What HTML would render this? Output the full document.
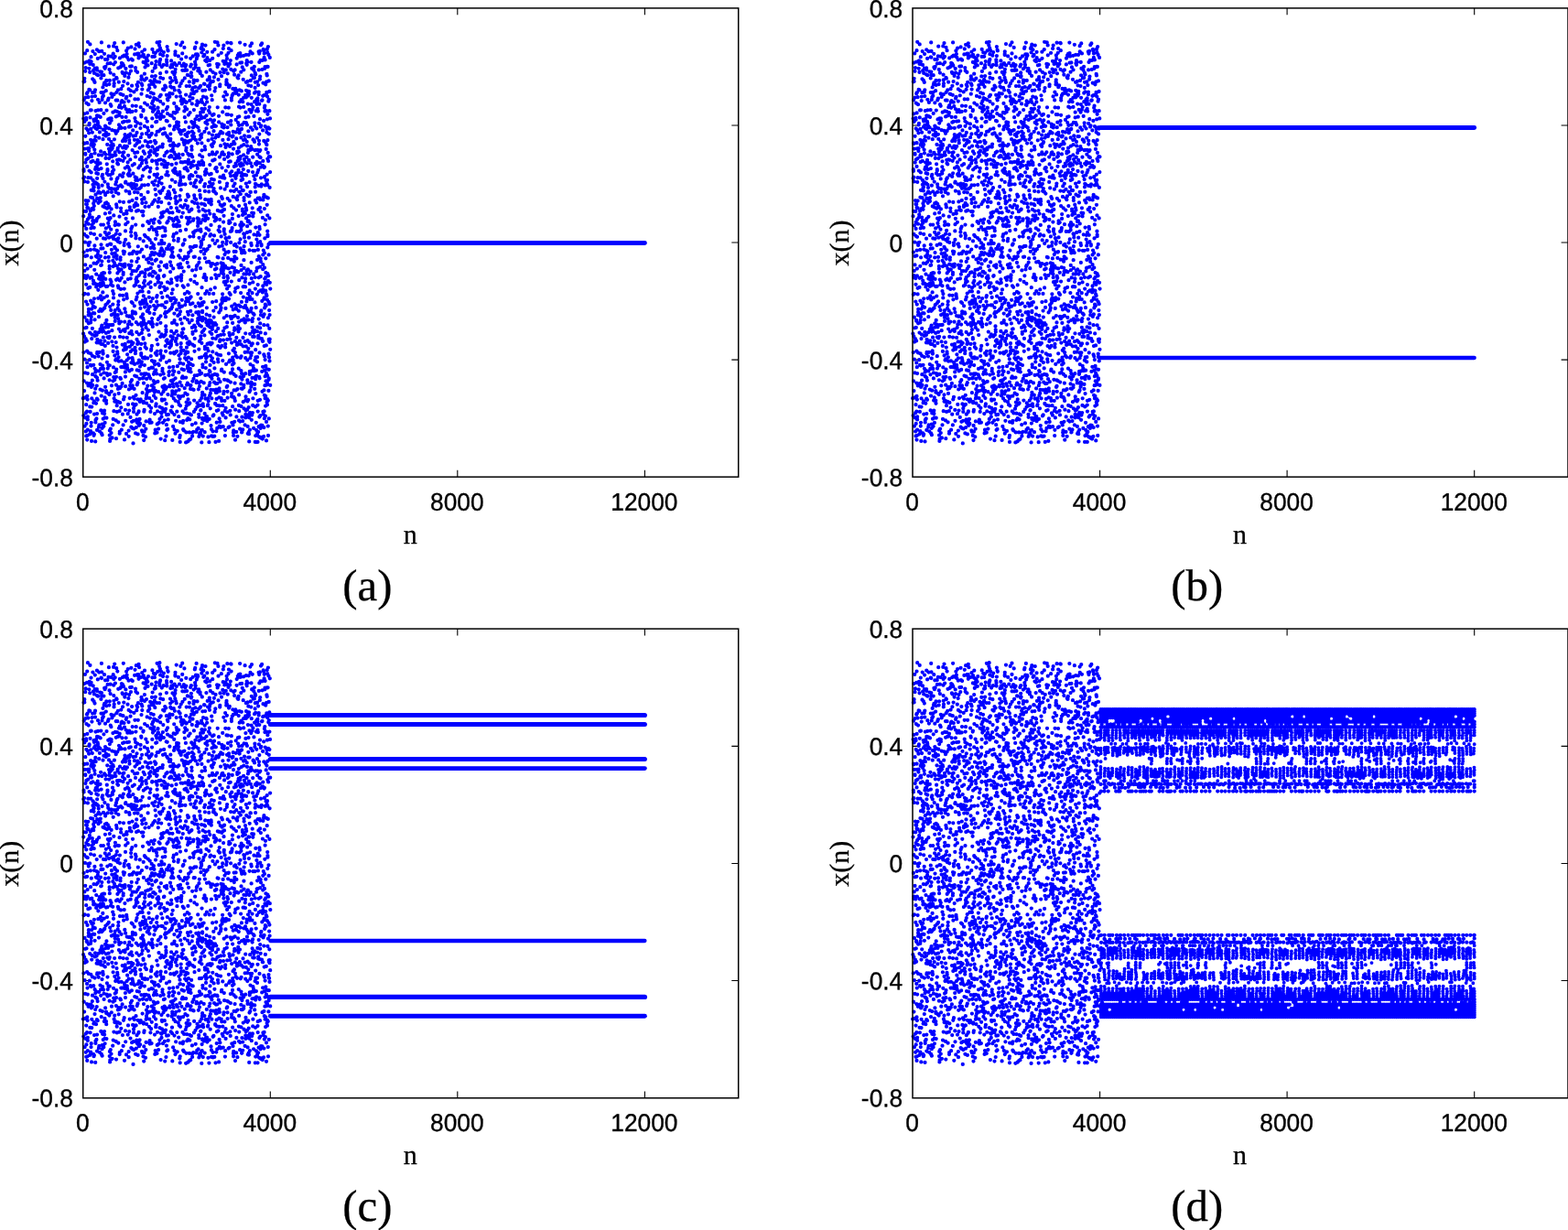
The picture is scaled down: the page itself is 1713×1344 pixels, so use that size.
<!DOCTYPE html>
<html lang="en">
<head>
<meta charset="utf-8">
<title>Chaos control time series</title>
<style>
html,body{margin:0;padding:0;background:#fff;}
body{width:1713px;height:1344px;overflow:hidden;}
svg{display:block;}
text{text-rendering:geometricPrecision;}
.d{fill:none;stroke:#0000ff;stroke-width:4.25;stroke-linecap:round;}
.l{fill:none;stroke:#0000ff;stroke-linecap:round;}
.ax{fill:none;stroke:#000;stroke-width:1.5;}
.tk{fill:none;stroke:#000;stroke-width:1.1;}
.t{font-family:"Liberation Sans",sans-serif;font-size:26.3px;fill:#000;stroke:#000;stroke-width:.35px;}
.s{font-family:"Liberation Serif",serif;font-size:30px;fill:#000;stroke:#000;stroke-width:.3px;}
.c{font-family:"Liberation Serif",serif;font-size:48.8px;fill:#000;stroke:#000;stroke-width:.3px;}
</style>
</head>
<body>
<svg width="1713" height="1344" viewBox="0 0 1713 1344">
<rect x="0" y="0" width="1713" height="1344" fill="#fff"/>
<path class="tk" d="M295.3 521.1v-7.4M295.3 8.9v7.4M499.8 521.1v-7.4M499.8 8.9v7.4M704.4 521.1v-7.4M704.4 8.9v7.4M90.7 137.0h7.4M806.7 137.0h-7.4M90.7 265.0h7.4M806.7 265.0h-7.4M90.7 393.1h7.4M806.7 393.1h-7.4"/>
<path class="d" d="M90.8 435.2h0m.3-70.6h0m.1-128.4h0m.1 217.9h0m0-259.3h0m0-65.3h0m.1 255.5h0m.1-63.2h0m0-232.5h0m0 95.9h0m.1 1.8h0m0 88.6h0m.1 140.7h0m0-307h0m0 47h0m.1 74.5h0m.2-106.3h0m0 69.1h0m0-36.7h0m0 210.4h0m.1-111.5h0m0 171.3h0m0-358.4h0m.1 232.5h0m0 2.3h0m0-105h0m.1-112.7h0m0 47.2h0m0-43.9h0m.1 206.9h0m.1-133.4h0m.1 158.3h0m0 144.8h0m0-119.1h0m0 46.1h0m.1-19.1h0m0-127.1h0m.2 18.1h0m0-206.2h0m.1 299.9h0m.1 76h0m0-26.8h0m.1-239.7h0m0 121.7h0m0-9.6h0m0 176.5h0m0-378.6h0m.1 90.9h0m0-19.9h0m.1-42.2h0m0 71h0m.1 256.7h0m.1-360.2h0m0 296h0m.1-151h0m.1 232.1h0m0 20.2h0m.2-141.8h0m0-98.7h0m.1-7.8h0m0-94.1h0m0 175.1h0m.1 138.1h0m0-184.4h0m0 218.6h0m0-165.6h0m.1-68.1h0m0 7.2h0m0-119.2h0m.1 43.8h0m0-34.1h0m0 322.6h0m.1-105.1h0m0-245.2h0m.3 238h0m0-.9h0m0 22.6h0m.1-149.2h0m0-155.6h0m0 34.6h0m.1 347.5h0m0-31.1h0m0-22.2h0m0-240.2h0m.1 227.5h0m0-104.3h0m.1 153.6h0m0-251h0m0-126.8h0m0 425.4h0m.1-253.6h0m0-103.5h0m0 32.7h0m.1 117.5h0m.1 58.9h0m0 143.2h0m0-74.6h0m.1-107.6h0m0-192.5h0m0 200.2h0m0 135.3h0m.1-177.8h0m0-96.4h0m.1 245.7h0m0-168.3h0m0 218.6h0m0 11.3h0m0-14.3h0m.1-313.2h0m0-96.4h0m0 153.2h0m.3 66.6h0m.1 55.9h0m0-6.7h0m0-141.7h0m0 21.1h0m0-88h0m0 113.2h0m.1 8.1h0m.1 193.9h0m.1-176.7h0m0 99.6h0m.1-230.1h0m0 271.3h0m.1-117.5h0m0 73h0m0 12.3h0m.1-15.5h0m.2-172.7h0m0-19.8h0m.1 92.6h0m.1-75.7h0m0-64.3h0m.1 38.6h0m0-61.7h0m.1 111.8h0m.1-51.6h0m.1-68.5h0m.2 167.9h0m0 158.8h0m.2 81.3h0m0-209.7h0m.1 98.8h0m0-265.3h0m0 215.7h0m0-235.1h0m.1 365.5h0m0-374.5h0m0 349.3h0m.1-115.4h0m0-255.4h0m.1 80h0m.1 321.5h0m.2-219.5h0m0-110h0m0 278.4h0m.1-125.9h0m.1 79.6h0m0-61.7h0m0-120.7h0m.1 301.7h0m0-143.2h0m0-113h0m0 255.6h0m0-216.3h0m0-102.1h0m.1-11.8h0m0 53.3h0m.1 192.1h0m.1-36.4h0m0-173h0m0-18.7h0m0 260.7h0m0-169.5h0m.1-187.3h0m0 403.4h0m.1-122.3h0m0-276h0m0 121.2h0m.1 273.3h0m0-115.5h0m0-226h0m0 48.7h0m0 38.8h0m0 191.8h0m.1 23.3h0m0-141.6h0m.1-110.1h0m.1 310.8h0m.2-111.9h0m0 74.5h0m0-106.9h0m0-181.5h0m.1 146.8h0m0 132.4h0m.1-104.3h0m0-221h0m.1 43.8h0m0 91.9h0m0-140.2h0m.1 260h0m0-137.7h0m.2-83.2h0m0 271h0m0-178.1h0m.1 151.3h0m0-30h0m.1 50.3h0m.1-308h0m.1 319.8h0m0-204.9h0m0-129.8h0m.1 154.9h0m.1-185.1h0m.1 99.3h0m0 20.6h0m0 25.8h0m.1-4.8h0m.1 137.7h0m0-263.7h0m.1 271.1h0m0-181.6h0m.1-83.4h0m0 166.6h0m0 62.9h0m0 23.8h0m.1 143h0m.1-251.1h0m0 87.6h0m.1 88.9h0m0-193.7h0m0 23.7h0m.1 211.4h0m.1-309.6h0m.1 345.2h0m0-188.1h0m0-46.3h0m0-33h0m.1-120.5h0m.1 160.9h0m0-44.4h0m0-65.7h0m.1 86.4h0m0-67.1h0m0 280.4h0m.1-239.1h0m0 275.3h0m0-342.1h0m0 193.8h0m0-70.4h0m0-175.9h0m.1 192.6h0m0 180h0m.1-233.2h0m.1 75.4h0m0 47.7h0m.1-178.9h0m0-10.8h0m.1 115.7h0m0-167.8h0m.1 328.8h0m0-339.5h0m0 277h0m.1-17.7h0m0 40.8h0m0 12.7h0m0-328.1h0m0 92.7h0m.1 142.2h0m.1 26.2h0m0-276.7h0m.2 39.2h0m0 264.6h0m0-257.8h0m0 31.7h0m.1 48.2h0m0 56.5h0m.1 183.2h0m0 57.8h0m0-283h0m.1 207.2h0m0 4.4h0m0-261.7h0m0 70.1h0m.1 241.9h0m.1-340.3h0m0 337.9h0m0-246.3h0m.1-59h0m.1 46.9h0m0-17.8h0m0 228.7h0m.1-6.9h0m0-124.5h0m.1-139.7h0m.1-10.7h0m0 311.1h0m0-263.1h0m.1 135.8h0m.1-25.6h0m0 11.8h0m.1-110.5h0m0 52.4h0m.1 215.9h0m.2-83.2h0m0-100.7h0m0 92.5h0m.1 55.5h0m0-160.9h0m.1-186.2h0m0 125.9h0m0-119h0m0 100.6h0m.1-40.9h0m0-86.8h0m0 226.5h0m0 154.9h0m.1-309.2h0m0 343.5h0m0-393.4h0m0 375.5h0m0-39.3h0m0-173.7h0m.1-44.2h0m0 191.4h0m0-169.7h0m.1 168.4h0m.1-14.2h0m.2-194.4h0m.1 239.3h0m.1-240.7h0m0-42.1h0m0 303.9h0m.1-372.8h0m0 246.9h0m0-24.6h0m0-106.6h0m0 98.1h0m.2-143.2h0m0-25.8h0m0-26.6h0m0 107.8h0m.1 84.6h0m0-154.3h0m0 254.2h0m.1-172.5h0m0 8.6h0m.1 115.2h0m0-9h0m.2-95h0m.1-36.6h0m.1 204.1h0m0-184.3h0m.1-35.6h0m0-42.5h0m0 10.8h0m0 71.8h0m.1 257.2h0m0-103.5h0m.1-17h0m.1-109.4h0m0 67.8h0m0 35.5h0m0 65.4h0m.1-349.3h0m0 94.5h0m.1 133h0m0 180.7h0m.2-246.1h0m0 166.6h0m.1-272.9h0m.1 189.7h0m.2-157.3h0m.1 327.1h0m.3-332.2h0m.1-61h0m.1 319.8h0m0-38.3h0m0-46.9h0m0 112.7h0m0-247.1h0m.1 78.6h0m.1 52.4h0m0-98.5h0m0 126.8h0m0-209.8h0m0 91.8h0m.1-3.6h0m.1 156.1h0m.1-92.2h0m0 122.8h0m0-79.4h0m.1-158.1h0m.1 124.5h0m0 15.4h0m0 104h0m.1-163.7h0m0 202.8h0m0-72.6h0m0-255.6h0m.1-34.7h0m0 186.1h0m.1-170.5h0m0 166.2h0m0-205h0m.1 121.8h0m.1 248.5h0m.1 40.9h0m0-183.8h0m.1 67.8h0m0-311h0m.1 293.3h0m0-277.1h0m0 264.8h0m0-248.9h0m.1 3.4h0m.1-26.1h0m0 243.1h0m.1 56.7h0m0-186.1h0m0 142.4h0m0-26.4h0m.2 178.1h0m0-271.1h0m0-83.6h0m0 282.6h0m.1-188.9h0m0 272.5h0m0-7.4h0m.1-157.3h0m0 52.1h0m.2 64.1h0m.1-320.7h0m0 84.8h0m0 114.4h0m0 94.4h0m0 51.8h0m.1-112.7h0m0-36.1h0m.1 73.6h0m.1-17.1h0m0-39.6h0m0 64h0m.1-112.1h0m0-176h0m.1 130h0m0-30.5h0m0-42.7h0m.1-10.5h0m0 160.7h0m0 83.5h0m0 .7h0m.1-77.6h0m0 148.7h0m.1-89h0m.1-70.5h0m0-193.5h0m0 140.9h0m.1-36.3h0m0 51.2h0m0 142.5h0m.1-302h0m0 260.8h0m.1-50.6h0m.1 154.6h0m0-318.4h0m.1-65.2h0m0 41.7h0m.2 289.5h0m0-6.1h0m0-315.1h0m.1 244.8h0m0-11.7h0m.1 112.3h0m.2-139.3h0m0-239.5h0m0 389.9h0m.1 3.4h0m0-378.7h0m0 93.5h0m0-76.4h0m.1 51.4h0m.1 194.5h0m.1-110h0m0 230h0m0-83.8h0m0-174h0m.1 235.9h0m.1-359.7h0m0 387.1h0m.2-83.9h0m0-124.2h0m.1-31.6h0m0 11.2h0m0 48h0m.1-169.1h0m0-47.4h0m0 146.4h0m0-73.6h0m0 215.8h0m.1-140.4h0m0 209.7h0m.1-162h0m0 15.3h0m.1 28.8h0m0-164.7h0m0 217.4h0m.1-24.4h0m0-260.2h0m.1 99.9h0m0-4.1h0m0-29.9h0m.3 9.7h0m0 100.8h0m0-150.2h0m.1 45.8h0m0 168.1h0m0 50.8h0m.1 63.2h0m0 10.6h0m.1-9h0m0-340.1h0m.1-.6h0m0 352.8h0m.2-347.9h0m0 128.5h0m0 128.6h0m0 106.7h0m.1-336.1h0m.1 136.2h0m0-117.4h0m.1 268.8h0m0-218.7h0m.1 165h0m0-175.2h0m.1 216.5h0m.1-168.1h0m0 95.9h0m.2-165.7h0m.1 110.1h0m.1 142.1h0m0-345.3h0m0 248h0m.1-127.6h0m0 183.1h0m0 20.9h0m0-202.7h0m.1 144.6h0m0-261.6h0m.1 333.1h0m.1-201.3h0m0 37.4h0m0-28.8h0m.1 13h0m.1-113.5h0m.1 265.5h0m0-17.5h0m0-130.6h0m.1-22.5h0m0 39.6h0m0-52.8h0m0-60.7h0m.1 299.4h0m.1-30.9h0m.1-337.4h0m.1 46.2h0m0 39.1h0m.1 134.2h0m0 82h0m0-77.7h0m.1 44.1h0m.1-278.7h0m.1 89.6h0m0 229.1h0m0-206.7h0m0-10.7h0m.1 107.7h0m0-19.5h0m0 7.5h0m0-74.6h0m.1 81.7h0m.1-29.1h0m.1 205.4h0m0-339h0m0 113.9h0m.1-37.2h0m0-92.8h0m.1 217.7h0m0-2.7h0m0 124.3h0m.1 60.3h0m0-309.8h0m.1 202h0m0 31.5h0m0-101.5h0m0-65.3h0m0-144.6h0m0 267.3h0m.1-220.6h0m0 335.9h0m.1-61.5h0m.1 73h0m.1-352.7h0m0 137.3h0m0 68.5h0m.1 144.8h0m.2-174.3h0m0-114.5h0m.1-121.9h0m0 169h0m0-158.6h0m.1 34.6h0m.1 354.4h0m.3-157.5h0m0-152h0m.1 179.8h0m0-72h0m0-16.2h0m0-44.6h0m.1-144.4h0m.1 93.1h0m0-39h0m0 79.6h0m.1 112.5h0m0-205.5h0m0 370.7h0m.1-341.4h0m0 96.7h0m0-98.9h0m.1 33.9h0m.1 191.8h0m0 72.6h0m0-83.7h0m.1-134.1h0m0-3.9h0m0 66.7h0m.1 148.5h0m0-251.7h0m.1 89.2h0m.1-87.6h0m.1 105.9h0m0 96.2h0m.1-267.3h0m0 255.2h0m0-219h0m.2 336.2h0m.1-316.3h0m.1 25.6h0m.2-5.4h0m0-23.1h0m0 30.4h0m.2 274.7h0m0-288h0m0 141.8h0m0-5.8h0m.1 42.6h0m0-22.3h0m0-47.8h0m.1-162.1h0m.1 293.6h0m0-258.5h0m0 220.1h0m.1-86.8h0m0 92.8h0m.1 74.1h0m0-399.3h0m0 155.6h0m.1-55.3h0m.1 10.9h0m0 173.3h0m.1 58.2h0m0-140.4h0m0-210.6h0m0 275h0m.1-4.3h0m.1 91h0m0-341.8h0m0 115.4h0m.1 49.7h0m0-153.7h0m0-18.1h0m0 194.2h0m.1 191.4h0m0-361.8h0m0 193.3h0m.1-186.7h0m0 9.2h0m.1 332.1h0m.1-344.1h0m.2 196h0m0-134.9h0m.1 54.3h0m.1 162h0m.1 62.7h0m0-87.5h0m0-200.9h0m0-95.8h0m0 222.7h0m.1 118.6h0m0-46.1h0m0 96.4h0m0-23.8h0m.3-68h0m0-100.8h0m.1 161h0m0-56.2h0m0-74.2h0m0 62.5h0m0-172.8h0m0-104.6h0m.1 228.1h0m.1-47.5h0m0-121h0m0-53.3h0m.1 203.4h0m.2 122.1h0m.1-192.1h0m.1-31.9h0m.1 268.2h0m0-227.9h0m.2 164.2h0m0-264.5h0m0 349.8h0m0-313.6h0m.1 109.8h0m0 6.4h0m0-134.6h0m0 278.8h0m.1 14.5h0m0-28.4h0m.1 19.5h0m0-213h0m0 107h0m0 173.4h0m.1-255.8h0m.1-138.4h0m0-33.2h0m0 351.8h0m.2-302.8h0m.1 278.8h0m0-153.7h0m0 56.9h0m.1-56.3h0m0-140.8h0m0 193.6h0m.1 163.9h0m0-247.4h0m.1 197.5h0m0-141.4h0m0 198.1h0m0-10.6h0m.1-317.6h0m0 168.8h0m.1-115.8h0m0 98.5h0m0-67.1h0m.2-27.8h0m0 206.1h0m.1-241.3h0m0-33.5h0m0-54.5h0m.1 249.4h0m0-6.1h0m0 88h0m.1-192.1h0m0-30.8h0m.2-1.6h0m0 182.2h0m0-80.4h0m0 73.1h0m.1-91.5h0m.1-147h0m0 340.4h0m0-13.8h0m0-112.5h0m0-186h0m.1 52.9h0m.1 114.2h0m.1 39.5h0m0 15.1h0m0-87.7h0m0-186.2h0m.1 387h0m.1-249.6h0m0 117.7h0m0-14.9h0m.2-110.8h0m0 186.6h0m0 32.5h0m.1 7.1h0m.1-340.2h0m.1 305h0m0-35.1h0m0-113.9h0m.1 50.5h0m0-121.8h0m0-57.2h0m0 19.2h0m.1 214.9h0m.1-211h0m.1-14.5h0m0 227.7h0m.1-14h0m0-173.2h0m.1 70.4h0m.1 212.5h0m.1-326h0m0 350.5h0m.1-253.4h0m0 86.1h0m0 165.3h0m.1-356.6h0m0 141h0m0-192.7h0m.1 304.6h0m0-79.4h0m0 34h0m0-57.7h0m0-105.8h0m.1 265h0m0-232.8h0m0 248.6h0m.1-27.1h0m0-274.5h0m.1 36.5h0m.1-72.2h0m.1-29.2h0m0 210.6h0m.1-2.7h0m0 81h0m.3 51.7h0m.1-98h0m0 35.6h0m0-149.1h0m.1-99.6h0m0 124.7h0m0 3.5h0m.2-158.8h0m0 328.8h0m0 44.2h0m0-348.1h0m.2 14.5h0m0 310.6h0m0-127.9h0m.1 48h0m0 52h0m.1-254.6h0m0 164h0m.1-186h0m0 351.9h0m.1-400.9h0m.3 41.4h0m.1 179.6h0m.1-161.9h0m.1 76.2h0m.1-125.1h0m0 340h0m.1-42.4h0m.2-222.4h0m0 247h0m0-208.3h0m0 259.8h0m.1-319h0m0-53.8h0m0 90.5h0m0 119.1h0m0-227.8h0m.1 8.1h0m0 24h0m.1 67.6h0m0 161.4h0m.1-155.9h0m.1 8.9h0m.1-72h0m.1 196.1h0m0 164.6h0m0-103.9h0m.1 8h0m0-93.9h0m0 23.2h0m.1-108.6h0m0-142.9h0m.1 106.4h0m.1 283.6h0m0-53.8h0m0-310.9h0m0 149.2h0m.1 106.4h0m.1-93.3h0m.1 43.4h0m0-111.1h0m0-77.2h0m.1 43.9h0m.1-72.4h0m0 51.1h0m.1 156.4h0m.1 127.7h0m0-104.2h0m0 24h0m0 118.2h0m0-168.5h0m.3 9.9h0m0-159.1h0m0 364.3h0m.1-329.6h0m0 8.9h0m.1 192h0m0-179.1h0m.1-89.6h0m0 314.9h0m0-246.2h0m0 185.8h0m.1-29h0m0 71.2h0m0-88.7h0m.1-2.3h0m0 73.2h0m0-214.7h0m0-7.2h0m.1 261.7h0m0-41.8h0m.1 16.1h0m0-192.4h0m.1-122.4h0m.1 345.3h0m.1 5.1h0m0-159.1h0m0-52.8h0m0 248.2h0m.1-185.9h0m0 160.2h0m0-268.3h0m0 187.3h0m.1 118.6h0m0-214.6h0m.1-46.6h0m.1-123.6h0m.1 86.9h0m.1 46.8h0m0-80.8h0m0-8.8h0m0 119.7h0m.1 142.8h0m0-302.1h0m0 28h0m.3 366.5h0m.1-241.1h0m0-177.5h0m.1 266.1h0m.1-90.8h0m0-124.8h0m.1 44.2h0m0 229.5h0m0-56.1h0m.1-90.2h0m.1 160.3h0m0-334.5h0m.1 286h0m.1 23.9h0m0-43.2h0m0 73.1h0m.1-238.9h0m0-27.4h0m.2 254.7h0m0 14.5h0m0-339h0m.1 119.2h0m.1-59.7h0m0 280.8h0m.1-45.2h0m.1-266.6h0m.1 86.1h0m0 65.4h0m.1-190.1h0m0 399.5h0m.1-147.1h0m0-114.5h0m.1 76.2h0m.1 175.2h0m0-87.6h0m.1-184.6h0m.1 31.6h0m.1 172.1h0m.1-288.8h0m.1-19.4h0m0 126.5h0m0-8.7h0m0-72.5h0m.1 360h0m0-322.9h0m0-50.2h0m.1 379.3h0m0-210.3h0m0 124.8h0m0-101.6h0m.1-100.2h0m.1-57.2h0m0 293.1h0m0-79.6h0m.1-207.1h0m.1 81.8h0m.1 228.1h0m0-367.9h0m0 39.5h0m0 89.4h0m0-60.5h0m.1 4h0m0 198.2h0m0 12.9h0m.1 41.3h0m0-135.9h0m.1-58.1h0m0 66h0m0 67.9h0m0-189.2h0m.1 29.8h0m.1-47.9h0m0 297h0m.1-208.8h0m0 152.5h0m.1-85.7h0m.1-63.8h0m.1 191.9h0m0-348.6h0m.1 119.2h0m.1-17.4h0m.1-52.1h0m0 24.1h0m.1 309.6h0m0-351.7h0m.2 279.9h0m0-285.1h0m0 205.2h0m.1 113h0m0-279.4h0m.2-60.3h0m.1 176.1h0m.2-50.3h0m0 263.3h0m0-415.3h0m.1 344.9h0m0-195.7h0m0 49.3h0m0 123.5h0m0-83.2h0m0-32.4h0m.1 104.1h0m0-132h0m.1-165.3h0m0 359.3h0m0-124.2h0m.1-14.2h0m0 44.6h0m.1-257.6h0m0 282.1h0m.1 49.3h0m.1 11.3h0m.1-321.5h0m0 282.8h0m0 84.3h0m.1-114.1h0m.1-99h0m.1 29.5h0m0-155.2h0m.1 269.1h0m0-25.6h0m0 16.8h0m0-105.9h0m0-57.4h0m.1 77.2h0m0-90.4h0m0-41.7h0m0 303.7h0m.1-46.4h0m0-305.7h0m0 215.4h0m0-150.5h0m.1-114.9h0m0 274.8h0m0 2.3h0m.1 50.2h0m.1-154.6h0m.1 203h0m.1-298.9h0m.1 252.5h0m0-46.9h0m.1 26.7h0m0-185.1h0m.1 294.8h0m.1-335.8h0m0 285.2h0m.2-37h0m0 62.9h0m.2-13.6h0m0-171.6h0m0 175.4h0m.1-153.9h0m0 172.4h0m.2-267.4h0m.1-100.6h0m.2 324.5h0m0-112.5h0m0-86.6h0m.1-1.4h0m0 211.2h0m.1-101.4h0m0 109.1h0m0-264.2h0m.1 30.9h0m0-57.3h0m.2-93.3h0m0 338.4h0m.1 12.7h0m0-208h0m0-35.6h0m.1 38.7h0m.1-76.5h0m0-20.8h0m.1 271.4h0m0-220.6h0m0-105.8h0m.1 140h0m.1 148.1h0m.2-86.4h0m0 131.1h0m.1-214.7h0m0-97.4h0m.1 309.3h0m0-250.8h0m0 210h0m0 130.8h0m.1-162.2h0m0-173.4h0m0 10.3h0m0 97.5h0m.1-48.7h0m0 27.6h0m.1-2.5h0m0-144.7h0m0 183h0m0-139.2h0m.1 310.7h0m.1-126.5h0m0 136.7h0m0-184.6h0m.1-141.6h0m0 211.6h0m.1-278.6h0m0 418.3h0m0-171h0m0 12.4h0m0 43.7h0m.1-47h0m0-98.9h0m.1 24.4h0m.1-28.5h0m.1 14.7h0m.1-22.6h0m0 217.1h0m0 46.9h0m0-360.5h0m0 265.2h0m.1-59.9h0m0-17.2h0m0-9h0m.1 175.8h0m0-360.1h0m0 232.1h0m0 46.2h0m0-226h0m0 11.9h0m.1 304.4h0m.1-40.7h0m0-16h0m.1-128.8h0m.3-196.8h0m0-20.2h0m.1 317.2h0m0-209.4h0m0-72.3h0m0 130h0m.1-71h0m0 43.7h0m0-62.6h0m.1 328.1h0m0-154.8h0m0 13h0m.1-110.3h0m0 83.3h0m0 103.1h0m0 21.5h0m.1 18.2h0m0 38.1h0m.2-366.1h0m0 265.3h0m0-104.4h0m.1-209.4h0m0 294.5h0m0-264.6h0m0 192.6h0m.1-52.6h0m.3 220.6h0m.1-267h0m0-124.8h0m.1-11.3h0m0 16.1h0m.1 386.1h0m0 10.5h0m.3-54.9h0m0-113.9h0m0 9.6h0m0 92.8h0m0-28.2h0m.1 99.4h0m.1-258.6h0m0-155.4h0m.2 104.2h0m0 157.8h0m.1 101.2h0m.2 43.9h0m0-296.3h0m.2 12.6h0m0 101.2h0m0-14.5h0m.1 178.1h0m.1-38.4h0m0-70.1h0m0-149.3h0m.1 281.7h0m.1-144.5h0m0 62.8h0m.2-44.3h0m0-196.8h0m.1 192.4h0m.1-197h0m.1 301h0m0-319.3h0m.1 33h0m0 45.9h0m0 101.8h0m.1-93.1h0m.2 141.7h0m.1-220.5h0m0 87h0m0 173.2h0m0 1.9h0m0-12.2h0m.1-22.9h0m0 43.1h0m0-309.3h0m.1 40.6h0m0-65.9h0m0 347.2h0m.1-306h0m0 295.8h0m0-315h0m.1 7.8h0m.1 139.8h0m0-59.3h0m.1 192.1h0m0 31.6h0m0-39.4h0m.1-177.6h0m.1 291.8h0m0-197.7h0m.1-54.5h0m0-71.7h0m0 200.2h0m.1-290h0m0 145.9h0m.1 19.4h0m0-124.3h0m0-4.5h0m.1 204.3h0m.1 174.3h0m.1-42.5h0m0-69h0m0-45.8h0m0-138.9h0m0 143h0m0-232.1h0m.1 106h0m.1 198.4h0m0-231.2h0m0 168.8h0m.1 85h0m.1-167h0m.1 101.2h0m0-4.1h0m.2-108.1h0m.1 177.6h0m0-181.9h0m0-109.9h0m0 210.5h0m.1 144.3h0m0-106.8h0m.1-249h0m0 250.2h0m0-302.5h0m.1 195.6h0m0-98.1h0m.1 184h0m0-289.6h0m0 380.4h0m0-116.7h0m0-138.2h0m.1 95.1h0m0 110.9h0m0 47.6h0m.1-129.8h0m0 109.6h0m0-67.3h0m.2 129.7h0m.1-31.4h0m0 15.2h0m.1-248.8h0m.1 138h0m.1 93.8h0m0-230.7h0m0 254.5h0m.1-63.2h0m.2-270.5h0m0 118.8h0m0-176.1h0m0-18.3h0m0 336.7h0m0 10.6h0m.1-207.4h0m0-34.5h0m0-113.5h0m0 33.3h0m0 219.3h0m.1-194.3h0m0 223h0m.1-33.3h0m0 10h0m.1 78.2h0m0-15.2h0m.1-76.4h0m.1-72.9h0m0-152.6h0m0 318.2h0m.1-12.4h0m.1-225h0m.3 323.1h0m0-293.9h0m0 143.5h0m0 2.7h0m0-71.3h0m.1-189h0m.1 225.7h0m.1 173.7h0m0-339.4h0m.1 92.2h0m.1 132.6h0m0-179.6h0m0 183.4h0m.1 102.6h0m0-25.1h0m.1-27h0m.1-342.2h0m.1 314.6h0m0-203.1h0m0-31.7h0m.1-60.3h0m0 345.8h0m0-6.3h0m.1-156.1h0m0 171.5h0m0-26.6h0m.1 20h0m0-150.6h0m0 150.2h0m.1-369.8h0m.1 268.7h0m0-63.2h0m.3-164.3h0m0 234.9h0m.1-157.7h0m0 246.7h0m0-296.2h0m.1 26.8h0m.1-44.9h0m.1 25h0m.1 251.8h0m.1-149.2h0m0-175.7h0m0 355.2h0m.2-350.2h0m.1 138.5h0m.1 50.1h0m.1-104.5h0m0-57.1h0m.1 195.8h0m0 66.4h0m0-158.8h0m.1-141.3h0m.1 277.6h0m0-195.3h0m0 167.4h0m.2-149.9h0m0 11.1h0m.1 164.3h0m0 73.5h0m0-261.4h0m.1 139h0m0 32.3h0m.2 32.8h0m0-126.3h0m0 56.6h0m0 120.6h0m.1-158.9h0m.1 56.6h0m0 65.5h0m0-41.3h0m.1 118.6h0m0-276.7h0m0-73.6h0m0 157.7h0m0-57.2h0m.1-43.9h0m.1 261.6h0m.1-315h0m0 364.8h0m0-26h0m.1-7.9h0m0-85.3h0m.2 116.7h0m.1-196.4h0m0 199.8h0m.1-162.7h0m0 35.9h0m.1-165.7h0m0 18.1h0m0-81.5h0m.3-17.6h0m.1 28.8h0m0 296.3h0m.1-248.2h0m0 142.9h0m0-124.4h0m0 266h0m.2-294.9h0m0 124h0m.1 34.9h0m0-149.3h0m0 106.3h0m.1 58.7h0m0-36.7h0m0 96.2h0m0-241.5h0m.2-46.1h0m.1 252.4h0m0 28.9h0m0 63h0m.1-64.4h0m0-140.7h0m.2 161h0m0-118.4h0m.2 178.4h0m.1-213.6h0m0 17.4h0m0-196.3h0m0 352.1h0m0-329.6h0m.1 346.7h0m0-292.6h0m.1 205.9h0m0 26.3h0m0 16.1h0m.1-255.9h0m0-54.8h0m0 139.7h0m0 52.7h0m.1-162.9h0m0 63.2h0m0 172h0m.1-172.6h0m.1-46.1h0m0 140.8h0m0 18.3h0m.1 137.9h0m0-364.5h0m0 137.4h0m0-145.4h0m.1 106.6h0m.1-82.5h0m0 223.7h0m0-183.2h0m.2 238.4h0m0-30.8h0m.1 28h0m0 47.9h0m.1-280h0m.1-11.5h0m.1 186.4h0m.1-176.6h0m.1 100.4h0m.1 204.1h0m.1-29.2h0m.1-306.5h0m0 161.9h0m0-148.6h0m0 313.7h0m.1-323.9h0m0 151.5h0m.1-186.4h0m0 210.4h0m0 141.1h0m.1 14.6h0m0-126.6h0m.1 37.1h0m0 98.5h0m0-37.4h0m.1-287.9h0m0 9h0m.1 162h0m0-76.2h0m0-35.1h0m.1 104.7h0m0 71.4h0m.1 76.1h0m.1-228h0m.1 215.5h0m.1-166.8h0m0-165.4h0m0 45.5h0m0-32.8h0m.1 308h0m0-333.2h0m.1 101.7h0m0 265h0m0-274.6h0m0 298.2h0m0-233.4h0m.1 179.6h0m.2-60.2h0m0-243.3h0m0 378.7h0m0-197.2h0m.1-111h0m.1 145.8h0m.1-26.3h0m0-87.2h0m0 9.3h0m.1 262.8h0m0-171.4h0m0-240.4h0m0 192.7h0m.1-167.5h0m0 302.9h0m0-229.4h0m0-85.4h0m.1 355.8h0m0-353.3h0m.1 344.1h0m0-156.7h0m.1 174h0m0-326.9h0m.1 335.5h0m0-310.4h0m0 42.5h0m.1 228.6h0m0-248.8h0m0 57.2h0m.1-87.3h0m0 22h0m.1 188.7h0m0-269.1h0m.1 374.3h0m.3-157.8h0m.1-30.2h0m.1-83.8h0m.1 160h0m0-196.7h0m0 191.7h0m0 63.4h0m0 20.4h0m.1-280.4h0m0 65.7h0m0 177.4h0m.1-192.5h0m0 175.8h0m.1 118.3h0m0-383.2h0m0 213.9h0m0-46.8h0m.1-87.8h0m0-122.4h0m0 133h0m0 143.7h0m0-138.9h0m0 199.6h0m.1-240h0m0 319.7h0m.2 0h0m.1-14.1h0m0-258.9h0m.1-67.1h0m0 40h0m0-54.3h0m.1 52.5h0m.1 214.7h0m0-320.9h0m.1 361.5h0m0-214.2h0m.1 74.9h0m0-159.7h0m0-.3h0m.1 216.1h0m0-113h0m0 87.8h0m0-59.4h0m0 55.6h0m.1 44.4h0m.1 48.6h0m0-171.8h0m.1-103.9h0m0 179.5h0m.2 126.7h0m0 40.4h0m.1-160.3h0m.1-133.5h0m.1 129.1h0m.1 44.1h0m0 14.6h0m.1-219.2h0m0 73.7h0m0 73.9h0m0-49.1h0m.1 157.2h0m0-132.6h0m.1-67.6h0m0 263.1h0m.1-334.3h0m.1-78.1h0m.1 159.7h0m0-119.6h0m.2 189.3h0m0-210.2h0m.1-23h0m0 24.7h0m.1 387.4h0m0-13.3h0m0-249.3h0m0-89.9h0m0 143.8h0m0 64.8h0m.1-70.7h0m.1-177h0m.1 210.8h0m0-116.6h0m.1-108.2h0m0 260.6h0m0-17.6h0m.2-215.1h0m0-21h0m0 70.7h0m0-64.9h0m.1 209.3h0m0-163.4h0m0 298.7h0m0-41.5h0m.1-157.1h0m0-126.1h0m0 308.5h0m0-6.8h0m.1-33.8h0m.1-7.5h0m0-204h0m0 33h0m.1 63.4h0m0 241.9h0m.1-96.3h0m0-279.5h0m.1 346.9h0m0-325.8h0m.1-69.8h0m0 231.4h0m.1-160.9h0m.2 194.4h0m0-10.5h0m0-88.5h0m.1 112.5h0m0-100.8h0m0 33.7h0m.1 5.1h0m0-8.6h0m0 167.8h0m.1 20.7h0m0 4.1h0m0-261.5h0m.1-66h0m0 135.1h0m0 102.3h0m0-164.8h0m.1-21.3h0m.1-106.2h0m0 363.3h0m.1-46.5h0m.1-154.4h0m0 210.4h0m.1-8.2h0m.2-229.8h0m0 65.2h0m.1 132.4h0m0-80.6h0m.1 97.6h0m0-261.9h0m0 242.3h0m.1-166.3h0m.1 96.9h0m0-75.4h0m.1-100.5h0m.1 90.8h0m0-126.8h0m0 157.9h0m.1-133.1h0m0-85.7h0m0 401.1h0m.1-376h0m0 11.6h0m.2 16.2h0m0 277.2h0m.1 57.3h0m.1-20.2h0m0-38.4h0m0 34.5h0m.1-15.5h0m0-176.8h0m.1-160.9h0m0 134.4h0m.1-29.8h0m.1 102.7h0m0-46.2h0m0 69.9h0m0 112h0m0-286.2h0m0 240.1h0m0-310.6h0m.2 256.5h0m0-173.2h0m.3 134.9h0m0 25.9h0m0-35.3h0m0-167.7h0m.1 84.2h0m.1-12.2h0m.1 251.1h0m.1-130.9h0m0 169.1h0m0-22.8h0m.1-23.6h0m.1-232.2h0m.1 161.8h0m.1-93.4h0m0 200.5h0m0 31.4h0m0-387.5h0m0 83.2h0m0 140.3h0m.1-59.6h0m0-112.2h0m0 190.7h0m.2-83.9h0m.1 113.8h0m.1 12.1h0m.2 47.1h0m0-84.3h0m.1-10.6h0m0 116.7h0m0-100.8h0m.1 37.6h0m.1-201.6h0m0 174.3h0m.1-165.4h0m0-95.9h0m0 120.7h0m.1 125.7h0m0 18.7h0m0-193.4h0m0 309.8h0m.1-114.1h0m.1 9.8h0m0 68.8h0m.1-309.3h0m.1-12.5h0m.1 152.4h0m0 124h0m0-317.1h0m0 25.1h0m0 360.4h0m.1-41h0m0-357.7h0m.1 226.8h0m0-61.9h0m0 222.9h0m0-163.8h0m.1-106.8h0m0 158.5h0m0-273.4h0m0 262.3h0m.1 139.7h0m0-398.6h0m0 77.2h0m.1 95h0m.1 72h0m0-99h0m.1 155.1h0m0-320.4h0m0 10h0m.1 71.3h0m0 55.4h0m.1-22.1h0m0 158h0m0-94.3h0m.1-16.8h0m0-104.5h0m.1 200.2h0m0-184.1h0m0 250.6h0m.1-257.9h0m.1 352.1h0m.1-319.1h0m0-95.3h0m.1 54.9h0m0 321.6h0m0-252.2h0m.2-123.5h0m0 186.2h0m0 30.4h0m.1-92.9h0m0 279.4h0m0-266.9h0m.1 77.8h0m.1 183.5h0m.1-243.4h0m.4 165.7h0m.1-271h0m0 270.7h0m0 35.2h0m0-3.5h0m.1-67h0m.1-117.2h0m0 46.1h0m.1-52.6h0m0-5.1h0m0-57.1h0m.1 113.6h0m0-29.1h0m0 167.9h0m.1-4.7h0m.1-7.3h0m.1-181.2h0m0 19.4h0m0-60.7h0m.1 208.2h0m0-274h0m.1-3.8h0m0 35.3h0m.1 283.6h0m.2 1.4h0m.1-296.3h0m0 199.9h0m0-16.3h0m.1-105.7h0m.1-118.8h0m0 201.2h0m0 51.6h0m.1-179.1h0m0-5.2h0m0-63.4h0m0 206.9h0m.1-202.7h0m.1 291.3h0m0-312.1h0m0 143.2h0m0-65h0m0-5.5h0m.1 24.4h0m.2 196.7h0m0-38.9h0m.1 120.4h0m0-176.1h0m.1 105h0m0-207.7h0m0 246h0m0-189.2h0m.2 63.3h0m0-125.3h0m0 172.6h0m0 35.5h0m0-92.4h0m0 95.4h0m.1-70.7h0m0-238.8h0m0 295.4h0m.3-291h0m0 100.3h0m0-75.6h0m.1 213.4h0m.1 123.3h0m.1-305.6h0m0 112.4h0m0 81.6h0m0-140.7h0m.1 91.4h0m.1 64.3h0m0-139.1h0m0 82.2h0m.1 171.8h0m0-6.3h0m0-91.3h0m.1-264.7h0m0 327.3h0m.1 11.7h0m0-354.1h0m.1 202.1h0m0 154.1h0m0 51.6h0m0-154.8h0m.1-93.8h0m.1-153.4h0m0 291.2h0m0-267.7h0m.1 168.4h0m0 61.8h0m.1-16.3h0m.1 52.1h0m0-205.6h0m0 256.3h0m.1-9.7h0m.2-223h0m0 279.5h0m0-60.9h0m.1-146.5h0m0-98.9h0m0 133.7h0m0 107.6h0m.1-244.5h0m.1 124.3h0m0-39.2h0m.1 4.3h0m.1 169.2h0m0-345h0m0 52.9h0m.1 299.5h0m.1-326.7h0m0 111.8h0m0 227.9h0m0-179.3h0m.1-9.3h0m0 15.7h0m.1-121.1h0m0 46.6h0m0 197.1h0m.1-218.9h0m0 159.4h0m.1-212.8h0m0 251.6h0m0-235.1h0m.1 257.1h0m0 19.5h0m.1-63.4h0m0-261.2h0m.1 268.8h0m0 2.2h0m0 117h0m0-16.3h0m.2-314.6h0m0 35h0m0-104.4h0m.1 89.7h0m0-60.4h0m.3 111.9h0m0 220.2h0m.1-99.8h0m0-162h0m0 15.4h0m.1-99.2h0m0 300.7h0m0-306.5h0m0 110h0m.1-65.5h0m0-63.5h0m0 156.3h0m0-157.4h0m.1 414.7h0m0-274.7h0m0-142.6h0m.1 356.9h0m0 24.5h0m0-362h0m.2 162.9h0m0 134.2h0m.1-133.8h0m.1-24.3h0m0-27.1h0m.1-100.1h0m0 372.2h0m.1-131.9h0m0 99.5h0m.1-123.8h0m0-83.7h0m0 2.4h0m.2-43.6h0m.2-130.6h0m0 68.6h0m0-26.7h0m0 15.6h0m.1 66.9h0m0 189.4h0m0 8h0m0-298.4h0m.1 348h0m0-164.9h0m.1-27.3h0m0 18.1h0m0 138.6h0m0-247.7h0m.1 202.2h0m0-91.1h0m0-113.9h0m.1 104.1h0m.1 212.1h0m0-315.2h0m0 241.9h0m0-21.7h0m0-235.3h0m.1 2.8h0m0 189.6h0m.1-5.8h0m.2-85.4h0m0 250.3h0m.1-70.7h0m.1-229.8h0m.1 251.4h0m.1-262.5h0m0 31.5h0m0 39.7h0m.2 114.5h0m0-204.5h0m.1 100.2h0m.1 22.7h0m0 103.1h0m.1-77.1h0m.1 13.3h0m0 136.5h0m.1-6.3h0m.1-171.9h0m0-199.6h0m.1 72.5h0m.1 3.7h0m.1-18.5h0m0 53.4h0m0 282.7h0m0-175.7h0m.1-180.5h0m0 307.9h0m.1-18.6h0m0-230.4h0m0 84.6h0m0-73.8h0m0 162.9h0m.2 94.4h0m0-195.1h0m0 61.6h0m0 40.9h0m.1 108.8h0m.2-300.2h0m.1-73h0m.1 133.2h0m.1 141.2h0m0-96.4h0m0-46.9h0m.1 278h0m0-383.9h0m0 50.1h0m0 28.3h0m0 15.5h0m0 26h0m.1 221.4h0m0-38.7h0m0-60.9h0m.1 56.4h0m.1-110.7h0m0-90.7h0m0-89.9h0m0 316.7h0m.1 65.2h0m0-7h0m.1-14.8h0m.1-242.6h0m.1 70h0m0 108.2h0m0-56.3h0m0-88.2h0m0 191.1h0m.1-338h0m0 92.1h0m0 76.3h0m.1 75.3h0m.1-123.9h0m.1 208.2h0m0-383.8h0m0 144.6h0m.2 192h0m0-208.9h0m.1 30.2h0m0 172h0m0-269.1h0m0 36.2h0m0 228.7h0m0-284h0m.1 292.1h0m.1-181.6h0m.1 104.9h0m0 76.6h0m.1-16.1h0m0-63.3h0m0-239.2h0m.1 235.8h0m.1-63.3h0m0 63.9h0m.1-192.8h0m0 313.2h0m.2-129.1h0m0 61.2h0m0 49.8h0m.1-39.5h0m0-250.4h0m.1-41.4h0m0 341h0m0-260.8h0m0 49.2h0m0 126.4h0m.1 6.9h0m.3-288.4h0m0 12.1h0m.1 18.4h0m.1 11.5h0m.1 54.7h0m0 221h0m0 47.5h0m0 37.9h0m0-337.4h0m.1 256.7h0m0-191.3h0m.1 284.5h0m0-194.2h0m0 44.6h0m0 47.4h0m0-190.8h0m.1 57.8h0m0 5.9h0m.3 227.4h0m0-27.3h0m0 36.5h0m.1-71.5h0m0-114h0m.1-90.4h0m.1 166.2h0m0-93h0m.1-157.9h0m.1 304.2h0m0-29.9h0m.1-86.3h0m0-141.2h0m.1 158.4h0m0-244.1h0m.1 400.8h0m0-66.3h0m.2 47.3h0m.2-330h0m0 36.5h0m.1-15.9h0m0-90.1h0m.1 132.1h0m.2 163.1h0m0 77h0m.1-296h0m0 192.9h0m0-235.7h0m0-8.4h0m0 185.2h0m.1-38.3h0m0 56.8h0m.1-127.1h0m.1 237.6h0m0-280.5h0m.1 66.3h0m0-60.1h0m.1 216.2h0m.1 53.9h0m0-185.5h0m0-54.3h0m0 282.4h0m0-356.8h0m.2 45.3h0m0 249.9h0m.1 78.7h0m.2-313.3h0m.2 85.6h0m0 264.4h0m0-379.8h0m0 225.8h0m0-78.5h0m.1-86.6h0m0-8.6h0m0 256.9h0m.1-341.5h0m0-8.7h0m0 120.8h0m0-18.4h0m.1-52.7h0m0 360.3h0m.1-310.7h0m.1-7.4h0m0 238.6h0m0 46.7h0m.1 4h0m0-349.5h0m.1 290.3h0m0-272.6h0m.1 267.9h0m0-141.9h0m0 132.1h0m0-87.7h0m0 43.6h0m.2 94.8h0m0-343.9h0m0 375h0m.1-266.5h0m0 273.7h0m0-339.6h0m.1 29.6h0m.2 78.9h0m.2 147.1h0m0-56.1h0m0-31.8h0m0 144.1h0m.1-285.6h0m0-63.6h0m0 318h0m0 18.8h0m.1-77.9h0m0-128.2h0m0 189.9h0m0-53.2h0m.1-104.7h0m0-19.1h0m.1-38.9h0m.1 198.4h0m.1-208.5h0m0-8.4h0m.1 289.1h0m0-242.3h0m0 96.5h0m0 170.9h0m.1-80.8h0m0-319.3h0m0 198h0m0-124.5h0m0 280.6h0m.1-257.3h0m.1 63h0m.1 87.2h0m0 14.6h0m.1-169.1h0m0 216h0m0 12h0m0-277.1h0m0 112.9h0m.1 167.1h0m0-191.1h0m0-60h0m.1 303.3h0m0-181.6h0m0 119.9h0m0-104.7h0m0-146.7h0m.2 231.6h0m.2-56.2h0m0 121.5h0m0-66.4h0m.1-205.5h0m0 61.5h0m0-92.1h0m.1 55.1h0m0 179.1h0m.1-283.8h0m.1 351h0m0 32h0m0-119.9h0m0 128.1h0m.1-288.4h0m0 182.2h0m0-280.4h0m.2 358.3h0m0-256.9h0m.1 262.8h0m0-348.5h0m0-4.3h0m0 334.9h0m.1-181.8h0m0 67.3h0m0 94.9h0m0-182.9h0m.2 4.5h0m0-119.3h0m.1 251.7h0m.1-104.9h0m0 133h0m.1-249.3h0m.1 271.3h0m0-92.4h0m.1-259.9h0m0 252.2h0m.1 15.1h0m0 139.9h0m0-416h0m.1 334.1h0m0-92.1h0m.1-105.5h0m0-17.5h0m.1 91.1h0m0 147.2h0m0-14.6h0m.1-82.1h0m.1-95h0m0-38.2h0m.2 262.3h0m0-374.1h0m0 89.6h0m0-98.3h0m0 13.5h0m0 93.6h0m.1-75.5h0m.1 290.2h0m.1-259.4h0m.1 47.6h0m0-97.5h0m.1 77h0m0 68.5h0m.1-65h0m.2 186.3h0m.1-236.5h0m0 244.4h0m.1-214.2h0m0 320.4h0m0-366h0m.1 50.2h0m0 72h0m.1 256.3h0m0-181.2h0m0 177.6h0m.1-301.5h0m.1 245.1h0m.1-72.1h0m0-152.4h0m0 233.3h0m.1-48.7h0m0-269.4h0m0 257.5h0m0-33.5h0m0 31.5h0m.1-211.4h0m0-16.4h0m0-38.8h0m.1 302.9h0m0-337.7h0m.2 208.7h0m.1-130.9h0m.1 114.7h0m0-72.8h0m0 59.7h0m.1 231h0m.1-213.4h0m.1-19.1h0m0-63h0m.1 237.5h0m0-268.2h0m0-55h0m.1-15.4h0m0 350.7h0m0-338.2h0m0 167.3h0m.1 25.8h0m0-77.5h0m.1-101.1h0m.1 347.7h0m0-329.8h0m.2 29.3h0m0 288.2h0m0-336.9h0m.1 112.7h0m0 164.5h0m0-22.2h0m.1-47.8h0m0-174h0m.1 2h0m.1 247.9h0m0-162h0m0-133.9h0m.1 128.6h0m.1-16.8h0m0 170.2h0m0 40.5h0m0-141.5h0m.1-215.9h0m0 227.7h0m.3-213h0m0 233.6h0m.1-48.9h0m0-200.8h0m.1 305.8h0m0-287.1h0m.1 24.8h0m0 35.3h0m.1-56.9h0m0 373.8h0m.1-112.5h0m.1 127.6h0m0-391.5h0m.1 290.5h0m0-173.1h0m.1-35.3h0m.1-93.7h0m.1 137.8h0m.1 97.3h0m0-25.4h0m0-51h0m.1-13.7h0m0 137.1h0m.1-203.6h0m.1-23.3h0m0 357.5h0m0-53.9h0m.1-371.5h0m.2 369.9h0m0-352.3h0m0 226.8h0m0-191.4h0m0-39.6h0m.1 120.8h0m.2 129.1h0m.1-194.9h0m0 354.3h0m.1-24.7h0m0-317.5h0m0-65h0m.1 48.4h0m0 299.6h0m.1 30.3h0m0-352.4h0m.1 201.6h0m.1-51.3h0m.1-45.7h0m0 29.9h0m0 128.6h0m0-194.5h0m0-97.2h0m.1 124.6h0m.1 67.5h0m.1-4.5h0m.1 106.2h0m0-292.6h0m0 260.5h0m0 27h0m.1-104.4h0m0-166.3h0m.1 164.3h0m.1 202h0m0-304.3h0m.1 87.1h0m0 241.4h0m.1-136.6h0m.1 94h0m.2-84.4h0m0-229h0m.1 65.5h0m0 65.2h0m0 101.3h0m.1 108.9h0m0-356.6h0m0-21.3h0m.1 380.9h0m0-216.3h0m0 178.8h0m0-36.6h0m.1-151h0m0 56.1h0m0-155.9h0m0 346.1h0m.1-334h0m0 116.8h0m.3 22.6h0m.1 90.5h0m0 17.9h0m0 14.3h0m.1-49.7h0m0 66.7h0m0-213.9h0m.1 126.2h0m0 139.7h0m.1-321.8h0m0 17.2h0m0 239.4h0m0-229h0m.3 257.8h0m0-88.8h0m0-254h0m0 251.7h0m.1-133.5h0m0-135h0m0 120.7h0m0 244.1h0m.1-362.8h0m0 99.8h0m.1 153.2h0m0-139.7h0m.1-67.4h0m.1 90.1h0m0 256.2h0m0-179.1h0m.1-170.4h0m0 120.9h0m0 204.9h0m0-354.8h0m0 54.2h0m.1 326.3h0m0-223.6h0m0 19.3h0m.1 97.3h0m0-41.2h0m.1 122.1h0m0-205h0m0 127.3h0m.1-95.7h0m0-22h0m.1 11.2h0m0-211h0m.1 363.8h0m0-289.3h0m.2 229.1h0m0-206.4h0m.1 240.3h0m.1-167.8h0m0 43h0m0-136.5h0m0 67.3h0m0 211.5h0m0-298.8h0m0 158.1h0m0 202.8h0m.1-35.2h0m.1 48.5h0m0-336.7h0m0-89.4h0m.1 317.6h0m0-256.1h0m0 37.7h0m.1-105.4h0m0 113.2h0m0 149.9h0m.1 148.4h0m0-286.7h0m0 187.2h0m.1 106.7h0m.1-136.5h0m0-2.3h0m0-248h0m.1 348.8h0m0-320h0m.1-63.2h0m0 301.8h0m.1 78.4h0m0-87.6h0m0 116.7h0m0-286.5h0m0 168.4h0m.1 117.2h0m.1-358.1h0m0 248.1h0m.1 51.3h0m.1 2.9h0m.1-161h0m.1 201.1h0m0-212.4h0m.1 247.7h0m.1-354.4h0m0 139.3h0m.1-155.8h0m0 325.8h0m0-69.9h0m.1-183.7h0m0 266h0m.1-263.7h0m0-125.9h0m.1 7.1h0m0 174.3h0m.2 67.5h0m.1 27h0m0-71.9h0m.1 160.2h0m.1-146.1h0m0 186.7h0m.2-367.4h0m0 185.8h0m0-54.4h0m.2-19.4h0m.1-143.7h0m0 68.4h0m.1 231.2h0m0 6.8h0m0-222.4h0m.1 287.7h0m0-131.8h0m0-207.9h0m.1 296.5h0m.1 83.7h0m0-312h0m0 141.6h0m0 150.1h0m0-337.6h0m.1 264.6h0m0-260.1h0m.1 262.5h0m0-172.4h0m0 73.2h0m.1-57.9h0m0-23.1h0m0-10.2h0m0-3.1h0m.1-89.2h0m0 142.5h0m0-77.7h0m.1-97.3h0m0 254.9h0m0 27.4h0m0-130.5h0m.1 12.8h0m0 179.2h0m.1-154.3h0m0-121.7h0m.1-84.3h0m0 386.1h0m.3-33.6h0m.1-164.2h0m0 217.9h0m0-69.1h0m0-112.6h0m.1 121.4h0m.1-160h0m0 154.8h0m0 1h0m0-85.1h0m.1-199.7h0m0 78.7h0m.1 118.4h0m0 48.6h0m.1-273.5h0m.1 61.6h0m0 109.1h0m0-123.1h0m.1 217.4h0m0 8.9h0m.1-163.7h0m0-81.6h0m0-40.1h0m.1 357.3h0m.1-88.2h0m0 15.8h0m0-65.7h0m0 31.8h0m.1 136.9h0m0-65.2h0m.1-278.5h0m0 239.1h0m.2-293.7h0m0 403.4h0m.1-397h0m0 72.4h0m0 322.1h0m.1-326.1h0m0 244.4h0m0-20.7h0m0 25.3h0m.1-108.4h0m.1-184.7h0m.2 355.7h0m.1-7.9h0m.1-341.1h0m.1 315.3h0m0 32.6h0m0-203.3h0m.2 238.6h0m0-102.1h0m0-156.9h0m.1-65.1h0m.1-82h0m0 312.2h0m.1 54.7h0m.2-234.3h0m.1-82.9h0m.2 109.3h0m0-9h0m0 30.1h0m0 34.5h0m0-76.4h0m.1-64h0m.1 337.7h0m0-126.8h0m.2 64.8h0m0-100.2h0m0-52.2h0m.1-99.7h0m0 288.8h0m.1-371.4h0m0 30.6h0m0-32.9h0m0 320.9h0m0-214.5h0m.1-93.2h0m0 171.4h0m.1-69.7h0m0 150.6h0m0-256h0m.1 338.4h0m0-361.1h0m0 274h0m.1-221.6h0m.1-57.5h0m0 114.2h0m0 53.5h0m.1 119.4h0m0 9.8h0m0-105.1h0m0 160.5h0m.1-19.3h0m0-41.3h0m0 48.7h0m0-31.6h0m0-283.5h0m.2 320h0m0 35.1h0m.1-158.7h0m0-211.1h0m.1 54.2h0m0 299h0m.1-40.7h0m0-72.6h0m.2-60.2h0m0 120.3h0m0-186.3h0m.1 12.7h0m0 223.1h0m.2-135.2h0m0 174.3h0m0-219.1h0m.1 104.5h0m0-260.9h0m0 128.2h0m.1-27.8h0m.1 33.3h0m0-19.7h0m0 16.3h0m.1 84.3h0m0-145.8h0m.1 310.7h0m0 7.4h0m.1-82.7h0m0-198.2h0m.1-91.3h0m.1 260.7h0m0 70.3h0m.1-21.5h0m.1-262h0m0-12.8h0m.1 236h0m.1-265.8h0m0 248.3h0m.1-155.8h0m.1 189.7h0m0-243.8h0m0 12.5h0m.1-34.2h0m0 226.7h0m0-186.1h0m0 193.3h0m.1-29.7h0m0-161.6h0m0-111.8h0m.1 118.8h0m0 112.6h0m0-224.3h0m0 346.2h0m.1-40.3h0m0 14.7h0m.1-121.9h0m.1 208.8h0m0-392.5h0m0 54.8h0m.1 222.6h0m0-155.4h0m.1 276.1h0m0-22.5h0m.1-365.5h0m.1 119.9h0m0-33.5h0m.1 250.8h0m.2-269.5h0m0 164.4h0m.1 18.6h0m.1 113.8h0m.1-310.2h0m.1-18.3h0m0 221.7h0m0-140.5h0m0 190h0m.2-199.7h0m0 38.2h0m0-98h0m0 18.6h0m0 81.8h0m.1-152.7h0m.1 47h0m0 6.6h0m0 279.8h0m0-160.3h0m.3 219.2h0m.1-74.2h0m.1-348.3h0m.1 45.5h0m0 110.1h0m0-35.3h0m.2 234.6h0m0-167.5h0m0-195.7h0m0 268.7h0m.1-20h0m0-28.4h0m.1 87h0m.1 87.7h0m.1 .7h0m0-257.1h0m.1-88.3h0m0 204.2h0m0-149.7h0m.1 18h0m0 120.5h0m0-51.5h0m.1-157h0m0 402.3h0m.2-112.8h0m0-186.8h0m.1 245.6h0m0-92.9h0m.1 83.2h0m0-178.8h0m0-102.6h0m.1 224.4h0m.1-150.6h0m0 214.1h0m.1-187.2h0m0 90.7h0m.1 25.7h0m0 116.3h0m.1-323.3h0m0 145.5h0m0 10.5h0m.1-120.7h0m0 203.3h0m.1 49.5h0m.1 25.7h0m.1-32.8h0m0 19.9h0m.2-5.8h0m.1-33.7h0m0-222h0m0-21h0m0-96.3h0m.1 398h0m.1-49.1h0m0-130.7h0m.1-25.1h0m.1 147h0m0-363.6h0m0 320.9h0m.1-294.3h0m0 207.9h0m.1-163.7h0m.1 112.6h0m.2 162.6h0m.2-33.5h0m0 28.7h0m.1 7.8h0m0-17.4h0m.1-11.2h0m0-317.4h0m0 398.6h0m.1-361.2h0m0-26.6h0m0 221.1h0m.1-29.8h0m0-102.7h0m.2-78.5h0m0 343.8h0m.2-287.4h0m.1 174.1h0m0-80.6h0m0-86.8h0m0 348.4h0m.2-212.4h0m0 71.9h0m0 92.9h0m.1-203.7h0m.1 193.7h0m.1 33.2h0m0-311h0m.1 319.1h0m0-217.9h0m0 195.7h0m.1-16h0m.1-174.2h0m0-54.2h0m0-27.4h0m.2 68.3h0m0 133.1h0m.1-278.8h0m.1-1.7h0m0 86.9h0m.1 14.1h0m0 177.9h0m0 89.5h0m.1-43.7h0m0-338.1h0m.1 300.9h0m.1-156.3h0m.1 109.5h0m.1 133.8h0m0-261.6h0m0 133.6h0m.1 49.2h0m0-229h0m.2 206.7h0m0-222.1h0m.3 192.7h0m0-41.8h0m0-7.4h0m.1-28.8h0m.1 208.1h0m0-31.4h0m.1-137.1h0m0-240.3h0m.1 347.2h0m.1-321.8h0m.1 210.5h0m0-125.1h0m0 46.6h0m.1 188.4h0m0 34.3h0m.1-206.4h0m0 146.5h0m.1-50.5h0m0-191.9h0m.1 89.7h0m0 105.7h0m0-164h0m.1 16.3h0m0 107.9h0m.1 160.2h0m0-182.7h0m0-130.2h0m.2 78.6h0m.2 104.2h0m0-127.1h0m.1-71.8h0m0 142.6h0m0-98.6h0m.1 276.8h0m0-297.7h0m0 248.6h0m0-68.6h0m0-95.7h0m0-154.2h0m.1 77.3h0m.2 300.8h0m0-171.2h0m.1 5.6h0m0-221.3h0m.1 229h0m0 170.4h0m0-413.1h0m.1 308.7h0m.1 9.8h0m.1-129h0m0-50.9h0m.1 107.7h0m.1 130.8h0m0-324.8h0m.1 197.8h0m0-253.6h0m.1 186.2h0m0 192.1h0m0-288.4h0m.1-60.3h0m0 193.5h0m0-20h0m0-29h0m.1 123.6h0m0-39.1h0m0 57.4h0m.1-228.8h0m0 113.6h0m0 156.3h0m.1-237.7h0m.1 159.2h0m0-99.2h0m.1 185.8h0m0-240.9h0m0 49.2h0m.2-153.2h0m0 124.8h0m.1 243.3h0m0-280.6h0m0 201h0m.1-80.3h0m.1-22.1h0m0 36.7h0m0-86h0m.1 242.3h0m.2-139.7h0m0 166.8h0m0-366.7h0m.1 181.3h0m.1-190h0m0 369.1h0m.1-90.3h0m0-3.5h0m.1-258.6h0m.2 219.5h0m0-25.7h0m0-150.3h0m0-94h0m.1 193.3h0m0 47.4h0m0 138.2h0m0 10.7h0m.1-128.4h0m.1-251.7h0m0 110.3h0m.2 211.3h0m0-72.6h0m0-49.8h0m.2-9h0m0-174.3h0m.1-2.7h0m0 203h0m.2-167.5h0m0-37.6h0m.1-27.1h0m0 284.7h0m.1 77.9h0m0-159.6h0m.1 93.8h0m0-153.9h0m.1-99.9h0m0-12.5h0m.1 55.5h0m0-82.5h0m.1 136.7h0m0 114.8h0m.1 37.1h0m0 62.9h0m0-44.4h0m0-63.7h0m.1 114.6h0m0 28.5h0m0-403.7h0m.1 255h0m.1-143.6h0m0 269.7h0m0-288.6h0m0-69.4h0m.1 147h0m0 217.9h0m.1-354.4h0m0 91.3h0m.3-37.9h0m0-8.5h0m0 178.6h0m.1-21.9h0m.1-100.1h0m.2 234.3h0m0-140.5h0m.1-217.8h0m0 409.3h0m0-314.9h0m0-79.7h0m.2 98h0m.1 104.6h0m0-157.4h0m0 49.8h0m0 125.9h0m.1 92.9h0m0-333.2h0m.1 273.5h0m0-231.4h0m0 49.7h0m.1 32.1h0m.1 218.5h0m0-151.5h0m.1 68.6h0m0-53.2h0m0-17.9h0m.1 122.4h0m.1-216h0m.1 172.3h0m0 146.1h0m.2-372.8h0m.1 125.8h0m0 147.3h0m.2 27.1h0m0-233.8h0m0-90h0m.3 378.9h0m0-259.5h0m.1 108.5h0m0 72.8h0m0-127.5h0m.2-66.7h0m0 145.5h0m0 131.5h0m0-107.5h0m.1 61.8h0m0-341.6h0m.1 186.9h0m0 164.6h0m.2-209h0m0 56.3h0m0-218h0m0 145.3h0m.2-60.1h0m0 4.3h0m0-60.6h0m.1 207.9h0m.1-236.4h0m.1 7.9h0m.1 293h0m.1-222.4h0m0 32.1h0m0 149.7h0m0-82.5h0m.1-115.5h0m0-2.5h0m0 145.5h0m.1 180.7h0m.1-3.3h0m0-55.4h0m.1-39.9h0m0-147.4h0m.1 63.9h0m0 210.6h0m0-54.8h0m.2-209.8h0m0 94.9h0m.1-43h0m.1-99.6h0m0 244.4h0m0-225.4h0m0-64.3h0m.1 134.7h0m.1 159.5h0m0-164.3h0m.1 169.3h0m.1 40.8h0m0-91.2h0m.1 37.7h0m.1-293.8h0m.2 285.9h0m0 81.7h0m0-316h0m0 216.4h0m.2-150h0m0 178.7h0m0-55.3h0m0-194.5h0m.1-41.3h0m.1 370.1h0m.1-126.8h0m0-142.4h0m0-40.8h0m0-5.5h0m.1 318.8h0m.1-41.9h0m0-356.3h0m0 392.8h0m.1-315.6h0m.1 128.7h0m0-56.3h0m.1 169.6h0m.1 29.6h0m0-126.3h0m0 108.7h0m.1-200h0m0 66.1h0m.1-83h0m0 93.7h0m0-103.8h0m.1 85.9h0m0 25h0m0 88.2h0m.1-20.2h0m.1-279.1h0m.1 379.1h0m0-25.6h0m.1-76.8h0m0-61.7h0m.1 35.8h0m0-175.4h0m0 123.4h0m.1-79.8h0m.1 144.3h0m0-268.6h0m0 342.3h0m0-121.3h0m.1 21.4h0m0-73.6h0m.1 192.7h0m.1-52.7h0m0-286.4h0m0 274.2h0m.1 107.7h0m.1-33h0m0-180.8h0m.2-169.9h0m0 218.2h0m.2 21.8h0m0-158.3h0m0 16.1h0m.1 193.8h0m0-244.2h0m0 130.6h0m0 135.9h0m.1 15.6h0m0-237h0m0-58.6h0m0-29.1h0m.2 79.4h0m.1 48.4h0m.1-13h0m.1-9.8h0m0-106.4h0m0 51.1h0m0 186.2h0m0 134.3h0m.1-103h0m.1 86.5h0m0-159.4h0m0-13.7h0m0-90.8h0m.1 142.4h0m0-81.1h0m.1-182.5h0m.1 199.2h0m0-205.9h0m.1 313.3h0m.2 13.3h0m0-291.4h0m.1 275.9h0m0-156.6h0m.1-50.7h0m0-1.9h0m.1 259.6h0m.1 51.6h0m.1-392.3h0m.1 275.3h0m0-145.3h0m.1-38.7h0m.1-34.7h0m0 172.8h0m0-253.5h0m.1 67.4h0m.1 6.3h0m0 242.2h0m0-29.4h0m.1-158.2h0m.1-105.1h0m0 272.8h0m0-59.2h0m0-211.8h0m.3 276.9h0m0-186.7h0m0 10.3h0m.1-13.5h0m0-89.9h0m0 153.6h0m.1-132.5h0m0 299.1h0m.1-241h0m0 178h0m.1 103.3h0m0-384.4h0m.1 58.1h0m0 49.3h0m0 167.6h0m0 125.8h0m.1-107.8h0m0-126.5h0m0 206.3h0m0-294.5h0m.1 312.3h0m0-143h0m0-96.6h0m.1-82.3h0m0 138h0m.2-120.1h0m.1 107.8h0m0-110.5h0m.1-44h0m0 46.6h0m0-33.8h0m.1 68.3h0m.1 193h0m.1-13.5h0m.1 109.6h0m0-407.3h0m0-14.8h0m.1 127.2h0m.1 72.2h0m0-187.9h0m0 402.5h0m.1-392h0m0 343.5h0m.1-150.7h0m.1-143.8h0m0 217.4h0m.1-63.5h0m.1-90.1h0m0 30.7h0m0 178.8h0m0-219.8h0m.1 33.2h0m.2 115.8h0m.1-258.8h0m.1 358.2h0m0-340.8h0m.1 71.7h0m0 293.5h0m0-334.8h0m0 296h0m0-153.8h0m.1-3.2h0m0-106.7h0m0 55.5h0m0-18.4h0m0 197.8h0m0-86.3h0m.1 5.2h0m0 94.1h0m0 35.3h0m.1-265h0m0 83.6h0m0 30.8h0m.1-174.6h0m0 89.6h0m0 3.4h0m.1 137.6h0m.1-189h0m0 208.8h0m.1 122.6h0m0-196h0m0 131.8h0m0-339.8h0m.2 403.8h0m.1-16.5h0m0-152.3h0m0 111.2h0m.1-278.1h0m.2-63.1h0m0 134.5h0m.1 216.9h0m0-196.2h0m.1 2h0m.1-38.6h0m.1 4h0m0 38.9h0m.1 225.2h0m0 9.3h0m.1-358.2h0m.2 257.7h0m.1 9.4h0m0-65h0m.1-226.5h0m0 352.4h0m0-258.9h0m.1 27.8h0m0 116.5h0m0-139.5h0m.1 60.5h0m.1-14h0m0-78.5h0m.1 16.3h0m0 241.7h0m0-137.4h0m0-212.9h0m0 46h0m.1 316.7h0m0-306.5h0m.1-40.7h0m0 259.6h0m0-80.4h0m0 165.5h0m0-262.9h0m.1 141.3h0m0-15.2h0m.1-68h0m0 230.1h0m.1-227.2h0m0-85.2h0m0 135.3h0m0 23.8h0m0 55.5h0m.1-35.4h0m.1-139h0m.1 82.5h0m.1-108.3h0m0 111.3h0m.2-68.6h0m.2 85.2h0m.1 75.7h0m.1 33h0m0-208.2h0m0 287.7h0m0-415.6h0m.1 103.4h0m0 221h0m.1-20.7h0m0-44.6h0m0-43.7h0m.1-30.7h0m.1-9.8h0m0 89.8h0m.1-9h0m0 29.4h0m0 74.3h0m.1-17h0m0-26.9h0m0-260.3h0m.1 349h0m0 3.5h0m.1-19.3h0m0-314.5h0m0 5.8h0m.1 305h0m.1-133.9h0m.1 149.1h0m.1-342.2h0m0-16.7h0m0 110.8h0m0 177.8h0m0-151.2h0m.1-93.1h0m0-74.3h0m.1 74.8h0m0-35.8h0m0 139.7h0m.1-47h0m.1 21.1h0m0-143.4h0m0 160.4h0m.2 99.9h0m0 7.5h0m.1-165.3h0m0 124.3h0m.2-229.8h0m0 88.8h0m0-84.2h0m0 255.4h0m.2-189.7h0m0 208.8h0m.1 4.1h0m0 105.9h0m0-201.3h0m0-75.4h0m0-19.1h0m.1 44.6h0m0 43.1h0m.1 200.2h0m0-62.8h0m.1 53.8h0m0-23h0m0-21.9h0m.2 24.9h0m0-329.4h0m.1-21.2h0m0 304.4h0m0 93.7h0m.1-223.8h0m.1 97.1h0m0 134.6h0m.1-306.8h0m0 127.3h0m0-180.7h0m0-8.9h0m.1 216.2h0m.1-219.4h0m.1 85.3h0m0 250.1h0m0-287.8h0m.1-55.8h0m0 93.8h0m0 162.3h0m0-206.1h0m0 237.6h0m.1-280.9h0m0 64h0m0 50.1h0m.1-86.4h0m0 213.4h0m.1-105.3h0m0 217.4h0m.1-211.8h0m0-181.5h0m0 412.3h0m0-27.1h0m.2-185.4h0m0-84.7h0m.1-75.1h0m0 3.1h0m0 371.2h0m0-174.9h0m.2 74.6h0m0 108.6h0m0-26.2h0m.1-156.7h0m0-63.6h0m.1-116.1h0m0 94.2h0m.1 214.1h0m0-229.1h0m.1-50h0m0 168.4h0m0-44.1h0m.1 36.5h0m0 99h0m0-187.5h0m.1 186.4h0m0-1.9h0m.1 63.8h0m.1-142.6h0m0-3h0m0 126.8h0m.1-86.1h0m.1-111.9h0m.1 173.5h0m0-41h0m0-221.5h0m.1 227.3h0m0-181.2h0m0-159.8h0m.1 6.3h0m0 341.6h0m0-153.7h0m0 174.5h0m.2-122.3h0m.1-208.6h0m.1 90.4h0m0 31.6h0m.1-70.6h0m0 201h0m.1-178.5h0m0-1.8h0m.1-66h0m.1 28.6h0m0 143.3h0m0 156.7h0m.1-34.4h0m0 34.1h0m0-4.8h0m.1-349.7h0m.1 46.2h0m0 172.8h0m0 90.6h0m0-40.5h0m.1-68.9h0m.1-185.8h0m0 376.5h0m0-154.6h0m0-197.4h0m.1 298.7h0m.1-358h0m.1 337.8h0m.1 68.3h0m0-378.9h0m0 107.1h0m0 168h0m0-274.8h0m0 157.6h0m.1-69.6h0m.2 249.9h0m0-92.7h0m0 6.9h0m.1 30.7h0m0-237.9h0m0 231.3h0m.1-123.9h0m0-168.9h0m.1 317.1h0m0-233.7h0m.1 277.7h0m0 31.6h0m0-89h0m.2-14h0m0-160h0m.1 254.9h0m0-271.3h0m0 196.2h0m.1-131.5h0m0 72.1h0m.1-191.4h0m0 318.2h0m0-35.5h0m.1-247.1h0m.1-.4h0m0 121.5h0m.1-188.6h0m0 257.5h0m.3-109.8h0m.1 235h0m0-168.4h0m0 103.1h0m.2-38.8h0m0-171.5h0m0-115.5h0m.1 50.2h0m.1 129.3h0m.1 148.9h0m0-61.4h0m0-190.4h0m.2 214.6h0m0 44.6h0m0-339.7h0m.1 12.2h0m.1 16.6h0m0 53.3h0m0-43.8h0m.2 249.7h0m0 64.1h0m0-5h0m.2-89.5h0m0-196.2h0m0 61.8h0m0 77.7h0m0-136h0m.1 26.4h0m.1-68.2h0m0 297.7h0m.1-314h0m0 223.4h0m0-98.8h0m.1 278.6h0m0-393.1h0m.1 89h0m0 40.2h0m0 96.6h0m.1 128.8h0m0-243.6h0m0-119.2h0m.1 128.1h0m.1 204.5h0m0-32h0m0 93.9h0m0-394.7h0m0 19.1h0m.1 148.1h0m0 181.5h0m.1-228.6h0m0 188.8h0m.1-226.3h0m0 227.1h0m.2-189.6h0m0 134.7h0m.1 125.6h0m.1-57.1h0m0-283.5h0m.1 348.8h0m0-278.5h0m0 104.8h0m.1 114.5h0m.1-189.4h0m0-41.6h0m0-70.8h0m.1 31.4h0m.1 121.2h0m.1-147.6h0m.1 62.8h0m.1 80.1h0m0 36h0m.1 28.7h0m.1-53.1h0m.1 126.9h0m0-33.2h0m0-211.6h0m.1 18.1h0m0 115.2h0m0 189.8h0m0 2h0m0-386.4h0m0 300.9h0m.2-201.6h0m0-24.7h0m.1-44.9h0m0-11.5h0m0 249.9h0m.1-64.8h0m0 82.8h0m0 67.2h0m0-332.6h0m0 372.9h0m.1-266.2h0m.1 221.1h0m0-126.7h0m0-45.7h0m0 184.2h0m.1-195.5h0m.1-132.5h0m0 151.4h0m.2 198.9h0m0-378.8h0m.1 273.8h0m0 2.3h0m0-183.3h0m.2 43.1h0m.2-172.6h0m0 409.8h0m.1-162.9h0m0-23.2h0m0-179.5h0m0 2.6h0m0 215.4h0m0 30h0m.1-145.7h0m0-126.5h0m.1 58.5h0m.1 18.9h0m0 3.8h0m.2 254.4h0m0-353.4h0m0 418.8h0m.1-330.8h0m0-78.6h0m0 45.7h0m.1 341.9h0m0-207.6h0m.1 8.8h0m0-85.3h0m0-6.2h0m0 220.2h0m.1 27.8h0m0-196.9h0m.1 33.8h0m.1 119.5h0m0-191.5h0m.1-122.2h0m0 30.6h0m.1 350.2h0m0-306.6h0m.1 161.4h0m0-64.6h0m.1 126.5h0m0-135.4h0m0 140.2h0m0-274.7h0m0 180.5h0m.1 190.1h0m0-290.1h0m.2-98.1h0m.1 251.5h0m0-145.3h0m0 295.7h0m.1-104.5h0m0-61.2h0m0-19.6h0m.1-144h0m.1 92.9h0m0-48.8h0m.1-133.5h0m0 295h0m0-149.9h0m0 284.3h0m0-192.7h0m.1 54.5h0m0 124.2h0m.1 13.3h0m.1-340.6h0m0 66.3h0m.1 135.8h0m.2-72.2h0m0 1.1h0m.1 198.1h0m.1-265h0m.2-91.5h0m0 260.2h0m.1-322.6h0m.1 358.5h0m.1-77h0m.2 136h0m0-37.2h0m0-351.9h0m0 33.6h0m.1-43.6h0m.2 306.9h0m0 106.8h0m.1-160.1h0m0-81.5h0m.1-57h0m.1 219.8h0m0-258.3h0m.1 230.3h0m0-268h0m0 189.4h0m.1-118.2h0m0 136.5h0m0-34.1h0m0 10.7h0m0 27.2h0m.1 133.7h0m0-231.5h0m.1-127.8h0m.1 255.3h0m0 106.6h0m.1-398.6h0m.1 219.6h0m.2-58.3h0m.1-83.4h0m0 345h0m.1-149.9h0m0-271.4h0m.1 98.3h0m0 201.3h0m0 32.3h0m.1 79.6h0m0-363h0m0 108.7h0m0 213.7h0m.2-243.4h0m0 266.4h0m0-106.1h0m0-280.5h0m.1 315.2h0m0-319.7h0m0 266.9h0m.1-32.9h0m0 139.4h0m0 25.4h0m.1-339.4h0m0 110.3h0m0-45.7h0m0 94h0m0 112.9h0m.1-195.5h0m0 210.9h0m0-112.1h0m0-99.4h0m.1 143.3h0m.1-31.9h0m.1-188.9h0m0-40.9h0m0 185.6h0m.1 160.8h0m0-299.6h0m.1 187.3h0m0-235.8h0m.1 172.2h0m0 147.8h0m0 18.1h0m0-345.7h0m0 369.8h0m.1-232.9h0m0-64.3h0m.1 194.6h0m.1 31.8h0m.1-30.1h0m0-242.4h0m0 362.7h0m0-214.4h0m.1 160.2h0m0 43.1h0m.1-10.7h0m0-340.6h0m0 225.4h0m.1 82.3h0m0-97.1h0m0 118h0m0-138.6h0m0-126.2h0m.1 141.8h0m.1 118.6h0m.1-219.4h0m0 137h0m.1-171.1h0m.1 214.5h0m0-56h0m.1 86.4h0m0-192.5h0m.1 266h0m0-20.5h0m0-339.8h0m.1-31.6h0m.1 221.5h0m.1-209h0m0-1.2h0m.1 57.4h0m0-77.2h0m0 63.6h0m0 178.5h0m.1-182.2h0m0 59.3h0m.1-127.3h0m0 366.5h0m.1-215.6h0m0-33.2h0m0-108.1h0m0 337.9h0m.1-366.7h0m0 349.7h0m.1 32.7h0m0-108.5h0m0-197.3h0m.1 288.2h0m0-221.7h0m0 245.5h0m.1-31.9h0m0-304.8h0m.1 147.1h0m0-17.4h0m0-177.8h0m.1 213h0m0-96.9h0m0 28.6h0m.1 54.5h0m0 42.5h0m0-41h0m0-105h0m0 202.2h0m0-230.6h0m.2 182.6h0m0-234.5h0m.1 94h0m.1 298.7h0m0-27.9h0m0-221.3h0m.1 130.9h0m0-296.2h0m0 255.8h0m.1 169h0m.1-336.5h0m0 36.6h0m.2-65.3h0m0 190.6h0m.1 125.6h0m0-366.9h0m.1 269.9h0m0 56.8h0m0-119.8h0m.1 11.5h0m0 136.4h0m0-24.8h0m.1-19h0m0 42.5h0m0-325.1h0m.1 369h0m0-53.6h0m0-295.1h0m0 37.7h0m.1 24.7h0m.1 201.7h0m.1 17.7h0m0-51.4h0m.2-239.2h0m0 259h0m.1-237.7h0m0 211h0m0-93.8h0m0-97.8h0m.1 253.9h0m0-20.7h0m.1-29.7h0m0-139.2h0m.1 165.8h0m.1-307.8h0m0 245.9h0m.2-179.3h0m.1 58.6h0m.1-16.8h0m0 210.5h0m0 39.2h0m.1-105.4h0"/>
<path class="l" style="stroke-width:4.9" d="M295.3 265.50H704.4"/>
<rect class="ax" x="90.70" y="8.90" width="716.00" height="512.25"/>
<text class="t" text-anchor="middle" transform="translate(90.2 557.8) rotate(0.03) scale(1 1.03)">0</text>
<text class="t" text-anchor="middle" transform="translate(294.8 557.8) rotate(0.03) scale(1 1.03)">4000</text>
<text class="t" text-anchor="middle" transform="translate(499.3 557.8) rotate(0.03) scale(1 1.03)">8000</text>
<text class="t" text-anchor="middle" transform="translate(703.9 557.8) rotate(0.03) scale(1 1.03)">12000</text>
<text class="t" text-anchor="end" transform="translate(79.9 19.1) rotate(0.03) scale(1 1.03)">0.8</text>
<text class="t" text-anchor="end" transform="translate(79.9 147.1) rotate(0.03) scale(1 1.03)">0.4</text>
<text class="t" text-anchor="end" transform="translate(79.9 275.2) rotate(0.03) scale(1 1.03)">0</text>
<text class="t" text-anchor="end" transform="translate(79.9 403.2) rotate(0.03) scale(1 1.03)">-0.4</text>
<text class="t" text-anchor="end" transform="translate(79.9 531.3) rotate(0.03) scale(1 1.03)">-0.8</text>
<text class="s" text-anchor="middle" x="448.2" y="594.0">n</text>
<text class="s" text-anchor="middle" transform="translate(20.3 265.6) rotate(-90)">x(n)</text>
<text class="c" text-anchor="middle" x="401.4" y="655.6">(a)</text>
<path class="tk" d="M1201.6 521.1v-7.4M1201.6 8.9v7.4M1406.1 521.1v-7.4M1406.1 8.9v7.4M1610.7 521.1v-7.4M1610.7 8.9v7.4M997.0 137.0h7.4M1713.0 137.0h-7.4M997.0 265.0h7.4M1713.0 265.0h-7.4M997.0 393.1h7.4M1713.0 393.1h-7.4"/>
<path class="d" d="M997.1 435.2h0m.3-70.6h0m.1-128.4h0m.1 217.9h0m0-259.3h0m0-65.3h0m.1 255.5h0m.1-63.2h0m0-232.5h0m0 95.9h0m.1 1.8h0m0 88.6h0m.1 140.7h0m0-307h0m0 47h0m.1 74.5h0m.2-106.3h0m0 69.1h0m0-36.7h0m0 210.4h0m.1-111.5h0m0 171.3h0m0-358.4h0m.1 232.5h0m0 2.3h0m0-105h0m.1-112.7h0m0 47.2h0m0-43.9h0m.1 206.9h0m.1-133.4h0m.1 158.3h0m0 144.8h0m0-119.1h0m0 46.1h0m.1-19.1h0m0-127.1h0m.2 18.1h0m0-206.2h0m.1 299.9h0m.1 76h0m0-26.8h0m.1-239.7h0m0 121.7h0m0-9.6h0m0 176.5h0m0-378.6h0m.1 90.9h0m0-19.9h0m.1-42.2h0m0 71h0m.1 256.7h0m.1-360.2h0m0 296h0m.1-151h0m.1 232.1h0m0 20.2h0m.2-141.8h0m0-98.7h0m.1-7.8h0m0-94.1h0m0 175.1h0m.1 138.1h0m0-184.4h0m0 218.6h0m0-165.6h0m.1-68.1h0m0 7.2h0m0-119.2h0m.1 43.8h0m0-34.1h0m0 322.6h0m.1-105.1h0m0-245.2h0m.3 238h0m0-.9h0m0 22.6h0m.1-149.2h0m0-155.6h0m0 34.6h0m.1 347.5h0m0-31.1h0m0-22.2h0m0-240.2h0m.1 227.5h0m0-104.3h0m.1 153.6h0m0-251h0m0-126.8h0m0 425.4h0m.1-253.6h0m0-103.5h0m0 32.7h0m.1 117.5h0m.1 58.9h0m0 143.2h0m0-74.6h0m.1-107.6h0m0-192.5h0m0 200.2h0m0 135.3h0m.1-177.8h0m0-96.4h0m.1 245.7h0m0-168.3h0m0 218.6h0m0 11.3h0m0-14.3h0m.1-313.2h0m0-96.4h0m0 153.2h0m.3 66.6h0m.1 55.9h0m0-6.7h0m0-141.7h0m0 21.1h0m0-88h0m0 113.2h0m.1 8.1h0m.1 193.9h0m.1-176.7h0m0 99.6h0m.1-230.1h0m0 271.3h0m.1-117.5h0m0 73h0m0 12.3h0m.1-15.5h0m.2-172.7h0m0-19.8h0m.1 92.6h0m.1-75.7h0m0-64.3h0m.1 38.6h0m0-61.7h0m.1 111.8h0m.1-51.6h0m.1-68.5h0m.2 167.9h0m0 158.8h0m.2 81.3h0m0-209.7h0m.1 98.8h0m0-265.3h0m0 215.7h0m0-235.1h0m.1 365.5h0m0-374.5h0m0 349.3h0m.1-115.4h0m0-255.4h0m.1 80h0m.1 321.5h0m.2-219.5h0m0-110h0m0 278.4h0m.1-125.9h0m.1 79.6h0m0-61.7h0m0-120.7h0m.1 301.7h0m0-143.2h0m0-113h0m0 255.6h0m0-216.3h0m0-102.1h0m.1-11.8h0m0 53.3h0m.1 192.1h0m.1-36.4h0m0-173h0m0-18.7h0m0 260.7h0m0-169.5h0m.1-187.3h0m0 403.4h0m.1-122.3h0m0-276h0m0 121.2h0m.1 273.3h0m0-115.5h0m0-226h0m0 48.7h0m0 38.8h0m0 191.8h0m.1 23.3h0m0-141.6h0m.1-110.1h0m.1 310.8h0m.2-111.9h0m0 74.5h0m0-106.9h0m0-181.5h0m.1 146.8h0m0 132.4h0m.1-104.3h0m0-221h0m.1 43.8h0m0 91.9h0m0-140.2h0m.1 260h0m0-137.7h0m.2-83.2h0m0 271h0m0-178.1h0m.1 151.3h0m0-30h0m.1 50.3h0m.1-308h0m.1 319.8h0m0-204.9h0m0-129.8h0m.1 154.9h0m.1-185.1h0m.1 99.3h0m0 20.6h0m0 25.8h0m.1-4.8h0m.1 137.7h0m0-263.7h0m.1 271.1h0m0-181.6h0m.1-83.4h0m0 166.6h0m0 62.9h0m0 23.8h0m.1 143h0m.1-251.1h0m0 87.6h0m.1 88.9h0m0-193.7h0m0 23.7h0m.1 211.4h0m.1-309.6h0m.1 345.2h0m0-188.1h0m0-46.3h0m0-33h0m.1-120.5h0m.1 160.9h0m0-44.4h0m0-65.7h0m.1 86.4h0m0-67.1h0m0 280.4h0m.1-239.1h0m0 275.3h0m0-342.1h0m0 193.8h0m0-70.4h0m0-175.9h0m.1 192.6h0m0 180h0m.1-233.2h0m.1 75.4h0m0 47.7h0m.1-178.9h0m0-10.8h0m.1 115.7h0m0-167.8h0m.1 328.8h0m0-339.5h0m0 277h0m.1-17.7h0m0 40.8h0m0 12.7h0m0-328.1h0m0 92.7h0m.1 142.2h0m.1 26.2h0m0-276.7h0m.2 39.2h0m0 264.6h0m0-257.8h0m0 31.7h0m.1 48.2h0m0 56.5h0m.1 183.2h0m0 57.8h0m0-283h0m.1 207.2h0m0 4.4h0m0-261.7h0m0 70.1h0m.1 241.9h0m.1-340.3h0m0 337.9h0m0-246.3h0m.1-59h0m.1 46.9h0m0-17.8h0m0 228.7h0m.1-6.9h0m0-124.5h0m.1-139.7h0m.1-10.7h0m0 311.1h0m0-263.1h0m.1 135.8h0m.1-25.6h0m0 11.8h0m.1-110.5h0m0 52.4h0m.1 215.9h0m.2-83.2h0m0-100.7h0m0 92.5h0m.1 55.5h0m0-160.9h0m.1-186.2h0m0 125.9h0m0-119h0m0 100.6h0m.1-40.9h0m0-86.8h0m0 226.5h0m0 154.9h0m.1-309.2h0m0 343.5h0m0-393.4h0m0 375.5h0m0-39.3h0m0-173.7h0m.1-44.2h0m0 191.4h0m0-169.7h0m.1 168.4h0m.1-14.2h0m.2-194.4h0m.1 239.3h0m.1-240.7h0m0-42.1h0m0 303.9h0m.1-372.8h0m0 246.9h0m0-24.6h0m0-106.6h0m0 98.1h0m.2-143.2h0m0-25.8h0m0-26.6h0m0 107.8h0m.1 84.6h0m0-154.3h0m0 254.2h0m.1-172.5h0m0 8.6h0m.1 115.2h0m0-9h0m.2-95h0m.1-36.6h0m.1 204.1h0m0-184.3h0m.1-35.6h0m0-42.5h0m0 10.8h0m0 71.8h0m.1 257.2h0m0-103.5h0m.1-17h0m.1-109.4h0m0 67.8h0m0 35.5h0m0 65.4h0m.1-349.3h0m0 94.5h0m.1 133h0m0 180.7h0m.2-246.1h0m0 166.6h0m.1-272.9h0m.1 189.7h0m.2-157.3h0m.1 327.1h0m.3-332.2h0m.1-61h0m.1 319.8h0m0-38.3h0m0-46.9h0m0 112.7h0m0-247.1h0m.1 78.6h0m.1 52.4h0m0-98.5h0m0 126.8h0m0-209.8h0m0 91.8h0m.1-3.6h0m.1 156.1h0m.1-92.2h0m0 122.8h0m0-79.4h0m.1-158.1h0m.1 124.5h0m0 15.4h0m0 104h0m.1-163.7h0m0 202.8h0m0-72.6h0m0-255.6h0m.1-34.7h0m0 186.1h0m.1-170.5h0m0 166.2h0m0-205h0m.1 121.8h0m.1 248.5h0m.1 40.9h0m0-183.8h0m.1 67.8h0m0-311h0m.1 293.3h0m0-277.1h0m0 264.8h0m0-248.9h0m.1 3.4h0m.1-26.1h0m0 243.1h0m.1 56.7h0m0-186.1h0m0 142.4h0m0-26.4h0m.2 178.1h0m0-271.1h0m0-83.6h0m0 282.6h0m.1-188.9h0m0 272.5h0m0-7.4h0m.1-157.3h0m0 52.1h0m.2 64.1h0m.1-320.7h0m0 84.8h0m0 114.4h0m0 94.4h0m0 51.8h0m.1-112.7h0m0-36.1h0m.1 73.6h0m.1-17.1h0m0-39.6h0m0 64h0m.1-112.1h0m0-176h0m.1 130h0m0-30.5h0m0-42.7h0m.1-10.5h0m0 160.7h0m0 83.5h0m0 .7h0m.1-77.6h0m0 148.7h0m.1-89h0m.1-70.5h0m0-193.5h0m0 140.9h0m.1-36.3h0m0 51.2h0m0 142.5h0m.1-302h0m0 260.8h0m.1-50.6h0m.1 154.6h0m0-318.4h0m.1-65.2h0m0 41.7h0m.2 289.5h0m0-6.1h0m0-315.1h0m.1 244.8h0m0-11.7h0m.1 112.3h0m.2-139.3h0m0-239.5h0m0 389.9h0m.1 3.4h0m0-378.7h0m0 93.5h0m0-76.4h0m.1 51.4h0m.1 194.5h0m.1-110h0m0 230h0m0-83.8h0m0-174h0m.1 235.9h0m.1-359.7h0m0 387.1h0m.2-83.9h0m0-124.2h0m.1-31.6h0m0 11.2h0m0 48h0m.1-169.1h0m0-47.4h0m0 146.4h0m0-73.6h0m0 215.8h0m.1-140.4h0m0 209.7h0m.1-162h0m0 15.3h0m.1 28.8h0m0-164.7h0m0 217.4h0m.1-24.4h0m0-260.2h0m.1 99.9h0m0-4.1h0m0-29.9h0m.3 9.7h0m0 100.8h0m0-150.2h0m.1 45.8h0m0 168.1h0m0 50.8h0m.1 63.2h0m0 10.6h0m.1-9h0m0-340.1h0m.1-.6h0m0 352.8h0m.2-347.9h0m0 128.5h0m0 128.6h0m0 106.7h0m.1-336.1h0m.1 136.2h0m0-117.4h0m.1 268.8h0m0-218.7h0m.1 165h0m0-175.2h0m.1 216.5h0m.1-168.1h0m0 95.9h0m.2-165.7h0m.1 110.1h0m.1 142.1h0m0-345.3h0m0 248h0m.1-127.6h0m0 183.1h0m0 20.9h0m0-202.7h0m.1 144.6h0m0-261.6h0m.1 333.1h0m.1-201.3h0m0 37.4h0m0-28.8h0m.1 13h0m.1-113.5h0m.1 265.5h0m0-17.5h0m0-130.6h0m.1-22.5h0m0 39.6h0m0-52.8h0m0-60.7h0m.1 299.4h0m.1-30.9h0m.1-337.4h0m.1 46.2h0m0 39.1h0m.1 134.2h0m0 82h0m0-77.7h0m.1 44.1h0m.1-278.7h0m.1 89.6h0m0 229.1h0m0-206.7h0m0-10.7h0m.1 107.7h0m0-19.5h0m0 7.5h0m0-74.6h0m.1 81.7h0m.1-29.1h0m.1 205.4h0m0-339h0m0 113.9h0m.1-37.2h0m0-92.8h0m.1 217.7h0m0-2.7h0m0 124.3h0m.1 60.3h0m0-309.8h0m.1 202h0m0 31.5h0m0-101.5h0m0-65.3h0m0-144.6h0m0 267.3h0m.1-220.6h0m0 335.9h0m.1-61.5h0m.1 73h0m.1-352.7h0m0 137.3h0m0 68.5h0m.1 144.8h0m.2-174.3h0m0-114.5h0m.1-121.9h0m0 169h0m0-158.6h0m.1 34.6h0m.1 354.4h0m.3-157.5h0m0-152h0m.1 179.8h0m0-72h0m0-16.2h0m0-44.6h0m.1-144.4h0m.1 93.1h0m0-39h0m0 79.6h0m.1 112.5h0m0-205.5h0m0 370.7h0m.1-341.4h0m0 96.7h0m0-98.9h0m.1 33.9h0m.1 191.8h0m0 72.6h0m0-83.7h0m.1-134.1h0m0-3.9h0m0 66.7h0m.1 148.5h0m0-251.7h0m.1 89.2h0m.1-87.6h0m.1 105.9h0m0 96.2h0m.1-267.3h0m0 255.2h0m0-219h0m.2 336.2h0m.1-316.3h0m.1 25.6h0m.2-5.4h0m0-23.1h0m0 30.4h0m.2 274.7h0m0-288h0m0 141.8h0m0-5.8h0m.1 42.6h0m0-22.3h0m0-47.8h0m.1-162.1h0m.1 293.6h0m0-258.5h0m0 220.1h0m.1-86.8h0m0 92.8h0m.1 74.1h0m0-399.3h0m0 155.6h0m.1-55.3h0m.1 10.9h0m0 173.3h0m.1 58.2h0m0-140.4h0m0-210.6h0m0 275h0m.1-4.3h0m.1 91h0m0-341.8h0m0 115.4h0m.1 49.7h0m0-153.7h0m0-18.1h0m0 194.2h0m.1 191.4h0m0-361.8h0m0 193.3h0m.1-186.7h0m0 9.2h0m.1 332.1h0m.1-344.1h0m.2 196h0m0-134.9h0m.1 54.3h0m.1 162h0m.1 62.7h0m0-87.5h0m0-200.9h0m0-95.8h0m0 222.7h0m.1 118.6h0m0-46.1h0m0 96.4h0m0-23.8h0m.3-68h0m0-100.8h0m.1 161h0m0-56.2h0m0-74.2h0m0 62.5h0m0-172.8h0m0-104.6h0m.1 228.1h0m.1-47.5h0m0-121h0m0-53.3h0m.1 203.4h0m.2 122.1h0m.1-192.1h0m.1-31.9h0m.1 268.2h0m0-227.9h0m.2 164.2h0m0-264.5h0m0 349.8h0m0-313.6h0m.1 109.8h0m0 6.4h0m0-134.6h0m0 278.8h0m.1 14.5h0m0-28.4h0m.1 19.5h0m0-213h0m0 107h0m0 173.4h0m.1-255.8h0m.1-138.4h0m0-33.2h0m0 351.8h0m.2-302.8h0m.1 278.8h0m0-153.7h0m0 56.9h0m.1-56.3h0m0-140.8h0m0 193.6h0m.1 163.9h0m0-247.4h0m.1 197.5h0m0-141.4h0m0 198.1h0m0-10.6h0m.1-317.6h0m0 168.8h0m.1-115.8h0m0 98.5h0m0-67.1h0m.2-27.8h0m0 206.1h0m.1-241.3h0m0-33.5h0m0-54.5h0m.1 249.4h0m0-6.1h0m0 88h0m.1-192.1h0m0-30.8h0m.2-1.6h0m0 182.2h0m0-80.4h0m0 73.1h0m.1-91.5h0m.1-147h0m0 340.4h0m0-13.8h0m0-112.5h0m0-186h0m.1 52.9h0m.1 114.2h0m.1 39.5h0m0 15.1h0m0-87.7h0m0-186.2h0m.1 387h0m.1-249.6h0m0 117.7h0m0-14.9h0m.2-110.8h0m0 186.6h0m0 32.5h0m.1 7.1h0m.1-340.2h0m.1 305h0m0-35.1h0m0-113.9h0m.1 50.5h0m0-121.8h0m0-57.2h0m0 19.2h0m.1 214.9h0m.1-211h0m.1-14.5h0m0 227.7h0m.1-14h0m0-173.2h0m.1 70.4h0m.1 212.5h0m.1-326h0m0 350.5h0m.1-253.4h0m0 86.1h0m0 165.3h0m.1-356.6h0m0 141h0m0-192.7h0m.1 304.6h0m0-79.4h0m0 34h0m0-57.7h0m0-105.8h0m.1 265h0m0-232.8h0m0 248.6h0m.1-27.1h0m0-274.5h0m.1 36.5h0m.1-72.2h0m.1-29.2h0m0 210.6h0m.1-2.7h0m0 81h0m.3 51.7h0m.1-98h0m0 35.6h0m0-149.1h0m.1-99.6h0m0 124.7h0m0 3.5h0m.2-158.8h0m0 328.8h0m0 44.2h0m0-348.1h0m.2 14.5h0m0 310.6h0m0-127.9h0m.1 48h0m0 52h0m.1-254.6h0m0 164h0m.1-186h0m0 351.9h0m.1-400.9h0m.3 41.4h0m.1 179.6h0m.1-161.9h0m.1 76.2h0m.1-125.1h0m0 340h0m.1-42.4h0m.2-222.4h0m0 247h0m0-208.3h0m0 259.8h0m.1-319h0m0-53.8h0m0 90.5h0m0 119.1h0m0-227.8h0m.1 8.1h0m0 24h0m.1 67.6h0m0 161.4h0m.1-155.9h0m.1 8.9h0m.1-72h0m.1 196.1h0m0 164.6h0m0-103.9h0m.1 8h0m0-93.9h0m0 23.2h0m.1-108.6h0m0-142.9h0m.1 106.4h0m.1 283.6h0m0-53.8h0m0-310.9h0m0 149.2h0m.1 106.4h0m.1-93.3h0m.1 43.4h0m0-111.1h0m0-77.2h0m.1 43.9h0m.1-72.4h0m0 51.1h0m.1 156.4h0m.1 127.7h0m0-104.2h0m0 24h0m0 118.2h0m0-168.5h0m.3 9.9h0m0-159.1h0m0 364.3h0m.1-329.6h0m0 8.9h0m.1 192h0m0-179.1h0m.1-89.6h0m0 314.9h0m0-246.2h0m0 185.8h0m.1-29h0m0 71.2h0m0-88.7h0m.1-2.3h0m0 73.2h0m0-214.7h0m0-7.2h0m.1 261.7h0m0-41.8h0m.1 16.1h0m0-192.4h0m.1-122.4h0m.1 345.3h0m.1 5.1h0m0-159.1h0m0-52.8h0m0 248.2h0m.1-185.9h0m0 160.2h0m0-268.3h0m0 187.3h0m.1 118.6h0m0-214.6h0m.1-46.6h0m.1-123.6h0m.1 86.9h0m.1 46.8h0m0-80.8h0m0-8.8h0m0 119.7h0m.1 142.8h0m0-302.1h0m0 28h0m.3 366.5h0m.1-241.1h0m0-177.5h0m.1 266.1h0m.1-90.8h0m0-124.8h0m.1 44.2h0m0 229.5h0m0-56.1h0m.1-90.2h0m.1 160.3h0m0-334.5h0m.1 286h0m.1 23.9h0m0-43.2h0m0 73.1h0m.1-238.9h0m0-27.4h0m.2 254.7h0m0 14.5h0m0-339h0m.1 119.2h0m.1-59.7h0m0 280.8h0m.1-45.2h0m.1-266.6h0m.1 86.1h0m0 65.4h0m.1-190.1h0m0 399.5h0m.1-147.1h0m0-114.5h0m.1 76.2h0m.1 175.2h0m0-87.6h0m.1-184.6h0m.1 31.6h0m.1 172.1h0m.1-288.8h0m.1-19.4h0m0 126.5h0m0-8.7h0m0-72.5h0m.1 360h0m0-322.9h0m0-50.2h0m.1 379.3h0m0-210.3h0m0 124.8h0m0-101.6h0m.1-100.2h0m.1-57.2h0m0 293.1h0m0-79.6h0m.1-207.1h0m.1 81.8h0m.1 228.1h0m0-367.9h0m0 39.5h0m0 89.4h0m0-60.5h0m.1 4h0m0 198.2h0m0 12.9h0m.1 41.3h0m0-135.9h0m.1-58.1h0m0 66h0m0 67.9h0m0-189.2h0m.1 29.8h0m.1-47.9h0m0 297h0m.1-208.8h0m0 152.5h0m.1-85.7h0m.1-63.8h0m.1 191.9h0m0-348.6h0m.1 119.2h0m.1-17.4h0m.1-52.1h0m0 24.1h0m.1 309.6h0m0-351.7h0m.2 279.9h0m0-285.1h0m0 205.2h0m.1 113h0m0-279.4h0m.2-60.3h0m.1 176.1h0m.2-50.3h0m0 263.3h0m0-415.3h0m.1 344.9h0m0-195.7h0m0 49.3h0m0 123.5h0m0-83.2h0m0-32.4h0m.1 104.1h0m0-132h0m.1-165.3h0m0 359.3h0m0-124.2h0m.1-14.2h0m0 44.6h0m.1-257.6h0m0 282.1h0m.1 49.3h0m.1 11.3h0m.1-321.5h0m0 282.8h0m0 84.3h0m.1-114.1h0m.1-99h0m.1 29.5h0m0-155.2h0m.1 269.1h0m0-25.6h0m0 16.8h0m0-105.9h0m0-57.4h0m.1 77.2h0m0-90.4h0m0-41.7h0m0 303.7h0m.1-46.4h0m0-305.7h0m0 215.4h0m0-150.5h0m.1-114.9h0m0 274.8h0m0 2.3h0m.1 50.2h0m.1-154.6h0m.1 203h0m.1-298.9h0m.1 252.5h0m0-46.9h0m.1 26.7h0m0-185.1h0m.1 294.8h0m.1-335.8h0m0 285.2h0m.2-37h0m0 62.9h0m.2-13.6h0m0-171.6h0m0 175.4h0m.1-153.9h0m0 172.4h0m.2-267.4h0m.1-100.6h0m.2 324.5h0m0-112.5h0m0-86.6h0m.1-1.4h0m0 211.2h0m.1-101.4h0m0 109.1h0m0-264.2h0m.1 30.9h0m0-57.3h0m.2-93.3h0m0 338.4h0m.1 12.7h0m0-208h0m0-35.6h0m.1 38.7h0m.1-76.5h0m0-20.8h0m.1 271.4h0m0-220.6h0m0-105.8h0m.1 140h0m.1 148.1h0m.2-86.4h0m0 131.1h0m.1-214.7h0m0-97.4h0m.1 309.3h0m0-250.8h0m0 210h0m0 130.8h0m.1-162.2h0m0-173.4h0m0 10.3h0m0 97.5h0m.1-48.7h0m0 27.6h0m.1-2.5h0m0-144.7h0m0 183h0m0-139.2h0m.1 310.7h0m.1-126.5h0m0 136.7h0m0-184.6h0m.1-141.6h0m0 211.6h0m.1-278.6h0m0 418.3h0m0-171h0m0 12.4h0m0 43.7h0m.1-47h0m0-98.9h0m.1 24.4h0m.1-28.5h0m.1 14.7h0m.1-22.6h0m0 217.1h0m0 46.9h0m0-360.5h0m0 265.2h0m.1-59.9h0m0-17.2h0m0-9h0m.1 175.8h0m0-360.1h0m0 232.1h0m0 46.2h0m0-226h0m0 11.9h0m.1 304.4h0m.1-40.7h0m0-16h0m.1-128.8h0m.3-196.8h0m0-20.2h0m.1 317.2h0m0-209.4h0m0-72.3h0m0 130h0m.1-71h0m0 43.7h0m0-62.6h0m.1 328.1h0m0-154.8h0m0 13h0m.1-110.3h0m0 83.3h0m0 103.1h0m0 21.5h0m.1 18.2h0m0 38.1h0m.2-366.1h0m0 265.3h0m0-104.4h0m.1-209.4h0m0 294.5h0m0-264.6h0m0 192.6h0m.1-52.6h0m.3 220.6h0m.1-267h0m0-124.8h0m.1-11.3h0m0 16.1h0m.1 386.1h0m0 10.5h0m.3-54.9h0m0-113.9h0m0 9.6h0m0 92.8h0m0-28.2h0m.1 99.4h0m.1-258.6h0m0-155.4h0m.2 104.2h0m0 157.8h0m.1 101.2h0m.2 43.9h0m0-296.3h0m.2 12.6h0m0 101.2h0m0-14.5h0m.1 178.1h0m.1-38.4h0m0-70.1h0m0-149.3h0m.1 281.7h0m.1-144.5h0m0 62.8h0m.2-44.3h0m0-196.8h0m.1 192.4h0m.1-197h0m.1 301h0m0-319.3h0m.1 33h0m0 45.9h0m0 101.8h0m.1-93.1h0m.2 141.7h0m.1-220.5h0m0 87h0m0 173.2h0m0 1.9h0m0-12.2h0m.1-22.9h0m0 43.1h0m0-309.3h0m.1 40.6h0m0-65.9h0m0 347.2h0m.1-306h0m0 295.8h0m0-315h0m.1 7.8h0m.1 139.8h0m0-59.3h0m.1 192.1h0m0 31.6h0m0-39.4h0m.1-177.6h0m.1 291.8h0m0-197.7h0m.1-54.5h0m0-71.7h0m0 200.2h0m.1-290h0m0 145.9h0m.1 19.4h0m0-124.3h0m0-4.5h0m.1 204.3h0m.1 174.3h0m.1-42.5h0m0-69h0m0-45.8h0m0-138.9h0m0 143h0m0-232.1h0m.1 106h0m.1 198.4h0m0-231.2h0m0 168.8h0m.1 85h0m.1-167h0m.1 101.2h0m0-4.1h0m.2-108.1h0m.1 177.6h0m0-181.9h0m0-109.9h0m0 210.5h0m.1 144.3h0m0-106.8h0m.1-249h0m0 250.2h0m0-302.5h0m.1 195.6h0m0-98.1h0m.1 184h0m0-289.6h0m0 380.4h0m0-116.7h0m0-138.2h0m.1 95.1h0m0 110.9h0m0 47.6h0m.1-129.8h0m0 109.6h0m0-67.3h0m.2 129.7h0m.1-31.4h0m0 15.2h0m.1-248.8h0m.1 138h0m.1 93.8h0m0-230.7h0m0 254.5h0m.1-63.2h0m.2-270.5h0m0 118.8h0m0-176.1h0m0-18.3h0m0 336.7h0m0 10.6h0m.1-207.4h0m0-34.5h0m0-113.5h0m0 33.3h0m0 219.3h0m.1-194.3h0m0 223h0m.1-33.3h0m0 10h0m.1 78.2h0m0-15.2h0m.1-76.4h0m.1-72.9h0m0-152.6h0m0 318.2h0m.1-12.4h0m.1-225h0m.3 323.1h0m0-293.9h0m0 143.5h0m0 2.7h0m0-71.3h0m.1-189h0m.1 225.7h0m.1 173.7h0m0-339.4h0m.1 92.2h0m.1 132.6h0m0-179.6h0m0 183.4h0m.1 102.6h0m0-25.1h0m.1-27h0m.1-342.2h0m.1 314.6h0m0-203.1h0m0-31.7h0m.1-60.3h0m0 345.8h0m0-6.3h0m.1-156.1h0m0 171.5h0m0-26.6h0m.1 20h0m0-150.6h0m0 150.2h0m.1-369.8h0m.1 268.7h0m0-63.2h0m.3-164.3h0m0 234.9h0m.1-157.7h0m0 246.7h0m0-296.2h0m.1 26.8h0m.1-44.9h0m.1 25h0m.1 251.8h0m.1-149.2h0m0-175.7h0m0 355.2h0m.2-350.2h0m.1 138.5h0m.1 50.1h0m.1-104.5h0m0-57.1h0m.1 195.8h0m0 66.4h0m0-158.8h0m.1-141.3h0m.1 277.6h0m0-195.3h0m0 167.4h0m.2-149.9h0m0 11.1h0m.1 164.3h0m0 73.5h0m0-261.4h0m.1 139h0m0 32.3h0m.2 32.8h0m0-126.3h0m0 56.6h0m0 120.6h0m.1-158.9h0m.1 56.6h0m0 65.5h0m0-41.3h0m.1 118.6h0m0-276.7h0m0-73.6h0m0 157.7h0m0-57.2h0m.1-43.9h0m.1 261.6h0m.1-315h0m0 364.8h0m0-26h0m.1-7.9h0m0-85.3h0m.2 116.7h0m.1-196.4h0m0 199.8h0m.1-162.7h0m0 35.9h0m.1-165.7h0m0 18.1h0m0-81.5h0m.3-17.6h0m.1 28.8h0m0 296.3h0m.1-248.2h0m0 142.9h0m0-124.4h0m0 266h0m.2-294.9h0m0 124h0m.1 34.9h0m0-149.3h0m0 106.3h0m.1 58.7h0m0-36.7h0m0 96.2h0m0-241.5h0m.2-46.1h0m.1 252.4h0m0 28.9h0m0 63h0m.1-64.4h0m0-140.7h0m.2 161h0m0-118.4h0m.2 178.4h0m.1-213.6h0m0 17.4h0m0-196.3h0m0 352.1h0m0-329.6h0m.1 346.7h0m0-292.6h0m.1 205.9h0m0 26.3h0m0 16.1h0m.1-255.9h0m0-54.8h0m0 139.7h0m0 52.7h0m.1-162.9h0m0 63.2h0m0 172h0m.1-172.6h0m.1-46.1h0m0 140.8h0m0 18.3h0m.1 137.9h0m0-364.5h0m0 137.4h0m0-145.4h0m.1 106.6h0m.1-82.5h0m0 223.7h0m0-183.2h0m.2 238.4h0m0-30.8h0m.1 28h0m0 47.9h0m.1-280h0m.1-11.5h0m.1 186.4h0m.1-176.6h0m.1 100.4h0m.1 204.1h0m.1-29.2h0m.1-306.5h0m0 161.9h0m0-148.6h0m0 313.7h0m.1-323.9h0m0 151.5h0m.1-186.4h0m0 210.4h0m0 141.1h0m.1 14.6h0m0-126.6h0m.1 37.1h0m0 98.5h0m0-37.4h0m.1-287.9h0m0 9h0m.1 162h0m0-76.2h0m0-35.1h0m.1 104.7h0m0 71.4h0m.1 76.1h0m.1-228h0m.1 215.5h0m.1-166.8h0m0-165.4h0m0 45.5h0m0-32.8h0m.1 308h0m0-333.2h0m.1 101.7h0m0 265h0m0-274.6h0m0 298.2h0m0-233.4h0m.1 179.6h0m.2-60.2h0m0-243.3h0m0 378.7h0m0-197.2h0m.1-111h0m.1 145.8h0m.1-26.3h0m0-87.2h0m0 9.3h0m.1 262.8h0m0-171.4h0m0-240.4h0m0 192.7h0m.1-167.5h0m0 302.9h0m0-229.4h0m0-85.4h0m.1 355.8h0m0-353.3h0m.1 344.1h0m0-156.7h0m.1 174h0m0-326.9h0m.1 335.5h0m0-310.4h0m0 42.5h0m.1 228.6h0m0-248.8h0m0 57.2h0m.1-87.3h0m0 22h0m.1 188.7h0m0-269.1h0m.1 374.3h0m.3-157.8h0m.1-30.2h0m.1-83.8h0m.1 160h0m0-196.7h0m0 191.7h0m0 63.4h0m0 20.4h0m.1-280.4h0m0 65.7h0m0 177.4h0m.1-192.5h0m0 175.8h0m.1 118.3h0m0-383.2h0m0 213.9h0m0-46.8h0m.1-87.8h0m0-122.4h0m0 133h0m0 143.7h0m0-138.9h0m0 199.6h0m.1-240h0m0 319.7h0m.2 0h0m.1-14.1h0m0-258.9h0m.1-67.1h0m0 40h0m0-54.3h0m.1 52.5h0m.1 214.7h0m0-320.9h0m.1 361.5h0m0-214.2h0m.1 74.9h0m0-159.7h0m0-.3h0m.1 216.1h0m0-113h0m0 87.8h0m0-59.4h0m0 55.6h0m.1 44.4h0m.1 48.6h0m0-171.8h0m.1-103.9h0m0 179.5h0m.2 126.7h0m0 40.4h0m.1-160.3h0m.1-133.5h0m.1 129.1h0m.1 44.1h0m0 14.6h0m.1-219.2h0m0 73.7h0m0 73.9h0m0-49.1h0m.1 157.2h0m0-132.6h0m.1-67.6h0m0 263.1h0m.1-334.3h0m.1-78.1h0m.1 159.7h0m0-119.6h0m.2 189.3h0m0-210.2h0m.1-23h0m0 24.7h0m.1 387.4h0m0-13.3h0m0-249.3h0m0-89.9h0m0 143.8h0m0 64.8h0m.1-70.7h0m.1-177h0m.1 210.8h0m0-116.6h0m.1-108.2h0m0 260.6h0m0-17.6h0m.2-215.1h0m0-21h0m0 70.7h0m0-64.9h0m.1 209.3h0m0-163.4h0m0 298.7h0m0-41.5h0m.1-157.1h0m0-126.1h0m0 308.5h0m0-6.8h0m.1-33.8h0m.1-7.5h0m0-204h0m0 33h0m.1 63.4h0m0 241.9h0m.1-96.3h0m0-279.5h0m.1 346.9h0m0-325.8h0m.1-69.8h0m0 231.4h0m.1-160.9h0m.2 194.4h0m0-10.5h0m0-88.5h0m.1 112.5h0m0-100.8h0m0 33.7h0m.1 5.1h0m0-8.6h0m0 167.8h0m.1 20.7h0m0 4.1h0m0-261.5h0m.1-66h0m0 135.1h0m0 102.3h0m0-164.8h0m.1-21.3h0m.1-106.2h0m0 363.3h0m.1-46.5h0m.1-154.4h0m0 210.4h0m.1-8.2h0m.2-229.8h0m0 65.2h0m.1 132.4h0m0-80.6h0m.1 97.6h0m0-261.9h0m0 242.3h0m.1-166.3h0m.1 96.9h0m0-75.4h0m.1-100.5h0m.1 90.8h0m0-126.8h0m0 157.9h0m.1-133.1h0m0-85.7h0m0 401.1h0m.1-376h0m0 11.6h0m.2 16.2h0m0 277.2h0m.1 57.3h0m.1-20.2h0m0-38.4h0m0 34.5h0m.1-15.5h0m0-176.8h0m.1-160.9h0m0 134.4h0m.1-29.8h0m.1 102.7h0m0-46.2h0m0 69.9h0m0 112h0m0-286.2h0m0 240.1h0m0-310.6h0m.2 256.5h0m0-173.2h0m.3 134.9h0m0 25.9h0m0-35.3h0m0-167.7h0m.1 84.2h0m.1-12.2h0m.1 251.1h0m.1-130.9h0m0 169.1h0m0-22.8h0m.1-23.6h0m.1-232.2h0m.1 161.8h0m.1-93.4h0m0 200.5h0m0 31.4h0m0-387.5h0m0 83.2h0m0 140.3h0m.1-59.6h0m0-112.2h0m0 190.7h0m.2-83.9h0m.1 113.8h0m.1 12.1h0m.2 47.1h0m0-84.3h0m.1-10.6h0m0 116.7h0m0-100.8h0m.1 37.6h0m.1-201.6h0m0 174.3h0m.1-165.4h0m0-95.9h0m0 120.7h0m.1 125.7h0m0 18.7h0m0-193.4h0m0 309.8h0m.1-114.1h0m.1 9.8h0m0 68.8h0m.1-309.3h0m.1-12.5h0m.1 152.4h0m0 124h0m0-317.1h0m0 25.1h0m0 360.4h0m.1-41h0m0-357.7h0m.1 226.8h0m0-61.9h0m0 222.9h0m0-163.8h0m.1-106.8h0m0 158.5h0m0-273.4h0m0 262.3h0m.1 139.7h0m0-398.6h0m0 77.2h0m.1 95h0m.1 72h0m0-99h0m.1 155.1h0m0-320.4h0m0 10h0m.1 71.3h0m0 55.4h0m.1-22.1h0m0 158h0m0-94.3h0m.1-16.8h0m0-104.5h0m.1 200.2h0m0-184.1h0m0 250.6h0m.1-257.9h0m.1 352.1h0m.1-319.1h0m0-95.3h0m.1 54.9h0m0 321.6h0m0-252.2h0m.2-123.5h0m0 186.2h0m0 30.4h0m.1-92.9h0m0 279.4h0m0-266.9h0m.1 77.8h0m.1 183.5h0m.1-243.4h0m.4 165.7h0m.1-271h0m0 270.7h0m0 35.2h0m0-3.5h0m.1-67h0m.1-117.2h0m0 46.1h0m.1-52.6h0m0-5.1h0m0-57.1h0m.1 113.6h0m0-29.1h0m0 167.9h0m.1-4.7h0m.1-7.3h0m.1-181.2h0m0 19.4h0m0-60.7h0m.1 208.2h0m0-274h0m.1-3.8h0m0 35.3h0m.1 283.6h0m.2 1.4h0m.1-296.3h0m0 199.9h0m0-16.3h0m.1-105.7h0m.1-118.8h0m0 201.2h0m0 51.6h0m.1-179.1h0m0-5.2h0m0-63.4h0m0 206.9h0m.1-202.7h0m.1 291.3h0m0-312.1h0m0 143.2h0m0-65h0m0-5.5h0m.1 24.4h0m.2 196.7h0m0-38.9h0m.1 120.4h0m0-176.1h0m.1 105h0m0-207.7h0m0 246h0m0-189.2h0m.2 63.3h0m0-125.3h0m0 172.6h0m0 35.5h0m0-92.4h0m0 95.4h0m.1-70.7h0m0-238.8h0m0 295.4h0m.3-291h0m0 100.3h0m0-75.6h0m.1 213.4h0m.1 123.3h0m.1-305.6h0m0 112.4h0m0 81.6h0m0-140.7h0m.1 91.4h0m.1 64.3h0m0-139.1h0m0 82.2h0m.1 171.8h0m0-6.3h0m0-91.3h0m.1-264.7h0m0 327.3h0m.1 11.7h0m0-354.1h0m.1 202.1h0m0 154.1h0m0 51.6h0m0-154.8h0m.1-93.8h0m.1-153.4h0m0 291.2h0m0-267.7h0m.1 168.4h0m0 61.8h0m.1-16.3h0m.1 52.1h0m0-205.6h0m0 256.3h0m.1-9.7h0m.2-223h0m0 279.5h0m0-60.9h0m.1-146.5h0m0-98.9h0m0 133.7h0m0 107.6h0m.1-244.5h0m.1 124.3h0m0-39.2h0m.1 4.3h0m.1 169.2h0m0-345h0m0 52.9h0m.1 299.5h0m.1-326.7h0m0 111.8h0m0 227.9h0m0-179.3h0m.1-9.3h0m0 15.7h0m.1-121.1h0m0 46.6h0m0 197.1h0m.1-218.9h0m0 159.4h0m.1-212.8h0m0 251.6h0m0-235.1h0m.1 257.1h0m0 19.5h0m.1-63.4h0m0-261.2h0m.1 268.8h0m0 2.2h0m0 117h0m0-16.3h0m.2-314.6h0m0 35h0m0-104.4h0m.1 89.7h0m0-60.4h0m.3 111.9h0m0 220.2h0m.1-99.8h0m0-162h0m0 15.4h0m.1-99.2h0m0 300.7h0m0-306.5h0m0 110h0m.1-65.5h0m0-63.5h0m0 156.3h0m0-157.4h0m.1 414.7h0m0-274.7h0m0-142.6h0m.1 356.9h0m0 24.5h0m0-362h0m.2 162.9h0m0 134.2h0m.1-133.8h0m.1-24.3h0m0-27.1h0m.1-100.1h0m0 372.2h0m.1-131.9h0m0 99.5h0m.1-123.8h0m0-83.7h0m0 2.4h0m.2-43.6h0m.2-130.6h0m0 68.6h0m0-26.7h0m0 15.6h0m.1 66.9h0m0 189.4h0m0 8h0m0-298.4h0m.1 348h0m0-164.9h0m.1-27.3h0m0 18.1h0m0 138.6h0m0-247.7h0m.1 202.2h0m0-91.1h0m0-113.9h0m.1 104.1h0m.1 212.1h0m0-315.2h0m0 241.9h0m0-21.7h0m0-235.3h0m.1 2.8h0m0 189.6h0m.1-5.8h0m.2-85.4h0m0 250.3h0m.1-70.7h0m.1-229.8h0m.1 251.4h0m.1-262.5h0m0 31.5h0m0 39.7h0m.2 114.5h0m0-204.5h0m.1 100.2h0m.1 22.7h0m0 103.1h0m.1-77.1h0m.1 13.3h0m0 136.5h0m.1-6.3h0m.1-171.9h0m0-199.6h0m.1 72.5h0m.1 3.7h0m.1-18.5h0m0 53.4h0m0 282.7h0m0-175.7h0m.1-180.5h0m0 307.9h0m.1-18.6h0m0-230.4h0m0 84.6h0m0-73.8h0m0 162.9h0m.2 94.4h0m0-195.1h0m0 61.6h0m0 40.9h0m.1 108.8h0m.2-300.2h0m.1-73h0m.1 133.2h0m.1 141.2h0m0-96.4h0m0-46.9h0m.1 278h0m0-383.9h0m0 50.1h0m0 28.3h0m0 15.5h0m0 26h0m.1 221.4h0m0-38.7h0m0-60.9h0m.1 56.4h0m.1-110.7h0m0-90.7h0m0-89.9h0m0 316.7h0m.1 65.2h0m0-7h0m.1-14.8h0m.1-242.6h0m.1 70h0m0 108.2h0m0-56.3h0m0-88.2h0m0 191.1h0m.1-338h0m0 92.1h0m0 76.3h0m.1 75.3h0m.1-123.9h0m.1 208.2h0m0-383.8h0m0 144.6h0m.2 192h0m0-208.9h0m.1 30.2h0m0 172h0m0-269.1h0m0 36.2h0m0 228.7h0m0-284h0m.1 292.1h0m.1-181.6h0m.1 104.9h0m0 76.6h0m.1-16.1h0m0-63.3h0m0-239.2h0m.1 235.8h0m.1-63.3h0m0 63.9h0m.1-192.8h0m0 313.2h0m.2-129.1h0m0 61.2h0m0 49.8h0m.1-39.5h0m0-250.4h0m.1-41.4h0m0 341h0m0-260.8h0m0 49.2h0m0 126.4h0m.1 6.9h0m.3-288.4h0m0 12.1h0m.1 18.4h0m.1 11.5h0m.1 54.7h0m0 221h0m0 47.5h0m0 37.9h0m0-337.4h0m.1 256.7h0m0-191.3h0m.1 284.5h0m0-194.2h0m0 44.6h0m0 47.4h0m0-190.8h0m.1 57.8h0m0 5.9h0m.3 227.4h0m0-27.3h0m0 36.5h0m.1-71.5h0m0-114h0m.1-90.4h0m.1 166.2h0m0-93h0m.1-157.9h0m.1 304.2h0m0-29.9h0m.1-86.3h0m0-141.2h0m.1 158.4h0m0-244.1h0m.1 400.8h0m0-66.3h0m.2 47.3h0m.2-330h0m0 36.5h0m.1-15.9h0m0-90.1h0m.1 132.1h0m.2 163.1h0m0 77h0m.1-296h0m0 192.9h0m0-235.7h0m0-8.4h0m0 185.2h0m.1-38.3h0m0 56.8h0m.1-127.1h0m.1 237.6h0m0-280.5h0m.1 66.3h0m0-60.1h0m.1 216.2h0m.1 53.9h0m0-185.5h0m0-54.3h0m0 282.4h0m0-356.8h0m.2 45.3h0m0 249.9h0m.1 78.7h0m.2-313.3h0m.2 85.6h0m0 264.4h0m0-379.8h0m0 225.8h0m0-78.5h0m.1-86.6h0m0-8.6h0m0 256.9h0m.1-341.5h0m0-8.7h0m0 120.8h0m0-18.4h0m.1-52.7h0m0 360.3h0m.1-310.7h0m.1-7.4h0m0 238.6h0m0 46.7h0m.1 4h0m0-349.5h0m.1 290.3h0m0-272.6h0m.1 267.9h0m0-141.9h0m0 132.1h0m0-87.7h0m0 43.6h0m.2 94.8h0m0-343.9h0m0 375h0m.1-266.5h0m0 273.7h0m0-339.6h0m.1 29.6h0m.2 78.9h0m.2 147.1h0m0-56.1h0m0-31.8h0m0 144.1h0m.1-285.6h0m0-63.6h0m0 318h0m0 18.8h0m.1-77.9h0m0-128.2h0m0 189.9h0m0-53.2h0m.1-104.7h0m0-19.1h0m.1-38.9h0m.1 198.4h0m.1-208.5h0m0-8.4h0m.1 289.1h0m0-242.3h0m0 96.5h0m0 170.9h0m.1-80.8h0m0-319.3h0m0 198h0m0-124.5h0m0 280.6h0m.1-257.3h0m.1 63h0m.1 87.2h0m0 14.6h0m.1-169.1h0m0 216h0m0 12h0m0-277.1h0m0 112.9h0m.1 167.1h0m0-191.1h0m0-60h0m.1 303.3h0m0-181.6h0m0 119.9h0m0-104.7h0m0-146.7h0m.2 231.6h0m.2-56.2h0m0 121.5h0m0-66.4h0m.1-205.5h0m0 61.5h0m0-92.1h0m.1 55.1h0m0 179.1h0m.1-283.8h0m.1 351h0m0 32h0m0-119.9h0m0 128.1h0m.1-288.4h0m0 182.2h0m0-280.4h0m.2 358.3h0m0-256.9h0m.1 262.8h0m0-348.5h0m0-4.3h0m0 334.9h0m.1-181.8h0m0 67.3h0m0 94.9h0m0-182.9h0m.2 4.5h0m0-119.3h0m.1 251.7h0m.1-104.9h0m0 133h0m.1-249.3h0m.1 271.3h0m0-92.4h0m.1-259.9h0m0 252.2h0m.1 15.1h0m0 139.9h0m0-416h0m.1 334.1h0m0-92.1h0m.1-105.5h0m0-17.5h0m.1 91.1h0m0 147.2h0m0-14.6h0m.1-82.1h0m.1-95h0m0-38.2h0m.2 262.3h0m0-374.1h0m0 89.6h0m0-98.3h0m0 13.5h0m0 93.6h0m.1-75.5h0m.1 290.2h0m.1-259.4h0m.1 47.6h0m0-97.5h0m.1 77h0m0 68.5h0m.1-65h0m.2 186.3h0m.1-236.5h0m0 244.4h0m.1-214.2h0m0 320.4h0m0-366h0m.1 50.2h0m0 72h0m.1 256.3h0m0-181.2h0m0 177.6h0m.1-301.5h0m.1 245.1h0m.1-72.1h0m0-152.4h0m0 233.3h0m.1-48.7h0m0-269.4h0m0 257.5h0m0-33.5h0m0 31.5h0m.1-211.4h0m0-16.4h0m0-38.8h0m.1 302.9h0m0-337.7h0m.2 208.7h0m.1-130.9h0m.1 114.7h0m0-72.8h0m0 59.7h0m.1 231h0m.1-213.4h0m.1-19.1h0m0-63h0m.1 237.5h0m0-268.2h0m0-55h0m.1-15.4h0m0 350.7h0m0-338.2h0m0 167.3h0m.1 25.8h0m0-77.5h0m.1-101.1h0m.1 347.7h0m0-329.8h0m.2 29.3h0m0 288.2h0m0-336.9h0m.1 112.7h0m0 164.5h0m0-22.2h0m.1-47.8h0m0-174h0m.1 2h0m.1 247.9h0m0-162h0m0-133.9h0m.1 128.6h0m.1-16.8h0m0 170.2h0m0 40.5h0m0-141.5h0m.1-215.9h0m0 227.7h0m.3-213h0m0 233.6h0m.1-48.9h0m0-200.8h0m.1 305.8h0m0-287.1h0m.1 24.8h0m0 35.3h0m.1-56.9h0m0 373.8h0m.1-112.5h0m.1 127.6h0m0-391.5h0m.1 290.5h0m0-173.1h0m.1-35.3h0m.1-93.7h0m.1 137.8h0m.1 97.3h0m0-25.4h0m0-51h0m.1-13.7h0m0 137.1h0m.1-203.6h0m.1-23.3h0m0 357.5h0m0-53.9h0m.1-371.5h0m.2 369.9h0m0-352.3h0m0 226.8h0m0-191.4h0m0-39.6h0m.1 120.8h0m.2 129.1h0m.1-194.9h0m0 354.3h0m.1-24.7h0m0-317.5h0m0-65h0m.1 48.4h0m0 299.6h0m.1 30.3h0m0-352.4h0m.1 201.6h0m.1-51.3h0m.1-45.7h0m0 29.9h0m0 128.6h0m0-194.5h0m0-97.2h0m.1 124.6h0m.1 67.5h0m.1-4.5h0m.1 106.2h0m0-292.6h0m0 260.5h0m0 27h0m.1-104.4h0m0-166.3h0m.1 164.3h0m.1 202h0m0-304.3h0m.1 87.1h0m0 241.4h0m.1-136.6h0m.1 94h0m.2-84.4h0m0-229h0m.1 65.5h0m0 65.2h0m0 101.3h0m.1 108.9h0m0-356.6h0m0-21.3h0m.1 380.9h0m0-216.3h0m0 178.8h0m0-36.6h0m.1-151h0m0 56.1h0m0-155.9h0m0 346.1h0m.1-334h0m0 116.8h0m.3 22.6h0m.1 90.5h0m0 17.9h0m0 14.3h0m.1-49.7h0m0 66.7h0m0-213.9h0m.1 126.2h0m0 139.7h0m.1-321.8h0m0 17.2h0m0 239.4h0m0-229h0m.3 257.8h0m0-88.8h0m0-254h0m0 251.7h0m.1-133.5h0m0-135h0m0 120.7h0m0 244.1h0m.1-362.8h0m0 99.8h0m.1 153.2h0m0-139.7h0m.1-67.4h0m.1 90.1h0m0 256.2h0m0-179.1h0m.1-170.4h0m0 120.9h0m0 204.9h0m0-354.8h0m0 54.2h0m.1 326.3h0m0-223.6h0m0 19.3h0m.1 97.3h0m0-41.2h0m.1 122.1h0m0-205h0m0 127.3h0m.1-95.7h0m0-22h0m.1 11.2h0m0-211h0m.1 363.8h0m0-289.3h0m.2 229.1h0m0-206.4h0m.1 240.3h0m.1-167.8h0m0 43h0m0-136.5h0m0 67.3h0m0 211.5h0m0-298.8h0m0 158.1h0m0 202.8h0m.1-35.2h0m.1 48.5h0m0-336.7h0m0-89.4h0m.1 317.6h0m0-256.1h0m0 37.7h0m.1-105.4h0m0 113.2h0m0 149.9h0m.1 148.4h0m0-286.7h0m0 187.2h0m.1 106.7h0m.1-136.5h0m0-2.3h0m0-248h0m.1 348.8h0m0-320h0m.1-63.2h0m0 301.8h0m.1 78.4h0m0-87.6h0m0 116.7h0m0-286.5h0m0 168.4h0m.1 117.2h0m.1-358.1h0m0 248.1h0m.1 51.3h0m.1 2.9h0m.1-161h0m.1 201.1h0m0-212.4h0m.1 247.7h0m.1-354.4h0m0 139.3h0m.1-155.8h0m0 325.8h0m0-69.9h0m.1-183.7h0m0 266h0m.1-263.7h0m0-125.9h0m.1 7.1h0m0 174.3h0m.2 67.5h0m.1 27h0m0-71.9h0m.1 160.2h0m.1-146.1h0m0 186.7h0m.2-367.4h0m0 185.8h0m0-54.4h0m.2-19.4h0m.1-143.7h0m0 68.4h0m.1 231.2h0m0 6.8h0m0-222.4h0m.1 287.7h0m0-131.8h0m0-207.9h0m.1 296.5h0m.1 83.7h0m0-312h0m0 141.6h0m0 150.1h0m0-337.6h0m.1 264.6h0m0-260.1h0m.1 262.5h0m0-172.4h0m0 73.2h0m.1-57.9h0m0-23.1h0m0-10.2h0m0-3.1h0m.1-89.2h0m0 142.5h0m0-77.7h0m.1-97.3h0m0 254.9h0m0 27.4h0m0-130.5h0m.1 12.8h0m0 179.2h0m.1-154.3h0m0-121.7h0m.1-84.3h0m0 386.1h0m.3-33.6h0m.1-164.2h0m0 217.9h0m0-69.1h0m0-112.6h0m.1 121.4h0m.1-160h0m0 154.8h0m0 1h0m0-85.1h0m.1-199.7h0m0 78.7h0m.1 118.4h0m0 48.6h0m.1-273.5h0m.1 61.6h0m0 109.1h0m0-123.1h0m.1 217.4h0m0 8.9h0m.1-163.7h0m0-81.6h0m0-40.1h0m.1 357.3h0m.1-88.2h0m0 15.8h0m0-65.7h0m0 31.8h0m.1 136.9h0m0-65.2h0m.1-278.5h0m0 239.1h0m.2-293.7h0m0 403.4h0m.1-397h0m0 72.4h0m0 322.1h0m.1-326.1h0m0 244.4h0m0-20.7h0m0 25.3h0m.1-108.4h0m.1-184.7h0m.2 355.7h0m.1-7.9h0m.1-341.1h0m.1 315.3h0m0 32.6h0m0-203.3h0m.2 238.6h0m0-102.1h0m0-156.9h0m.1-65.1h0m.1-82h0m0 312.2h0m.1 54.7h0m.2-234.3h0m.1-82.9h0m.2 109.3h0m0-9h0m0 30.1h0m0 34.5h0m0-76.4h0m.1-64h0m.1 337.7h0m0-126.8h0m.2 64.8h0m0-100.2h0m0-52.2h0m.1-99.7h0m0 288.8h0m.1-371.4h0m0 30.6h0m0-32.9h0m0 320.9h0m0-214.5h0m.1-93.2h0m0 171.4h0m.1-69.7h0m0 150.6h0m0-256h0m.1 338.4h0m0-361.1h0m0 274h0m.1-221.6h0m.1-57.5h0m0 114.2h0m0 53.5h0m.1 119.4h0m0 9.8h0m0-105.1h0m0 160.5h0m.1-19.3h0m0-41.3h0m0 48.7h0m0-31.6h0m0-283.5h0m.2 320h0m0 35.1h0m.1-158.7h0m0-211.1h0m.1 54.2h0m0 299h0m.1-40.7h0m0-72.6h0m.2-60.2h0m0 120.3h0m0-186.3h0m.1 12.7h0m0 223.1h0m.2-135.2h0m0 174.3h0m0-219.1h0m.1 104.5h0m0-260.9h0m0 128.2h0m.1-27.8h0m.1 33.3h0m0-19.7h0m0 16.3h0m.1 84.3h0m0-145.8h0m.1 310.7h0m0 7.4h0m.1-82.7h0m0-198.2h0m.1-91.3h0m.1 260.7h0m0 70.3h0m.1-21.5h0m.1-262h0m0-12.8h0m.1 236h0m.1-265.8h0m0 248.3h0m.1-155.8h0m.1 189.7h0m0-243.8h0m0 12.5h0m.1-34.2h0m0 226.7h0m0-186.1h0m0 193.3h0m.1-29.7h0m0-161.6h0m0-111.8h0m.1 118.8h0m0 112.6h0m0-224.3h0m0 346.2h0m.1-40.3h0m0 14.7h0m.1-121.9h0m.1 208.8h0m0-392.5h0m0 54.8h0m.1 222.6h0m0-155.4h0m.1 276.1h0m0-22.5h0m.1-365.5h0m.1 119.9h0m0-33.5h0m.1 250.8h0m.2-269.5h0m0 164.4h0m.1 18.6h0m.1 113.8h0m.1-310.2h0m.1-18.3h0m0 221.7h0m0-140.5h0m0 190h0m.2-199.7h0m0 38.2h0m0-98h0m0 18.6h0m0 81.8h0m.1-152.7h0m.1 47h0m0 6.6h0m0 279.8h0m0-160.3h0m.3 219.2h0m.1-74.2h0m.1-348.3h0m.1 45.5h0m0 110.1h0m0-35.3h0m.2 234.6h0m0-167.5h0m0-195.7h0m0 268.7h0m.1-20h0m0-28.4h0m.1 87h0m.1 87.7h0m.1 .7h0m0-257.1h0m.1-88.3h0m0 204.2h0m0-149.7h0m.1 18h0m0 120.5h0m0-51.5h0m.1-157h0m0 402.3h0m.2-112.8h0m0-186.8h0m.1 245.6h0m0-92.9h0m.1 83.2h0m0-178.8h0m0-102.6h0m.1 224.4h0m.1-150.6h0m0 214.1h0m.1-187.2h0m0 90.7h0m.1 25.7h0m0 116.3h0m.1-323.3h0m0 145.5h0m0 10.5h0m.1-120.7h0m0 203.3h0m.1 49.5h0m.1 25.7h0m.1-32.8h0m0 19.9h0m.2-5.8h0m.1-33.7h0m0-222h0m0-21h0m0-96.3h0m.1 398h0m.1-49.1h0m0-130.7h0m.1-25.1h0m.1 147h0m0-363.6h0m0 320.9h0m.1-294.3h0m0 207.9h0m.1-163.7h0m.1 112.6h0m.2 162.6h0m.2-33.5h0m0 28.7h0m.1 7.8h0m0-17.4h0m.1-11.2h0m0-317.4h0m0 398.6h0m.1-361.2h0m0-26.6h0m0 221.1h0m.1-29.8h0m0-102.7h0m.2-78.5h0m0 343.8h0m.2-287.4h0m.1 174.1h0m0-80.6h0m0-86.8h0m0 348.4h0m.2-212.4h0m0 71.9h0m0 92.9h0m.1-203.7h0m.1 193.7h0m.1 33.2h0m0-311h0m.1 319.1h0m0-217.9h0m0 195.7h0m.1-16h0m.1-174.2h0m0-54.2h0m0-27.4h0m.2 68.3h0m0 133.1h0m.1-278.8h0m.1-1.7h0m0 86.9h0m.1 14.1h0m0 177.9h0m0 89.5h0m.1-43.7h0m0-338.1h0m.1 300.9h0m.1-156.3h0m.1 109.5h0m.1 133.8h0m0-261.6h0m0 133.6h0m.1 49.2h0m0-229h0m.2 206.7h0m0-222.1h0m.3 192.7h0m0-41.8h0m0-7.4h0m.1-28.8h0m.1 208.1h0m0-31.4h0m.1-137.1h0m0-240.3h0m.1 347.2h0m.1-321.8h0m.1 210.5h0m0-125.1h0m0 46.6h0m.1 188.4h0m0 34.3h0m.1-206.4h0m0 146.5h0m.1-50.5h0m0-191.9h0m.1 89.7h0m0 105.7h0m0-164h0m.1 16.3h0m0 107.9h0m.1 160.2h0m0-182.7h0m0-130.2h0m.2 78.6h0m.2 104.2h0m0-127.1h0m.1-71.8h0m0 142.6h0m0-98.6h0m.1 276.8h0m0-297.7h0m0 248.6h0m0-68.6h0m0-95.7h0m0-154.2h0m.1 77.3h0m.2 300.8h0m0-171.2h0m.1 5.6h0m0-221.3h0m.1 229h0m0 170.4h0m0-413.1h0m.1 308.7h0m.1 9.8h0m.1-129h0m0-50.9h0m.1 107.7h0m.1 130.8h0m0-324.8h0m.1 197.8h0m0-253.6h0m.1 186.2h0m0 192.1h0m0-288.4h0m.1-60.3h0m0 193.5h0m0-20h0m0-29h0m.1 123.6h0m0-39.1h0m0 57.4h0m.1-228.8h0m0 113.6h0m0 156.3h0m.1-237.7h0m.1 159.2h0m0-99.2h0m.1 185.8h0m0-240.9h0m0 49.2h0m.2-153.2h0m0 124.8h0m.1 243.3h0m0-280.6h0m0 201h0m.1-80.3h0m.1-22.1h0m0 36.7h0m0-86h0m.1 242.3h0m.2-139.7h0m0 166.8h0m0-366.7h0m.1 181.3h0m.1-190h0m0 369.1h0m.1-90.3h0m0-3.5h0m.1-258.6h0m.2 219.5h0m0-25.7h0m0-150.3h0m0-94h0m.1 193.3h0m0 47.4h0m0 138.2h0m0 10.7h0m.1-128.4h0m.1-251.7h0m0 110.3h0m.2 211.3h0m0-72.6h0m0-49.8h0m.2-9h0m0-174.3h0m.1-2.7h0m0 203h0m.2-167.5h0m0-37.6h0m.1-27.1h0m0 284.7h0m.1 77.9h0m0-159.6h0m.1 93.8h0m0-153.9h0m.1-99.9h0m0-12.5h0m.1 55.5h0m0-82.5h0m.1 136.7h0m0 114.8h0m.1 37.1h0m0 62.9h0m0-44.4h0m0-63.7h0m.1 114.6h0m0 28.5h0m0-403.7h0m.1 255h0m.1-143.6h0m0 269.7h0m0-288.6h0m0-69.4h0m.1 147h0m0 217.9h0m.1-354.4h0m0 91.3h0m.3-37.9h0m0-8.5h0m0 178.6h0m.1-21.9h0m.1-100.1h0m.2 234.3h0m0-140.5h0m.1-217.8h0m0 409.3h0m0-314.9h0m0-79.7h0m.2 98h0m.1 104.6h0m0-157.4h0m0 49.8h0m0 125.9h0m.1 92.9h0m0-333.2h0m.1 273.5h0m0-231.4h0m0 49.7h0m.1 32.1h0m.1 218.5h0m0-151.5h0m.1 68.6h0m0-53.2h0m0-17.9h0m.1 122.4h0m.1-216h0m.1 172.3h0m0 146.1h0m.2-372.8h0m.1 125.8h0m0 147.3h0m.2 27.1h0m0-233.8h0m0-90h0m.3 378.9h0m0-259.5h0m.1 108.5h0m0 72.8h0m0-127.5h0m.2-66.7h0m0 145.5h0m0 131.5h0m0-107.5h0m.1 61.8h0m0-341.6h0m.1 186.9h0m0 164.6h0m.2-209h0m0 56.3h0m0-218h0m0 145.3h0m.2-60.1h0m0 4.3h0m0-60.6h0m.1 207.9h0m.1-236.4h0m.1 7.9h0m.1 293h0m.1-222.4h0m0 32.1h0m0 149.7h0m0-82.5h0m.1-115.5h0m0-2.5h0m0 145.5h0m.1 180.7h0m.1-3.3h0m0-55.4h0m.1-39.9h0m0-147.4h0m.1 63.9h0m0 210.6h0m0-54.8h0m.2-209.8h0m0 94.9h0m.1-43h0m.1-99.6h0m0 244.4h0m0-225.4h0m0-64.3h0m.1 134.7h0m.1 159.5h0m0-164.3h0m.1 169.3h0m.1 40.8h0m0-91.2h0m.1 37.7h0m.1-293.8h0m.2 285.9h0m0 81.7h0m0-316h0m0 216.4h0m.2-150h0m0 178.7h0m0-55.3h0m0-194.5h0m.1-41.3h0m.1 370.1h0m.1-126.8h0m0-142.4h0m0-40.8h0m0-5.5h0m.1 318.8h0m.1-41.9h0m0-356.3h0m0 392.8h0m.1-315.6h0m.1 128.7h0m0-56.3h0m.1 169.6h0m.1 29.6h0m0-126.3h0m0 108.7h0m.1-200h0m0 66.1h0m.1-83h0m0 93.7h0m0-103.8h0m.1 85.9h0m0 25h0m0 88.2h0m.1-20.2h0m.1-279.1h0m.1 379.1h0m0-25.6h0m.1-76.8h0m0-61.7h0m.1 35.8h0m0-175.4h0m0 123.4h0m.1-79.8h0m.1 144.3h0m0-268.6h0m0 342.3h0m0-121.3h0m.1 21.4h0m0-73.6h0m.1 192.7h0m.1-52.7h0m0-286.4h0m0 274.2h0m.1 107.7h0m.1-33h0m0-180.8h0m.2-169.9h0m0 218.2h0m.2 21.8h0m0-158.3h0m0 16.1h0m.1 193.8h0m0-244.2h0m0 130.6h0m0 135.9h0m.1 15.6h0m0-237h0m0-58.6h0m0-29.1h0m.2 79.4h0m.1 48.4h0m.1-13h0m.1-9.8h0m0-106.4h0m0 51.1h0m0 186.2h0m0 134.3h0m.1-103h0m.1 86.5h0m0-159.4h0m0-13.7h0m0-90.8h0m.1 142.4h0m0-81.1h0m.1-182.5h0m.1 199.2h0m0-205.9h0m.1 313.3h0m.2 13.3h0m0-291.4h0m.1 275.9h0m0-156.6h0m.1-50.7h0m0-1.9h0m.1 259.6h0m.1 51.6h0m.1-392.3h0m.1 275.3h0m0-145.3h0m.1-38.7h0m.1-34.7h0m0 172.8h0m0-253.5h0m.1 67.4h0m.1 6.3h0m0 242.2h0m0-29.4h0m.1-158.2h0m.1-105.1h0m0 272.8h0m0-59.2h0m0-211.8h0m.3 276.9h0m0-186.7h0m0 10.3h0m.1-13.5h0m0-89.9h0m0 153.6h0m.1-132.5h0m0 299.1h0m.1-241h0m0 178h0m.1 103.3h0m0-384.4h0m.1 58.1h0m0 49.3h0m0 167.6h0m0 125.8h0m.1-107.8h0m0-126.5h0m0 206.3h0m0-294.5h0m.1 312.3h0m0-143h0m0-96.6h0m.1-82.3h0m0 138h0m.2-120.1h0m.1 107.8h0m0-110.5h0m.1-44h0m0 46.6h0m0-33.8h0m.1 68.3h0m.1 193h0m.1-13.5h0m.1 109.6h0m0-407.3h0m0-14.8h0m.1 127.2h0m.1 72.2h0m0-187.9h0m0 402.5h0m.1-392h0m0 343.5h0m.1-150.7h0m.1-143.8h0m0 217.4h0m.1-63.5h0m.1-90.1h0m0 30.7h0m0 178.8h0m0-219.8h0m.1 33.2h0m.2 115.8h0m.1-258.8h0m.1 358.2h0m0-340.8h0m.1 71.7h0m0 293.5h0m0-334.8h0m0 296h0m0-153.8h0m.1-3.2h0m0-106.7h0m0 55.5h0m0-18.4h0m0 197.8h0m0-86.3h0m.1 5.2h0m0 94.1h0m0 35.3h0m.1-265h0m0 83.6h0m0 30.8h0m.1-174.6h0m0 89.6h0m0 3.4h0m.1 137.6h0m.1-189h0m0 208.8h0m.1 122.6h0m0-196h0m0 131.8h0m0-339.8h0m.2 403.8h0m.1-16.5h0m0-152.3h0m0 111.2h0m.1-278.1h0m.2-63.1h0m0 134.5h0m.1 216.9h0m0-196.2h0m.1 2h0m.1-38.6h0m.1 4h0m0 38.9h0m.1 225.2h0m0 9.3h0m.1-358.2h0m.2 257.7h0m.1 9.4h0m0-65h0m.1-226.5h0m0 352.4h0m0-258.9h0m.1 27.8h0m0 116.5h0m0-139.5h0m.1 60.5h0m.1-14h0m0-78.5h0m.1 16.3h0m0 241.7h0m0-137.4h0m0-212.9h0m0 46h0m.1 316.7h0m0-306.5h0m.1-40.7h0m0 259.6h0m0-80.4h0m0 165.5h0m0-262.9h0m.1 141.3h0m0-15.2h0m.1-68h0m0 230.1h0m.1-227.2h0m0-85.2h0m0 135.3h0m0 23.8h0m0 55.5h0m.1-35.4h0m.1-139h0m.1 82.5h0m.1-108.3h0m0 111.3h0m.2-68.6h0m.2 85.2h0m.1 75.7h0m.1 33h0m0-208.2h0m0 287.7h0m0-415.6h0m.1 103.4h0m0 221h0m.1-20.7h0m0-44.6h0m0-43.7h0m.1-30.7h0m.1-9.8h0m0 89.8h0m.1-9h0m0 29.4h0m0 74.3h0m.1-17h0m0-26.9h0m0-260.3h0m.1 349h0m0 3.5h0m.1-19.3h0m0-314.5h0m0 5.8h0m.1 305h0m.1-133.9h0m.1 149.1h0m.1-342.2h0m0-16.7h0m0 110.8h0m0 177.8h0m0-151.2h0m.1-93.1h0m0-74.3h0m.1 74.8h0m0-35.8h0m0 139.7h0m.1-47h0m.1 21.1h0m0-143.4h0m0 160.4h0m.2 99.9h0m0 7.5h0m.1-165.3h0m0 124.3h0m.2-229.8h0m0 88.8h0m0-84.2h0m0 255.4h0m.2-189.7h0m0 208.8h0m.1 4.1h0m0 105.9h0m0-201.3h0m0-75.4h0m0-19.1h0m.1 44.6h0m0 43.1h0m.1 200.2h0m0-62.8h0m.1 53.8h0m0-23h0m0-21.9h0m.2 24.9h0m0-329.4h0m.1-21.2h0m0 304.4h0m0 93.7h0m.1-223.8h0m.1 97.1h0m0 134.6h0m.1-306.8h0m0 127.3h0m0-180.7h0m0-8.9h0m.1 216.2h0m.1-219.4h0m.1 85.3h0m0 250.1h0m0-287.8h0m.1-55.8h0m0 93.8h0m0 162.3h0m0-206.1h0m0 237.6h0m.1-280.9h0m0 64h0m0 50.1h0m.1-86.4h0m0 213.4h0m.1-105.3h0m0 217.4h0m.1-211.8h0m0-181.5h0m0 412.3h0m0-27.1h0m.2-185.4h0m0-84.7h0m.1-75.1h0m0 3.1h0m0 371.2h0m0-174.9h0m.2 74.6h0m0 108.6h0m0-26.2h0m.1-156.7h0m0-63.6h0m.1-116.1h0m0 94.2h0m.1 214.1h0m0-229.1h0m.1-50h0m0 168.4h0m0-44.1h0m.1 36.5h0m0 99h0m0-187.5h0m.1 186.4h0m0-1.9h0m.1 63.8h0m.1-142.6h0m0-3h0m0 126.8h0m.1-86.1h0m.1-111.9h0m.1 173.5h0m0-41h0m0-221.5h0m.1 227.3h0m0-181.2h0m0-159.8h0m.1 6.3h0m0 341.6h0m0-153.7h0m0 174.5h0m.2-122.3h0m.1-208.6h0m.1 90.4h0m0 31.6h0m.1-70.6h0m0 201h0m.1-178.5h0m0-1.8h0m.1-66h0m.1 28.6h0m0 143.3h0m0 156.7h0m.1-34.4h0m0 34.1h0m0-4.8h0m.1-349.7h0m.1 46.2h0m0 172.8h0m0 90.6h0m0-40.5h0m.1-68.9h0m.1-185.8h0m0 376.5h0m0-154.6h0m0-197.4h0m.1 298.7h0m.1-358h0m.1 337.8h0m.1 68.3h0m0-378.9h0m0 107.1h0m0 168h0m0-274.8h0m0 157.6h0m.1-69.6h0m.2 249.9h0m0-92.7h0m0 6.9h0m.1 30.7h0m0-237.9h0m0 231.3h0m.1-123.9h0m0-168.9h0m.1 317.1h0m0-233.7h0m.1 277.7h0m0 31.6h0m0-89h0m.2-14h0m0-160h0m.1 254.9h0m0-271.3h0m0 196.2h0m.1-131.5h0m0 72.1h0m.1-191.4h0m0 318.2h0m0-35.5h0m.1-247.1h0m.1-.4h0m0 121.5h0m.1-188.6h0m0 257.5h0m.3-109.8h0m.1 235h0m0-168.4h0m0 103.1h0m.2-38.8h0m0-171.5h0m0-115.5h0m.1 50.2h0m.1 129.3h0m.1 148.9h0m0-61.4h0m0-190.4h0m.2 214.6h0m0 44.6h0m0-339.7h0m.1 12.2h0m.1 16.6h0m0 53.3h0m0-43.8h0m.2 249.7h0m0 64.1h0m0-5h0m.2-89.5h0m0-196.2h0m0 61.8h0m0 77.7h0m0-136h0m.1 26.4h0m.1-68.2h0m0 297.7h0m.1-314h0m0 223.4h0m0-98.8h0m.1 278.6h0m0-393.1h0m.1 89h0m0 40.2h0m0 96.6h0m.1 128.8h0m0-243.6h0m0-119.2h0m.1 128.1h0m.1 204.5h0m0-32h0m0 93.9h0m0-394.7h0m0 19.1h0m.1 148.1h0m0 181.5h0m.1-228.6h0m0 188.8h0m.1-226.3h0m0 227.1h0m.2-189.6h0m0 134.7h0m.1 125.6h0m.1-57.1h0m0-283.5h0m.1 348.8h0m0-278.5h0m0 104.8h0m.1 114.5h0m.1-189.4h0m0-41.6h0m0-70.8h0m.1 31.4h0m.1 121.2h0m.1-147.6h0m.1 62.8h0m.1 80.1h0m0 36h0m.1 28.7h0m.1-53.1h0m.1 126.9h0m0-33.2h0m0-211.6h0m.1 18.1h0m0 115.2h0m0 189.8h0m0 2h0m0-386.4h0m0 300.9h0m.2-201.6h0m0-24.7h0m.1-44.9h0m0-11.5h0m0 249.9h0m.1-64.8h0m0 82.8h0m0 67.2h0m0-332.6h0m0 372.9h0m.1-266.2h0m.1 221.1h0m0-126.7h0m0-45.7h0m0 184.2h0m.1-195.5h0m.1-132.5h0m0 151.4h0m.2 198.9h0m0-378.8h0m.1 273.8h0m0 2.3h0m0-183.3h0m.2 43.1h0m.2-172.6h0m0 409.8h0m.1-162.9h0m0-23.2h0m0-179.5h0m0 2.6h0m0 215.4h0m0 30h0m.1-145.7h0m0-126.5h0m.1 58.5h0m.1 18.9h0m0 3.8h0m.2 254.4h0m0-353.4h0m0 418.8h0m.1-330.8h0m0-78.6h0m0 45.7h0m.1 341.9h0m0-207.6h0m.1 8.8h0m0-85.3h0m0-6.2h0m0 220.2h0m.1 27.8h0m0-196.9h0m.1 33.8h0m.1 119.5h0m0-191.5h0m.1-122.2h0m0 30.6h0m.1 350.2h0m0-306.6h0m.1 161.4h0m0-64.6h0m.1 126.5h0m0-135.4h0m0 140.2h0m0-274.7h0m0 180.5h0m.1 190.1h0m0-290.1h0m.2-98.1h0m.1 251.5h0m0-145.3h0m0 295.7h0m.1-104.5h0m0-61.2h0m0-19.6h0m.1-144h0m.1 92.9h0m0-48.8h0m.1-133.5h0m0 295h0m0-149.9h0m0 284.3h0m0-192.7h0m.1 54.5h0m0 124.2h0m.1 13.3h0m.1-340.6h0m0 66.3h0m.1 135.8h0m.2-72.2h0m0 1.1h0m.1 198.1h0m.1-265h0m.2-91.5h0m0 260.2h0m.1-322.6h0m.1 358.5h0m.1-77h0m.2 136h0m0-37.2h0m0-351.9h0m0 33.6h0m.1-43.6h0m.2 306.9h0m0 106.8h0m.1-160.1h0m0-81.5h0m.1-57h0m.1 219.8h0m0-258.3h0m.1 230.3h0m0-268h0m0 189.4h0m.1-118.2h0m0 136.5h0m0-34.1h0m0 10.7h0m0 27.2h0m.1 133.7h0m0-231.5h0m.1-127.8h0m.1 255.3h0m0 106.6h0m.1-398.6h0m.1 219.6h0m.2-58.3h0m.1-83.4h0m0 345h0m.1-149.9h0m0-271.4h0m.1 98.3h0m0 201.3h0m0 32.3h0m.1 79.6h0m0-363h0m0 108.7h0m0 213.7h0m.2-243.4h0m0 266.4h0m0-106.1h0m0-280.5h0m.1 315.2h0m0-319.7h0m0 266.9h0m.1-32.9h0m0 139.4h0m0 25.4h0m.1-339.4h0m0 110.3h0m0-45.7h0m0 94h0m0 112.9h0m.1-195.5h0m0 210.9h0m0-112.1h0m0-99.4h0m.1 143.3h0m.1-31.9h0m.1-188.9h0m0-40.9h0m0 185.6h0m.1 160.8h0m0-299.6h0m.1 187.3h0m0-235.8h0m.1 172.2h0m0 147.8h0m0 18.1h0m0-345.7h0m0 369.8h0m.1-232.9h0m0-64.3h0m.1 194.6h0m.1 31.8h0m.1-30.1h0m0-242.4h0m0 362.7h0m0-214.4h0m.1 160.2h0m0 43.1h0m.1-10.7h0m0-340.6h0m0 225.4h0m.1 82.3h0m0-97.1h0m0 118h0m0-138.6h0m0-126.2h0m.1 141.8h0m.1 118.6h0m.1-219.4h0m0 137h0m.1-171.1h0m.1 214.5h0m0-56h0m.1 86.4h0m0-192.5h0m.1 266h0m0-20.5h0m0-339.8h0m.1-31.6h0m.1 221.5h0m.1-209h0m0-1.2h0m.1 57.4h0m0-77.2h0m0 63.6h0m0 178.5h0m.1-182.2h0m0 59.3h0m.1-127.3h0m0 366.5h0m.1-215.6h0m0-33.2h0m0-108.1h0m0 337.9h0m.1-366.7h0m0 349.7h0m.1 32.7h0m0-108.5h0m0-197.3h0m.1 288.2h0m0-221.7h0m0 245.5h0m.1-31.9h0m0-304.8h0m.1 147.1h0m0-17.4h0m0-177.8h0m.1 213h0m0-96.9h0m0 28.6h0m.1 54.5h0m0 42.5h0m0-41h0m0-105h0m0 202.2h0m0-230.6h0m.2 182.6h0m0-234.5h0m.1 94h0m.1 298.7h0m0-27.9h0m0-221.3h0m.1 130.9h0m0-296.2h0m0 255.8h0m.1 169h0m.1-336.5h0m0 36.6h0m.2-65.3h0m0 190.6h0m.1 125.6h0m0-366.9h0m.1 269.9h0m0 56.8h0m0-119.8h0m.1 11.5h0m0 136.4h0m0-24.8h0m.1-19h0m0 42.5h0m0-325.1h0m.1 369h0m0-53.6h0m0-295.1h0m0 37.7h0m.1 24.7h0m.1 201.7h0m.1 17.7h0m0-51.4h0m.2-239.2h0m0 259h0m.1-237.7h0m0 211h0m0-93.8h0m0-97.8h0m.1 253.9h0m0-20.7h0m.1-29.7h0m0-139.2h0m.1 165.8h0m.1-307.8h0m0 245.9h0m.2-179.3h0m.1 58.6h0m.1-16.8h0m0 210.5h0m0 39.2h0m.1-105.4h0"/>
<path class="l" style="stroke-width:4.8" d="M1201.6 139.50H1610.7"/>
<path class="l" style="stroke-width:4.3" d="M1201.6 391.00H1610.7"/>
<rect class="ax" x="997.00" y="8.90" width="716.00" height="512.25"/>
<text class="t" text-anchor="middle" transform="translate(996.5 557.8) rotate(0.03) scale(1 1.03)">0</text>
<text class="t" text-anchor="middle" transform="translate(1201.1 557.8) rotate(0.03) scale(1 1.03)">4000</text>
<text class="t" text-anchor="middle" transform="translate(1405.6 557.8) rotate(0.03) scale(1 1.03)">8000</text>
<text class="t" text-anchor="middle" transform="translate(1610.2 557.8) rotate(0.03) scale(1 1.03)">12000</text>
<text class="t" text-anchor="end" transform="translate(986.2 19.1) rotate(0.03) scale(1 1.03)">0.8</text>
<text class="t" text-anchor="end" transform="translate(986.2 147.1) rotate(0.03) scale(1 1.03)">0.4</text>
<text class="t" text-anchor="end" transform="translate(986.2 275.2) rotate(0.03) scale(1 1.03)">0</text>
<text class="t" text-anchor="end" transform="translate(986.2 403.2) rotate(0.03) scale(1 1.03)">-0.4</text>
<text class="t" text-anchor="end" transform="translate(986.2 531.3) rotate(0.03) scale(1 1.03)">-0.8</text>
<text class="s" text-anchor="middle" x="1354.5" y="594.0">n</text>
<text class="s" text-anchor="middle" transform="translate(926.6 265.6) rotate(-90)">x(n)</text>
<text class="c" text-anchor="middle" x="1307.7" y="655.6">(b)</text>
<path class="tk" d="M295.3 1199.8v-7.4M295.3 687.1v7.4M499.8 1199.8v-7.4M499.8 687.1v7.4M704.4 1199.8v-7.4M704.4 687.1v7.4M90.7 815.4h7.4M806.7 815.4h-7.4M90.7 943.5h7.4M806.7 943.5h-7.4M90.7 1071.5h7.4M806.7 1071.5h-7.4"/>
<path class="d" d="M90.8 1113.6h0m.3-70.6h0m.1-128.4h0m.1 218h0m0-259.4h0m0-65.3h0m.1 255.5h0m.1-63.2h0m0-232.5h0m0 95.9h0m.1 1.8h0m0 88.6h0m.1 140.7h0m0-307h0m0 47h0m.1 74.6h0m.2-106.4h0m0 69.2h0m0-36.8h0m0 210.4h0m.1-111.5h0m0 171.4h0m0-358.5h0m.1 232.5h0m0 2.3h0m0-105h0m.1-112.7h0m0 47.2h0m0-43.9h0m.1 207h0m.1-133.5h0m.1 158.3h0m0 144.9h0m0-119.2h0m0 46.2h0m.1-19.2h0m0-127.1h0m.2 18.1h0m0-206.1h0m.1 299.9h0m.1 76h0m0-26.9h0m.1-239.6h0m0 121.6h0m0-9.6h0m0 176.5h0m0-378.6h0m.1 90.9h0m0-19.9h0m.1-42.1h0m0 70.9h0m.1 256.7h0m.1-360.2h0m0 296h0m.1-150.9h0m.1 232h0m0 20.2h0m.2-141.8h0m0-98.7h0m.1-7.7h0m0-94.2h0m0 175.1h0m.1 138.1h0m0-184.3h0m0 218.5h0m0-165.6h0m.1-68.1h0m0 7.2h0m0-119.2h0m.1 43.9h0m0-34.1h0m0 322.5h0m.1-105.1h0m0-245.2h0m.3 238h0m0-.9h0m0 22.6h0m.1-149.1h0m0-155.7h0m0 34.7h0m.1 347.5h0m0-31.1h0m0-22.2h0m0-240.3h0m.1 227.5h0m0-104.3h0m.1 153.6h0m0-251h0m0-126.8h0m0 425.4h0m.1-253.6h0m0-103.4h0m0 32.6h0m.1 117.5h0m.1 58.9h0m0 143.3h0m0-74.7h0m.1-107.6h0m0-192.5h0m0 200.2h0m0 135.3h0m.1-177.8h0m0-96.3h0m.1 245.6h0m0-168.3h0m0 218.7h0m0 11.2h0m0-14.3h0m.1-313.1h0m0-96.5h0m0 153.2h0m.3 66.7h0m.1 55.9h0m0-6.8h0m0-141.7h0m0 21.2h0m0-88.1h0m0 113.2h0m.1 8.2h0m.1 193.8h0m.1-176.7h0m0 99.7h0m.1-230.2h0m0 271.3h0m.1-117.4h0m0 72.9h0m0 12.3h0m.1-15.5h0m.2-172.6h0m0-19.9h0m.1 92.6h0m.1-75.6h0m0-64.4h0m.1 38.6h0m0-61.6h0m.1 111.7h0m.1-51.6h0m.1-68.5h0m.2 168h0m0 158.8h0m.2 81.2h0m0-209.6h0m.1 98.7h0m0-265.2h0m0 215.6h0m0-235.1h0m.1 365.5h0m0-374.5h0m0 349.3h0m.1-115.3h0m0-255.4h0m.1 79.9h0m.1 321.5h0m.2-219.5h0m0-110h0m0 278.4h0m.1-125.9h0m.1 79.6h0m0-61.7h0m0-120.7h0m.1 301.8h0m0-143.3h0m0-113h0m0 255.6h0m0-216.3h0m0-102.1h0m.1-11.8h0m0 53.3h0m.1 192.1h0m.1-36.4h0m0-173h0m0-18.6h0m0 260.7h0m0-169.6h0m.1-187.3h0m0 403.4h0m.1-122.3h0m0-275.9h0m0 121.1h0m.1 273.3h0m0-115.5h0m0-226h0m0 48.8h0m0 38.7h0m0 191.9h0m.1 23.3h0m0-141.7h0m.1-110.1h0m.1 310.8h0m.2-111.9h0m0 74.5h0m0-106.9h0m0-181.5h0m.1 146.9h0m0 132.3h0m.1-104.2h0m0-221.1h0m.1 43.8h0m0 91.9h0m0-140.2h0m.1 260h0m0-137.7h0m.2-83.2h0m0 271h0m0-178h0m.1 151.3h0m0-30.1h0m.1 50.4h0m.1-308.1h0m.1 319.9h0m0-205h0m0-129.8h0m.1 155h0m.1-185.2h0m.1 99.4h0m0 20.5h0m0 25.8h0m.1-4.8h0m.1 137.7h0m0-263.7h0m.1 271.2h0m0-181.6h0m.1-83.5h0m0 166.7h0m0 62.9h0m0 23.7h0m.1 143.1h0m.1-251.1h0m0 87.5h0m.1 88.9h0m0-193.7h0m0 23.7h0m.1 211.4h0m.1-309.6h0m.1 345.2h0m0-188.1h0m0-46.2h0m0-33.1h0m.1-120.5h0m.1 160.9h0m0-44.3h0m0-65.7h0m.1 86.3h0m0-67h0m0 280.4h0m.1-239.2h0m0 275.3h0m0-342.1h0m0 193.9h0m0-70.5h0m0-175.9h0m.1 192.6h0m0 180h0m.1-233.1h0m.1 75.3h0m0 47.7h0m.1-178.9h0m0-10.7h0m.1 115.6h0m0-167.8h0m.1 328.9h0m0-339.5h0m0 276.9h0m.1-17.6h0m0 40.7h0m0 12.7h0m0-328h0m0 92.6h0m.1 142.2h0m.1 26.2h0m0-276.6h0m.2 39.1h0m0 264.6h0m0-257.8h0m0 31.7h0m.1 48.3h0m0 56.4h0m.1 183.2h0m0 57.8h0m0-283h0m.1 207.2h0m0 4.4h0m0-261.6h0m0 70h0m.1 242h0m.1-340.4h0m0 337.9h0m0-246.2h0m.1-59h0m.1 46.9h0m0-17.9h0m0 228.7h0m.1-6.9h0m0-124.5h0m.1-139.7h0m.1-10.6h0m0 311h0m0-263h0m.1 135.7h0m.1-25.6h0m0 11.8h0m.1-110.5h0m0 52.4h0m.1 215.9h0m.2-83.2h0m0-100.7h0m0 92.5h0m.1 55.5h0m0-160.9h0m.1-186.1h0m0 125.8h0m0-119h0m0 100.6h0m.1-40.9h0m0-86.8h0m0 226.5h0m0 154.9h0m.1-309.2h0m0 343.6h0m0-393.4h0m0 375.4h0m0-39.3h0m0-173.7h0m.1-44.2h0m0 191.4h0m0-169.7h0m.1 168.4h0m.1-14.1h0m.2-194.5h0m.1 239.3h0m.1-240.6h0m0-42.1h0m0 303.8h0m.1-372.8h0m0 246.9h0m0-24.5h0m0-106.6h0m0 98h0m.2-143.1h0m0-25.9h0m0-26.5h0m0 107.8h0m.1 84.6h0m0-154.3h0m0 254.1h0m.1-172.5h0m0 8.6h0m.1 115.2h0m0-8.9h0m.2-95.1h0m.1-36.6h0m.1 204.2h0m0-184.3h0m.1-35.7h0m0-42.4h0m0 10.7h0m0 71.8h0m.1 257.3h0m0-103.5h0m.1-17.1h0m.1-109.4h0m0 67.8h0m0 35.5h0m0 65.4h0m.1-349.3h0m0 94.6h0m.1 132.9h0m0 180.8h0m.2-246.2h0m0 166.6h0m.1-272.8h0m.1 189.6h0m.2-157.2h0m.1 327h0m.3-332.1h0m.1-61.1h0m.1 319.8h0m0-38.2h0m0-47h0m0 112.7h0m0-247.1h0m.1 78.6h0m.1 52.4h0m0-98.4h0m0 126.7h0m0-209.8h0m0 91.8h0m.1-3.6h0m.1 156.1h0m.1-92.2h0m0 122.8h0m0-79.4h0m.1-158.1h0m.1 124.5h0m0 15.4h0m0 104.1h0m.1-163.8h0m0 202.9h0m0-72.7h0m0-255.6h0m.1-34.7h0m0 186.1h0m.1-170.4h0m0 166.1h0m0-205h0m.1 121.8h0m.1 248.5h0m.1 40.9h0m0-183.8h0m.1 67.8h0m0-311h0m.1 293.3h0m0-277.1h0m0 264.8h0m0-248.8h0m.1 3.3h0m.1-26.1h0m0 243.1h0m.1 56.7h0m0-186h0m0 142.3h0m0-26.3h0m.2 178h0m0-271.1h0m0-83.6h0m0 282.6h0m.1-188.9h0m0 272.6h0m0-7.5h0m.1-157.2h0m0 52h0m.2 64.1h0m.1-320.7h0m0 84.9h0m0 114.3h0m0 94.4h0m0 51.8h0m.1-112.7h0m0-36.1h0m.1 73.6h0m.1-17.1h0m0-39.6h0m0 64h0m.1-112.1h0m0-175.9h0m.1 129.9h0m0-30.5h0m0-42.6h0m.1-10.6h0m0 160.7h0m0 83.5h0m0 .7h0m.1-77.6h0m0 148.7h0m.1-89h0m.1-70.5h0m0-193.5h0m0 141h0m.1-36.3h0m0 51.1h0m0 142.5h0m.1-302h0m0 260.8h0m.1-50.5h0m.1 154.5h0m0-318.4h0m.1-65.2h0m0 41.7h0m.2 289.6h0m0-6.2h0m0-315.1h0m.1 244.8h0m0-11.7h0m.1 112.4h0m.2-139.4h0m0-239.5h0m0 389.9h0m.1 3.4h0m0-378.7h0m0 93.5h0m0-76.4h0m.1 51.4h0m.1 194.5h0m.1-110h0m0 230h0m0-83.7h0m0-174h0m.1 235.8h0m.1-359.7h0m0 387.1h0m.2-83.9h0m0-124.1h0m.1-31.7h0m0 11.2h0m0 48h0m.1-169.1h0m0-47.4h0m0 146.4h0m0-73.6h0m0 215.8h0m.1-140.4h0m0 209.8h0m.1-162.1h0m0 15.4h0m.1 28.7h0m0-164.7h0m0 217.4h0m.1-24.4h0m0-260.2h0m.1 99.9h0m0-4.1h0m0-29.9h0m.3 9.8h0m0 100.7h0m0-150.2h0m.1 45.9h0m0 168h0m0 50.8h0m.1 63.2h0m0 10.6h0m.1-9h0m0-340.1h0m.1-.6h0m0 352.8h0m.2-347.9h0m0 128.5h0m0 128.6h0m0 106.7h0m.1-336.1h0m.1 136.2h0m0-117.4h0m.1 268.8h0m0-218.7h0m.1 165h0m0-175.2h0m.1 216.6h0m.1-168.1h0m0 95.9h0m.2-165.8h0m.1 110.2h0m.1 142h0m0-345.3h0m0 248h0m.1-127.6h0m0 183.1h0m0 20.9h0m0-202.7h0m.1 144.6h0m0-261.6h0m.1 333.1h0m.1-201.3h0m0 37.4h0m0-28.8h0m.1 13h0m.1-113.4h0m.1 265.4h0m0-17.4h0m0-130.7h0m.1-22.4h0m0 39.6h0m0-52.9h0m0-60.7h0m.1 299.4h0m.1-30.9h0m.1-337.4h0m.1 46.3h0m0 39h0m.1 134.2h0m0 82.1h0m0-77.8h0m.1 44.2h0m.1-278.7h0m.1 89.5h0m0 229.2h0m0-206.8h0m0-10.7h0m.1 107.7h0m0-19.5h0m0 7.5h0m0-74.6h0m.1 81.7h0m.1-29.1h0m.1 205.4h0m0-339h0m0 113.9h0m.1-37.2h0m0-92.8h0m.1 217.7h0m0-2.7h0m0 124.3h0m.1 60.3h0m0-309.8h0m.1 202h0m0 31.5h0m0-101.5h0m0-65.2h0m0-144.7h0m0 267.3h0m.1-220.6h0m0 335.9h0m.1-61.5h0m.1 73h0m.1-352.7h0m0 137.4h0m0 68.4h0m.1 144.9h0m.2-174.4h0m0-114.5h0m.1-121.8h0m0 168.9h0m0-158.5h0m.1 34.6h0m.1 354.3h0m.3-157.5h0m0-152h0m.1 179.9h0m0-72.1h0m0-16.2h0m0-44.6h0m.1-144.4h0m.1 93.1h0m0-39h0m0 79.7h0m.1 112.4h0m0-205.5h0m0 370.7h0m.1-341.3h0m0 96.7h0m0-98.9h0m.1 33.8h0m.1 191.8h0m0 72.7h0m0-83.8h0m.1-134.1h0m0-3.8h0m0 66.6h0m.1 148.5h0m0-251.7h0m.1 89.2h0m.1-87.6h0m.1 105.9h0m0 96.3h0m.1-267.4h0m0 255.2h0m0-219h0m.2 336.2h0m.1-316.3h0m.1 25.6h0m.2-5.4h0m0-23h0m0 30.4h0m.2 274.6h0m0-287.9h0m0 141.7h0m0-5.7h0m.1 42.5h0m0-22.3h0m0-47.8h0m.1-162.1h0m.1 293.6h0m0-258.5h0m0 220.1h0m.1-86.8h0m0 92.8h0m.1 74.2h0m0-399.3h0m0 155.6h0m.1-55.4h0m.1 10.9h0m0 173.3h0m.1 58.2h0m0-140.4h0m0-210.5h0m0 274.9h0m.1-4.3h0m.1 91.1h0m0-341.9h0m0 115.4h0m.1 49.7h0m0-153.7h0m0-18.1h0m0 194.2h0m.1 191.4h0m0-361.8h0m0 193.4h0m.1-186.8h0m0 9.2h0m.1 332.1h0m.1-344.1h0m.2 196.1h0m0-135h0m.1 54.4h0m.1 161.9h0m.1 62.7h0m0-87.5h0m0-200.9h0m0-95.8h0m0 222.7h0m.1 118.7h0m0-46.1h0m0 96.3h0m0-23.7h0m.3-68.1h0m0-100.7h0m.1 160.9h0m0-56.2h0m0-74.1h0m0 62.4h0m0-172.8h0m0-104.5h0m.1 228.1h0m.1-47.6h0m0-121h0m0-53.3h0m.1 203.4h0m.2 122.1h0m.1-192.1h0m.1-31.8h0m.1 268.2h0m0-228h0m.2 164.3h0m0-264.6h0m0 349.9h0m0-313.7h0m.1 109.9h0m0 6.3h0m0-134.6h0m0 278.8h0m.1 14.5h0m0-28.4h0m.1 19.5h0m0-213h0m0 107h0m0 173.4h0m.1-255.7h0m.1-138.5h0m0-33.2h0m0 351.8h0m.2-302.8h0m.1 278.9h0m0-153.7h0m0 56.8h0m.1-56.2h0m0-140.9h0m0 193.6h0m.1 164h0m0-247.5h0m.1 197.5h0m0-141.3h0m0 198h0m0-10.5h0m.1-317.7h0m0 168.8h0m.1-115.8h0m0 98.5h0m0-67h0m.2-27.9h0m0 206.1h0m.1-241.3h0m0-33.4h0m0-54.6h0m.1 249.4h0m0-6.1h0m0 88h0m.1-192.1h0m0-30.8h0m.2-1.5h0m0 182.2h0m0-80.5h0m0 73.1h0m.1-91.5h0m.1-147h0m0 340.4h0m0-13.8h0m0-112.5h0m0-186h0m.1 52.9h0m.1 114.2h0m.1 39.5h0m0 15.1h0m0-87.7h0m0-186.1h0m.1 386.9h0m.1-249.6h0m0 117.7h0m0-14.9h0m.2-110.7h0m0 186.5h0m0 32.5h0m.1 7.1h0m.1-340.2h0m.1 305h0m0-35.1h0m0-113.9h0m.1 50.6h0m0-121.9h0m0-57.1h0m0 19.1h0m.1 214.9h0m.1-211h0m.1-14.4h0m0 227.6h0m.1-13.9h0m0-173.3h0m.1 70.5h0m.1 212.4h0m.1-325.9h0m0 350.4h0m.1-253.3h0m0 86h0m0 165.3h0m.1-356.5h0m0 141h0m0-192.7h0m.1 304.5h0m0-79.4h0m0 34h0m0-57.7h0m0-105.8h0m.1 265h0m0-232.8h0m0 248.6h0m.1-27h0m0-274.6h0m.1 36.5h0m.1-72.2h0m.1-29.2h0m0 210.6h0m.1-2.7h0m0 81h0m.3 51.7h0m.1-98h0m0 35.6h0m0-149h0m.1-99.7h0m0 124.7h0m0 3.6h0m.2-158.9h0m0 328.8h0m0 44.3h0m0-348.2h0m.2 14.5h0m0 310.6h0m0-127.8h0m.1 47.9h0m0 52h0m.1-254.6h0m0 164.1h0m.1-186h0m0 351.9h0m.1-401h0m.3 41.4h0m.1 179.7h0m.1-162h0m.1 76.2h0m.1-125.1h0m0 340h0m.1-42.4h0m.2-222.4h0m0 247h0m0-208.3h0m0 259.8h0m.1-319h0m0-53.8h0m0 90.5h0m0 119.1h0m0-227.8h0m.1 8.1h0m0 24.1h0m.1 67.5h0m0 161.4h0m.1-155.9h0m.1 8.9h0m.1-72h0m.1 196.2h0m0 164.5h0m0-103.8h0m.1 7.9h0m0-93.9h0m0 23.2h0m.1-108.6h0m0-142.9h0m.1 106.4h0m.1 283.6h0m0-53.8h0m0-310.8h0m0 149.1h0m.1 106.4h0m.1-93.3h0m.1 43.4h0m0-111.1h0m0-77.2h0m.1 43.9h0m.1-72.4h0m0 51.1h0m.1 156.4h0m.1 127.8h0m0-104.3h0m0 24h0m0 118.2h0m0-168.4h0m.3 9.8h0m0-159.1h0m0 364.3h0m.1-329.6h0m0 9h0m.1 191.9h0m0-179.1h0m.1-89.5h0m0 314.9h0m0-246.2h0m0 185.7h0m.1-28.9h0m0 71.2h0m0-88.8h0m.1-2.3h0m0 73.2h0m0-214.7h0m0-7.2h0m.1 261.8h0m0-41.9h0m.1 16.1h0m0-192.4h0m.1-122.3h0m.1 345.3h0m.1 5.1h0m0-159.2h0m0-52.8h0m0 248.3h0m.1-185.9h0m0 160.1h0m0-268.3h0m0 187.4h0m.1 118.6h0m0-214.6h0m.1-46.7h0m.1-123.6h0m.1 86.9h0m.1 46.9h0m0-80.9h0m0-8.8h0m0 119.7h0m.1 142.8h0m0-302h0m0 27.9h0m.3 366.5h0m.1-241.1h0m0-177.5h0m.1 266.1h0m.1-90.7h0m0-124.8h0m.1 44.1h0m0 229.5h0m0-56.1h0m.1-90.2h0m.1 160.3h0m0-334.5h0m.1 286h0m.1 23.9h0m0-43.1h0m0 73.1h0m.1-239h0m0-27.4h0m.2 254.7h0m0 14.6h0m0-339.1h0m.1 119.2h0m.1-59.7h0m0 280.8h0m.1-45.1h0m.1-266.7h0m.1 86.1h0m0 65.4h0m.1-190.1h0m0 399.5h0m.1-147.1h0m0-114.4h0m.1 76.2h0m.1 175.1h0m0-87.6h0m.1-184.6h0m.1 31.7h0m.1 172h0m.1-288.8h0m.1-19.4h0m0 126.6h0m0-8.8h0m0-72.5h0m.1 360.1h0m0-323h0m0-50.2h0m.1 379.3h0m0-210.3h0m0 124.8h0m0-101.6h0m.1-100.2h0m.1-57.1h0m0 293h0m0-79.6h0m.1-207.1h0m.1 81.8h0m.1 228.1h0m0-367.9h0m0 39.5h0m0 89.4h0m0-60.5h0m.1 4h0m0 198.2h0m0 13h0m.1 41.2h0m0-135.9h0m.1-58.1h0m0 66h0m0 68h0m0-189.3h0m.1 29.8h0m.1-47.9h0m0 297h0m.1-208.8h0m0 152.6h0m.1-85.8h0m.1-63.8h0m.1 191.9h0m0-348.5h0m.1 119.1h0m.1-17.3h0m.1-52.2h0m0 24.2h0m.1 309.6h0m0-351.8h0m.2 279.9h0m0-285.1h0m0 205.2h0m.1 113.1h0m0-279.5h0m.2-60.2h0m.1 176h0m.2-50.3h0m0 263.3h0m0-415.3h0m.1 345h0m0-195.8h0m0 49.3h0m0 123.6h0m0-83.3h0m0-32.3h0m.1 104h0m0-131.9h0m.1-165.4h0m0 359.3h0m0-124.1h0m.1-14.3h0m0 44.7h0m.1-257.7h0m0 282.1h0m.1 49.3h0m.1 11.3h0m.1-321.5h0m0 282.9h0m0 84.2h0m.1-114h0m.1-99.1h0m.1 29.6h0m0-155.3h0m.1 269.1h0m0-25.6h0m0 16.8h0m0-105.8h0m0-57.4h0m.1 77.2h0m0-90.5h0m0-41.7h0m0 303.7h0m.1-46.4h0m0-305.7h0m0 215.4h0m0-150.4h0m.1-115h0m0 274.8h0m0 2.3h0m.1 50.2h0m.1-154.6h0m.1 203.1h0m.1-299h0m.1 252.5h0m0-46.9h0m.1 26.7h0m0-185.1h0m.1 294.8h0m.1-335.8h0m0 285.3h0m.2-37.1h0m0 62.9h0m.2-13.5h0m0-171.7h0m0 175.4h0m.1-153.8h0m0 172.4h0m.2-267.5h0m.1-100.6h0m.2 324.5h0m0-112.4h0m0-86.7h0m.1-1.4h0m0 211.2h0m.1-101.4h0m0 109.1h0m0-264.2h0m.1 30.9h0m0-57.3h0m.2-93.3h0m0 338.4h0m.1 12.8h0m0-208.1h0m0-35.6h0m.1 38.7h0m.1-76.4h0m0-20.9h0m.1 271.4h0m0-220.6h0m0-105.8h0m.1 140h0m.1 148.1h0m.2-86.4h0m0 131.1h0m.1-214.7h0m0-97.4h0m.1 309.3h0m0-250.7h0m0 209.9h0m0 130.8h0m.1-162.2h0m0-173.4h0m0 10.4h0m0 97.4h0m.1-48.7h0m0 27.7h0m.1-2.6h0m0-144.6h0m0 182.9h0m0-139.1h0m.1 310.6h0m.1-126.5h0m0 136.7h0m0-184.6h0m.1-141.6h0m0 211.7h0m.1-278.7h0m0 418.4h0m0-171h0m0 12.4h0m0 43.6h0m.1-47h0m0-98.9h0m.1 24.4h0m.1-28.5h0m.1 14.8h0m.1-22.6h0m0 217h0m0 46.9h0m0-360.5h0m0 265.2h0m.1-59.9h0m0-17.2h0m0-9h0m.1 175.9h0m0-360.2h0m0 232.1h0m0 46.2h0m0-226h0m0 11.9h0m.1 304.5h0m.1-40.7h0m0-16h0m.1-128.9h0m.3-196.8h0m0-20.2h0m.1 317.2h0m0-209.4h0m0-72.3h0m0 130h0m.1-71h0m0 43.8h0m0-62.7h0m.1 328.1h0m0-154.7h0m0 12.9h0m.1-110.3h0m0 83.4h0m0 103.1h0m0 21.5h0m.1 18.1h0m0 38.1h0m.2-366.1h0m0 265.3h0m0-104.4h0m.1-209.3h0m0 294.4h0m0-264.6h0m0 192.6h0m.1-52.6h0m.3 220.6h0m.1-266.9h0m0-124.8h0m.1-11.3h0m0 16h0m.1 386.1h0m0 10.6h0m.3-55h0m0-113.9h0m0 9.6h0m0 92.9h0m0-28.3h0m.1 99.4h0m.1-258.6h0m0-155.4h0m.2 104.2h0m0 157.8h0m.1 101.3h0m.2 43.8h0m0-296.2h0m.2 12.6h0m0 101.2h0m0-14.5h0m.1 178h0m.1-38.3h0m0-70.2h0m0-149.3h0m.1 281.7h0m.1-144.5h0m0 62.8h0m.2-44.2h0m0-196.9h0m.1 192.5h0m.1-197.1h0m.1 301.1h0m0-319.4h0m.1 33.1h0m0 45.8h0m0 101.9h0m.1-93.1h0m.2 141.6h0m.1-220.4h0m0 86.9h0m0 173.3h0m0 1.9h0m0-12.3h0m.1-22.9h0m0 43.2h0m0-309.3h0m.1 40.5h0m0-65.9h0m0 347.2h0m.1-306h0m0 295.8h0m0-315h0m.1 7.8h0m.1 139.8h0m0-59.3h0m.1 192.1h0m0 31.7h0m0-39.5h0m.1-177.6h0m.1 291.9h0m0-197.7h0m.1-54.6h0m0-71.7h0m0 200.2h0m.1-290h0m0 145.9h0m.1 19.4h0m0-124.3h0m0-4.5h0m.1 204.3h0m.1 174.4h0m.1-42.6h0m0-68.9h0m0-45.8h0m0-138.9h0m0 142.9h0m0-232.1h0m.1 106h0m.1 198.4h0m0-231.1h0m0 168.7h0m.1 85h0m.1-167h0m.1 101.2h0m0-4h0m.2-108.2h0m.1 177.6h0m0-181.9h0m0-109.9h0m0 210.5h0m.1 144.3h0m0-106.8h0m.1-249h0m0 250.3h0m0-302.5h0m.1 195.5h0m0-98.1h0m.1 184h0m0-289.6h0m0 380.4h0m0-116.7h0m0-138.2h0m.1 95.2h0m0 110.8h0m0 47.7h0m.1-129.9h0m0 109.6h0m0-67.3h0m.2 129.7h0m.1-31.4h0m0 15.3h0m.1-248.8h0m.1 137.9h0m.1 93.8h0m0-230.7h0m0 254.6h0m.1-63.3h0m.2-270.5h0m0 118.8h0m0-176.1h0m0-18.3h0m0 336.7h0m0 10.6h0m.1-207.4h0m0-34.5h0m0-113.5h0m0 33.3h0m0 219.3h0m.1-194.2h0m0 222.9h0m.1-33.2h0m0 9.9h0m.1 78.3h0m0-15.3h0m.1-76.4h0m.1-72.8h0m0-152.6h0m0 318.1h0m.1-12.4h0m.1-224.9h0m.3 323.1h0m0-294h0m0 143.5h0m0 2.7h0m0-71.3h0m.1-189h0m.1 225.8h0m.1 173.6h0m0-339.4h0m.1 92.2h0m.1 132.7h0m0-179.7h0m0 183.4h0m.1 102.6h0m0-25.1h0m.1-26.9h0m.1-342.3h0m.1 314.6h0m0-203.1h0m0-31.7h0m.1-60.3h0m0 345.9h0m0-6.3h0m.1-156.2h0m0 171.5h0m0-26.6h0m.1 20.1h0m0-150.6h0m0 150.2h0m.1-369.8h0m.1 268.6h0m0-63.1h0m.3-164.4h0m0 234.9h0m.1-157.7h0m0 246.7h0m0-296.2h0m.1 26.8h0m.1-44.9h0m.1 25h0m.1 251.8h0m.1-149.2h0m0-175.7h0m0 355.2h0m.2-350.2h0m.1 138.5h0m.1 50.1h0m.1-104.4h0m0-57.2h0m.1 195.8h0m0 66.4h0m0-158.8h0m.1-141.3h0m.1 277.6h0m0-195.3h0m0 167.4h0m.2-149.8h0m0 11h0m.1 164.3h0m0 73.5h0m0-261.4h0m.1 139h0m0 32.3h0m.2 32.8h0m0-126.3h0m0 56.6h0m0 120.6h0m.1-158.9h0m.1 56.6h0m0 65.6h0m0-41.4h0m.1 118.6h0m0-276.7h0m0-73.6h0m0 157.7h0m0-57.1h0m.1-44h0m.1 261.6h0m.1-315h0m0 364.8h0m0-26h0m.1-7.8h0m0-85.3h0m.2 116.6h0m.1-196.4h0m0 199.9h0m.1-162.7h0m0 35.9h0m.1-165.8h0m0 18.1h0m0-81.5h0m.3-17.6h0m.1 28.8h0m0 296.3h0m.1-248.2h0m0 142.9h0m0-124.4h0m0 266h0m.2-294.9h0m0 124h0m.1 35h0m0-149.4h0m0 106.3h0m.1 58.7h0m0-36.7h0m0 96.2h0m0-241.5h0m.2-46.1h0m.1 252.5h0m0 28.8h0m0 63h0m.1-64.3h0m0-140.8h0m.2 161h0m0-118.3h0m.2 178.3h0m.1-213.6h0m0 17.4h0m0-196.2h0m0 352h0m0-329.6h0m.1 346.7h0m0-292.6h0m.1 205.9h0m0 26.3h0m0 16.2h0m.1-256h0m0-54.8h0m0 139.8h0m0 52.6h0m.1-162.9h0m0 63.2h0m0 172h0m.1-172.6h0m.1-46h0m0 140.7h0m0 18.3h0m.1 137.9h0m0-364.5h0m0 137.4h0m0-145.3h0m.1 106.5h0m.1-82.4h0m0 223.6h0m0-183.1h0m.2 238.3h0m0-30.8h0m.1 28.1h0m0 47.9h0m.1-280h0m.1-11.6h0m.1 186.4h0m.1-176.5h0m.1 100.4h0m.1 204h0m.1-29.2h0m.1-306.5h0m0 161.9h0m0-148.6h0m0 313.7h0m.1-323.9h0m0 151.5h0m.1-186.3h0m0 210.4h0m0 141.1h0m.1 14.5h0m0-126.6h0m.1 37.2h0m0 98.5h0m0-37.4h0m.1-288h0m0 9h0m.1 162.1h0m0-76.3h0m0-35.1h0m.1 104.7h0m0 71.4h0m.1 76.1h0m.1-228h0m.1 215.5h0m.1-166.7h0m0-165.5h0m0 45.6h0m0-32.8h0m.1 308h0m0-333.3h0m.1 101.8h0m0 264.9h0m0-274.6h0m0 298.3h0m0-233.5h0m.1 179.6h0m.2-60.2h0m0-243.3h0m0 378.7h0m0-197.2h0m.1-111h0m.1 145.8h0m.1-26.2h0m0-87.3h0m0 9.3h0m.1 262.8h0m0-171.4h0m0-240.4h0m0 192.7h0m.1-167.5h0m0 302.9h0m0-229.4h0m0-85.4h0m.1 355.8h0m0-353.3h0m.1 344.1h0m0-156.7h0m.1 174h0m0-326.8h0m.1 335.5h0m0-310.4h0m0 42.4h0m.1 228.7h0m0-248.9h0m0 57.3h0m.1-87.4h0m0 22h0m.1 188.7h0m0-269.1h0m.1 374.3h0m.3-157.8h0m.1-30.2h0m.1-83.8h0m.1 160h0m0-196.7h0m0 191.7h0m0 63.4h0m0 20.5h0m.1-280.4h0m0 65.6h0m0 177.4h0m.1-192.5h0m0 175.8h0m.1 118.3h0m0-383.1h0m0 213.8h0m0-46.7h0m.1-87.9h0m0-122.4h0m0 133h0m0 143.7h0m0-138.8h0m0 199.6h0m.1-240.1h0m0 319.7h0m.2 0h0m.1-14.1h0m0-258.8h0m.1-67.2h0m0 40h0m0-54.3h0m.1 52.5h0m.1 214.7h0m0-320.9h0m.1 361.5h0m0-214.2h0m.1 75h0m0-159.8h0m0-.3h0m.1 216.1h0m0-113h0m0 87.9h0m0-59.5h0m0 55.6h0m.1 44.4h0m.1 48.7h0m0-171.9h0m.1-103.9h0m0 179.6h0m.2 126.6h0m0 40.4h0m.1-160.3h0m.1-133.5h0m.1 129.1h0m.1 44.2h0m0 14.5h0m.1-219.2h0m0 73.7h0m0 74h0m0-49.2h0m.1 157.3h0m0-132.6h0m.1-67.7h0m0 263.1h0m.1-334.3h0m.1-78.1h0m.1 159.7h0m0-119.6h0m.2 189.4h0m0-210.2h0m.1-23.1h0m0 24.7h0m.1 387.4h0m0-13.3h0m0-249.3h0m0-89.9h0m0 143.8h0m0 64.8h0m.1-70.7h0m.1-177h0m.1 210.8h0m0-116.6h0m.1-108.1h0m0 260.6h0m0-17.7h0m.2-215.1h0m0-21h0m0 70.7h0m0-64.9h0m.1 209.3h0m0-163.4h0m0 298.7h0m0-41.5h0m.1-157.1h0m0-126.1h0m0 308.5h0m0-6.7h0m.1-33.9h0m.1-7.5h0m0-204h0m0 33h0m.1 63.4h0m0 241.9h0m.1-96.3h0m0-279.4h0m.1 346.8h0m0-325.8h0m.1-69.8h0m0 231.5h0m.1-161h0m.2 194.4h0m0-10.5h0m0-88.4h0m.1 112.4h0m0-100.7h0m0 33.6h0m.1 5.1h0m0-8.5h0m0 167.7h0m.1 20.7h0m0 4.1h0m0-261.5h0m.1-66h0m0 135.1h0m0 102.3h0m0-164.7h0m.1-21.3h0m.1-106.3h0m0 363.4h0m.1-46.6h0m.1-154.4h0m0 210.5h0m.1-8.3h0m.2-229.8h0m0 65.2h0m.1 132.5h0m0-80.7h0m.1 97.6h0m0-261.8h0m0 242.2h0m.1-166.2h0m.1 96.9h0m0-75.5h0m.1-100.4h0m.1 90.7h0m0-126.7h0m0 157.8h0m.1-133.1h0m0-85.7h0m0 401.1h0m.1-376h0m0 11.6h0m.2 16.2h0m0 277.2h0m.1 57.4h0m.1-20.3h0m0-38.4h0m0 34.5h0m.1-15.5h0m0-176.8h0m.1-160.9h0m0 134.4h0m.1-29.8h0m.1 102.7h0m0-46.2h0m0 69.9h0m0 112h0m0-286.2h0m0 240.1h0m0-310.5h0m.2 256.4h0m0-173.1h0m.3 134.8h0m0 26h0m0-35.4h0m0-167.6h0m.1 84.2h0m.1-12.3h0m.1 251.1h0m.1-130.9h0m0 169.1h0m0-22.7h0m.1-23.7h0m.1-232.2h0m.1 161.8h0m.1-93.4h0m0 200.5h0m0 31.4h0m0-387.5h0m0 83.2h0m0 140.3h0m.1-59.6h0m0-112.1h0m0 190.6h0m.2-83.8h0m.1 113.7h0m.1 12.1h0m.2 47.1h0m0-84.3h0m.1-10.6h0m0 116.8h0m0-100.9h0m.1 37.6h0m.1-201.6h0m0 174.3h0m.1-165.3h0m0-96h0m0 120.7h0m.1 125.7h0m0 18.8h0m0-193.4h0m0 309.7h0m.1-114.1h0m.1 9.9h0m0 68.7h0m.1-309.2h0m.1-12.6h0m.1 152.4h0m0 124.1h0m0-317.2h0m0 25.1h0m0 360.4h0m.1-41h0m0-357.6h0m.1 226.7h0m0-61.8h0m0 222.8h0m0-163.8h0m.1-106.8h0m0 158.5h0m0-273.4h0m0 262.4h0m.1 139.7h0m0-398.7h0m0 77.2h0m.1 95h0m.1 72h0m0-99h0m.1 155.1h0m0-320.4h0m0 10h0m.1 71.3h0m0 55.4h0m.1-22.1h0m0 158h0m0-94.3h0m.1-16.7h0m0-104.6h0m.1 200.2h0m0-184.1h0m0 250.6h0m.1-257.9h0m.1 352.1h0m.1-319.1h0m0-95.3h0m.1 55h0m0 321.5h0m0-252.2h0m.2-123.5h0m0 186.2h0m0 30.5h0m.1-92.9h0m0 279.3h0m0-266.9h0m.1 77.9h0m.1 183.4h0m.1-243.4h0m.4 165.7h0m.1-271h0m0 270.8h0m0 35.1h0m0-3.5h0m.1-67h0m.1-117.2h0m0 46.2h0m.1-52.7h0m0-5.1h0m0-57.1h0m.1 113.6h0m0-29.1h0m0 167.9h0m.1-4.7h0m.1-7.2h0m.1-181.2h0m0 19.3h0m0-60.6h0m.1 208.2h0m0-274.1h0m.1-3.8h0m0 35.3h0m.1 283.6h0m.2 1.5h0m.1-296.4h0m0 199.9h0m0-16.3h0m.1-105.7h0m.1-118.8h0m0 201.2h0m0 51.6h0m.1-179h0m0-5.3h0m0-63.4h0m0 207h0m.1-202.7h0m.1 291.3h0m0-312.2h0m0 143.2h0m0-65h0m0-5.5h0m.1 24.4h0m.2 196.7h0m0-38.9h0m.1 120.5h0m0-176.1h0m.1 104.9h0m0-207.7h0m0 246h0m0-189.1h0m.2 63.3h0m0-125.3h0m0 172.5h0m0 35.5h0m0-92.4h0m0 95.4h0m.1-70.7h0m0-238.8h0m0 295.4h0m.3-290.9h0m0 100.3h0m0-75.7h0m.1 213.5h0m.1 123.2h0m.1-305.6h0m0 112.4h0m0 81.6h0m0-140.7h0m.1 91.5h0m.1 64.2h0m0-139.1h0m0 82.3h0m.1 171.7h0m0-6.3h0m0-91.3h0m.1-264.7h0m0 327.3h0m.1 11.7h0m0-354.1h0m.1 202.1h0m0 154.1h0m0 51.6h0m0-154.8h0m.1-93.8h0m.1-153.4h0m0 291.2h0m0-267.7h0m.1 168.5h0m0 61.7h0m.1-16.3h0m.1 52.1h0m0-205.6h0m0 256.3h0m.1-9.7h0m.2-222.9h0m0 279.4h0m0-60.8h0m.1-146.6h0m0-98.9h0m0 133.8h0m0 107.5h0m.1-244.5h0m.1 124.3h0m0-39.2h0m.1 4.3h0m.1 169.2h0m0-345h0m0 52.9h0m.1 299.5h0m.1-326.7h0m0 111.8h0m0 227.9h0m0-179.3h0m.1-9.3h0m0 15.7h0m.1-121.1h0m0 46.6h0m0 197.1h0m.1-218.9h0m0 159.4h0m.1-212.8h0m0 251.6h0m0-235h0m.1 257h0m0 19.5h0m.1-63.4h0m0-261.2h0m.1 268.8h0m0 2.3h0m0 117h0m0-16.3h0m.2-314.7h0m0 35h0m0-104.4h0m.1 89.7h0m0-60.4h0m.3 112h0m0 220.1h0m.1-99.8h0m0-162h0m0 15.5h0m.1-99.3h0m0 300.7h0m0-306.5h0m0 110.1h0m.1-65.6h0m0-63.5h0m0 156.4h0m0-157.5h0m.1 414.7h0m0-274.7h0m0-142.6h0m.1 356.9h0m0 24.5h0m0-362h0m.2 163h0m0 134.1h0m.1-133.8h0m.1-24.3h0m0-27.1h0m.1-100h0m0 372.2h0m.1-132h0m0 99.5h0m.1-123.7h0m0-83.8h0m0 2.5h0m.2-43.6h0m.2-130.7h0m0 68.6h0m0-26.7h0m0 15.6h0m.1 66.9h0m0 189.4h0m0 8.1h0m0-298.4h0m.1 348h0m0-165h0m.1-27.3h0m0 18.1h0m0 138.6h0m0-247.7h0m.1 202.2h0m0-91h0m0-114h0m.1 104.2h0m.1 212h0m0-315.1h0m0 241.9h0m0-21.7h0m0-235.4h0m.1 2.8h0m0 189.6h0m.1-5.8h0m.2-85.4h0m0 250.3h0m.1-70.6h0m.1-229.8h0m.1 251.3h0m.1-262.5h0m0 31.5h0m0 39.7h0m.2 114.6h0m0-204.6h0m.1 100.3h0m.1 22.6h0m0 103.1h0m.1-77.1h0m.1 13.3h0m0 136.5h0m.1-6.3h0m.1-171.8h0m0-199.6h0m.1 72.4h0m.1 3.8h0m.1-18.5h0m0 53.4h0m0 282.6h0m0-175.7h0m.1-180.4h0m0 307.8h0m.1-18.5h0m0-230.5h0m0 84.6h0m0-73.8h0m0 162.9h0m.2 94.4h0m0-195.1h0m0 61.6h0m0 40.9h0m.1 108.8h0m.2-300.2h0m.1-72.9h0m.1 133.1h0m.1 141.2h0m0-96.4h0m0-46.9h0m.1 278h0m0-383.9h0m0 50.1h0m0 28.3h0m0 15.6h0m0 25.9h0m.1 221.5h0m0-38.7h0m0-61h0m.1 56.4h0m.1-110.7h0m0-90.6h0m0-90h0m0 316.7h0m.1 65.2h0m0-7h0m.1-14.8h0m.1-242.6h0m.1 70h0m0 108.2h0m0-56.3h0m0-88.2h0m0 191.2h0m.1-338.1h0m0 92.1h0m0 76.3h0m.1 75.3h0m.1-123.9h0m.1 208.2h0m0-383.8h0m0 144.6h0m.2 192h0m0-208.9h0m.1 30.2h0m0 172h0m0-269.1h0m0 36.2h0m0 228.7h0m0-284h0m.1 292.2h0m.1-181.7h0m.1 104.9h0m0 76.6h0m.1-16.1h0m0-63.3h0m0-239.2h0m.1 235.8h0m.1-63.3h0m0 64h0m.1-192.9h0m0 313.2h0m.2-129h0m0 61.1h0m0 49.8h0m.1-39.5h0m0-250.4h0m.1-41.3h0m0 340.9h0m0-260.7h0m0 49.2h0m0 126.3h0m.1 7h0m.3-288.5h0m0 12.2h0m.1 18.4h0m.1 11.5h0m.1 54.6h0m0 221h0m0 47.5h0m0 38h0m0-337.5h0m.1 256.7h0m0-191.3h0m.1 284.5h0m0-194.2h0m0 44.6h0m0 47.4h0m0-190.8h0m.1 57.8h0m0 5.9h0m.3 227.4h0m0-27.3h0m0 36.6h0m.1-71.6h0m0-113.9h0m.1-90.5h0m.1 166.2h0m0-93h0m.1-157.9h0m.1 304.2h0m0-29.9h0m.1-86.2h0m0-141.2h0m.1 158.3h0m0-244.1h0m.1 400.8h0m0-66.2h0m.2 47.2h0m.2-329.9h0m0 36.5h0m.1-16h0m0-90.1h0m.1 132.1h0m.2 163.1h0m0 77h0m.1-296h0m0 193h0m0-235.8h0m0-8.4h0m0 185.3h0m.1-38.4h0m0 56.8h0m.1-127h0m.1 237.5h0m0-280.5h0m.1 66.3h0m0-60.1h0m.1 216.2h0m.1 53.9h0m0-185.5h0m0-54.3h0m0 282.4h0m0-356.8h0m.2 45.3h0m0 250h0m.1 78.6h0m.2-313.2h0m.2 85.5h0m0 264.4h0m0-379.7h0m0 225.8h0m0-78.6h0m.1-86.5h0m0-8.7h0m0 256.9h0m.1-341.5h0m0-8.6h0m0 120.7h0m0-18.4h0m.1-52.7h0m0 360.3h0m.1-310.7h0m.1-7.4h0m0 238.6h0m0 46.7h0m.1 4.1h0m0-349.6h0m.1 290.3h0m0-272.6h0m.1 267.9h0m0-141.9h0m0 132.1h0m0-87.7h0m0 43.6h0m.2 94.8h0m0-343.9h0m0 375h0m.1-266.4h0m0 273.6h0m0-339.6h0m.1 29.6h0m.2 78.9h0m.2 147.1h0m0-56.1h0m0-31.8h0m0 144.1h0m.1-285.6h0m0-63.5h0m0 318h0m0 18.7h0m.1-77.9h0m0-128.2h0m0 189.9h0m0-53.2h0m.1-104.7h0m0-19h0m.1-39h0m.1 198.5h0m.1-208.6h0m0-8.4h0m.1 289.1h0m0-242.3h0m0 96.6h0m0 170.8h0m.1-80.8h0m0-319.3h0m0 198h0m0-124.4h0m0 280.6h0m.1-257.4h0m.1 63.1h0m.1 87.2h0m0 14.5h0m.1-169.1h0m0 216h0m0 12.1h0m0-277.1h0m0 112.8h0m.1 167.1h0m0-191.1h0m0-59.9h0m.1 303.2h0m0-181.5h0m0 119.8h0m0-104.7h0m0-146.7h0m.2 231.6h0m.2-56.2h0m0 121.5h0m0-66.4h0m.1-205.5h0m0 61.5h0m0-92.1h0m.1 55.1h0m0 179.1h0m.1-283.8h0m.1 351h0m0 32h0m0-119.9h0m0 128.1h0m.1-288.4h0m0 182.3h0m0-280.5h0m.2 358.3h0m0-256.9h0m.1 262.8h0m0-348.5h0m0-4.3h0m0 335h0m.1-181.9h0m0 67.3h0m0 95h0m0-182.9h0m.2 4.5h0m0-119.4h0m.1 251.7h0m.1-104.9h0m0 133.1h0m.1-249.4h0m.1 271.3h0m0-92.4h0m.1-259.9h0m0 252.2h0m.1 15.1h0m0 139.9h0m0-416h0m.1 334.2h0m0-92.2h0m.1-105.5h0m0-17.5h0m.1 91.1h0m0 147.2h0m0-14.6h0m.1-82.1h0m.1-95h0m0-38.2h0m.2 262.4h0m0-374.2h0m0 89.7h0m0-98.4h0m0 13.5h0m0 93.6h0m.1-75.5h0m.1 290.3h0m.1-259.5h0m.1 47.6h0m0-97.5h0m.1 77h0m0 68.5h0m.1-65h0m.2 186.4h0m.1-236.6h0m0 244.4h0m.1-214.1h0m0 320.3h0m0-365.9h0m.1 50.2h0m0 71.9h0m.1 256.3h0m0-181.2h0m0 177.7h0m.1-301.6h0m.1 245.1h0m.1-72h0m0-152.5h0m0 233.3h0m.1-48.7h0m0-269.4h0m0 257.5h0m0-33.5h0m0 31.6h0m.1-211.5h0m0-16.4h0m0-38.7h0m.1 302.8h0m0-337.7h0m.2 208.8h0m.1-131h0m.1 114.7h0m0-72.8h0m0 59.8h0m.1 230.9h0m.1-213.4h0m.1-19.1h0m0-63h0m.1 237.5h0m0-268.1h0m0-55.1h0m.1-15.4h0m0 350.8h0m0-338.2h0m0 167.2h0m.1 25.8h0m0-77.4h0m.1-101.2h0m.1 347.8h0m0-329.9h0m.2 29.3h0m0 288.2h0m0-336.9h0m.1 112.8h0m0 164.5h0m0-22.3h0m.1-47.8h0m0-173.9h0m.1 1.9h0m.1 247.9h0m0-161.9h0m0-134h0m.1 128.6h0m.1-16.8h0m0 170.2h0m0 40.5h0m0-141.5h0m.1-215.9h0m0 227.7h0m.3-213h0m0 233.6h0m.1-48.9h0m0-200.8h0m.1 305.8h0m0-287h0m.1 24.7h0m0 35.3h0m.1-56.8h0m0 373.8h0m.1-112.6h0m.1 127.6h0m0-391.5h0m.1 290.5h0m0-173.1h0m.1-35.2h0m.1-93.8h0m.1 137.8h0m.1 97.4h0m0-25.4h0m0-51.1h0m.1-13.7h0m0 137.1h0m.1-203.6h0m.1-23.3h0m0 357.6h0m0-54h0m.1-371.5h0m.2 369.9h0m0-352.3h0m0 226.8h0m0-191.4h0m0-39.6h0m.1 120.9h0m.2 129h0m.1-194.8h0m0 354.3h0m.1-24.8h0m0-317.5h0m0-65h0m.1 48.5h0m0 299.5h0m.1 30.4h0m0-352.5h0m.1 201.7h0m.1-51.4h0m.1-45.7h0m0 29.9h0m0 128.6h0m0-194.4h0m0-97.3h0m.1 124.7h0m.1 67.5h0m.1-4.6h0m.1 106.2h0m0-292.6h0m0 260.5h0m0 27h0m.1-104.4h0m0-166.3h0m.1 164.4h0m.1 201.9h0m0-304.3h0m.1 87.1h0m0 241.4h0m.1-136.5h0m.1 94h0m.2-84.4h0m0-229h0m.1 65.5h0m0 65.1h0m0 101.3h0m.1 108.9h0m0-356.6h0m0-21.3h0m.1 380.9h0m0-216.3h0m0 178.8h0m0-36.6h0m.1-151h0m0 56.1h0m0-155.9h0m0 346.1h0m.1-333.9h0m0 116.8h0m.3 22.5h0m.1 90.5h0m0 17.9h0m0 14.3h0m.1-49.7h0m0 66.8h0m0-214h0m.1 126.2h0m0 139.7h0m.1-321.8h0m0 17.2h0m0 239.4h0m0-229h0m.3 257.8h0m0-88.7h0m0-254.1h0m0 251.7h0m.1-133.5h0m0-135h0m0 120.7h0m0 244.1h0m.1-362.8h0m0 99.8h0m.1 153.2h0m0-139.7h0m.1-67.4h0m.1 90.1h0m0 256.2h0m0-179h0m.1-170.5h0m0 120.9h0m0 205h0m0-354.8h0m0 54.1h0m.1 326.3h0m0-223.6h0m0 19.3h0m.1 97.4h0m0-41.2h0m.1 122h0m0-205h0m0 127.3h0m.1-95.7h0m0-22h0m.1 11.2h0m0-211h0m.1 363.8h0m0-289.3h0m.2 229.2h0m0-206.5h0m.1 240.3h0m.1-167.8h0m0 43h0m0-136.5h0m0 67.3h0m0 211.5h0m0-298.8h0m0 158.1h0m0 202.8h0m.1-35.2h0m.1 48.6h0m0-336.8h0m0-89.4h0m.1 317.6h0m0-256.1h0m0 37.7h0m.1-105.4h0m0 113.2h0m0 149.9h0m.1 148.4h0m0-286.7h0m0 187.3h0m.1 106.6h0m.1-136.5h0m0-2.3h0m0-248h0m.1 348.8h0m0-319.9h0m.1-63.3h0m0 301.9h0m.1 78.3h0m0-87.6h0m0 116.7h0m0-286.5h0m0 168.5h0m.1 117.1h0m.1-358.1h0m0 248.1h0m.1 51.4h0m.1 2.8h0m.1-161h0m.1 201.1h0m0-212.3h0m.1 247.6h0m.1-354.4h0m0 139.3h0m.1-155.8h0m0 325.8h0m0-69.8h0m.1-183.8h0m0 266h0m.1-263.7h0m0-125.9h0m.1 7.1h0m0 174.3h0m.2 67.5h0m.1 27h0m0-71.8h0m.1 160.1h0m.1-146.1h0m0 186.7h0m.2-367.3h0m0 185.8h0m0-54.5h0m.2-19.4h0m.1-143.6h0m0 68.3h0m.1 231.2h0m0 6.8h0m0-222.4h0m.1 287.7h0m0-131.8h0m0-207.9h0m.1 296.5h0m.1 83.7h0m0-312h0m0 141.6h0m0 150.1h0m0-337.6h0m.1 264.6h0m0-260h0m.1 262.4h0m0-172.4h0m0 73.2h0m.1-57.9h0m0-23.1h0m0-10.2h0m0-3.1h0m.1-89.2h0m0 142.5h0m0-77.6h0m.1-97.4h0m0 254.9h0m0 27.4h0m0-130.4h0m.1 12.7h0m0 179.3h0m.1-154.4h0m0-121.7h0m.1-84.2h0m0 386h0m.3-33.6h0m.1-164.1h0m0 217.8h0m0-69h0m0-112.7h0m.1 121.4h0m.1-160h0m0 154.9h0m0 .9h0m0-85.1h0m.1-199.7h0m0 78.8h0m.1 118.4h0m0 48.5h0m.1-273.5h0m.1 61.6h0m0 109.1h0m0-123.1h0m.1 217.5h0m0 8.8h0m.1-163.7h0m0-81.6h0m0-40.1h0m.1 357.3h0m.1-88.2h0m0 15.9h0m0-65.8h0m0 31.8h0m.1 136.9h0m0-65.2h0m.1-278.5h0m0 239.1h0m.2-293.6h0m0 403.3h0m.1-397h0m0 72.4h0m0 322.1h0m.1-326.1h0m0 244.4h0m0-20.7h0m0 25.4h0m.1-108.4h0m.1-184.8h0m.2 355.7h0m.1-7.8h0m.1-341.2h0m.1 315.3h0m0 32.7h0m0-203.4h0m.2 238.6h0m0-102.1h0m0-156.8h0m.1-65.2h0m.1-81.9h0m0 312.2h0m.1 54.6h0m.2-234.2h0m.1-83h0m.2 109.3h0m0-9h0m0 30.1h0m0 34.5h0m0-76.3h0m.1-64.1h0m.1 337.7h0m0-126.8h0m.2 64.8h0m0-100.2h0m0-52.1h0m.1-99.8h0m0 288.8h0m.1-371.4h0m0 30.7h0m0-33h0m0 320.9h0m0-214.4h0m.1-93.3h0m0 171.4h0m.1-69.7h0m0 150.6h0m0-256h0m.1 338.4h0m0-361.1h0m0 274.1h0m.1-221.7h0m.1-57.5h0m0 114.2h0m0 53.5h0m.1 119.4h0m0 9.9h0m0-105.2h0m0 160.5h0m.1-19.3h0m0-41.3h0m0 48.7h0m0-31.6h0m0-283.5h0m.2 320h0m0 35.1h0m.1-158.7h0m0-211.1h0m.1 54.2h0m0 299h0m.1-40.6h0m0-72.7h0m.2-60.2h0m0 120.3h0m0-186.3h0m.1 12.7h0m0 223.1h0m.2-135.2h0m0 174.3h0m0-219.1h0m.1 104.5h0m0-260.9h0m0 128.3h0m.1-27.9h0m.1 33.3h0m0-19.7h0m0 16.3h0m.1 84.3h0m0-145.7h0m.1 310.6h0m0 7.5h0m.1-82.8h0m0-198.1h0m.1-91.4h0m.1 260.7h0m0 70.3h0m.1-21.4h0m.1-262.1h0m0-12.8h0m.1 236h0m.1-265.8h0m0 248.3h0m.1-155.8h0m.1 189.7h0m0-243.8h0m0 12.6h0m.1-34.2h0m0 226.6h0m0-186.1h0m0 193.3h0m.1-29.7h0m0-161.6h0m0-111.8h0m.1 118.9h0m0 112.5h0m0-224.3h0m0 346.3h0m.1-40.3h0m0 14.6h0m.1-121.9h0m.1 208.9h0m0-392.6h0m0 54.8h0m.1 222.7h0m0-155.4h0m.1 276.1h0m0-22.6h0m.1-365.5h0m.1 119.9h0m0-33.5h0m.1 250.9h0m.2-269.5h0m0 164.4h0m.1 18.5h0m.1 113.9h0m.1-310.3h0m.1-18.3h0m0 221.7h0m0-140.4h0m0 189.9h0m.2-199.7h0m0 38.3h0m0-98.1h0m0 18.6h0m0 81.8h0m.1-152.6h0m.1 46.9h0m0 6.6h0m0 279.8h0m0-160.3h0m.3 219.2h0m.1-74.2h0m.1-348.3h0m.1 45.5h0m0 110.1h0m0-35.3h0m.2 234.6h0m0-167.4h0m0-195.7h0m0 268.6h0m.1-20h0m0-28.4h0m.1 87h0m.1 87.7h0m.1 .8h0m0-257.2h0m.1-88.3h0m0 204.3h0m0-149.8h0m.1 18h0m0 120.5h0m0-51.5h0m.1-157h0m0 402.3h0m.2-112.8h0m0-186.7h0m.1 245.5h0m0-92.9h0m.1 83.2h0m0-178.8h0m0-102.5h0m.1 224.3h0m.1-150.6h0m0 214.1h0m.1-187.2h0m0 90.7h0m.1 25.7h0m0 116.3h0m.1-323.2h0m0 145.5h0m0 10.4h0m.1-120.7h0m0 203.4h0m.1 49.5h0m.1 25.6h0m.1-32.8h0m0 20h0m.2-5.9h0m.1-33.7h0m0-222h0m0-21h0m0-96.3h0m.1 398h0m.1-49.1h0m0-130.6h0m.1-25.2h0m.1 147h0m0-363.6h0m0 321h0m.1-294.4h0m0 208h0m.1-163.7h0m.1 112.5h0m.2 162.6h0m.2-33.4h0m0 28.6h0m.1 7.8h0m0-17.3h0m.1-11.2h0m0-317.5h0m0 398.6h0m.1-361.2h0m0-26.6h0m0 221.1h0m.1-29.8h0m0-102.6h0m.2-78.6h0m0 343.9h0m.2-287.5h0m.1 174.1h0m0-80.6h0m0-86.8h0m0 348.5h0m.2-212.5h0m0 72h0m0 92.8h0m.1-203.7h0m.1 193.8h0m.1 33.1h0m0-311h0m.1 319.1h0m0-217.9h0m0 195.8h0m.1-16h0m.1-174.2h0m0-54.3h0m0-27.4h0m.2 68.3h0m0 133.2h0m.1-278.9h0m.1-1.7h0m0 86.9h0m.1 14.1h0m0 178h0m0 89.4h0m.1-43.7h0m0-338.1h0m.1 300.9h0m.1-156.3h0m.1 109.5h0m.1 133.8h0m0-261.6h0m0 133.7h0m.1 49.1h0m0-229h0m.2 206.8h0m0-222.1h0m.3 192.7h0m0-41.9h0m0-7.3h0m.1-28.9h0m.1 208.1h0m0-31.4h0m.1-137h0m0-240.4h0m.1 347.2h0m.1-321.8h0m.1 210.6h0m0-125.2h0m0 46.6h0m.1 188.4h0m0 34.3h0m.1-206.4h0m0 146.5h0m.1-50.5h0m0-191.9h0m.1 89.7h0m0 105.7h0m0-163.9h0m.1 16.2h0m0 107.9h0m.1 160.2h0m0-182.7h0m0-130.2h0m.2 78.6h0m.2 104.3h0m0-127.2h0m.1-71.7h0m0 142.5h0m0-98.6h0m.1 276.8h0m0-297.7h0m0 248.6h0m0-68.6h0m0-95.6h0m0-154.3h0m.1 77.3h0m.2 300.8h0m0-171.2h0m.1 5.6h0m0-221.3h0m.1 229h0m0 170.4h0m0-413.1h0m.1 308.7h0m.1 9.8h0m.1-129h0m0-50.8h0m.1 107.6h0m.1 130.8h0m0-324.8h0m.1 197.8h0m0-253.6h0m.1 186.2h0m0 192.1h0m0-288.4h0m.1-60.3h0m0 193.5h0m0-20h0m0-28.9h0m.1 123.5h0m0-39.1h0m0 57.4h0m.1-228.7h0m0 113.6h0m0 156.2h0m.1-237.7h0m.1 159.2h0m0-99.2h0m.1 185.8h0m0-240.8h0m0 49.2h0m.2-153.2h0m0 124.7h0m.1 243.3h0m0-280.6h0m0 201.1h0m.1-80.4h0m.1-22.1h0m0 36.7h0m0-86h0m.1 242.4h0m.2-139.8h0m0 166.8h0m0-366.7h0m.1 181.3h0m.1-190h0m0 369.1h0m.1-90.3h0m0-3.5h0m.1-258.6h0m.2 219.6h0m0-25.7h0m0-150.4h0m0-94h0m.1 193.4h0m0 47.3h0m0 138.2h0m0 10.7h0m.1-128.4h0m.1-251.7h0m0 110.4h0m.2 211.2h0m0-72.6h0m0-49.7h0m.2-9.1h0m0-174.3h0m.1-2.7h0m0 203h0m.2-167.5h0m0-37.5h0m.1-27.2h0m0 284.7h0m.1 77.9h0m0-159.6h0m.1 93.8h0m0-153.8h0m.1-100h0m0-12.5h0m.1 55.5h0m0-82.5h0m.1 136.8h0m0 114.8h0m.1 37.1h0m0 62.8h0m0-44.4h0m0-63.6h0m.1 114.6h0m0 28.4h0m0-403.6h0m.1 254.9h0m.1-143.6h0m0 269.8h0m0-288.6h0m0-69.5h0m.1 147.1h0m0 217.8h0m.1-354.4h0m0 91.3h0m.3-37.9h0m0-8.5h0m0 178.6h0m.1-21.9h0m.1-100.1h0m.2 234.3h0m0-140.5h0m.1-217.8h0m0 409.3h0m0-314.9h0m0-79.7h0m.2 98h0m.1 104.6h0m0-157.4h0m0 49.9h0m0 125.9h0m.1 92.9h0m0-333.3h0m.1 273.5h0m0-231.4h0m0 49.7h0m.1 32.1h0m.1 218.5h0m0-151.5h0m.1 68.6h0m0-53.2h0m0-17.9h0m.1 122.4h0m.1-216h0m.1 172.4h0m0 146.1h0m.2-372.9h0m.1 125.8h0m0 147.3h0m.2 27.1h0m0-233.8h0m0-89.9h0m.3 378.9h0m0-259.5h0m.1 108.4h0m0 72.8h0m0-127.4h0m.2-66.8h0m0 145.5h0m0 131.6h0m0-107.5h0m.1 61.7h0m0-341.6h0m.1 186.9h0m0 164.7h0m.2-209.1h0m0 56.3h0m0-217.9h0m0 145.2h0m.2-60.1h0m0 4.3h0m0-60.5h0m.1 207.8h0m.1-236.4h0m.1 7.9h0m.1 293h0m.1-222.4h0m0 32.1h0m0 149.7h0m0-82.5h0m.1-115.5h0m0-2.5h0m0 145.6h0m.1 180.6h0m.1-3.3h0m0-55.3h0m.1-40h0m0-147.4h0m.1 63.9h0m0 210.7h0m0-54.9h0m.2-209.8h0m0 94.9h0m.1-43h0m.1-99.5h0m0 244.4h0m0-225.5h0m0-64.3h0m.1 134.7h0m.1 159.5h0m0-164.2h0m.1 169.3h0m.1 40.8h0m0-91.2h0m.1 37.6h0m.1-293.8h0m.2 285.9h0m0 81.8h0m0-316.1h0m0 216.5h0m.2-150.1h0m0 178.8h0m0-55.4h0m0-194.5h0m.1-41.3h0m.1 370.1h0m.1-126.7h0m0-142.5h0m0-40.8h0m0-5.5h0m.1 318.8h0m.1-41.9h0m0-356.3h0m0 392.8h0m.1-315.6h0m.1 128.7h0m0-56.3h0m.1 169.7h0m.1 29.5h0m0-126.3h0m0 108.7h0m.1-199.9h0m0 66.1h0m.1-83h0m0 93.6h0m0-103.8h0m.1 86h0m0 24.9h0m0 88.2h0m.1-20.2h0m.1-279.1h0m.1 379.1h0m0-25.6h0m.1-76.8h0m0-61.7h0m.1 35.8h0m0-175.3h0m0 123.3h0m.1-79.8h0m.1 144.3h0m0-268.6h0m0 342.3h0m0-121.3h0m.1 21.4h0m0-73.6h0m.1 192.7h0m.1-52.7h0m0-286.4h0m0 274.2h0m.1 107.7h0m.1-33h0m0-180.8h0m.2-169.9h0m0 218.3h0m.2 21.8h0m0-158.3h0m0 16.1h0m.1 193.7h0m0-244.2h0m0 130.6h0m0 136h0m.1 15.6h0m0-237.1h0m0-58.6h0m0-29.1h0m.2 79.4h0m.1 48.4h0m.1-13h0m.1-9.8h0m0-106.4h0m0 51.1h0m0 186.2h0m0 134.3h0m.1-103h0m.1 86.5h0m0-159.4h0m0-13.6h0m0-90.8h0m.1 142.3h0m0-81.1h0m.1-182.5h0m.1 199.3h0m0-206h0m.1 313.4h0m.2 13.3h0m0-291.5h0m.1 275.9h0m0-156.6h0m.1-50.6h0m0-2h0m.1 259.6h0m.1 51.6h0m.1-392.3h0m.1 275.4h0m0-145.3h0m.1-38.8h0m.1-34.7h0m0 172.8h0m0-253.5h0m.1 67.4h0m.1 6.3h0m0 242.3h0m0-29.5h0m.1-158.2h0m.1-105.1h0m0 272.9h0m0-59.3h0m0-211.7h0m.3 276.8h0m0-186.6h0m0 10.2h0m.1-13.4h0m0-90h0m0 153.6h0m.1-132.4h0m0 299h0m.1-241h0m0 178h0m.1 103.4h0m0-384.5h0m.1 58.1h0m0 49.4h0m0 167.5h0m0 125.8h0m.1-107.8h0m0-126.5h0m0 206.4h0m0-294.6h0m.1 312.3h0m0-142.9h0m0-96.7h0m.1-82.3h0m0 138.1h0m.2-120.2h0m.1 107.9h0m0-110.6h0m.1-43.9h0m0 46.5h0m0-33.8h0m.1 68.4h0m.1 192.9h0m.1-13.5h0m.1 109.7h0m0-407.3h0m0-14.9h0m.1 127.2h0m.1 72.3h0m0-188h0m0 402.5h0m.1-392h0m0 343.5h0m.1-150.7h0m.1-143.8h0m0 217.5h0m.1-63.5h0m.1-90.1h0m0 30.6h0m0 178.8h0m0-219.7h0m.1 33.2h0m.2 115.7h0m.1-258.8h0m.1 358.2h0m0-340.8h0m.1 71.7h0m0 293.5h0m0-334.7h0m0 295.9h0m0-153.7h0m.1-3.3h0m0-106.7h0m0 55.6h0m0-18.5h0m0 197.8h0m0-86.3h0m.1 5.2h0m0 94.2h0m0 35.2h0m.1-265h0m0 83.6h0m0 30.8h0m.1-174.6h0m0 89.6h0m0 3.4h0m.1 137.6h0m.1-189h0m0 208.8h0m.1 122.6h0m0-196h0m0 131.8h0m0-339.7h0m.2 403.7h0m.1-16.5h0m0-152.3h0m0 111.2h0m.1-278.1h0m.2-63.1h0m0 134.6h0m.1 216.8h0m0-196.1h0m.1 1.9h0m.1-38.6h0m.1 4h0m0 38.9h0m.1 225.2h0m0 9.3h0m.1-358.2h0m.2 257.7h0m.1 9.4h0m0-65h0m.1-226.5h0m0 352.4h0m0-258.9h0m.1 27.8h0m0 116.5h0m0-139.5h0m.1 60.5h0m.1-13.9h0m0-78.6h0m.1 16.4h0m0 241.6h0m0-137.4h0m0-212.8h0m0 45.9h0m.1 316.7h0m0-306.5h0m.1-40.7h0m0 259.6h0m0-80.3h0m0 165.5h0m0-263h0m.1 141.3h0m0-15.1h0m.1-68.1h0m0 230.1h0m.1-227.2h0m0-85.2h0m0 135.3h0m0 23.9h0m0 55.4h0m.1-35.3h0m.1-139.1h0m.1 82.6h0m.1-108.4h0m0 111.3h0m.2-68.6h0m.2 85.3h0m.1 75.7h0m.1 32.9h0m0-208.2h0m0 287.8h0m0-415.7h0m.1 103.5h0m0 220.9h0m.1-20.7h0m0-44.6h0m0-43.7h0m.1-30.6h0m.1-9.9h0m0 89.9h0m.1-9.1h0m0 29.4h0m0 74.4h0m.1-17h0m0-27h0m0-260.3h0m.1 349h0m0 3.5h0m.1-19.2h0m0-314.6h0m0 5.8h0m.1 305h0m.1-133.8h0m.1 149.1h0m.1-342.3h0m0-16.7h0m0 110.8h0m0 177.9h0m0-151.2h0m.1-93.1h0m0-74.4h0m.1 74.8h0m0-35.8h0m0 139.7h0m.1-47h0m.1 21.2h0m0-143.5h0m0 160.4h0m.2 99.9h0m0 7.6h0m.1-165.4h0m0 124.4h0m.2-229.9h0m0 88.8h0m0-84.1h0m0 255.4h0m.2-189.8h0m0 208.8h0m.1 4.1h0m0 105.9h0m0-201.3h0m0-75.4h0m0-19.1h0m.1 44.6h0m0 43.2h0m.1 200.1h0m0-62.7h0m.1 53.7h0m0-23h0m0-21.8h0m.2 24.9h0m0-329.5h0m.1-21.1h0m0 304.4h0m0 93.7h0m.1-223.8h0m.1 97h0m0 134.7h0m.1-306.9h0m0 127.3h0m0-180.7h0m0-8.9h0m.1 216.2h0m.1-219.4h0m.1 85.3h0m0 250.1h0m0-287.8h0m.1-55.8h0m0 93.8h0m0 162.3h0m0-206h0m0 237.5h0m.1-280.9h0m0 64h0m0 50.1h0m.1-86.4h0m0 213.4h0m.1-105.2h0m0 217.3h0m.1-211.8h0m0-181.5h0m0 412.3h0m0-27h0m.2-185.5h0m0-84.6h0m.1-75.2h0m0 3.1h0m0 371.2h0m0-174.9h0m.2 74.6h0m0 108.6h0m0-26.2h0m.1-156.7h0m0-63.5h0m.1-116.2h0m0 94.2h0m.1 214.1h0m0-229h0m.1-50.1h0m0 168.4h0m0-44.1h0m.1 36.5h0m0 99h0m0-187.5h0m.1 186.4h0m0-1.8h0m.1 63.7h0m.1-142.6h0m0-3h0m0 126.8h0m.1-86.1h0m.1-111.9h0m.1 173.6h0m0-41.1h0m0-221.4h0m.1 227.2h0m0-181.2h0m0-159.8h0m.1 6.3h0m0 341.6h0m0-153.6h0m0 174.5h0m.2-122.4h0m.1-208.6h0m.1 90.4h0m0 31.6h0m.1-70.6h0m0 201h0m.1-178.5h0m0-1.8h0m.1-65.9h0m.1 28.5h0m0 143.4h0m0 156.6h0m.1-34.4h0m0 34.1h0m0-4.8h0m.1-349.6h0m.1 46.1h0m0 172.9h0m0 90.5h0m0-40.5h0m.1-68.9h0m.1-185.7h0m0 376.4h0m0-154.5h0m0-197.5h0m.1 298.7h0m.1-357.9h0m.1 337.8h0m.1 68.2h0m0-378.9h0m0 107.1h0m0 168h0m0-274.8h0m0 157.6h0m.1-69.6h0m.2 249.9h0m0-92.7h0m0 6.9h0m.1 30.8h0m0-237.9h0m0 231.2h0m.1-123.9h0m0-168.9h0m.1 317.1h0m0-233.7h0m.1 277.8h0m0 31.5h0m0-89h0m.2-14h0m0-160h0m.1 255h0m0-271.4h0m0 196.2h0m.1-131.5h0m0 72.1h0m.1-191.4h0m0 318.2h0m0-35.5h0m.1-247.1h0m.1-.4h0m0 121.5h0m.1-188.6h0m0 257.5h0m.3-109.7h0m.1 234.9h0m0-168.4h0m0 103.1h0m.2-38.8h0m0-171.5h0m0-115.4h0m.1 50.2h0m.1 129.2h0m.1 148.9h0m0-61.4h0m0-190.3h0m.2 214.5h0m0 44.6h0m0-339.7h0m.1 12.2h0m.1 16.7h0m0 53.2h0m0-43.8h0m.2 249.7h0m0 64.1h0m0-5h0m.2-89.4h0m0-196.3h0m0 61.9h0m0 77.6h0m0-136h0m.1 26.4h0m.1-68.2h0m0 297.7h0m.1-314h0m0 223.4h0m0-98.8h0m.1 278.6h0m0-393.1h0m.1 89h0m0 40.2h0m0 96.6h0m.1 128.8h0m0-243.6h0m0-119.1h0m.1 128h0m.1 204.5h0m0-32h0m0 94h0m0-394.8h0m0 19.1h0m.1 148.1h0m0 181.6h0m.1-228.7h0m0 188.8h0m.1-226.3h0m0 227.1h0m.2-189.6h0m0 134.7h0m.1 125.6h0m.1-57.1h0m0-283.5h0m.1 348.8h0m0-278.4h0m0 104.7h0m.1 114.6h0m.1-189.5h0m0-41.6h0m0-70.8h0m.1 31.4h0m.1 121.2h0m.1-147.6h0m.1 62.9h0m.1 80h0m0 36h0m.1 28.7h0m.1-53.1h0m.1 127h0m0-33.3h0m0-211.6h0m.1 18.2h0m0 115.1h0m0 189.8h0m0 2h0m0-386.4h0m0 301h0m.2-201.7h0m0-24.7h0m.1-44.8h0m0-11.6h0m0 250h0m.1-64.8h0m0 82.7h0m0 67.2h0m0-332.5h0m0 372.8h0m.1-266.2h0m.1 221.1h0m0-126.7h0m0-45.7h0m0 184.2h0m.1-195.5h0m.1-132.5h0m0 151.4h0m.2 198.9h0m0-378.8h0m.1 273.8h0m0 2.3h0m0-183.2h0m.2 43h0m.2-172.6h0m0 409.8h0m.1-162.8h0m0-23.2h0m0-179.6h0m0 2.6h0m0 215.4h0m0 30h0m.1-145.7h0m0-126.4h0m.1 58.4h0m.1 19h0m0 3.7h0m.2 254.4h0m0-353.4h0m0 418.8h0m.1-330.8h0m0-78.6h0m0 45.7h0m.1 341.9h0m0-207.6h0m.1 8.8h0m0-85.3h0m0-6.2h0m0 220.2h0m.1 27.9h0m0-197h0m.1 33.9h0m.1 119.4h0m0-191.4h0m.1-122.3h0m0 30.7h0m.1 350.1h0m0-306.6h0m.1 161.5h0m0-64.7h0m.1 126.6h0m0-135.4h0m0 140.1h0m0-274.6h0m0 180.4h0m.1 190.1h0m0-290.1h0m.2-98.1h0m.1 251.5h0m0-145.3h0m0 295.7h0m.1-104.5h0m0-61.2h0m0-19.5h0m.1-144.1h0m.1 93h0m0-48.9h0m.1-133.5h0m0 295.1h0m0-150h0m0 284.3h0m0-192.7h0m.1 54.6h0m0 124.1h0m.1 13.3h0m.1-340.5h0m0 66.2h0m.1 135.9h0m.2-72.3h0m0 1.1h0m.1 198.2h0m.1-265h0m.2-91.6h0m0 260.3h0m.1-322.7h0m.1 358.5h0m.1-77h0m.2 136h0m0-37.2h0m0-351.9h0m0 33.6h0m.1-43.6h0m.2 306.9h0m0 106.8h0m.1-160.1h0m0-81.4h0m.1-57.1h0m.1 219.9h0m0-258.4h0m.1 230.4h0m0-268.1h0m0 189.4h0m.1-118.1h0m0 136.4h0m0-34.1h0m0 10.7h0m0 27.2h0m.1 133.7h0m0-231.5h0m.1-127.7h0m.1 255.2h0m0 106.6h0m.1-398.6h0m.1 219.6h0m.2-58.3h0m.1-83.4h0m0 345h0m.1-149.9h0m0-271.4h0m.1 98.3h0m0 201.3h0m0 32.3h0m.1 79.7h0m0-363.1h0m0 108.7h0m0 213.7h0m.2-243.4h0m0 266.4h0m0-106h0m0-280.6h0m.1 315.2h0m0-319.7h0m0 266.9h0m.1-32.9h0m0 139.4h0m0 25.4h0m.1-339.4h0m0 110.3h0m0-45.7h0m0 94.1h0m0 112.8h0m.1-195.5h0m0 210.9h0m0-112.1h0m0-99.4h0m.1 143.3h0m.1-31.9h0m.1-188.9h0m0-40.8h0m0 185.5h0m.1 160.9h0m0-299.7h0m.1 187.4h0m0-235.9h0m.1 172.2h0m0 147.9h0m0 18h0m0-345.6h0m0 369.7h0m.1-232.9h0m0-64.3h0m.1 194.6h0m.1 31.8h0m.1-30.1h0m0-242.4h0m0 362.8h0m0-214.4h0m.1 160.1h0m0 43.1h0m.1-10.7h0m0-340.6h0m0 225.4h0m.1 82.3h0m0-97.1h0m0 118.1h0m0-138.7h0m0-126.2h0m.1 141.8h0m.1 118.7h0m.1-219.5h0m0 137h0m.1-171.1h0m.1 214.5h0m0-55.9h0m.1 86.4h0m0-192.6h0m.1 266h0m0-20.5h0m0-339.8h0m.1-31.6h0m.1 221.5h0m.1-209h0m0-1.1h0m.1 57.3h0m0-77.2h0m0 63.6h0m0 178.5h0m.1-182.2h0m0 59.4h0m.1-127.4h0m0 366.5h0m.1-215.6h0m0-33.1h0m0-108.1h0m0 337.9h0m.1-366.8h0m0 349.7h0m.1 32.7h0m0-108.5h0m0-197.3h0m.1 288.3h0m0-221.8h0m0 245.5h0m.1-31.9h0m0-304.7h0m.1 147h0m0-17.4h0m0-177.7h0m.1 213h0m0-97h0m0 28.6h0m.1 54.5h0m0 42.5h0m0-40.9h0m0-105h0m0 202.2h0m0-230.7h0m.2 182.6h0m0-234.5h0m.1 94h0m.1 298.7h0m0-27.9h0m0-221.2h0m.1 130.8h0m0-296.1h0m0 255.8h0m.1 168.9h0m.1-336.5h0m0 36.6h0m.2-65.2h0m0 190.5h0m.1 125.7h0m0-366.9h0m.1 269.8h0m0 56.8h0m0-119.8h0m.1 11.6h0m0 136.4h0m0-24.9h0m.1-19h0m0 42.5h0m0-325h0m.1 368.9h0m0-53.6h0m0-295.1h0m0 37.7h0m.1 24.7h0m.1 201.7h0m.1 17.7h0m0-51.4h0m.2-239.1h0m0 258.9h0m.1-237.7h0m0 211h0m0-93.7h0m0-97.9h0m.1 253.9h0m0-20.7h0m.1-29.6h0m0-139.3h0m.1 165.8h0m.1-307.8h0m0 245.9h0m.2-179.3h0m.1 58.6h0m.1-16.8h0m0 210.5h0m0 39.2h0m.1-105.4h0"/>
<path class="l" style="stroke-width:5.1" d="M295.3 781.50H704.4"/>
<path class="l" style="stroke-width:5.0" d="M295.3 791.60H704.4"/>
<path class="l" style="stroke-width:5.0" d="M295.3 829.40H704.4"/>
<path class="l" style="stroke-width:4.8" d="M295.3 839.60H704.4"/>
<path class="l" style="stroke-width:4.3" d="M295.3 1028.00H704.4"/>
<path class="l" style="stroke-width:5.2" d="M295.3 1089.40H704.4"/>
<path class="l" style="stroke-width:4.9" d="M295.3 1110.20H704.4"/>
<rect class="ax" x="90.70" y="687.10" width="716.00" height="512.70"/>
<text class="t" text-anchor="middle" transform="translate(90.2 1236.1) rotate(0.03) scale(1 1.03)">0</text>
<text class="t" text-anchor="middle" transform="translate(294.8 1236.1) rotate(0.03) scale(1 1.03)">4000</text>
<text class="t" text-anchor="middle" transform="translate(499.3 1236.1) rotate(0.03) scale(1 1.03)">8000</text>
<text class="t" text-anchor="middle" transform="translate(703.9 1236.1) rotate(0.03) scale(1 1.03)">12000</text>
<text class="t" text-anchor="end" transform="translate(79.9 697.0) rotate(0.03) scale(1 1.03)">0.8</text>
<text class="t" text-anchor="end" transform="translate(79.9 825.1) rotate(0.03) scale(1 1.03)">0.4</text>
<text class="t" text-anchor="end" transform="translate(79.9 953.1) rotate(0.03) scale(1 1.03)">0</text>
<text class="t" text-anchor="end" transform="translate(79.9 1081.2) rotate(0.03) scale(1 1.03)">-0.4</text>
<text class="t" text-anchor="end" transform="translate(79.9 1209.2) rotate(0.03) scale(1 1.03)">-0.8</text>
<text class="s" text-anchor="middle" x="448.2" y="1272.2">n</text>
<text class="s" text-anchor="middle" transform="translate(20.3 943.8) rotate(-90)">x(n)</text>
<text class="c" text-anchor="middle" x="401.4" y="1333.8">(c)</text>
<path class="tk" d="M1201.6 1199.8v-7.4M1201.6 687.1v7.4M1406.1 1199.8v-7.4M1406.1 687.1v7.4M1610.7 1199.8v-7.4M1610.7 687.1v7.4M997.0 815.4h7.4M1713.0 815.4h-7.4M997.0 943.5h7.4M1713.0 943.5h-7.4M997.0 1071.5h7.4M1713.0 1071.5h-7.4"/>
<path class="d" d="M997.1 1113.6h0m.3-70.6h0m.1-128.4h0m.1 218h0m0-259.4h0m0-65.3h0m.1 255.5h0m.1-63.2h0m0-232.5h0m0 95.9h0m.1 1.8h0m0 88.6h0m.1 140.7h0m0-307h0m0 47h0m.1 74.6h0m.2-106.4h0m0 69.2h0m0-36.8h0m0 210.4h0m.1-111.5h0m0 171.4h0m0-358.5h0m.1 232.5h0m0 2.3h0m0-105h0m.1-112.7h0m0 47.2h0m0-43.9h0m.1 207h0m.1-133.5h0m.1 158.3h0m0 144.9h0m0-119.2h0m0 46.2h0m.1-19.2h0m0-127.1h0m.2 18.1h0m0-206.1h0m.1 299.9h0m.1 76h0m0-26.9h0m.1-239.6h0m0 121.6h0m0-9.6h0m0 176.5h0m0-378.6h0m.1 90.9h0m0-19.9h0m.1-42.1h0m0 70.9h0m.1 256.7h0m.1-360.2h0m0 296h0m.1-150.9h0m.1 232h0m0 20.2h0m.2-141.8h0m0-98.7h0m.1-7.7h0m0-94.2h0m0 175.1h0m.1 138.1h0m0-184.3h0m0 218.5h0m0-165.6h0m.1-68.1h0m0 7.2h0m0-119.2h0m.1 43.9h0m0-34.1h0m0 322.5h0m.1-105.1h0m0-245.2h0m.3 238h0m0-.9h0m0 22.6h0m.1-149.1h0m0-155.7h0m0 34.7h0m.1 347.5h0m0-31.1h0m0-22.2h0m0-240.3h0m.1 227.5h0m0-104.3h0m.1 153.6h0m0-251h0m0-126.8h0m0 425.4h0m.1-253.6h0m0-103.4h0m0 32.6h0m.1 117.5h0m.1 58.9h0m0 143.3h0m0-74.7h0m.1-107.6h0m0-192.5h0m0 200.2h0m0 135.3h0m.1-177.8h0m0-96.3h0m.1 245.6h0m0-168.3h0m0 218.7h0m0 11.2h0m0-14.3h0m.1-313.1h0m0-96.5h0m0 153.2h0m.3 66.7h0m.1 55.9h0m0-6.8h0m0-141.7h0m0 21.2h0m0-88.1h0m0 113.2h0m.1 8.2h0m.1 193.8h0m.1-176.7h0m0 99.7h0m.1-230.2h0m0 271.3h0m.1-117.4h0m0 72.9h0m0 12.3h0m.1-15.5h0m.2-172.6h0m0-19.9h0m.1 92.6h0m.1-75.6h0m0-64.4h0m.1 38.6h0m0-61.6h0m.1 111.7h0m.1-51.6h0m.1-68.5h0m.2 168h0m0 158.8h0m.2 81.2h0m0-209.6h0m.1 98.7h0m0-265.2h0m0 215.6h0m0-235.1h0m.1 365.5h0m0-374.5h0m0 349.3h0m.1-115.3h0m0-255.4h0m.1 79.9h0m.1 321.5h0m.2-219.5h0m0-110h0m0 278.4h0m.1-125.9h0m.1 79.6h0m0-61.7h0m0-120.7h0m.1 301.8h0m0-143.3h0m0-113h0m0 255.6h0m0-216.3h0m0-102.1h0m.1-11.8h0m0 53.3h0m.1 192.1h0m.1-36.4h0m0-173h0m0-18.6h0m0 260.7h0m0-169.6h0m.1-187.3h0m0 403.4h0m.1-122.3h0m0-275.9h0m0 121.1h0m.1 273.3h0m0-115.5h0m0-226h0m0 48.8h0m0 38.7h0m0 191.9h0m.1 23.3h0m0-141.7h0m.1-110.1h0m.1 310.8h0m.2-111.9h0m0 74.5h0m0-106.9h0m0-181.5h0m.1 146.9h0m0 132.3h0m.1-104.2h0m0-221.1h0m.1 43.8h0m0 91.9h0m0-140.2h0m.1 260h0m0-137.7h0m.2-83.2h0m0 271h0m0-178h0m.1 151.3h0m0-30.1h0m.1 50.4h0m.1-308.1h0m.1 319.9h0m0-205h0m0-129.8h0m.1 155h0m.1-185.2h0m.1 99.4h0m0 20.5h0m0 25.8h0m.1-4.8h0m.1 137.7h0m0-263.7h0m.1 271.2h0m0-181.6h0m.1-83.5h0m0 166.7h0m0 62.9h0m0 23.7h0m.1 143.1h0m.1-251.1h0m0 87.5h0m.1 88.9h0m0-193.7h0m0 23.7h0m.1 211.4h0m.1-309.6h0m.1 345.2h0m0-188.1h0m0-46.2h0m0-33.1h0m.1-120.5h0m.1 160.9h0m0-44.3h0m0-65.7h0m.1 86.3h0m0-67h0m0 280.4h0m.1-239.2h0m0 275.3h0m0-342.1h0m0 193.9h0m0-70.5h0m0-175.9h0m.1 192.6h0m0 180h0m.1-233.1h0m.1 75.3h0m0 47.7h0m.1-178.9h0m0-10.7h0m.1 115.6h0m0-167.8h0m.1 328.9h0m0-339.5h0m0 276.9h0m.1-17.6h0m0 40.7h0m0 12.7h0m0-328h0m0 92.6h0m.1 142.2h0m.1 26.2h0m0-276.6h0m.2 39.1h0m0 264.6h0m0-257.8h0m0 31.7h0m.1 48.3h0m0 56.4h0m.1 183.2h0m0 57.8h0m0-283h0m.1 207.2h0m0 4.4h0m0-261.6h0m0 70h0m.1 242h0m.1-340.4h0m0 337.9h0m0-246.2h0m.1-59h0m.1 46.9h0m0-17.9h0m0 228.7h0m.1-6.9h0m0-124.5h0m.1-139.7h0m.1-10.6h0m0 311h0m0-263h0m.1 135.7h0m.1-25.6h0m0 11.8h0m.1-110.5h0m0 52.4h0m.1 215.9h0m.2-83.2h0m0-100.7h0m0 92.5h0m.1 55.5h0m0-160.9h0m.1-186.1h0m0 125.8h0m0-119h0m0 100.6h0m.1-40.9h0m0-86.8h0m0 226.5h0m0 154.9h0m.1-309.2h0m0 343.6h0m0-393.4h0m0 375.4h0m0-39.3h0m0-173.7h0m.1-44.2h0m0 191.4h0m0-169.7h0m.1 168.4h0m.1-14.1h0m.2-194.5h0m.1 239.3h0m.1-240.6h0m0-42.1h0m0 303.8h0m.1-372.8h0m0 246.9h0m0-24.5h0m0-106.6h0m0 98h0m.2-143.1h0m0-25.9h0m0-26.5h0m0 107.8h0m.1 84.6h0m0-154.3h0m0 254.1h0m.1-172.5h0m0 8.6h0m.1 115.2h0m0-8.9h0m.2-95.1h0m.1-36.6h0m.1 204.2h0m0-184.3h0m.1-35.7h0m0-42.4h0m0 10.7h0m0 71.8h0m.1 257.3h0m0-103.5h0m.1-17.1h0m.1-109.4h0m0 67.8h0m0 35.5h0m0 65.4h0m.1-349.3h0m0 94.6h0m.1 132.9h0m0 180.8h0m.2-246.2h0m0 166.6h0m.1-272.8h0m.1 189.6h0m.2-157.2h0m.1 327h0m.3-332.1h0m.1-61.1h0m.1 319.8h0m0-38.2h0m0-47h0m0 112.7h0m0-247.1h0m.1 78.6h0m.1 52.4h0m0-98.4h0m0 126.7h0m0-209.8h0m0 91.8h0m.1-3.6h0m.1 156.1h0m.1-92.2h0m0 122.8h0m0-79.4h0m.1-158.1h0m.1 124.5h0m0 15.4h0m0 104.1h0m.1-163.8h0m0 202.9h0m0-72.7h0m0-255.6h0m.1-34.7h0m0 186.1h0m.1-170.4h0m0 166.1h0m0-205h0m.1 121.8h0m.1 248.5h0m.1 40.9h0m0-183.8h0m.1 67.8h0m0-311h0m.1 293.3h0m0-277.1h0m0 264.8h0m0-248.8h0m.1 3.3h0m.1-26.1h0m0 243.1h0m.1 56.7h0m0-186h0m0 142.3h0m0-26.3h0m.2 178h0m0-271.1h0m0-83.6h0m0 282.6h0m.1-188.9h0m0 272.6h0m0-7.5h0m.1-157.2h0m0 52h0m.2 64.1h0m.1-320.7h0m0 84.9h0m0 114.3h0m0 94.4h0m0 51.8h0m.1-112.7h0m0-36.1h0m.1 73.6h0m.1-17.1h0m0-39.6h0m0 64h0m.1-112.1h0m0-175.9h0m.1 129.9h0m0-30.5h0m0-42.6h0m.1-10.6h0m0 160.7h0m0 83.5h0m0 .7h0m.1-77.6h0m0 148.7h0m.1-89h0m.1-70.5h0m0-193.5h0m0 141h0m.1-36.3h0m0 51.1h0m0 142.5h0m.1-302h0m0 260.8h0m.1-50.5h0m.1 154.5h0m0-318.4h0m.1-65.2h0m0 41.7h0m.2 289.6h0m0-6.2h0m0-315.1h0m.1 244.8h0m0-11.7h0m.1 112.4h0m.2-139.4h0m0-239.5h0m0 389.9h0m.1 3.4h0m0-378.7h0m0 93.5h0m0-76.4h0m.1 51.4h0m.1 194.5h0m.1-110h0m0 230h0m0-83.7h0m0-174h0m.1 235.8h0m.1-359.7h0m0 387.1h0m.2-83.9h0m0-124.1h0m.1-31.7h0m0 11.2h0m0 48h0m.1-169.1h0m0-47.4h0m0 146.4h0m0-73.6h0m0 215.8h0m.1-140.4h0m0 209.8h0m.1-162.1h0m0 15.4h0m.1 28.7h0m0-164.7h0m0 217.4h0m.1-24.4h0m0-260.2h0m.1 99.9h0m0-4.1h0m0-29.9h0m.3 9.8h0m0 100.7h0m0-150.2h0m.1 45.9h0m0 168h0m0 50.8h0m.1 63.2h0m0 10.6h0m.1-9h0m0-340.1h0m.1-.6h0m0 352.8h0m.2-347.9h0m0 128.5h0m0 128.6h0m0 106.7h0m.1-336.1h0m.1 136.2h0m0-117.4h0m.1 268.8h0m0-218.7h0m.1 165h0m0-175.2h0m.1 216.6h0m.1-168.1h0m0 95.9h0m.2-165.8h0m.1 110.2h0m.1 142h0m0-345.3h0m0 248h0m.1-127.6h0m0 183.1h0m0 20.9h0m0-202.7h0m.1 144.6h0m0-261.6h0m.1 333.1h0m.1-201.3h0m0 37.4h0m0-28.8h0m.1 13h0m.1-113.4h0m.1 265.4h0m0-17.4h0m0-130.7h0m.1-22.4h0m0 39.6h0m0-52.9h0m0-60.7h0m.1 299.4h0m.1-30.9h0m.1-337.4h0m.1 46.3h0m0 39h0m.1 134.2h0m0 82.1h0m0-77.8h0m.1 44.2h0m.1-278.7h0m.1 89.5h0m0 229.2h0m0-206.8h0m0-10.7h0m.1 107.7h0m0-19.5h0m0 7.5h0m0-74.6h0m.1 81.7h0m.1-29.1h0m.1 205.4h0m0-339h0m0 113.9h0m.1-37.2h0m0-92.8h0m.1 217.7h0m0-2.7h0m0 124.3h0m.1 60.3h0m0-309.8h0m.1 202h0m0 31.5h0m0-101.5h0m0-65.2h0m0-144.7h0m0 267.3h0m.1-220.6h0m0 335.9h0m.1-61.5h0m.1 73h0m.1-352.7h0m0 137.4h0m0 68.4h0m.1 144.9h0m.2-174.4h0m0-114.5h0m.1-121.8h0m0 168.9h0m0-158.5h0m.1 34.6h0m.1 354.3h0m.3-157.5h0m0-152h0m.1 179.9h0m0-72.1h0m0-16.2h0m0-44.6h0m.1-144.4h0m.1 93.1h0m0-39h0m0 79.7h0m.1 112.4h0m0-205.5h0m0 370.7h0m.1-341.3h0m0 96.7h0m0-98.9h0m.1 33.8h0m.1 191.8h0m0 72.7h0m0-83.8h0m.1-134.1h0m0-3.8h0m0 66.6h0m.1 148.5h0m0-251.7h0m.1 89.2h0m.1-87.6h0m.1 105.9h0m0 96.3h0m.1-267.4h0m0 255.2h0m0-219h0m.2 336.2h0m.1-316.3h0m.1 25.6h0m.2-5.4h0m0-23h0m0 30.4h0m.2 274.6h0m0-287.9h0m0 141.7h0m0-5.7h0m.1 42.5h0m0-22.3h0m0-47.8h0m.1-162.1h0m.1 293.6h0m0-258.5h0m0 220.1h0m.1-86.8h0m0 92.8h0m.1 74.2h0m0-399.3h0m0 155.6h0m.1-55.4h0m.1 10.9h0m0 173.3h0m.1 58.2h0m0-140.4h0m0-210.5h0m0 274.9h0m.1-4.3h0m.1 91.1h0m0-341.9h0m0 115.4h0m.1 49.7h0m0-153.7h0m0-18.1h0m0 194.2h0m.1 191.4h0m0-361.8h0m0 193.4h0m.1-186.8h0m0 9.2h0m.1 332.1h0m.1-344.1h0m.2 196.1h0m0-135h0m.1 54.4h0m.1 161.9h0m.1 62.7h0m0-87.5h0m0-200.9h0m0-95.8h0m0 222.7h0m.1 118.7h0m0-46.1h0m0 96.3h0m0-23.7h0m.3-68.1h0m0-100.7h0m.1 160.9h0m0-56.2h0m0-74.1h0m0 62.4h0m0-172.8h0m0-104.5h0m.1 228.1h0m.1-47.6h0m0-121h0m0-53.3h0m.1 203.4h0m.2 122.1h0m.1-192.1h0m.1-31.8h0m.1 268.2h0m0-228h0m.2 164.3h0m0-264.6h0m0 349.9h0m0-313.7h0m.1 109.9h0m0 6.3h0m0-134.6h0m0 278.8h0m.1 14.5h0m0-28.4h0m.1 19.5h0m0-213h0m0 107h0m0 173.4h0m.1-255.7h0m.1-138.5h0m0-33.2h0m0 351.8h0m.2-302.8h0m.1 278.9h0m0-153.7h0m0 56.8h0m.1-56.2h0m0-140.9h0m0 193.6h0m.1 164h0m0-247.5h0m.1 197.5h0m0-141.3h0m0 198h0m0-10.5h0m.1-317.7h0m0 168.8h0m.1-115.8h0m0 98.5h0m0-67h0m.2-27.9h0m0 206.1h0m.1-241.3h0m0-33.4h0m0-54.6h0m.1 249.4h0m0-6.1h0m0 88h0m.1-192.1h0m0-30.8h0m.2-1.5h0m0 182.2h0m0-80.5h0m0 73.1h0m.1-91.5h0m.1-147h0m0 340.4h0m0-13.8h0m0-112.5h0m0-186h0m.1 52.9h0m.1 114.2h0m.1 39.5h0m0 15.1h0m0-87.7h0m0-186.1h0m.1 386.9h0m.1-249.6h0m0 117.7h0m0-14.9h0m.2-110.7h0m0 186.5h0m0 32.5h0m.1 7.1h0m.1-340.2h0m.1 305h0m0-35.1h0m0-113.9h0m.1 50.6h0m0-121.9h0m0-57.1h0m0 19.1h0m.1 214.9h0m.1-211h0m.1-14.4h0m0 227.6h0m.1-13.9h0m0-173.3h0m.1 70.5h0m.1 212.4h0m.1-325.9h0m0 350.4h0m.1-253.3h0m0 86h0m0 165.3h0m.1-356.5h0m0 141h0m0-192.7h0m.1 304.5h0m0-79.4h0m0 34h0m0-57.7h0m0-105.8h0m.1 265h0m0-232.8h0m0 248.6h0m.1-27h0m0-274.6h0m.1 36.5h0m.1-72.2h0m.1-29.2h0m0 210.6h0m.1-2.7h0m0 81h0m.3 51.7h0m.1-98h0m0 35.6h0m0-149h0m.1-99.7h0m0 124.7h0m0 3.6h0m.2-158.9h0m0 328.8h0m0 44.3h0m0-348.2h0m.2 14.5h0m0 310.6h0m0-127.8h0m.1 47.9h0m0 52h0m.1-254.6h0m0 164.1h0m.1-186h0m0 351.9h0m.1-401h0m.3 41.4h0m.1 179.7h0m.1-162h0m.1 76.2h0m.1-125.1h0m0 340h0m.1-42.4h0m.2-222.4h0m0 247h0m0-208.3h0m0 259.8h0m.1-319h0m0-53.8h0m0 90.5h0m0 119.1h0m0-227.8h0m.1 8.1h0m0 24.1h0m.1 67.5h0m0 161.4h0m.1-155.9h0m.1 8.9h0m.1-72h0m.1 196.2h0m0 164.5h0m0-103.8h0m.1 7.9h0m0-93.9h0m0 23.2h0m.1-108.6h0m0-142.9h0m.1 106.4h0m.1 283.6h0m0-53.8h0m0-310.8h0m0 149.1h0m.1 106.4h0m.1-93.3h0m.1 43.4h0m0-111.1h0m0-77.2h0m.1 43.9h0m.1-72.4h0m0 51.1h0m.1 156.4h0m.1 127.8h0m0-104.3h0m0 24h0m0 118.2h0m0-168.4h0m.3 9.8h0m0-159.1h0m0 364.3h0m.1-329.6h0m0 9h0m.1 191.9h0m0-179.1h0m.1-89.5h0m0 314.9h0m0-246.2h0m0 185.7h0m.1-28.9h0m0 71.2h0m0-88.8h0m.1-2.3h0m0 73.2h0m0-214.7h0m0-7.2h0m.1 261.8h0m0-41.9h0m.1 16.1h0m0-192.4h0m.1-122.3h0m.1 345.3h0m.1 5.1h0m0-159.2h0m0-52.8h0m0 248.3h0m.1-185.9h0m0 160.1h0m0-268.3h0m0 187.4h0m.1 118.6h0m0-214.6h0m.1-46.7h0m.1-123.6h0m.1 86.9h0m.1 46.9h0m0-80.9h0m0-8.8h0m0 119.7h0m.1 142.8h0m0-302h0m0 27.9h0m.3 366.5h0m.1-241.1h0m0-177.5h0m.1 266.1h0m.1-90.7h0m0-124.8h0m.1 44.1h0m0 229.5h0m0-56.1h0m.1-90.2h0m.1 160.3h0m0-334.5h0m.1 286h0m.1 23.9h0m0-43.1h0m0 73.1h0m.1-239h0m0-27.4h0m.2 254.7h0m0 14.6h0m0-339.1h0m.1 119.2h0m.1-59.7h0m0 280.8h0m.1-45.1h0m.1-266.7h0m.1 86.1h0m0 65.4h0m.1-190.1h0m0 399.5h0m.1-147.1h0m0-114.4h0m.1 76.2h0m.1 175.1h0m0-87.6h0m.1-184.6h0m.1 31.7h0m.1 172h0m.1-288.8h0m.1-19.4h0m0 126.6h0m0-8.8h0m0-72.5h0m.1 360.1h0m0-323h0m0-50.2h0m.1 379.3h0m0-210.3h0m0 124.8h0m0-101.6h0m.1-100.2h0m.1-57.1h0m0 293h0m0-79.6h0m.1-207.1h0m.1 81.8h0m.1 228.1h0m0-367.9h0m0 39.5h0m0 89.4h0m0-60.5h0m.1 4h0m0 198.2h0m0 13h0m.1 41.2h0m0-135.9h0m.1-58.1h0m0 66h0m0 68h0m0-189.3h0m.1 29.8h0m.1-47.9h0m0 297h0m.1-208.8h0m0 152.6h0m.1-85.8h0m.1-63.8h0m.1 191.9h0m0-348.5h0m.1 119.1h0m.1-17.3h0m.1-52.2h0m0 24.2h0m.1 309.6h0m0-351.8h0m.2 279.9h0m0-285.1h0m0 205.2h0m.1 113.1h0m0-279.5h0m.2-60.2h0m.1 176h0m.2-50.3h0m0 263.3h0m0-415.3h0m.1 345h0m0-195.8h0m0 49.3h0m0 123.6h0m0-83.3h0m0-32.3h0m.1 104h0m0-131.9h0m.1-165.4h0m0 359.3h0m0-124.1h0m.1-14.3h0m0 44.7h0m.1-257.7h0m0 282.1h0m.1 49.3h0m.1 11.3h0m.1-321.5h0m0 282.9h0m0 84.2h0m.1-114h0m.1-99.1h0m.1 29.6h0m0-155.3h0m.1 269.1h0m0-25.6h0m0 16.8h0m0-105.8h0m0-57.4h0m.1 77.2h0m0-90.5h0m0-41.7h0m0 303.7h0m.1-46.4h0m0-305.7h0m0 215.4h0m0-150.4h0m.1-115h0m0 274.8h0m0 2.3h0m.1 50.2h0m.1-154.6h0m.1 203.1h0m.1-299h0m.1 252.5h0m0-46.9h0m.1 26.7h0m0-185.1h0m.1 294.8h0m.1-335.8h0m0 285.3h0m.2-37.1h0m0 62.9h0m.2-13.5h0m0-171.7h0m0 175.4h0m.1-153.8h0m0 172.4h0m.2-267.5h0m.1-100.6h0m.2 324.5h0m0-112.4h0m0-86.7h0m.1-1.4h0m0 211.2h0m.1-101.4h0m0 109.1h0m0-264.2h0m.1 30.9h0m0-57.3h0m.2-93.3h0m0 338.4h0m.1 12.8h0m0-208.1h0m0-35.6h0m.1 38.7h0m.1-76.4h0m0-20.9h0m.1 271.4h0m0-220.6h0m0-105.8h0m.1 140h0m.1 148.1h0m.2-86.4h0m0 131.1h0m.1-214.7h0m0-97.4h0m.1 309.3h0m0-250.7h0m0 209.9h0m0 130.8h0m.1-162.2h0m0-173.4h0m0 10.4h0m0 97.4h0m.1-48.7h0m0 27.7h0m.1-2.6h0m0-144.6h0m0 182.9h0m0-139.1h0m.1 310.6h0m.1-126.5h0m0 136.7h0m0-184.6h0m.1-141.6h0m0 211.7h0m.1-278.7h0m0 418.4h0m0-171h0m0 12.4h0m0 43.6h0m.1-47h0m0-98.9h0m.1 24.4h0m.1-28.5h0m.1 14.8h0m.1-22.6h0m0 217h0m0 46.9h0m0-360.5h0m0 265.2h0m.1-59.9h0m0-17.2h0m0-9h0m.1 175.9h0m0-360.2h0m0 232.1h0m0 46.2h0m0-226h0m0 11.9h0m.1 304.5h0m.1-40.7h0m0-16h0m.1-128.9h0m.3-196.8h0m0-20.2h0m.1 317.2h0m0-209.4h0m0-72.3h0m0 130h0m.1-71h0m0 43.8h0m0-62.7h0m.1 328.1h0m0-154.7h0m0 12.9h0m.1-110.3h0m0 83.4h0m0 103.1h0m0 21.5h0m.1 18.1h0m0 38.1h0m.2-366.1h0m0 265.3h0m0-104.4h0m.1-209.3h0m0 294.4h0m0-264.6h0m0 192.6h0m.1-52.6h0m.3 220.6h0m.1-266.9h0m0-124.8h0m.1-11.3h0m0 16h0m.1 386.1h0m0 10.6h0m.3-55h0m0-113.9h0m0 9.6h0m0 92.9h0m0-28.3h0m.1 99.4h0m.1-258.6h0m0-155.4h0m.2 104.2h0m0 157.8h0m.1 101.3h0m.2 43.8h0m0-296.2h0m.2 12.6h0m0 101.2h0m0-14.5h0m.1 178h0m.1-38.3h0m0-70.2h0m0-149.3h0m.1 281.7h0m.1-144.5h0m0 62.8h0m.2-44.2h0m0-196.9h0m.1 192.5h0m.1-197.1h0m.1 301.1h0m0-319.4h0m.1 33.1h0m0 45.8h0m0 101.9h0m.1-93.1h0m.2 141.6h0m.1-220.4h0m0 86.9h0m0 173.3h0m0 1.9h0m0-12.3h0m.1-22.9h0m0 43.2h0m0-309.3h0m.1 40.5h0m0-65.9h0m0 347.2h0m.1-306h0m0 295.8h0m0-315h0m.1 7.8h0m.1 139.8h0m0-59.3h0m.1 192.1h0m0 31.7h0m0-39.5h0m.1-177.6h0m.1 291.9h0m0-197.7h0m.1-54.6h0m0-71.7h0m0 200.2h0m.1-290h0m0 145.9h0m.1 19.4h0m0-124.3h0m0-4.5h0m.1 204.3h0m.1 174.4h0m.1-42.6h0m0-68.9h0m0-45.8h0m0-138.9h0m0 142.9h0m0-232.1h0m.1 106h0m.1 198.4h0m0-231.1h0m0 168.7h0m.1 85h0m.1-167h0m.1 101.2h0m0-4h0m.2-108.2h0m.1 177.6h0m0-181.9h0m0-109.9h0m0 210.5h0m.1 144.3h0m0-106.8h0m.1-249h0m0 250.3h0m0-302.5h0m.1 195.5h0m0-98.1h0m.1 184h0m0-289.6h0m0 380.4h0m0-116.7h0m0-138.2h0m.1 95.2h0m0 110.8h0m0 47.7h0m.1-129.9h0m0 109.6h0m0-67.3h0m.2 129.7h0m.1-31.4h0m0 15.3h0m.1-248.8h0m.1 137.9h0m.1 93.8h0m0-230.7h0m0 254.6h0m.1-63.3h0m.2-270.5h0m0 118.8h0m0-176.1h0m0-18.3h0m0 336.7h0m0 10.6h0m.1-207.4h0m0-34.5h0m0-113.5h0m0 33.3h0m0 219.3h0m.1-194.2h0m0 222.9h0m.1-33.2h0m0 9.9h0m.1 78.3h0m0-15.3h0m.1-76.4h0m.1-72.8h0m0-152.6h0m0 318.1h0m.1-12.4h0m.1-224.9h0m.3 323.1h0m0-294h0m0 143.5h0m0 2.7h0m0-71.3h0m.1-189h0m.1 225.8h0m.1 173.6h0m0-339.4h0m.1 92.2h0m.1 132.7h0m0-179.7h0m0 183.4h0m.1 102.6h0m0-25.1h0m.1-26.9h0m.1-342.3h0m.1 314.6h0m0-203.1h0m0-31.7h0m.1-60.3h0m0 345.9h0m0-6.3h0m.1-156.2h0m0 171.5h0m0-26.6h0m.1 20.1h0m0-150.6h0m0 150.2h0m.1-369.8h0m.1 268.6h0m0-63.1h0m.3-164.4h0m0 234.9h0m.1-157.7h0m0 246.7h0m0-296.2h0m.1 26.8h0m.1-44.9h0m.1 25h0m.1 251.8h0m.1-149.2h0m0-175.7h0m0 355.2h0m.2-350.2h0m.1 138.5h0m.1 50.1h0m.1-104.4h0m0-57.2h0m.1 195.8h0m0 66.4h0m0-158.8h0m.1-141.3h0m.1 277.6h0m0-195.3h0m0 167.4h0m.2-149.8h0m0 11h0m.1 164.3h0m0 73.5h0m0-261.4h0m.1 139h0m0 32.3h0m.2 32.8h0m0-126.3h0m0 56.6h0m0 120.6h0m.1-158.9h0m.1 56.6h0m0 65.6h0m0-41.4h0m.1 118.6h0m0-276.7h0m0-73.6h0m0 157.7h0m0-57.1h0m.1-44h0m.1 261.6h0m.1-315h0m0 364.8h0m0-26h0m.1-7.8h0m0-85.3h0m.2 116.6h0m.1-196.4h0m0 199.9h0m.1-162.7h0m0 35.9h0m.1-165.8h0m0 18.1h0m0-81.5h0m.3-17.6h0m.1 28.8h0m0 296.3h0m.1-248.2h0m0 142.9h0m0-124.4h0m0 266h0m.2-294.9h0m0 124h0m.1 35h0m0-149.4h0m0 106.3h0m.1 58.7h0m0-36.7h0m0 96.2h0m0-241.5h0m.2-46.1h0m.1 252.5h0m0 28.8h0m0 63h0m.1-64.3h0m0-140.8h0m.2 161h0m0-118.3h0m.2 178.3h0m.1-213.6h0m0 17.4h0m0-196.2h0m0 352h0m0-329.6h0m.1 346.7h0m0-292.6h0m.1 205.9h0m0 26.3h0m0 16.2h0m.1-256h0m0-54.8h0m0 139.8h0m0 52.6h0m.1-162.9h0m0 63.2h0m0 172h0m.1-172.6h0m.1-46h0m0 140.7h0m0 18.3h0m.1 137.9h0m0-364.5h0m0 137.4h0m0-145.3h0m.1 106.5h0m.1-82.4h0m0 223.6h0m0-183.1h0m.2 238.3h0m0-30.8h0m.1 28.1h0m0 47.9h0m.1-280h0m.1-11.6h0m.1 186.4h0m.1-176.5h0m.1 100.4h0m.1 204h0m.1-29.2h0m.1-306.5h0m0 161.9h0m0-148.6h0m0 313.7h0m.1-323.9h0m0 151.5h0m.1-186.3h0m0 210.4h0m0 141.1h0m.1 14.5h0m0-126.6h0m.1 37.2h0m0 98.5h0m0-37.4h0m.1-288h0m0 9h0m.1 162.1h0m0-76.3h0m0-35.1h0m.1 104.7h0m0 71.4h0m.1 76.1h0m.1-228h0m.1 215.5h0m.1-166.7h0m0-165.5h0m0 45.6h0m0-32.8h0m.1 308h0m0-333.3h0m.1 101.8h0m0 264.9h0m0-274.6h0m0 298.3h0m0-233.5h0m.1 179.6h0m.2-60.2h0m0-243.3h0m0 378.7h0m0-197.2h0m.1-111h0m.1 145.8h0m.1-26.2h0m0-87.3h0m0 9.3h0m.1 262.8h0m0-171.4h0m0-240.4h0m0 192.7h0m.1-167.5h0m0 302.9h0m0-229.4h0m0-85.4h0m.1 355.8h0m0-353.3h0m.1 344.1h0m0-156.7h0m.1 174h0m0-326.8h0m.1 335.5h0m0-310.4h0m0 42.4h0m.1 228.7h0m0-248.9h0m0 57.3h0m.1-87.4h0m0 22h0m.1 188.7h0m0-269.1h0m.1 374.3h0m.3-157.8h0m.1-30.2h0m.1-83.8h0m.1 160h0m0-196.7h0m0 191.7h0m0 63.4h0m0 20.5h0m.1-280.4h0m0 65.6h0m0 177.4h0m.1-192.5h0m0 175.8h0m.1 118.3h0m0-383.1h0m0 213.8h0m0-46.7h0m.1-87.9h0m0-122.4h0m0 133h0m0 143.7h0m0-138.8h0m0 199.6h0m.1-240.1h0m0 319.7h0m.2 0h0m.1-14.1h0m0-258.8h0m.1-67.2h0m0 40h0m0-54.3h0m.1 52.5h0m.1 214.7h0m0-320.9h0m.1 361.5h0m0-214.2h0m.1 75h0m0-159.8h0m0-.3h0m.1 216.1h0m0-113h0m0 87.9h0m0-59.5h0m0 55.6h0m.1 44.4h0m.1 48.7h0m0-171.9h0m.1-103.9h0m0 179.6h0m.2 126.6h0m0 40.4h0m.1-160.3h0m.1-133.5h0m.1 129.1h0m.1 44.2h0m0 14.5h0m.1-219.2h0m0 73.7h0m0 74h0m0-49.2h0m.1 157.3h0m0-132.6h0m.1-67.7h0m0 263.1h0m.1-334.3h0m.1-78.1h0m.1 159.7h0m0-119.6h0m.2 189.4h0m0-210.2h0m.1-23.1h0m0 24.7h0m.1 387.4h0m0-13.3h0m0-249.3h0m0-89.9h0m0 143.8h0m0 64.8h0m.1-70.7h0m.1-177h0m.1 210.8h0m0-116.6h0m.1-108.1h0m0 260.6h0m0-17.7h0m.2-215.1h0m0-21h0m0 70.7h0m0-64.9h0m.1 209.3h0m0-163.4h0m0 298.7h0m0-41.5h0m.1-157.1h0m0-126.1h0m0 308.5h0m0-6.7h0m.1-33.9h0m.1-7.5h0m0-204h0m0 33h0m.1 63.4h0m0 241.9h0m.1-96.3h0m0-279.4h0m.1 346.8h0m0-325.8h0m.1-69.8h0m0 231.5h0m.1-161h0m.2 194.4h0m0-10.5h0m0-88.4h0m.1 112.4h0m0-100.7h0m0 33.6h0m.1 5.1h0m0-8.5h0m0 167.7h0m.1 20.7h0m0 4.1h0m0-261.5h0m.1-66h0m0 135.1h0m0 102.3h0m0-164.7h0m.1-21.3h0m.1-106.3h0m0 363.4h0m.1-46.6h0m.1-154.4h0m0 210.5h0m.1-8.3h0m.2-229.8h0m0 65.2h0m.1 132.5h0m0-80.7h0m.1 97.6h0m0-261.8h0m0 242.2h0m.1-166.2h0m.1 96.9h0m0-75.5h0m.1-100.4h0m.1 90.7h0m0-126.7h0m0 157.8h0m.1-133.1h0m0-85.7h0m0 401.1h0m.1-376h0m0 11.6h0m.2 16.2h0m0 277.2h0m.1 57.4h0m.1-20.3h0m0-38.4h0m0 34.5h0m.1-15.5h0m0-176.8h0m.1-160.9h0m0 134.4h0m.1-29.8h0m.1 102.7h0m0-46.2h0m0 69.9h0m0 112h0m0-286.2h0m0 240.1h0m0-310.5h0m.2 256.4h0m0-173.1h0m.3 134.8h0m0 26h0m0-35.4h0m0-167.6h0m.1 84.2h0m.1-12.3h0m.1 251.1h0m.1-130.9h0m0 169.1h0m0-22.7h0m.1-23.7h0m.1-232.2h0m.1 161.8h0m.1-93.4h0m0 200.5h0m0 31.4h0m0-387.5h0m0 83.2h0m0 140.3h0m.1-59.6h0m0-112.1h0m0 190.6h0m.2-83.8h0m.1 113.7h0m.1 12.1h0m.2 47.1h0m0-84.3h0m.1-10.6h0m0 116.8h0m0-100.9h0m.1 37.6h0m.1-201.6h0m0 174.3h0m.1-165.3h0m0-96h0m0 120.7h0m.1 125.7h0m0 18.8h0m0-193.4h0m0 309.7h0m.1-114.1h0m.1 9.9h0m0 68.7h0m.1-309.2h0m.1-12.6h0m.1 152.4h0m0 124.1h0m0-317.2h0m0 25.1h0m0 360.4h0m.1-41h0m0-357.6h0m.1 226.7h0m0-61.8h0m0 222.8h0m0-163.8h0m.1-106.8h0m0 158.5h0m0-273.4h0m0 262.4h0m.1 139.7h0m0-398.7h0m0 77.2h0m.1 95h0m.1 72h0m0-99h0m.1 155.1h0m0-320.4h0m0 10h0m.1 71.3h0m0 55.4h0m.1-22.1h0m0 158h0m0-94.3h0m.1-16.7h0m0-104.6h0m.1 200.2h0m0-184.1h0m0 250.6h0m.1-257.9h0m.1 352.1h0m.1-319.1h0m0-95.3h0m.1 55h0m0 321.5h0m0-252.2h0m.2-123.5h0m0 186.2h0m0 30.5h0m.1-92.9h0m0 279.3h0m0-266.9h0m.1 77.9h0m.1 183.4h0m.1-243.4h0m.4 165.7h0m.1-271h0m0 270.8h0m0 35.1h0m0-3.5h0m.1-67h0m.1-117.2h0m0 46.2h0m.1-52.7h0m0-5.1h0m0-57.1h0m.1 113.6h0m0-29.1h0m0 167.9h0m.1-4.7h0m.1-7.2h0m.1-181.2h0m0 19.3h0m0-60.6h0m.1 208.2h0m0-274.1h0m.1-3.8h0m0 35.3h0m.1 283.6h0m.2 1.5h0m.1-296.4h0m0 199.9h0m0-16.3h0m.1-105.7h0m.1-118.8h0m0 201.2h0m0 51.6h0m.1-179h0m0-5.3h0m0-63.4h0m0 207h0m.1-202.7h0m.1 291.3h0m0-312.2h0m0 143.2h0m0-65h0m0-5.5h0m.1 24.4h0m.2 196.7h0m0-38.9h0m.1 120.5h0m0-176.1h0m.1 104.9h0m0-207.7h0m0 246h0m0-189.1h0m.2 63.3h0m0-125.3h0m0 172.5h0m0 35.5h0m0-92.4h0m0 95.4h0m.1-70.7h0m0-238.8h0m0 295.4h0m.3-290.9h0m0 100.3h0m0-75.7h0m.1 213.5h0m.1 123.2h0m.1-305.6h0m0 112.4h0m0 81.6h0m0-140.7h0m.1 91.5h0m.1 64.2h0m0-139.1h0m0 82.3h0m.1 171.7h0m0-6.3h0m0-91.3h0m.1-264.7h0m0 327.3h0m.1 11.7h0m0-354.1h0m.1 202.1h0m0 154.1h0m0 51.6h0m0-154.8h0m.1-93.8h0m.1-153.4h0m0 291.2h0m0-267.7h0m.1 168.5h0m0 61.7h0m.1-16.3h0m.1 52.1h0m0-205.6h0m0 256.3h0m.1-9.7h0m.2-222.9h0m0 279.4h0m0-60.8h0m.1-146.6h0m0-98.9h0m0 133.8h0m0 107.5h0m.1-244.5h0m.1 124.3h0m0-39.2h0m.1 4.3h0m.1 169.2h0m0-345h0m0 52.9h0m.1 299.5h0m.1-326.7h0m0 111.8h0m0 227.9h0m0-179.3h0m.1-9.3h0m0 15.7h0m.1-121.1h0m0 46.6h0m0 197.1h0m.1-218.9h0m0 159.4h0m.1-212.8h0m0 251.6h0m0-235h0m.1 257h0m0 19.5h0m.1-63.4h0m0-261.2h0m.1 268.8h0m0 2.3h0m0 117h0m0-16.3h0m.2-314.7h0m0 35h0m0-104.4h0m.1 89.7h0m0-60.4h0m.3 112h0m0 220.1h0m.1-99.8h0m0-162h0m0 15.5h0m.1-99.3h0m0 300.7h0m0-306.5h0m0 110.1h0m.1-65.6h0m0-63.5h0m0 156.4h0m0-157.5h0m.1 414.7h0m0-274.7h0m0-142.6h0m.1 356.9h0m0 24.5h0m0-362h0m.2 163h0m0 134.1h0m.1-133.8h0m.1-24.3h0m0-27.1h0m.1-100h0m0 372.2h0m.1-132h0m0 99.5h0m.1-123.7h0m0-83.8h0m0 2.5h0m.2-43.6h0m.2-130.7h0m0 68.6h0m0-26.7h0m0 15.6h0m.1 66.9h0m0 189.4h0m0 8.1h0m0-298.4h0m.1 348h0m0-165h0m.1-27.3h0m0 18.1h0m0 138.6h0m0-247.7h0m.1 202.2h0m0-91h0m0-114h0m.1 104.2h0m.1 212h0m0-315.1h0m0 241.9h0m0-21.7h0m0-235.4h0m.1 2.8h0m0 189.6h0m.1-5.8h0m.2-85.4h0m0 250.3h0m.1-70.6h0m.1-229.8h0m.1 251.3h0m.1-262.5h0m0 31.5h0m0 39.7h0m.2 114.6h0m0-204.6h0m.1 100.3h0m.1 22.6h0m0 103.1h0m.1-77.1h0m.1 13.3h0m0 136.5h0m.1-6.3h0m.1-171.8h0m0-199.6h0m.1 72.4h0m.1 3.8h0m.1-18.5h0m0 53.4h0m0 282.6h0m0-175.7h0m.1-180.4h0m0 307.8h0m.1-18.5h0m0-230.5h0m0 84.6h0m0-73.8h0m0 162.9h0m.2 94.4h0m0-195.1h0m0 61.6h0m0 40.9h0m.1 108.8h0m.2-300.2h0m.1-72.9h0m.1 133.1h0m.1 141.2h0m0-96.4h0m0-46.9h0m.1 278h0m0-383.9h0m0 50.1h0m0 28.3h0m0 15.6h0m0 25.9h0m.1 221.5h0m0-38.7h0m0-61h0m.1 56.4h0m.1-110.7h0m0-90.6h0m0-90h0m0 316.7h0m.1 65.2h0m0-7h0m.1-14.8h0m.1-242.6h0m.1 70h0m0 108.2h0m0-56.3h0m0-88.2h0m0 191.2h0m.1-338.1h0m0 92.1h0m0 76.3h0m.1 75.3h0m.1-123.9h0m.1 208.2h0m0-383.8h0m0 144.6h0m.2 192h0m0-208.9h0m.1 30.2h0m0 172h0m0-269.1h0m0 36.2h0m0 228.7h0m0-284h0m.1 292.2h0m.1-181.7h0m.1 104.9h0m0 76.6h0m.1-16.1h0m0-63.3h0m0-239.2h0m.1 235.8h0m.1-63.3h0m0 64h0m.1-192.9h0m0 313.2h0m.2-129h0m0 61.1h0m0 49.8h0m.1-39.5h0m0-250.4h0m.1-41.3h0m0 340.9h0m0-260.7h0m0 49.2h0m0 126.3h0m.1 7h0m.3-288.5h0m0 12.2h0m.1 18.4h0m.1 11.5h0m.1 54.6h0m0 221h0m0 47.5h0m0 38h0m0-337.5h0m.1 256.7h0m0-191.3h0m.1 284.5h0m0-194.2h0m0 44.6h0m0 47.4h0m0-190.8h0m.1 57.8h0m0 5.9h0m.3 227.4h0m0-27.3h0m0 36.6h0m.1-71.6h0m0-113.9h0m.1-90.5h0m.1 166.2h0m0-93h0m.1-157.9h0m.1 304.2h0m0-29.9h0m.1-86.2h0m0-141.2h0m.1 158.3h0m0-244.1h0m.1 400.8h0m0-66.2h0m.2 47.2h0m.2-329.9h0m0 36.5h0m.1-16h0m0-90.1h0m.1 132.1h0m.2 163.1h0m0 77h0m.1-296h0m0 193h0m0-235.8h0m0-8.4h0m0 185.3h0m.1-38.4h0m0 56.8h0m.1-127h0m.1 237.5h0m0-280.5h0m.1 66.3h0m0-60.1h0m.1 216.2h0m.1 53.9h0m0-185.5h0m0-54.3h0m0 282.4h0m0-356.8h0m.2 45.3h0m0 250h0m.1 78.6h0m.2-313.2h0m.2 85.5h0m0 264.4h0m0-379.7h0m0 225.8h0m0-78.6h0m.1-86.5h0m0-8.7h0m0 256.9h0m.1-341.5h0m0-8.6h0m0 120.7h0m0-18.4h0m.1-52.7h0m0 360.3h0m.1-310.7h0m.1-7.4h0m0 238.6h0m0 46.7h0m.1 4.1h0m0-349.6h0m.1 290.3h0m0-272.6h0m.1 267.9h0m0-141.9h0m0 132.1h0m0-87.7h0m0 43.6h0m.2 94.8h0m0-343.9h0m0 375h0m.1-266.4h0m0 273.6h0m0-339.6h0m.1 29.6h0m.2 78.9h0m.2 147.1h0m0-56.1h0m0-31.8h0m0 144.1h0m.1-285.6h0m0-63.5h0m0 318h0m0 18.7h0m.1-77.9h0m0-128.2h0m0 189.9h0m0-53.2h0m.1-104.7h0m0-19h0m.1-39h0m.1 198.5h0m.1-208.6h0m0-8.4h0m.1 289.1h0m0-242.3h0m0 96.6h0m0 170.8h0m.1-80.8h0m0-319.3h0m0 198h0m0-124.4h0m0 280.6h0m.1-257.4h0m.1 63.1h0m.1 87.2h0m0 14.5h0m.1-169.1h0m0 216h0m0 12.1h0m0-277.1h0m0 112.8h0m.1 167.1h0m0-191.1h0m0-59.9h0m.1 303.2h0m0-181.5h0m0 119.8h0m0-104.7h0m0-146.7h0m.2 231.6h0m.2-56.2h0m0 121.5h0m0-66.4h0m.1-205.5h0m0 61.5h0m0-92.1h0m.1 55.1h0m0 179.1h0m.1-283.8h0m.1 351h0m0 32h0m0-119.9h0m0 128.1h0m.1-288.4h0m0 182.3h0m0-280.5h0m.2 358.3h0m0-256.9h0m.1 262.8h0m0-348.5h0m0-4.3h0m0 335h0m.1-181.9h0m0 67.3h0m0 95h0m0-182.9h0m.2 4.5h0m0-119.4h0m.1 251.7h0m.1-104.9h0m0 133.1h0m.1-249.4h0m.1 271.3h0m0-92.4h0m.1-259.9h0m0 252.2h0m.1 15.1h0m0 139.9h0m0-416h0m.1 334.2h0m0-92.2h0m.1-105.5h0m0-17.5h0m.1 91.1h0m0 147.2h0m0-14.6h0m.1-82.1h0m.1-95h0m0-38.2h0m.2 262.4h0m0-374.2h0m0 89.7h0m0-98.4h0m0 13.5h0m0 93.6h0m.1-75.5h0m.1 290.3h0m.1-259.5h0m.1 47.6h0m0-97.5h0m.1 77h0m0 68.5h0m.1-65h0m.2 186.4h0m.1-236.6h0m0 244.4h0m.1-214.1h0m0 320.3h0m0-365.9h0m.1 50.2h0m0 71.9h0m.1 256.3h0m0-181.2h0m0 177.7h0m.1-301.6h0m.1 245.1h0m.1-72h0m0-152.5h0m0 233.3h0m.1-48.7h0m0-269.4h0m0 257.5h0m0-33.5h0m0 31.6h0m.1-211.5h0m0-16.4h0m0-38.7h0m.1 302.8h0m0-337.7h0m.2 208.8h0m.1-131h0m.1 114.7h0m0-72.8h0m0 59.8h0m.1 230.9h0m.1-213.4h0m.1-19.1h0m0-63h0m.1 237.5h0m0-268.1h0m0-55.1h0m.1-15.4h0m0 350.8h0m0-338.2h0m0 167.2h0m.1 25.8h0m0-77.4h0m.1-101.2h0m.1 347.8h0m0-329.9h0m.2 29.3h0m0 288.2h0m0-336.9h0m.1 112.8h0m0 164.5h0m0-22.3h0m.1-47.8h0m0-173.9h0m.1 1.9h0m.1 247.9h0m0-161.9h0m0-134h0m.1 128.6h0m.1-16.8h0m0 170.2h0m0 40.5h0m0-141.5h0m.1-215.9h0m0 227.7h0m.3-213h0m0 233.6h0m.1-48.9h0m0-200.8h0m.1 305.8h0m0-287h0m.1 24.7h0m0 35.3h0m.1-56.8h0m0 373.8h0m.1-112.6h0m.1 127.6h0m0-391.5h0m.1 290.5h0m0-173.1h0m.1-35.2h0m.1-93.8h0m.1 137.8h0m.1 97.4h0m0-25.4h0m0-51.1h0m.1-13.7h0m0 137.1h0m.1-203.6h0m.1-23.3h0m0 357.6h0m0-54h0m.1-371.5h0m.2 369.9h0m0-352.3h0m0 226.8h0m0-191.4h0m0-39.6h0m.1 120.9h0m.2 129h0m.1-194.8h0m0 354.3h0m.1-24.8h0m0-317.5h0m0-65h0m.1 48.5h0m0 299.5h0m.1 30.4h0m0-352.5h0m.1 201.7h0m.1-51.4h0m.1-45.7h0m0 29.9h0m0 128.6h0m0-194.4h0m0-97.3h0m.1 124.7h0m.1 67.5h0m.1-4.6h0m.1 106.2h0m0-292.6h0m0 260.5h0m0 27h0m.1-104.4h0m0-166.3h0m.1 164.4h0m.1 201.9h0m0-304.3h0m.1 87.1h0m0 241.4h0m.1-136.5h0m.1 94h0m.2-84.4h0m0-229h0m.1 65.5h0m0 65.1h0m0 101.3h0m.1 108.9h0m0-356.6h0m0-21.3h0m.1 380.9h0m0-216.3h0m0 178.8h0m0-36.6h0m.1-151h0m0 56.1h0m0-155.9h0m0 346.1h0m.1-333.9h0m0 116.8h0m.3 22.5h0m.1 90.5h0m0 17.9h0m0 14.3h0m.1-49.7h0m0 66.8h0m0-214h0m.1 126.2h0m0 139.7h0m.1-321.8h0m0 17.2h0m0 239.4h0m0-229h0m.3 257.8h0m0-88.7h0m0-254.1h0m0 251.7h0m.1-133.5h0m0-135h0m0 120.7h0m0 244.1h0m.1-362.8h0m0 99.8h0m.1 153.2h0m0-139.7h0m.1-67.4h0m.1 90.1h0m0 256.2h0m0-179h0m.1-170.5h0m0 120.9h0m0 205h0m0-354.8h0m0 54.1h0m.1 326.3h0m0-223.6h0m0 19.3h0m.1 97.4h0m0-41.2h0m.1 122h0m0-205h0m0 127.3h0m.1-95.7h0m0-22h0m.1 11.2h0m0-211h0m.1 363.8h0m0-289.3h0m.2 229.2h0m0-206.5h0m.1 240.3h0m.1-167.8h0m0 43h0m0-136.5h0m0 67.3h0m0 211.5h0m0-298.8h0m0 158.1h0m0 202.8h0m.1-35.2h0m.1 48.6h0m0-336.8h0m0-89.4h0m.1 317.6h0m0-256.1h0m0 37.7h0m.1-105.4h0m0 113.2h0m0 149.9h0m.1 148.4h0m0-286.7h0m0 187.3h0m.1 106.6h0m.1-136.5h0m0-2.3h0m0-248h0m.1 348.8h0m0-319.9h0m.1-63.3h0m0 301.9h0m.1 78.3h0m0-87.6h0m0 116.7h0m0-286.5h0m0 168.5h0m.1 117.1h0m.1-358.1h0m0 248.1h0m.1 51.4h0m.1 2.8h0m.1-161h0m.1 201.1h0m0-212.3h0m.1 247.6h0m.1-354.4h0m0 139.3h0m.1-155.8h0m0 325.8h0m0-69.8h0m.1-183.8h0m0 266h0m.1-263.7h0m0-125.9h0m.1 7.1h0m0 174.3h0m.2 67.5h0m.1 27h0m0-71.8h0m.1 160.1h0m.1-146.1h0m0 186.7h0m.2-367.3h0m0 185.8h0m0-54.5h0m.2-19.4h0m.1-143.6h0m0 68.3h0m.1 231.2h0m0 6.8h0m0-222.4h0m.1 287.7h0m0-131.8h0m0-207.9h0m.1 296.5h0m.1 83.7h0m0-312h0m0 141.6h0m0 150.1h0m0-337.6h0m.1 264.6h0m0-260h0m.1 262.4h0m0-172.4h0m0 73.2h0m.1-57.9h0m0-23.1h0m0-10.2h0m0-3.1h0m.1-89.2h0m0 142.5h0m0-77.6h0m.1-97.4h0m0 254.9h0m0 27.4h0m0-130.4h0m.1 12.7h0m0 179.3h0m.1-154.4h0m0-121.7h0m.1-84.2h0m0 386h0m.3-33.6h0m.1-164.1h0m0 217.8h0m0-69h0m0-112.7h0m.1 121.4h0m.1-160h0m0 154.9h0m0 .9h0m0-85.1h0m.1-199.7h0m0 78.8h0m.1 118.4h0m0 48.5h0m.1-273.5h0m.1 61.6h0m0 109.1h0m0-123.1h0m.1 217.5h0m0 8.8h0m.1-163.7h0m0-81.6h0m0-40.1h0m.1 357.3h0m.1-88.2h0m0 15.9h0m0-65.8h0m0 31.8h0m.1 136.9h0m0-65.2h0m.1-278.5h0m0 239.1h0m.2-293.6h0m0 403.3h0m.1-397h0m0 72.4h0m0 322.1h0m.1-326.1h0m0 244.4h0m0-20.7h0m0 25.4h0m.1-108.4h0m.1-184.8h0m.2 355.7h0m.1-7.8h0m.1-341.2h0m.1 315.3h0m0 32.7h0m0-203.4h0m.2 238.6h0m0-102.1h0m0-156.8h0m.1-65.2h0m.1-81.9h0m0 312.2h0m.1 54.6h0m.2-234.2h0m.1-83h0m.2 109.3h0m0-9h0m0 30.1h0m0 34.5h0m0-76.3h0m.1-64.1h0m.1 337.7h0m0-126.8h0m.2 64.8h0m0-100.2h0m0-52.1h0m.1-99.8h0m0 288.8h0m.1-371.4h0m0 30.7h0m0-33h0m0 320.9h0m0-214.4h0m.1-93.3h0m0 171.4h0m.1-69.7h0m0 150.6h0m0-256h0m.1 338.4h0m0-361.1h0m0 274.1h0m.1-221.7h0m.1-57.5h0m0 114.2h0m0 53.5h0m.1 119.4h0m0 9.9h0m0-105.2h0m0 160.5h0m.1-19.3h0m0-41.3h0m0 48.7h0m0-31.6h0m0-283.5h0m.2 320h0m0 35.1h0m.1-158.7h0m0-211.1h0m.1 54.2h0m0 299h0m.1-40.6h0m0-72.7h0m.2-60.2h0m0 120.3h0m0-186.3h0m.1 12.7h0m0 223.1h0m.2-135.2h0m0 174.3h0m0-219.1h0m.1 104.5h0m0-260.9h0m0 128.3h0m.1-27.9h0m.1 33.3h0m0-19.7h0m0 16.3h0m.1 84.3h0m0-145.7h0m.1 310.6h0m0 7.5h0m.1-82.8h0m0-198.1h0m.1-91.4h0m.1 260.7h0m0 70.3h0m.1-21.4h0m.1-262.1h0m0-12.8h0m.1 236h0m.1-265.8h0m0 248.3h0m.1-155.8h0m.1 189.7h0m0-243.8h0m0 12.6h0m.1-34.2h0m0 226.6h0m0-186.1h0m0 193.3h0m.1-29.7h0m0-161.6h0m0-111.8h0m.1 118.9h0m0 112.5h0m0-224.3h0m0 346.3h0m.1-40.3h0m0 14.6h0m.1-121.9h0m.1 208.9h0m0-392.6h0m0 54.8h0m.1 222.7h0m0-155.4h0m.1 276.1h0m0-22.6h0m.1-365.5h0m.1 119.9h0m0-33.5h0m.1 250.9h0m.2-269.5h0m0 164.4h0m.1 18.5h0m.1 113.9h0m.1-310.3h0m.1-18.3h0m0 221.7h0m0-140.4h0m0 189.9h0m.2-199.7h0m0 38.3h0m0-98.1h0m0 18.6h0m0 81.8h0m.1-152.6h0m.1 46.9h0m0 6.6h0m0 279.8h0m0-160.3h0m.3 219.2h0m.1-74.2h0m.1-348.3h0m.1 45.5h0m0 110.1h0m0-35.3h0m.2 234.6h0m0-167.4h0m0-195.7h0m0 268.6h0m.1-20h0m0-28.4h0m.1 87h0m.1 87.7h0m.1 .8h0m0-257.2h0m.1-88.3h0m0 204.3h0m0-149.8h0m.1 18h0m0 120.5h0m0-51.5h0m.1-157h0m0 402.3h0m.2-112.8h0m0-186.7h0m.1 245.5h0m0-92.9h0m.1 83.2h0m0-178.8h0m0-102.5h0m.1 224.3h0m.1-150.6h0m0 214.1h0m.1-187.2h0m0 90.7h0m.1 25.7h0m0 116.3h0m.1-323.2h0m0 145.5h0m0 10.4h0m.1-120.7h0m0 203.4h0m.1 49.5h0m.1 25.6h0m.1-32.8h0m0 20h0m.2-5.9h0m.1-33.7h0m0-222h0m0-21h0m0-96.3h0m.1 398h0m.1-49.1h0m0-130.6h0m.1-25.2h0m.1 147h0m0-363.6h0m0 321h0m.1-294.4h0m0 208h0m.1-163.7h0m.1 112.5h0m.2 162.6h0m.2-33.4h0m0 28.6h0m.1 7.8h0m0-17.3h0m.1-11.2h0m0-317.5h0m0 398.6h0m.1-361.2h0m0-26.6h0m0 221.1h0m.1-29.8h0m0-102.6h0m.2-78.6h0m0 343.9h0m.2-287.5h0m.1 174.1h0m0-80.6h0m0-86.8h0m0 348.5h0m.2-212.5h0m0 72h0m0 92.8h0m.1-203.7h0m.1 193.8h0m.1 33.1h0m0-311h0m.1 319.1h0m0-217.9h0m0 195.8h0m.1-16h0m.1-174.2h0m0-54.3h0m0-27.4h0m.2 68.3h0m0 133.2h0m.1-278.9h0m.1-1.7h0m0 86.9h0m.1 14.1h0m0 178h0m0 89.4h0m.1-43.7h0m0-338.1h0m.1 300.9h0m.1-156.3h0m.1 109.5h0m.1 133.8h0m0-261.6h0m0 133.7h0m.1 49.1h0m0-229h0m.2 206.8h0m0-222.1h0m.3 192.7h0m0-41.9h0m0-7.3h0m.1-28.9h0m.1 208.1h0m0-31.4h0m.1-137h0m0-240.4h0m.1 347.2h0m.1-321.8h0m.1 210.6h0m0-125.2h0m0 46.6h0m.1 188.4h0m0 34.3h0m.1-206.4h0m0 146.5h0m.1-50.5h0m0-191.9h0m.1 89.7h0m0 105.7h0m0-163.9h0m.1 16.2h0m0 107.9h0m.1 160.2h0m0-182.7h0m0-130.2h0m.2 78.6h0m.2 104.3h0m0-127.2h0m.1-71.7h0m0 142.5h0m0-98.6h0m.1 276.8h0m0-297.7h0m0 248.6h0m0-68.6h0m0-95.6h0m0-154.3h0m.1 77.3h0m.2 300.8h0m0-171.2h0m.1 5.6h0m0-221.3h0m.1 229h0m0 170.4h0m0-413.1h0m.1 308.7h0m.1 9.8h0m.1-129h0m0-50.8h0m.1 107.6h0m.1 130.8h0m0-324.8h0m.1 197.8h0m0-253.6h0m.1 186.2h0m0 192.1h0m0-288.4h0m.1-60.3h0m0 193.5h0m0-20h0m0-28.9h0m.1 123.5h0m0-39.1h0m0 57.4h0m.1-228.7h0m0 113.6h0m0 156.2h0m.1-237.7h0m.1 159.2h0m0-99.2h0m.1 185.8h0m0-240.8h0m0 49.2h0m.2-153.2h0m0 124.7h0m.1 243.3h0m0-280.6h0m0 201.1h0m.1-80.4h0m.1-22.1h0m0 36.7h0m0-86h0m.1 242.4h0m.2-139.8h0m0 166.8h0m0-366.7h0m.1 181.3h0m.1-190h0m0 369.1h0m.1-90.3h0m0-3.5h0m.1-258.6h0m.2 219.6h0m0-25.7h0m0-150.4h0m0-94h0m.1 193.4h0m0 47.3h0m0 138.2h0m0 10.7h0m.1-128.4h0m.1-251.7h0m0 110.4h0m.2 211.2h0m0-72.6h0m0-49.7h0m.2-9.1h0m0-174.3h0m.1-2.7h0m0 203h0m.2-167.5h0m0-37.5h0m.1-27.2h0m0 284.7h0m.1 77.9h0m0-159.6h0m.1 93.8h0m0-153.8h0m.1-100h0m0-12.5h0m.1 55.5h0m0-82.5h0m.1 136.8h0m0 114.8h0m.1 37.1h0m0 62.8h0m0-44.4h0m0-63.6h0m.1 114.6h0m0 28.4h0m0-403.6h0m.1 254.9h0m.1-143.6h0m0 269.8h0m0-288.6h0m0-69.5h0m.1 147.1h0m0 217.8h0m.1-354.4h0m0 91.3h0m.3-37.9h0m0-8.5h0m0 178.6h0m.1-21.9h0m.1-100.1h0m.2 234.3h0m0-140.5h0m.1-217.8h0m0 409.3h0m0-314.9h0m0-79.7h0m.2 98h0m.1 104.6h0m0-157.4h0m0 49.9h0m0 125.9h0m.1 92.9h0m0-333.3h0m.1 273.5h0m0-231.4h0m0 49.7h0m.1 32.1h0m.1 218.5h0m0-151.5h0m.1 68.6h0m0-53.2h0m0-17.9h0m.1 122.4h0m.1-216h0m.1 172.4h0m0 146.1h0m.2-372.9h0m.1 125.8h0m0 147.3h0m.2 27.1h0m0-233.8h0m0-89.9h0m.3 378.9h0m0-259.5h0m.1 108.4h0m0 72.8h0m0-127.4h0m.2-66.8h0m0 145.5h0m0 131.6h0m0-107.5h0m.1 61.7h0m0-341.6h0m.1 186.9h0m0 164.7h0m.2-209.1h0m0 56.3h0m0-217.9h0m0 145.2h0m.2-60.1h0m0 4.3h0m0-60.5h0m.1 207.8h0m.1-236.4h0m.1 7.9h0m.1 293h0m.1-222.4h0m0 32.1h0m0 149.7h0m0-82.5h0m.1-115.5h0m0-2.5h0m0 145.6h0m.1 180.6h0m.1-3.3h0m0-55.3h0m.1-40h0m0-147.4h0m.1 63.9h0m0 210.7h0m0-54.9h0m.2-209.8h0m0 94.9h0m.1-43h0m.1-99.5h0m0 244.4h0m0-225.5h0m0-64.3h0m.1 134.7h0m.1 159.5h0m0-164.2h0m.1 169.3h0m.1 40.8h0m0-91.2h0m.1 37.6h0m.1-293.8h0m.2 285.9h0m0 81.8h0m0-316.1h0m0 216.5h0m.2-150.1h0m0 178.8h0m0-55.4h0m0-194.5h0m.1-41.3h0m.1 370.1h0m.1-126.7h0m0-142.5h0m0-40.8h0m0-5.5h0m.1 318.8h0m.1-41.9h0m0-356.3h0m0 392.8h0m.1-315.6h0m.1 128.7h0m0-56.3h0m.1 169.7h0m.1 29.5h0m0-126.3h0m0 108.7h0m.1-199.9h0m0 66.1h0m.1-83h0m0 93.6h0m0-103.8h0m.1 86h0m0 24.9h0m0 88.2h0m.1-20.2h0m.1-279.1h0m.1 379.1h0m0-25.6h0m.1-76.8h0m0-61.7h0m.1 35.8h0m0-175.3h0m0 123.3h0m.1-79.8h0m.1 144.3h0m0-268.6h0m0 342.3h0m0-121.3h0m.1 21.4h0m0-73.6h0m.1 192.7h0m.1-52.7h0m0-286.4h0m0 274.2h0m.1 107.7h0m.1-33h0m0-180.8h0m.2-169.9h0m0 218.3h0m.2 21.8h0m0-158.3h0m0 16.1h0m.1 193.7h0m0-244.2h0m0 130.6h0m0 136h0m.1 15.6h0m0-237.1h0m0-58.6h0m0-29.1h0m.2 79.4h0m.1 48.4h0m.1-13h0m.1-9.8h0m0-106.4h0m0 51.1h0m0 186.2h0m0 134.3h0m.1-103h0m.1 86.5h0m0-159.4h0m0-13.6h0m0-90.8h0m.1 142.3h0m0-81.1h0m.1-182.5h0m.1 199.3h0m0-206h0m.1 313.4h0m.2 13.3h0m0-291.5h0m.1 275.9h0m0-156.6h0m.1-50.6h0m0-2h0m.1 259.6h0m.1 51.6h0m.1-392.3h0m.1 275.4h0m0-145.3h0m.1-38.8h0m.1-34.7h0m0 172.8h0m0-253.5h0m.1 67.4h0m.1 6.3h0m0 242.3h0m0-29.5h0m.1-158.2h0m.1-105.1h0m0 272.9h0m0-59.3h0m0-211.7h0m.3 276.8h0m0-186.6h0m0 10.2h0m.1-13.4h0m0-90h0m0 153.6h0m.1-132.4h0m0 299h0m.1-241h0m0 178h0m.1 103.4h0m0-384.5h0m.1 58.1h0m0 49.4h0m0 167.5h0m0 125.8h0m.1-107.8h0m0-126.5h0m0 206.4h0m0-294.6h0m.1 312.3h0m0-142.9h0m0-96.7h0m.1-82.3h0m0 138.1h0m.2-120.2h0m.1 107.9h0m0-110.6h0m.1-43.9h0m0 46.5h0m0-33.8h0m.1 68.4h0m.1 192.9h0m.1-13.5h0m.1 109.7h0m0-407.3h0m0-14.9h0m.1 127.2h0m.1 72.3h0m0-188h0m0 402.5h0m.1-392h0m0 343.5h0m.1-150.7h0m.1-143.8h0m0 217.5h0m.1-63.5h0m.1-90.1h0m0 30.6h0m0 178.8h0m0-219.7h0m.1 33.2h0m.2 115.7h0m.1-258.8h0m.1 358.2h0m0-340.8h0m.1 71.7h0m0 293.5h0m0-334.7h0m0 295.9h0m0-153.7h0m.1-3.3h0m0-106.7h0m0 55.6h0m0-18.5h0m0 197.8h0m0-86.3h0m.1 5.2h0m0 94.2h0m0 35.2h0m.1-265h0m0 83.6h0m0 30.8h0m.1-174.6h0m0 89.6h0m0 3.4h0m.1 137.6h0m.1-189h0m0 208.8h0m.1 122.6h0m0-196h0m0 131.8h0m0-339.7h0m.2 403.7h0m.1-16.5h0m0-152.3h0m0 111.2h0m.1-278.1h0m.2-63.1h0m0 134.6h0m.1 216.8h0m0-196.1h0m.1 1.9h0m.1-38.6h0m.1 4h0m0 38.9h0m.1 225.2h0m0 9.3h0m.1-358.2h0m.2 257.7h0m.1 9.4h0m0-65h0m.1-226.5h0m0 352.4h0m0-258.9h0m.1 27.8h0m0 116.5h0m0-139.5h0m.1 60.5h0m.1-13.9h0m0-78.6h0m.1 16.4h0m0 241.6h0m0-137.4h0m0-212.8h0m0 45.9h0m.1 316.7h0m0-306.5h0m.1-40.7h0m0 259.6h0m0-80.3h0m0 165.5h0m0-263h0m.1 141.3h0m0-15.1h0m.1-68.1h0m0 230.1h0m.1-227.2h0m0-85.2h0m0 135.3h0m0 23.9h0m0 55.4h0m.1-35.3h0m.1-139.1h0m.1 82.6h0m.1-108.4h0m0 111.3h0m.2-68.6h0m.2 85.3h0m.1 75.7h0m.1 32.9h0m0-208.2h0m0 287.8h0m0-415.7h0m.1 103.5h0m0 220.9h0m.1-20.7h0m0-44.6h0m0-43.7h0m.1-30.6h0m.1-9.9h0m0 89.9h0m.1-9.1h0m0 29.4h0m0 74.4h0m.1-17h0m0-27h0m0-260.3h0m.1 349h0m0 3.5h0m.1-19.2h0m0-314.6h0m0 5.8h0m.1 305h0m.1-133.8h0m.1 149.1h0m.1-342.3h0m0-16.7h0m0 110.8h0m0 177.9h0m0-151.2h0m.1-93.1h0m0-74.4h0m.1 74.8h0m0-35.8h0m0 139.7h0m.1-47h0m.1 21.2h0m0-143.5h0m0 160.4h0m.2 99.9h0m0 7.6h0m.1-165.4h0m0 124.4h0m.2-229.9h0m0 88.8h0m0-84.1h0m0 255.4h0m.2-189.8h0m0 208.8h0m.1 4.1h0m0 105.9h0m0-201.3h0m0-75.4h0m0-19.1h0m.1 44.6h0m0 43.2h0m.1 200.1h0m0-62.7h0m.1 53.7h0m0-23h0m0-21.8h0m.2 24.9h0m0-329.5h0m.1-21.1h0m0 304.4h0m0 93.7h0m.1-223.8h0m.1 97h0m0 134.7h0m.1-306.9h0m0 127.3h0m0-180.7h0m0-8.9h0m.1 216.2h0m.1-219.4h0m.1 85.3h0m0 250.1h0m0-287.8h0m.1-55.8h0m0 93.8h0m0 162.3h0m0-206h0m0 237.5h0m.1-280.9h0m0 64h0m0 50.1h0m.1-86.4h0m0 213.4h0m.1-105.2h0m0 217.3h0m.1-211.8h0m0-181.5h0m0 412.3h0m0-27h0m.2-185.5h0m0-84.6h0m.1-75.2h0m0 3.1h0m0 371.2h0m0-174.9h0m.2 74.6h0m0 108.6h0m0-26.2h0m.1-156.7h0m0-63.5h0m.1-116.2h0m0 94.2h0m.1 214.1h0m0-229h0m.1-50.1h0m0 168.4h0m0-44.1h0m.1 36.5h0m0 99h0m0-187.5h0m.1 186.4h0m0-1.8h0m.1 63.7h0m.1-142.6h0m0-3h0m0 126.8h0m.1-86.1h0m.1-111.9h0m.1 173.6h0m0-41.1h0m0-221.4h0m.1 227.2h0m0-181.2h0m0-159.8h0m.1 6.3h0m0 341.6h0m0-153.6h0m0 174.5h0m.2-122.4h0m.1-208.6h0m.1 90.4h0m0 31.6h0m.1-70.6h0m0 201h0m.1-178.5h0m0-1.8h0m.1-65.9h0m.1 28.5h0m0 143.4h0m0 156.6h0m.1-34.4h0m0 34.1h0m0-4.8h0m.1-349.6h0m.1 46.1h0m0 172.9h0m0 90.5h0m0-40.5h0m.1-68.9h0m.1-185.7h0m0 376.4h0m0-154.5h0m0-197.5h0m.1 298.7h0m.1-357.9h0m.1 337.8h0m.1 68.2h0m0-378.9h0m0 107.1h0m0 168h0m0-274.8h0m0 157.6h0m.1-69.6h0m.2 249.9h0m0-92.7h0m0 6.9h0m.1 30.8h0m0-237.9h0m0 231.2h0m.1-123.9h0m0-168.9h0m.1 317.1h0m0-233.7h0m.1 277.8h0m0 31.5h0m0-89h0m.2-14h0m0-160h0m.1 255h0m0-271.4h0m0 196.2h0m.1-131.5h0m0 72.1h0m.1-191.4h0m0 318.2h0m0-35.5h0m.1-247.1h0m.1-.4h0m0 121.5h0m.1-188.6h0m0 257.5h0m.3-109.7h0m.1 234.9h0m0-168.4h0m0 103.1h0m.2-38.8h0m0-171.5h0m0-115.4h0m.1 50.2h0m.1 129.2h0m.1 148.9h0m0-61.4h0m0-190.3h0m.2 214.5h0m0 44.6h0m0-339.7h0m.1 12.2h0m.1 16.7h0m0 53.2h0m0-43.8h0m.2 249.7h0m0 64.1h0m0-5h0m.2-89.4h0m0-196.3h0m0 61.9h0m0 77.6h0m0-136h0m.1 26.4h0m.1-68.2h0m0 297.7h0m.1-314h0m0 223.4h0m0-98.8h0m.1 278.6h0m0-393.1h0m.1 89h0m0 40.2h0m0 96.6h0m.1 128.8h0m0-243.6h0m0-119.1h0m.1 128h0m.1 204.5h0m0-32h0m0 94h0m0-394.8h0m0 19.1h0m.1 148.1h0m0 181.6h0m.1-228.7h0m0 188.8h0m.1-226.3h0m0 227.1h0m.2-189.6h0m0 134.7h0m.1 125.6h0m.1-57.1h0m0-283.5h0m.1 348.8h0m0-278.4h0m0 104.7h0m.1 114.6h0m.1-189.5h0m0-41.6h0m0-70.8h0m.1 31.4h0m.1 121.2h0m.1-147.6h0m.1 62.9h0m.1 80h0m0 36h0m.1 28.7h0m.1-53.1h0m.1 127h0m0-33.3h0m0-211.6h0m.1 18.2h0m0 115.1h0m0 189.8h0m0 2h0m0-386.4h0m0 301h0m.2-201.7h0m0-24.7h0m.1-44.8h0m0-11.6h0m0 250h0m.1-64.8h0m0 82.7h0m0 67.2h0m0-332.5h0m0 372.8h0m.1-266.2h0m.1 221.1h0m0-126.7h0m0-45.7h0m0 184.2h0m.1-195.5h0m.1-132.5h0m0 151.4h0m.2 198.9h0m0-378.8h0m.1 273.8h0m0 2.3h0m0-183.2h0m.2 43h0m.2-172.6h0m0 409.8h0m.1-162.8h0m0-23.2h0m0-179.6h0m0 2.6h0m0 215.4h0m0 30h0m.1-145.7h0m0-126.4h0m.1 58.4h0m.1 19h0m0 3.7h0m.2 254.4h0m0-353.4h0m0 418.8h0m.1-330.8h0m0-78.6h0m0 45.7h0m.1 341.9h0m0-207.6h0m.1 8.8h0m0-85.3h0m0-6.2h0m0 220.2h0m.1 27.9h0m0-197h0m.1 33.9h0m.1 119.4h0m0-191.4h0m.1-122.3h0m0 30.7h0m.1 350.1h0m0-306.6h0m.1 161.5h0m0-64.7h0m.1 126.6h0m0-135.4h0m0 140.1h0m0-274.6h0m0 180.4h0m.1 190.1h0m0-290.1h0m.2-98.1h0m.1 251.5h0m0-145.3h0m0 295.7h0m.1-104.5h0m0-61.2h0m0-19.5h0m.1-144.1h0m.1 93h0m0-48.9h0m.1-133.5h0m0 295.1h0m0-150h0m0 284.3h0m0-192.7h0m.1 54.6h0m0 124.1h0m.1 13.3h0m.1-340.5h0m0 66.2h0m.1 135.9h0m.2-72.3h0m0 1.1h0m.1 198.2h0m.1-265h0m.2-91.6h0m0 260.3h0m.1-322.7h0m.1 358.5h0m.1-77h0m.2 136h0m0-37.2h0m0-351.9h0m0 33.6h0m.1-43.6h0m.2 306.9h0m0 106.8h0m.1-160.1h0m0-81.4h0m.1-57.1h0m.1 219.9h0m0-258.4h0m.1 230.4h0m0-268.1h0m0 189.4h0m.1-118.1h0m0 136.4h0m0-34.1h0m0 10.7h0m0 27.2h0m.1 133.7h0m0-231.5h0m.1-127.7h0m.1 255.2h0m0 106.6h0m.1-398.6h0m.1 219.6h0m.2-58.3h0m.1-83.4h0m0 345h0m.1-149.9h0m0-271.4h0m.1 98.3h0m0 201.3h0m0 32.3h0m.1 79.7h0m0-363.1h0m0 108.7h0m0 213.7h0m.2-243.4h0m0 266.4h0m0-106h0m0-280.6h0m.1 315.2h0m0-319.7h0m0 266.9h0m.1-32.9h0m0 139.4h0m0 25.4h0m.1-339.4h0m0 110.3h0m0-45.7h0m0 94.1h0m0 112.8h0m.1-195.5h0m0 210.9h0m0-112.1h0m0-99.4h0m.1 143.3h0m.1-31.9h0m.1-188.9h0m0-40.8h0m0 185.5h0m.1 160.9h0m0-299.7h0m.1 187.4h0m0-235.9h0m.1 172.2h0m0 147.9h0m0 18h0m0-345.6h0m0 369.7h0m.1-232.9h0m0-64.3h0m.1 194.6h0m.1 31.8h0m.1-30.1h0m0-242.4h0m0 362.8h0m0-214.4h0m.1 160.1h0m0 43.1h0m.1-10.7h0m0-340.6h0m0 225.4h0m.1 82.3h0m0-97.1h0m0 118.1h0m0-138.7h0m0-126.2h0m.1 141.8h0m.1 118.7h0m.1-219.5h0m0 137h0m.1-171.1h0m.1 214.5h0m0-55.9h0m.1 86.4h0m0-192.6h0m.1 266h0m0-20.5h0m0-339.8h0m.1-31.6h0m.1 221.5h0m.1-209h0m0-1.1h0m.1 57.3h0m0-77.2h0m0 63.6h0m0 178.5h0m.1-182.2h0m0 59.4h0m.1-127.4h0m0 366.5h0m.1-215.6h0m0-33.1h0m0-108.1h0m0 337.9h0m.1-366.8h0m0 349.7h0m.1 32.7h0m0-108.5h0m0-197.3h0m.1 288.3h0m0-221.8h0m0 245.5h0m.1-31.9h0m0-304.7h0m.1 147h0m0-17.4h0m0-177.7h0m.1 213h0m0-97h0m0 28.6h0m.1 54.5h0m0 42.5h0m0-40.9h0m0-105h0m0 202.2h0m0-230.7h0m.2 182.6h0m0-234.5h0m.1 94h0m.1 298.7h0m0-27.9h0m0-221.2h0m.1 130.8h0m0-296.1h0m0 255.8h0m.1 168.9h0m.1-336.5h0m0 36.6h0m.2-65.2h0m0 190.5h0m.1 125.7h0m0-366.9h0m.1 269.8h0m0 56.8h0m0-119.8h0m.1 11.6h0m0 136.4h0m0-24.9h0m.1-19h0m0 42.5h0m0-325h0m.1 368.9h0m0-53.6h0m0-295.1h0m0 37.7h0m.1 24.7h0m.1 201.7h0m.1 17.7h0m0-51.4h0m.2-239.1h0m0 258.9h0m.1-237.7h0m0 211h0m0-93.7h0m0-97.9h0m.1 253.9h0m0-20.7h0m.1-29.6h0m0-139.3h0m.1 165.8h0m.1-307.8h0m0 245.9h0m.2-179.3h0m.1 58.6h0m.1-16.8h0m0 210.5h0m0 39.2h0m.1-105.4h0"/>
<path class="d" d="M1202.5 775.2h0m2.1 0h0m-2.1 2.2h0m2.1 0h0m-2.1 2.3h0m2.1 0h0m-2.1 2.3h0m2.1 0h0m-2.1 2.2h0m2.1 0h0m-2.1 2.2h0m2.1 0h0m-2.1 2.3h0m2.1 0h0m-1 2.7h0m-1.1 3.1h0m2.1 0h0m-2.1 62.4h0m4.2 4.1h0m-3.9 3.6h0m4-89.4h0m2.1 0h0m-2.1 2.2h0m2.1 0h0m-2.1 2.3h0m2.1 0h0m-2.1 2.3h0m2.1 0h0m-2.1 2.2h0m2.1 0h0m-2.1 2.2h0m2.1 0h0m-2.1 2.3h0m2.1 0h0m.8 2.7h0m-2.9 3.1h0m2.1 0h0m-2.3 62.3h0m2.1 3.1h0m-2.2 4.7h0m4.4-89.4h0m2.1 0h0m-2.1 2.2h0m2.1 0h0m-2.1 2.3h0m2.1 0h0m-2.1 2.3h0m2.1 0h0m-2.1 2.2h0m2.1 0h0m.3 7.2h0m-2.4 3.1h0m2.1 0h0m-1.9 61.7h0m1.9 1.2h0m-2.3 7.2h0m4.7-89.4h0m2.1 0h0m-2.1 2.2h0m2.1 0h0m-2.1 2.3h0m2.1 0h0m-2.1 2.3h0m2.1 0h0m-2.1 2.2h0m2.1 0h0m-.7 7.2h0m-1.4 3.1h0m2.1 0h0m-2.3 62h0m2.3 .5h0m.4 3.6h0m1.6-85.4h0m2.2 0h0m-2.2 2.2h0m2.2 0h0m-2.2 2.3h0m2.2 0h0m-2.2 2.3h0m2.2 0h0m-2.2 2.2h0m2.2 0h0m-2.2 2.2h0m2.2 0h0m-2.2 2.3h0m2.2 0h0m.2 2.7h0m-2.4 3.1h0m2.2 0h0m.1 62.2h0m.7 4.2h0m-3.3 3.7h0m2.5 0h0m2-89.4h0m2.2 0h0m-2.2 2.2h0m2.2 0h0m-2.2 2.3h0m2.2 0h0m-2.2 2.3h0m2.2 0h0m-2.2 2.2h0m2.2 0h0m-2.2 2.2h0m2.2 0h0m-2.2 2.3h0m2.2 0h0m.7 2.7h0m-2.9 3.1h0m2.2 0h0m-2 61.6h0m2.2 1.3h0m-.8 3.2h0m-1.8 4h0m4.5-89.4h0m2.1 0h0m-2.1 2.2h0m2.1 0h0m-2.1 2.3h0m2.1 0h0m-2.1 2.3h0m2.1 0h0m-2.1 2.2h0m2.1 0h0m-2.1 2.2h0m2.1 0h0m-2.1 2.3h0m2.1 0h0m-1.8 2.7h0m-.3 3.1h0m2.1 0h0m-1 66.4h0m3.4-85.7h0m2.2 0h0m-2.2 2.2h0m2.2 0h0m-2.2 2.3h0m2.2 0h0m-2.2 2.3h0m2.2 0h0m-2.2 2.2h0m2.2 0h0m-2.2 2.2h0m2.2 0h0m-2.2 2.3h0m2.2 0h0m-.2 2.7h0m-2 3.1h0m2.2 0h0m-2.3 61.8h0m2.4 1.2h0m-2.1 2.4h0m0 4.7h0m2 0h0m2-89.4h0m2.1 0h0m-2.1 2.2h0m2.1 0h0m-2.1 2.3h0m2.1 0h0m-2.1 2.3h0m2.1 0h0m-2.1 2.2h0m2.1 0h0m-2.1 2.2h0m2.1 0h0m-2.1 2.3h0m2.1 0h0m-2.1 5.8h0m2.1 0h0m-2 61.8h0m1.9 .9h0m-1.9 7.4h0m4-89.4h0m2.1 0h0m-2.1 2.2h0m2.1 0h0m-2.1 2.3h0m2.1 0h0m-2.1 2.3h0m2.1 0h0m-2.1 2.2h0m2.1 0h0m-2.1 2.2h0m2.1 0h0m-2.1 2.3h0m2.1 0h0m-.1 2.7h0m-2 3.1h0m2.1 0h0m-2.2 62.4h0m2.3 .5h0m.9 2.5h0m-2.9 4.7h0m4.1-89.4h0m2.1 0h0m-2.1 2.2h0m2.1 0h0m-2.1 2.3h0m2.1 0h0m-2.1 2.3h0m2.1 0h0m-2.1 2.2h0m2.1 0h0m-.4 7.2h0m-1.7 3.1h0m2.1 0h0m-2.3 61.6h0m2.1 1.3h0m-.2 2.6h0m-1.5 4.6h0m1.9 0h0m2.3-89.4h0m2.2 0h0m-2.2 2.2h0m2.2 0h0m-2.2 2.3h0m2.2 0h0m-2.2 2.3h0m2.2 0h0m-2.2 2.2h0m2.2 0h0m-2.2 2.2h0m2.2 0h0m-2.2 2.3h0m2.2 0h0m-.3 2.7h0m-1.9 3.1h0m2.2 0h0m-2.4 62.2h0m2.4 .1h0m-1.4 3.3h0m-.8 4.5h0m2.2 0h0m2-89.4h0m2.1 0h0m-2.1 2.2h0m2.1 0h0m-2.1 2.3h0m2.1 0h0m-2.1 2.3h0m2.1 0h0m-2.1 2.2h0m2.1 0h0m-2.1 2.2h0m2.1 0h0m-2.1 2.3h0m2.1 0h0m1.4 2.7h0m-3.5 3.1h0m2.1 0h0m-2.2 61.3h0m3.5 4.2h0m-1.3 4.6h0m2.1-89.4h0m2.1 0h0m-2.1 2.2h0m2.1 0h0m-2.1 2.3h0m2.1 0h0m-2.1 2.3h0m2.1 0h0m-2.1 6.7h0m2.1 0h0m-2.1 5.8h0m2.1 0h0m-2.3 61.8h0m2.6 .9h0m-2.5 7.4h0m4.3-89.4h0m2.1 0h0m-2.1 2.2h0m2.1 0h0m-2.1 2.3h0m2.1 0h0m-2.1 2.3h0m2.1 0h0m-2.1 2.2h0m2.1 0h0m-2.1 2.2h0m2.1 0h0m-2.1 2.3h0m2.1 0h0m1.5 2.7h0m-3.6 3.1h0m2.1 0h0m-2.4 61.3h0m2.3 1.2h0m-1.1 3h0m3.6-84.8h0m2.1 0h0m-2.1 2.2h0m2.1 0h0m-2.1 2.3h0m2.1 0h0m-2.1 2.3h0m2.1 0h0m-2.1 2.2h0m2.1 0h0m1.7 7.2h0m-3.8 3.1h0m2.1 0h0m-2.4 62h0m2.4 .6h0m-1.4 3.7h0m-.7 3.8h0m3.8-89.4h0m2.1 0h0m-2.1 2.2h0m2.1 0h0m-2.1 2.3h0m2.1 0h0m-2.1 2.3h0m2.1 0h0m-2.1 2.2h0m2.1 0h0m-2.1 2.2h0m2.1 0h0m-2.1 2.3h0m2.1 0h0m.6 2.7h0m-2.7 3.1h0m2.1 0h0m.2 62.1h0m-2 4.3h0m-.2 3.7h0m4.5-89.4h0m2.1 0h0m-2.1 2.2h0m2.1 0h0m-2.1 2.3h0m2.1 0h0m-2.1 6.7h0m2.1 0h0m-2.1 2.3h0m2.1 0h0m-2.1 5.8h0m2.1 0h0m-1.9 62.5h0m2.1-.2h0m-1.8 3.2h0m-.5 4.6h0m2.1 0h0m2.3-89.4h0m2.1 0h0m-2.1 2.2h0m2.1 0h0m-2.1 2.3h0m2.1 0h0m-2.1 2.3h0m2.1 0h0m-2.1 2.2h0m2.1 0h0m-2.1 2.2h0m2.1 0h0m-2.1 2.3h0m2.1 0h0m.5 2.7h0m-2.6 3.1h0m2.1 0h0m-2.3 62.5h0m-.1 7.6h0m4.2-89.4h0m2.1 0h0m-2.1 2.2h0m2.1 0h0m-2.1 2.3h0m2.1 0h0m-2.1 2.3h0m2.1 0h0m-2.1 2.2h0m2.1 0h0m-2.1 2.2h0m2.1 0h0m-2.1 2.3h0m2.1 0h0m-.4 2.7h0m-1.7 3.1h0m2.1 0h0m-2.1 61.9h0m1.9 1h0m.4 3.4h0m-2.3 3.8h0m4.2-89.4h0m2.1 0h0m-2.1 2.2h0m2.1 0h0m-2.1 2.3h0m2.1 0h0m-2.1 2.3h0m2.1 0h0m-2.1 2.2h0m2.1 0h0m-2.1 2.2h0m2.1 0h0m-2.1 2.3h0m2.1 0h0m-1.4 2.7h0m-.7 3.1h0m2.1 0h0m0 62.2h0m-1 3.2h0m1 4.7h0m2.1-89.4h0m2.1 0h0m-2.1 2.2h0m2.1 0h0m-2.1 2.3h0m2.1 0h0m-2.1 2.3h0m2.1 0h0m-2.1 2.2h0m2.1 0h0m-2.1 2.2h0m2.1 0h0m-2.1 2.3h0m2.1 0h0m-.7 2.7h0m-1.4 3.1h0m2.1 0h0m1.3 66.2h0m-3.3 3.9h0m4.4-89.4h0m2.1 0h0m-2.1 2.2h0m2.1 0h0m-2.1 2.3h0m2.1 0h0m-2.1 2.3h0m2.1 0h0m-2.1 2.2h0m2.1 0h0m-2.1 2.2h0m2.1 0h0m-2.1 2.3h0m2.1 0h0m-1.5 2.7h0m-.6 3.1h0m2.1 0h0m-2.4 61.5h0m2.6 1.1h0m1.8 3.8h0m-4.1 3.7h0m4.3-89.4h0m2.2 0h0m-2.2 2.2h0m2.2 0h0m-2.2 2.3h0m2.2 0h0m-2.2 2.3h0m2.2 0h0m-2.2 2.2h0m2.2 0h0m-2.2 2.2h0m2.2 0h0m-2.2 2.3h0m2.2 0h0m-2 2.7h0m-.2 3.1h0m2.2 0h0m-2.3 62.1h0m.1 8h0m4.2-89.4h0m2.2 0h0m-2.2 2.2h0m2.2 0h0m-2.2 2.3h0m2.2 0h0m-2.2 2.3h0m2.2 0h0m-2.2 2.2h0m2.2 0h0m-2.2 2.2h0m2.2 0h0m-2.2 2.3h0m2.2 0h0m-2.2 5.8h0m2.2 0h0m-1.9 62.4h0m2.2 3.6h0m-2.6 4.1h0m2.3 0h0m1.8-89.4h0m2.2 0h0m-2.2 2.2h0m2.2 0h0m-2.2 2.3h0m2.2 0h0m-2.2 2.3h0m2.2 0h0m-2.2 2.2h0m2.2 0h0m-2.2 2.2h0m2.2 0h0m-2.2 2.3h0m2.2 0h0m.1 2.7h0m-2.3 3.1h0m2.2 0h0m-2 62.1h0m2.2 0h0m1.9-81.4h0m2.1 0h0m-2.1 2.2h0m2.1 0h0m-2.1 2.3h0m2.1 0h0m-2.1 2.3h0m2.1 0h0m-2.1 2.2h0m2.1 0h0m-2.1 10.3h0m2.1 0h0m-2.3 62.1h0m2.2 3.4h0m-2.2 4.6h0m4.4-89.4h0m2.1 0h0m-2.1 2.2h0m2.1 0h0m-2.1 2.3h0m2.1 0h0m-2.1 2.3h0m2.1 0h0m-2.1 2.2h0m2.1 0h0m-2.1 2.2h0m2.1 0h0m-2.1 2.3h0m2.1 0h0m2.1 2.7h0m-4.2 3.1h0m2.1 0h0m-2.2 62.2h0m2.1 .8h0m1.6 2.8h0m-3.8 4.3h0m4.6-89.4h0m2.1 0h0m-2.1 2.2h0m2.1 0h0m-2.1 2.3h0m2.1 0h0m-2.1 2.3h0m2.1 0h0m-2.1 6.7h0m2.1 0h0m2.1 2.7h0m-4.2 3.1h0m2.1 0h0m-2.2 61.7h0m2.3 .7h0m-2.3 7.7h0m4.5-89.4h0m2.2 0h0m-2.2 2.2h0m2.2 0h0m-2.2 2.3h0m2.2 0h0m-2.2 2.3h0m2.2 0h0m-2.2 2.2h0m2.2 0h0m-2.2 2.2h0m2.2 0h0m-2.2 2.3h0m2.2 0h0m-.2 2.7h0m-2 3.1h0m2.2 0h0m-1.9 61.9h0m2.2 .3h0m-2.3 3.6h0m3.8-85.1h0m2.1 0h0m-2.1 2.2h0m2.1 0h0m-2.1 2.3h0m2.1 0h0m-2.1 2.3h0m2.1 0h0m-2.1 2.2h0m2.1 0h0m-2.1 2.2h0m2.1 0h0m-2.1 2.3h0m2.1 0h0m-2.1 5.8h0m2.1 0h0m-.1 62.9h0m-1.8 7.2h0m4.1-89.4h0m2.1 0h0m-2.1 2.2h0m2.1 0h0m-2.1 2.3h0m2.1 0h0m-2.1 2.3h0m2.1 0h0m-2.1 2.2h0m2.1 0h0m-2.1 2.2h0m2.1 0h0m-2.1 2.3h0m2.1 0h0m-1.6 2.7h0m-.5 3.1h0m2.1 0h0m-2.4 62.1h0m2.6 .8h0m-2.1 7.2h0m4.2-89.4h0m2.1 0h0m-2.1 2.2h0m2.1 0h0m-2.1 2.3h0m2.1 0h0m-2.1 2.3h0m2.1 0h0m-2.1 2.2h0m2.1 0h0m-2.1 2.2h0m2.1 0h0m-2.1 2.3h0m2.1 0h0m2 2.7h0m-4.1 3.1h0m2.1 0h0m-2.1 61.5h0m3.9 4.1h0m-4.1 4.5h0m4.3-89.4h0m2.1 0h0m-2.1 2.2h0m2.1 0h0m-2.1 2.3h0m2.1 0h0m-2.1 2.3h0m2.1 0h0m-2.1 2.2h0m2.1 0h0m-2.1 2.2h0m2.1 0h0m-2.1 2.3h0m2.1 0h0m.8 2.7h0m-2.9 3.1h0m2.1 0h0m-2.1 62.3h0m2-.1h0m-2 7.9h0m4.6-89.4h0m2.1 0h0m-2.1 2.2h0m2.1 0h0m-2.1 2.3h0m2.1 0h0m-2.1 2.3h0m2.1 0h0m-2.1 6.7h0m2.1 0h0m.9 2.7h0m-3 3.1h0m2.1 0h0m-2 61.3h0m1.7 1.8h0m-.1 3.3h0m-2 3.7h0m4-89.4h0m2.2 0h0m-2.2 2.2h0m2.2 0h0m-2.2 2.3h0m2.2 0h0m-2.2 2.3h0m2.2 0h0m-2.2 2.2h0m2.2 0h0m-2.2 2.2h0m2.2 0h0m-2.2 2.3h0m2.2 0h0m-1.2 2.7h0m-1 3.1h0m2.2 0h0m-1.9 62.2h0m3.3 4.3h0m-3.8 3.6h0m4.5-89.4h0m2.1 0h0m-2.1 2.2h0m2.1 0h0m-2.1 2.3h0m2.1 0h0m-2.1 2.3h0m2.1 0h0m-2.1 2.2h0m2.1 0h0m-2.1 2.2h0m2.1 0h0m-2.1 2.3h0m2.1 0h0m.1 2.7h0m-2.2 3.1h0m2.1 0h0m-2.3 61.6h0m2.3 .4h0m1.5 3.5h0m-3.3 4.6h0m4.3-89.4h0m2.1 0h0m-2.1 2.2h0m2.1 0h0m-2.1 2.3h0m2.1 0h0m-2.1 2.3h0m2.1 0h0m-2.1 2.2h0m2.1 0h0m-2.1 2.2h0m2.1 0h0m-2.1 2.3h0m2.1 0h0m1.8 2.7h0m-3.9 3.1h0m2.1 0h0m-1.9 62.4h0m1.9-.4h0m-1.4 3.8h0m-.5 4.3h0m1.9 0h0m1.8-89.4h0m2.1 0h0m-2.1 2.2h0m2.1 0h0m-2.1 2.3h0m2.1 0h0m-2.1 2.3h0m2.1 0h0m-2.1 2.2h0m2.1 0h0m-2.1 2.2h0m2.1 0h0m-2.1 2.3h0m2.1 0h0m-1.1 2.7h0m-1 3.1h0m2.1 0h0m-1.9 61.9h0m2 1h0m.5 2.5h0m-.6 4.7h0m2.2-89.4h0m2.1 0h0m-2.1 2.2h0m2.1 0h0m-2.1 2.3h0m2.1 0h0m-2.1 2.3h0m2.1 0h0m-2.1 2.2h0m2.1 0h0m-2.1 2.2h0m2.1 0h0m-2.1 2.3h0m2.1 0h0m-2 2.7h0m-.1 3.1h0m2.1 0h0m-2.3 61.4h0m2.4 1.1h0m-2.1 7.6h0m4.2-89.4h0m2.1 0h0m-2.1 2.2h0m2.1 0h0m-2.1 2.3h0m2.1 0h0m-2.1 2.3h0m2.1 0h0m-2.1 2.2h0m2.1 0h0m-2.1 2.2h0m2.1 0h0m-2.1 2.3h0m2.1 0h0m.4 2.7h0m-2.5 3.1h0m2.1 0h0m-2.4 61.9h0m2.6 0h0m.8 4.2h0m-3.3 4h0m2.3 0h0m2.5-89.4h0m2.1 0h0m-2.1 2.2h0m2.1 0h0m-2.1 2.3h0m2.1 0h0m-2.1 2.3h0m2.1 0h0m-2.1 2.2h0m2.1 0h0m-2.1 2.2h0m2.1 0h0m-2.1 2.3h0m2.1 0h0m2 2.7h0m-4.1 3.1h0m2.1 0h0m-2.4 62h0m3.4 3.7h0m-3.4 4.4h0m4.5-89.4h0m2.1 0h0m-2.1 2.2h0m2.1 0h0m-2.1 2.3h0m2.1 0h0m-2.1 2.3h0m2.1 0h0m-2.1 2.2h0m2.1 0h0m-2.1 10.3h0m2.1 0h0m-2.1 62.3h0m2.4-.1h0m-2.7 7.9h0m4.1-89.4h0m2.2 0h0m-2.2 2.2h0m2.2 0h0m-2.2 2.3h0m2.2 0h0m-2.2 2.3h0m2.2 0h0m-2.2 2.2h0m2.2 0h0m-2.2 2.2h0m2.2 0h0m-2.2 2.3h0m2.2 0h0m-.3 2.7h0m-1.9 3.1h0m2.2 0h0m-2.4 61.4h0m2.1 .6h0m-1.9 8.1h0m2.2 0h0m2.6-89.4h0m2.1 0h0m-2.1 2.2h0m2.1 0h0m-2.1 2.3h0m2.1 0h0m-2.1 2.3h0m2.1 0h0m-2.1 2.2h0m2.1 0h0m-2.1 2.2h0m2.1 0h0m-2.1 2.3h0m2.1 0h0m-1.1 2.7h0m-1 3.1h0m2.1 0h0m-2.3 62.4h0m2.4-.5h0m-1 3.6h0m-1.4 4.6h0m2.3 0h0m2.1-89.4h0m2.1 0h0m-2.1 2.2h0m2.1 0h0m-2.1 2.3h0m2.1 0h0m-2.1 2.3h0m2.1 0h0m-2.1 2.2h0m2.1 0h0m-2.1 2.2h0m2.1 0h0m-2.1 2.3h0m2.1 0h0m-1 2.7h0m-1.1 3.1h0m2.1 0h0m-2.3 62.2h0m2.6 3.2h0m-2.3 4.7h0m4-89.4h0m2.2 0h0m-2.2 2.2h0m2.2 0h0m-2.2 2.3h0m2.2 0h0m-2.2 2.3h0m2.2 0h0m-2.2 2.2h0m2.2 0h0m-2.2 2.2h0m2.2 0h0m-2.2 2.3h0m2.2 0h0m-.7 2.7h0m-1.5 3.1h0m2.2 0h0m-2.3 61.4h0m3.6 4.3h0m-3.4 4.4h0m4.2-89.4h0m2.1 0h0m-2.1 2.2h0m2.1 0h0m-2.1 2.3h0m2.1 0h0m-2.1 2.3h0m2.1 0h0m-2.1 2.2h0m2.1 0h0m-2.1 2.2h0m2.1 0h0m-2.1 2.3h0m2.1 0h0m.4 2.7h0m-2.5 3.1h0m2.1 0h0m-2 62.1h0m2.3 .9h0m-.4 2.6h0m-2.2 4.5h0m4.1-89.4h0m2.1 0h0m-2.1 2.2h0m2.1 0h0m-2.1 2.3h0m2.1 0h0m-2.1 2.3h0m2.1 0h0m-2.1 2.2h0m2.1 0h0m-2.1 2.2h0m2.1 0h0m-2.1 2.3h0m2.1 0h0m.4 2.7h0m-2.5 3.1h0m2.1 0h0m-1.8 62.5h0m1.7 .2h0m.7 3.4h0m2-85.4h0m2.1 0h0m-2.1 2.2h0m2.1 0h0m-2.1 2.3h0m2.1 0h0m-2.1 6.7h0m2.1 0h0m-2.1 2.3h0m2.1 0h0m1.3 2.7h0m-3.4 3.1h0m2.1 0h0m-2.2 62h0m3.6 3.8h0m-3.7 4.3h0m4.2-89.4h0m2.2 0h0m-2.2 2.2h0m2.2 0h0m-2.2 2.3h0m2.2 0h0m-2.2 2.3h0m2.2 0h0m-2.2 2.2h0m2.2 0h0m-2.2 2.2h0m2.2 0h0m-2.2 2.3h0m2.2 0h0m-.6 2.7h0m-1.6 3.1h0m2.2 0h0m-2.1 61.8h0m2.3 .9h0m-2.2 7.4h0m4.2-89.4h0m2.1 0h0m-2.1 2.2h0m2.1 0h0m-2.1 2.3h0m2.1 0h0m-2.1 2.3h0m2.1 0h0m-2.1 2.2h0m2.1 0h0m-2.1 2.2h0m2.1 0h0m-2.1 2.3h0m2.1 0h0m-2.1 5.8h0m2.1 0h0m-1.9 62h0m1.8 .6h0m-2.2 7.5h0m2.3 0h0m1.9-89.4h0m2.1 0h0m-2.1 2.2h0m2.1 0h0m-2.1 2.3h0m2.1 0h0m-2.1 6.7h0m2.1 0h0m-2.1 2.3h0m2.1 0h0m-.7 2.7h0m-1.4 3.1h0m2.1 0h0m.3 62.6h0m-2.5 7.5h0m4.3-89.4h0m2.1 0h0m-2.1 2.2h0m2.1 0h0m-2.1 2.3h0m2.1 0h0m-2.1 2.3h0m2.1 0h0m-2.1 2.2h0m2.1 0h0m-2.1 2.2h0m2.1 0h0m-2.1 2.3h0m2.1 0h0m1.7 2.7h0m-3.8 3.1h0m2.1 0h0m-1.9 62.1h0m2-.2h0m-1.1 3.5h0m-.9 4.7h0m4.1-89.4h0m2.1 0h0m-2.1 2.2h0m2.1 0h0m-2.1 2.3h0m2.1 0h0m-2.1 2.3h0m2.1 0h0m-2.1 2.2h0m2.1 0h0m-2.1 2.2h0m2.1 0h0m-2.1 2.3h0m2.1 0h0m-2.1 5.8h0m2.1 0h0m.1 62.9h0m1.5 2.5h0m-3.7 4.7h0m4.6-89.4h0m2.1 0h0m-2.1 2.2h0m2.1 0h0m-2.1 2.3h0m2.1 0h0m-2.1 2.3h0m2.1 0h0m-2.1 2.2h0m2.1 0h0m-2.1 2.2h0m2.1 0h0m-2.1 2.3h0m2.1 0h0m-1.9 2.7h0m-.2 3.1h0m2.1 0h0m-2.2 62.2h0m2 .8h0m.4 2.8h0m-2.5 4.3h0m4.4-89.4h0m2.1 0h0m-2.1 2.2h0m2.1 0h0m-2.1 2.3h0m2.1 0h0m-2.1 2.3h0m2.1 0h0m-2.1 2.2h0m2.1 0h0m-2.1 2.2h0m2.1 0h0m-2.1 2.3h0m2.1 0h0m2 2.7h0m-4.1 3.1h0m2.1 0h0m-2.3 61.4h0m2.5 .8h0m1.5 3.6h0m-3.9 4.3h0m4.4-89.4h0m2.1 0h0m-2.1 2.2h0m2.1 0h0m-2.1 2.3h0m2.1 0h0m-2.1 2.3h0m2.1 0h0m-2.1 2.2h0m2.1 0h0m-2.1 2.2h0m2.1 0h0m-2.1 2.3h0m2.1 0h0m.8 2.7h0m-2.9 3.1h0m2.1 0h0m-2 61.9h0m1.8 .3h0m1.3 4.3h0m.9-85.8h0m2.2 0h0m-2.2 2.2h0m2.2 0h0m-2.2 2.3h0m2.2 0h0m-2.2 2.3h0m2.2 0h0m-2.2 2.2h0m2.2 0h0m-2.2 2.2h0m2.2 0h0m-2.2 2.3h0m2.2 0h0m-.7 2.7h0m-1.5 3.1h0m2.2 0h0m-2 62.3h0m1.8 .4h0m-1.3 2.8h0m-.6 4.6h0m2.1 0h0m1.9-89.4h0m2.1 0h0m-2.1 2.2h0m2.1 0h0m-2.1 2.3h0m2.1 0h0m-2.1 2.3h0m2.1 0h0m-2.1 6.7h0m2.1 0h0m1.8 2.7h0m-3.9 3.1h0m2.1 0h0m-1.9 62h0m4.3-81.3h0m2.1 0h0m-2.1 2.2h0m2.1 0h0m-2.1 2.3h0m2.1 0h0m-2.1 2.3h0m2.1 0h0m-2.1 2.2h0m2.1 0h0m-2.1 2.2h0m2.1 0h0m-2.1 2.3h0m2.1 0h0m-2.1 5.8h0m2.1 0h0m-2.1 61.9h0m2 .9h0m-2.2 7.3h0m2.3 0h0m2.1-89.4h0m2.1 0h0m-2.1 2.2h0m2.1 0h0m-2.1 2.3h0m2.1 0h0m-2.1 2.3h0m2.1 0h0m-2.1 2.2h0m2.1 0h0m-2.1 2.2h0m2.1 0h0m-2.1 2.3h0m2.1 0h0m-2.1 5.8h0m2.1 0h0m-2.3 62.3h0m2.5-.3h0m-.2 4h0m-2.4 4.1h0m2.4 0h0m2-89.4h0m2.1 0h0m-2.1 2.2h0m2.1 0h0m-2.1 2.3h0m2.1 0h0m-2.1 2.3h0m2.1 0h0m-2.1 2.2h0m2.1 0h0m-2.1 2.2h0m2.1 0h0m-2.1 2.3h0m2.1 0h0m-.8 2.7h0m-1.3 3.1h0m2.1 0h0m-2.4 62.3h0m3.7 3h0m-3.2 4.8h0m3.9-89.4h0m2.1 0h0m-2.1 2.2h0m2.1 0h0m-2.1 2.3h0m2.1 0h0m-2.1 6.7h0m2.1 0h0m-2.1 2.3h0m2.1 0h0m-1.6 2.7h0m-.5 3.1h0m2.1 0h0m-1.9 61.9h0m2 .2h0m-2.3 8h0m4.4-89.4h0m2.1 0h0m-2.1 2.2h0m2.1 0h0m-2.1 2.3h0m2.1 0h0m-2.1 2.3h0m2.1 0h0m-2.1 6.7h0m2.1 0h0m-2.1 5.8h0m2.1 0h0m-2.4 61.5h0m2.2 .4h0m2.2 3.5h0m-3.8 4.7h0m4.3-89.4h0m2.1 0h0m-2.1 2.2h0m2.1 0h0m-2.1 2.3h0m2.1 0h0m-2.1 2.3h0m2.1 0h0m-2.1 2.2h0m2.1 0h0m-2.1 2.2h0m2.1 0h0m-2.1 2.3h0m2.1 0h0m-.4 2.7h0m-1.7 3.1h0m2.1 0h0m-2 62.5h0m2.2 3.3h0m-2.2 4.3h0m4.1-89.4h0m2.2 0h0m-2.2 2.2h0m2.2 0h0m-2.2 2.3h0m2.2 0h0m-2.2 2.3h0m2.2 0h0m-2.2 2.2h0m2.2 0h0m-2.2 2.2h0m2.2 0h0m-2.2 2.3h0m2.2 0h0m2 2.7h0m-4.2 3.1h0m2.2 0h0m-2.4 61.5h0m2.2 1.1h0m.5 3.2h0m-2.6 4.3h0m4.2-89.4h0m2.1 0h0m-2.1 2.2h0m2.1 0h0m-2.1 2.3h0m2.1 0h0m-2.1 2.3h0m2.1 0h0m-2.1 2.2h0m2.1 0h0m-2.1 2.2h0m2.1 0h0m-2.1 2.3h0m2.1 0h0m-1.8 2.7h0m-.3 3.1h0m2.1 0h0m-2.3 61.8h0m3.3 3.5h0m-2.8 4.8h0m3.9-89.4h0m2.1 0h0m-2.1 2.2h0m2.1 0h0m-2.1 2.3h0m2.1 0h0m-2.1 2.3h0m2.1 0h0m-2.1 2.2h0m2.1 0h0m-2.1 2.2h0m2.1 0h0m-2.1 2.3h0m2.1 0h0m.1 2.7h0m-2.2 3.1h0m2.1 0h0m-2.2 62.3h0m2 .7h0m-.1 3.1h0m-1.7 4h0m2 0h0m2.2-89.4h0m2.1 0h0m-2.1 2.2h0m2.1 0h0m-2.1 2.3h0m2.1 0h0m-2.1 2.3h0m2.1 0h0m-2.1 2.2h0m2.1 0h0m-2.1 2.2h0m2.1 0h0m-2.1 2.3h0m2.1 0h0m-1.6 2.7h0m-.5 3.1h0m2.1 0h0m-2 62.1h0m1.8 .6h0m.3 3h0m-2.4 4.4h0m4.3-89.4h0m2.2 0h0m-2.2 2.2h0m2.2 0h0m-2.2 2.3h0m2.2 0h0m-2.2 6.7h0m2.2 0h0m-2.2 2.3h0m2.2 0h0m1.3 2.7h0m-3.5 3.1h0m2.2 0h0m.7 66.2h0m-2.7 3.9h0m4-89.4h0m2.1 0h0m-2.1 2.2h0m2.1 0h0m-2.1 2.3h0m2.1 0h0m-2.1 2.3h0m2.1 0h0m-2.1 2.2h0m2.1 0h0m-2.1 2.2h0m2.1 0h0m-2.1 2.3h0m2.1 0h0m-.7 2.7h0m-1.4 3.1h0m2.1 0h0m-2.4 62.3h0m2.3-.4h0m-.3 3.5h0m-1.7 4.7h0m2.1 0h0m2.3-89.4h0m2.2 0h0m-2.2 2.2h0m2.2 0h0m-2.2 2.3h0m2.2 0h0m-2.2 2.3h0m2.2 0h0m-2.2 2.2h0m2.2 0h0m-2.2 2.2h0m2.2 0h0m-2.2 2.3h0m2.2 0h0m-2.2 5.8h0m2.2 0h0m-1.9 62.3h0m1.9 .4h0m.6 2.8h0m-2.8 4.6h0m4.3-89.4h0m2.2 0h0m-2.2 2.2h0m2.2 0h0m-2.2 2.3h0m2.2 0h0m-2.2 2.3h0m2.2 0h0m-2.2 2.2h0m2.2 0h0m-2.2 2.2h0m2.2 0h0m-2.2 2.3h0m2.2 0h0m-2.2 5.8h0m2.2 0h0m-2 61.6h0m1.8 1.4h0m1.1 2.6h0m-3.1 4.5h0m4.4-89.4h0m2.1 0h0m-2.1 2.2h0m2.1 0h0m-2.1 2.3h0m2.1 0h0m-2.1 2.3h0m2.1 0h0m-2.1 2.2h0m2.1 0h0m-2.1 2.2h0m2.1 0h0m-2.1 2.3h0m2.1 0h0m-1 2.7h0m-1.1 3.1h0m2.1 0h0m-2.1 62h0m2.1 .6h0m1.1 3.3h0m-3 4.2h0m3.9-89.4h0m2.1 0h0m-2.1 2.2h0m2.1 0h0m-2.1 2.3h0m2.1 0h0m-2.1 2.3h0m2.1 0h0m-2.1 2.2h0m2.1 0h0m-2.1 2.2h0m2.1 0h0m-2.1 2.3h0m2.1 0h0m1.8 2.7h0m-3.9 3.1h0m2.1 0h0m-2.3 61.8h0m2.6 1h0m-1.9 2.6h0m-.6 4.7h0m4.5-89.4h0m2.1 0h0m-2.1 2.2h0m2.1 0h0m-2.1 2.3h0m2.1 0h0m-2.1 2.3h0m2.1 0h0m-2.1 2.2h0m2.1 0h0m-2.1 2.2h0m2.1 0h0m-2.1 2.3h0m2.1 0h0m-2.1 5.8h0m2.1 0h0m-.1 62.9h0m-.4 2.7h0m-1.8 4.5h0m4.1-89.4h0m2.1 0h0m-2.1 2.2h0m2.1 0h0m-2.1 2.3h0m2.1 0h0m-2.1 2.3h0m2.1 0h0m-2.1 2.2h0m2.1 0h0m-2.1 2.2h0m2.1 0h0m-2.1 2.3h0m2.1 0h0m1.5 2.7h0m-3.6 3.1h0m2.1 0h0m-1.8 62.3h0m1.7-.4h0m-1.8 4.5h0m-.4 3.7h0m4.8-89.4h0m2.1 0h0m-2.1 2.2h0m2.1 0h0m-2.1 2.3h0m2.1 0h0m-2.1 2.3h0m2.1 0h0m-2.1 2.2h0m2.1 0h0m-2.1 2.2h0m2.1 0h0m-2.1 2.3h0m2.1 0h0m.3 2.7h0m-2.4 3.1h0m2.1 0h0m-2.2 62.4h0m2.5-.5h0m1.2 3.7h0m.6-84.9h0m2.1 0h0m-2.1 2.2h0m2.1 0h0m-2.1 2.3h0m2.1 0h0m-2.1 2.3h0m2.1 0h0m-2.1 2.2h0m2.1 0h0m-2.1 2.2h0m2.1 0h0m-2.1 2.3h0m2.1 0h0m-.2 2.7h0m-1.9 3.1h0m2.1 0h0m-2.4 62.5h0m2.3 0h0m1.8 3.9h0m-4.1 3.7h0m4.6-89.4h0m2.1 0h0m-2.1 2.2h0m2.1 0h0m-2.1 2.3h0m2.1 0h0m-2.1 2.3h0m2.1 0h0m-2.1 2.2h0m2.1 0h0m-2.1 2.2h0m2.1 0h0m-2.1 2.3h0m2.1 0h0m-.2 2.7h0m-1.9 3.1h0m2.1 0h0m-1.8 61.7h0m0 8.4h0m1.8 0h0m1.9-89.4h0m2.2 0h0m-2.2 2.2h0m2.2 0h0m-2.2 2.3h0m2.2 0h0m-2.2 2.3h0m2.2 0h0m-2.2 2.2h0m2.2 0h0m-2.2 2.2h0m2.2 0h0m-2.2 2.3h0m2.2 0h0m.1 2.7h0m-2.3 3.1h0m2.2 0h0m-2.1 61.5h0m2.5 3.8h0m-2.6 4.8h0m4.1-89.4h0m2.2 0h0m-2.2 2.2h0m2.2 0h0m-2.2 2.3h0m2.2 0h0m-2.2 2.3h0m2.2 0h0m-2.2 6.7h0m2.2 0h0m.1 2.7h0m-2.3 3.1h0m2.2 0h0m-1.9 62.1h0m1.8-.2h0m-.2 4.1h0m-1.9 4.1h0m4.5-89.4h0m2.2 0h0m-2.2 2.2h0m2.2 0h0m-2.2 2.3h0m2.2 0h0m-2.2 2.3h0m2.2 0h0m-2.2 2.2h0m2.2 0h0m-2.2 2.2h0m2.2 0h0m-2.2 2.3h0m2.2 0h0m-2.2 5.8h0m2.2 0h0m-2.4 61.6h0m2.5 1.3h0m-2.4 7.2h0m4.4-89.4h0m2.1 0h0m-2.1 2.2h0m2.1 0h0m-2.1 2.3h0m2.1 0h0m-2.1 2.3h0m2.1 0h0m-2.1 2.2h0m2.1 0h0m1.1 7.2h0m-3.2 3.1h0m2.1 0h0m-1.9 62.2h0m2-.1h0m.1 4h0m1.6-85.4h0m2.2 0h0m-2.2 2.2h0m2.2 0h0m-2.2 2.3h0m2.2 0h0m-2.2 2.3h0m2.2 0h0m-2.2 2.2h0m2.2 0h0m-2.2 2.2h0m2.2 0h0m-2.2 2.3h0m2.2 0h0m-1.6 2.7h0m-.6 3.1h0m2.2 0h0m-2.4 61.9h0m2 3.9h0m-1.8 4.3h0m4.6-89.4h0m2.1 0h0m-2.1 2.2h0m2.1 0h0m-2.1 2.3h0m2.1 0h0m-2.1 2.3h0m2.1 0h0m-2.1 2.2h0m2.1 0h0m-2.1 2.2h0m2.1 0h0m-2.1 2.3h0m2.1 0h0m-.1 2.7h0m-2 3.1h0m2.1 0h0m-.2 63h0m-1.8 2.6h0m-.4 4.5h0m4.3-89.4h0m2.1 0h0m-2.1 2.2h0m2.1 0h0m-2.1 2.3h0m2.1 0h0m-2.1 2.3h0m2.1 0h0m-2.1 2.2h0m2.1 0h0m-2.1 2.2h0m2.1 0h0m-2.1 2.3h0m2.1 0h0m-.4 2.7h0m-1.7 3.1h0m2.1 0h0m-2.2 62.3h0m2.1 .4h0m.6 2.6h0m-2.4 4.8h0m4-89.4h0m2.1 0h0m-2.1 2.2h0m2.1 0h0m-2.1 2.3h0m2.1 0h0m-2.1 2.3h0m2.1 0h0m-2.1 2.2h0m2.1 0h0m-2.1 2.2h0m2.1 0h0m-2.1 2.3h0m2.1 0h0m.4 2.7h0m-2.5 3.1h0m2.1 0h0m-2.4 61.7h0m2.6 1.2h0m1.4 2.7h0m-3.9 4.5h0m4.9-89.4h0m2.1 0h0m-2.1 2.2h0m2.1 0h0m-2.1 2.3h0m2.1 0h0m-2.1 2.3h0m2.1 0h0m-2.1 2.2h0m2.1 0h0m-2.1 2.2h0m2.1 0h0m-2.1 2.3h0m2.1 0h0m.7 2.7h0m-2.8 3.1h0m2.1 0h0m-2 61.7h0m2.2 4.7h0m-2.4 3.7h0m4-89.4h0m2.1 0h0m-2.1 2.2h0m2.1 0h0m-2.1 2.3h0m2.1 0h0m-2.1 2.3h0m2.1 0h0m-2.1 2.2h0m2.1 0h0m-2.1 2.2h0m2.1 0h0m-2.1 2.3h0m2.1 0h0m-2 2.7h0m-.1 3.1h0m2.1 0h0m-2.2 62.3h0m2 .6h0m-.3 3.2h0m-1.4 4h0m4-89.4h0m2.1 0h0m-2.1 2.2h0m2.1 0h0m-2.1 2.3h0m2.1 0h0m-2.1 6.7h0m2.1 0h0m-2.1 2.3h0m2.1 0h0m.4 2.7h0m-2.5 3.1h0m2.1 0h0m-2.2 61.5h0m2 1.4h0m-.2 2.6h0m-1.9 4.6h0m4.8-89.4h0m2.2 0h0m-2.2 2.2h0m2.2 0h0m-2.2 2.3h0m2.2 0h0m-2.2 2.3h0m2.2 0h0m-2.2 2.2h0m2.2 0h0m-2.2 2.2h0m2.2 0h0m-2.2 2.3h0m2.2 0h0m-1.2 2.7h0m-1 3.1h0m2.2 0h0m-2.1 61.9h0m1.8 .3h0m-1 3.2h0m-.9 4.7h0m4.1-89.4h0m2.1 0h0m-2.1 2.2h0m2.1 0h0m-2.1 2.3h0m2.1 0h0m-2.1 2.3h0m2.1 0h0m-2.1 6.7h0m2.1 0h0m-2.1 5.8h0m2.1 0h0m-2.2 62.1h0m.8 4.1h0m-.6 3.9h0m4.2-89.4h0m2.1 0h0m-2.1 2.2h0m2.1 0h0m-2.1 2.3h0m2.1 0h0m-2.1 2.3h0m2.1 0h0m-2.1 2.2h0m2.1 0h0m-2.1 2.2h0m2.1 0h0m-2.1 2.3h0m2.1 0h0m-1.8 2.7h0m-.3 3.1h0m2.1 0h0m-2.4 61.8h0m2.5 .5h0m-.7 3.3h0m-1.3 4.5h0m1.9 0h0m2.2-89.4h0m2.1 0h0m-2.1 2.2h0m2.1 0h0m-2.1 2.3h0m2.1 0h0m-2.1 2.3h0m2.1 0h0m-2.1 2.2h0m2.1 0h0m-2.1 2.2h0m2.1 0h0m-2.1 2.3h0m2.1 0h0m-.1 2.7h0m-2 3.1h0m2.1 0h0m-2.4 62.1h0m.2 8h0m4.2-89.4h0m.1 0h0m-.1 2.2h0m.1 0h0m-.1 2.3h0m.1 0h0m-.1 2.3h0m.1 0h0m-.1 6.7h0m.1 0h0m0 2.7h0m-.1 3.1h0m.1 0h0m0 62.8h0m0 2.9h0m0 4.4h0m-407.8 246.6h0m2.1 0h0m-2.1-2.2h0m2.1 0h0m-2.1-2.3h0m2.1 0h0m-2.1-2.3h0m2.1 0h0m-2.1-2.2h0m2.1 0h0m-2.1-2.2h0m2.1 0h0m-2.1-2.3h0m2.1 0h0m-1.1-2.7h0m-1-3.1h0m2.1 0h0m-1.9-62.1h0m3.4-3.9h0m-3.5-4.1h0m3.8 89.4h0m2.1 0h0m-2.1-2.2h0m2.1 0h0m-2.1-2.3h0m2.1 0h0m-2.1-2.3h0m2.1 0h0m-2.1-2.2h0m2.1 0h0m-2.1-2.2h0m2.1 0h0m-2.1-2.3h0m2.1 0h0m-2.1-5.8h0m2.1 0h0m-1.9-61.5h0m1.9-1.5h0m-2-2.6h0m-.2-4.5h0m4.3 89.4h0m2.1 0h0m-2.1-2.2h0m2.1 0h0m-2.1-2.3h0m2.1 0h0m-2.1-6.7h0m2.1 0h0m-2.1-2.3h0m2.1 0h0m-2.1-5.8h0m2.1 0h0m-1.9-62.2h0m2.1 .2h0m-.9-3.3h0m-1.1-4.8h0m1.8 0h0m2.5 89.4h0m2.1 0h0m-2.1-2.2h0m2.1 0h0m-2.1-2.3h0m2.1 0h0m-2.1-2.3h0m2.1 0h0m-2.1-2.2h0m2.1 0h0m-2.1-2.2h0m2.1 0h0m-2.1-2.3h0m2.1 0h0m-2.1-5.8h0m2.1 0h0m-2.1-62h0m3.7-3.9h0m-3.9-4.2h0m4.4 89.4h0m2.1 0h0m-2.1-2.2h0m2.1 0h0m-2.1-2.3h0m2.1 0h0m-2.1-2.3h0m2.1 0h0m-2.1-2.2h0m2.1 0h0m-2.1-2.2h0m2.1 0h0m-2.1-2.3h0m2.1 0h0m-2.1-5.8h0m2.1 0h0m-2.1-62.2h0m1.9-.8h0m.8-3.4h0m-2.5-3.7h0m3.8 89.4h0m2.1 0h0m-2.1-2.2h0m2.1 0h0m-2.1-2.3h0m2.1 0h0m-2.1-2.3h0m2.1 0h0m-2.1-2.2h0m2.1 0h0m-2.1-2.2h0m2.1 0h0m-2.1-2.3h0m2.1 0h0m-1.9-2.7h0m-.2-3.1h0m2.1 0h0m-2.3-61.8h0m.6-4.7h0m-.2-3.6h0m3.9 89.4h0m2.1 0h0m-2.1-2.2h0m2.1 0h0m-2.1-2.3h0m2.1 0h0m-2.1-2.3h0m2.1 0h0m-2.1-2.2h0m2.1 0h0m-2.1-2.2h0m2.1 0h0m-2.1-2.3h0m2.1 0h0m1.4-2.7h0m-3.5-3.1h0m2.1 0h0m-2.2-61.8h0m1.2-4.1h0m-.9-4.2h0m4.4 89.4h0m2.1 0h0m-2.1-2.2h0m2.1 0h0m-2.1-2.3h0m2.1 0h0m-2.1-2.3h0m2.1 0h0m-2.1-2.2h0m2.1 0h0m-2.1-2.2h0m2.1 0h0m-2.1-2.3h0m2.1 0h0m-2.1-5.8h0m2.1 0h0m-2.3-61.5h0m2.3-.5h0m-.3-4.1h0m-1.8-4h0m4 89.4h0m2.1 0h0m-2.1-2.2h0m2.1 0h0m-2.1-2.3h0m2.1 0h0m-2.1-2.3h0m2.1 0h0m-2.1-2.2h0m2.1 0h0m-2.1-2.2h0m2.1 0h0m-2.1-2.3h0m2.1 0h0m-.8-2.7h0m-1.3-3.1h0m2.1 0h0m-2-62.3h0m3.3-3.9h0m-3.1-3.9h0m1.8 0h0m2.4 89.4h0m2.1 0h0m-2.1-2.2h0m2.1 0h0m-2.1-2.3h0m2.1 0h0m-2.1-2.3h0m2.1 0h0m-2.1-2.2h0m2.1 0h0m-2.1-2.2h0m2.1 0h0m-2.1-2.3h0m2.1 0h0m.5-2.7h0m-2.6-3.1h0m2.1 0h0m-2.3-61.4h0m1-3.9h0m-.8-4.8h0m2.1 0h0m2.2 89.4h0m2.1 0h0m-2.1-2.2h0m2.1 0h0m-2.1-2.3h0m2.1 0h0m-2.1-2.3h0m2.1 0h0m-2.1-2.2h0m2.1 0h0m-2.1-2.2h0m2.1 0h0m-2.1-2.3h0m2.1 0h0m1.2-2.7h0m-3.3-3.1h0m2.1 0h0m-2.4-62.3h0m.4-7.8h0m3.7 89.4h0m2.2 0h0m-2.2-2.2h0m2.2 0h0m-2.2-2.3h0m2.2 0h0m-2.2-2.3h0m2.2 0h0m-2.2-2.2h0m2.2 0h0m-2.2-2.2h0m2.2 0h0m-2.2-2.3h0m2.2 0h0m.9-2.7h0m-3.1-3.1h0m2.2 0h0m-2.5-61.9h0m2.7-.4h0m-2.5-7.8h0m4.4 89.4h0m2.1 0h0m-2.1-2.2h0m2.1 0h0m-2.1-2.3h0m2.1 0h0m-2.1-2.3h0m2.1 0h0m-2.1-2.2h0m2.1 0h0m-2.1-2.2h0m2.1 0h0m-2.1-2.3h0m2.1 0h0m-2.1-5.8h0m2.1 0h0m-2-62.4h0m1.1-3.3h0m-1.3-4.4h0m4.3 89.4h0m2.2 0h0m-2.2-2.2h0m2.2 0h0m-2.2-2.3h0m2.2 0h0m-2.2-2.3h0m2.2 0h0m-2.2-2.2h0m2.2 0h0m-2.2-2.2h0m2.2 0h0m-2.2-2.3h0m2.2 0h0m-2.2-5.8h0m2.2 0h0m-2.4-62.5h0m2.1-.5h0m1.9-3.3h0m-4-3.8h0m2.4 0h0m2.1 89.4h0m2.1 0h0m-2.1-2.2h0m2.1 0h0m-2.1-2.3h0m2.1 0h0m-2.1-2.3h0m2.1 0h0m-2.1-2.2h0m2.1 0h0m-2.1-2.2h0m2.1 0h0m-2.1-2.3h0m2.1 0h0m1.6-2.7h0m-3.7-3.1h0m2.1 0h0m-2.1-61.7h0m3-4.3h0m-2.9-4.1h0m4.3 89.4h0m2.1 0h0m-2.1-2.2h0m2.1 0h0m-2.1-2.3h0m2.1 0h0m-2.1-2.3h0m2.1 0h0m-2.1-2.2h0m2.1 0h0m-2.1-2.2h0m2.1 0h0m-2.1-2.3h0m2.1 0h0m-.2-2.7h0m-1.9-3.1h0m2.1 0h0m-2.1-61.8h0m2-1.1h0m-.7-3.5h0m-1.6-3.7h0m4.6 89.4h0m2.2 0h0m-2.2-2.2h0m2.2 0h0m-2.2-2.3h0m2.2 0h0m-2.2-2.3h0m2.2 0h0m-2.2-2.2h0m2.2 0h0m-2.2-2.2h0m2.2 0h0m-2.2-2.3h0m2.2 0h0m-2-2.7h0m-.2-3.1h0m2.2 0h0m-2.2-62h0m2.2-1.1h0m-.6-3.1h0m-1.3-3.9h0m4.2 89.4h0m2.1 0h0m-2.1-2.2h0m2.1 0h0m-2.1-2.3h0m2.1 0h0m-2.1-2.3h0m2.1 0h0m-2.1-2.2h0m2.1 0h0m-2.1-2.2h0m2.1 0h0m-2.1-2.3h0m2.1 0h0m0-2.7h0m-2.1-3.1h0m2.1 0h0m-2.3-61.6h0m2.5-1.5h0m-2.2-3.4h0m-.3-3.6h0m4.1 89.4h0m2.2 0h0m-2.2-2.2h0m2.2 0h0m-2.2-2.3h0m2.2 0h0m-2.2-2.3h0m2.2 0h0m-2.2-2.2h0m2.2 0h0m-2.2-2.2h0m2.2 0h0m-2.2-2.3h0m2.2 0h0m1.8-2.7h0m-4-3.1h0m2.2 0h0m-2.1-62.1h0m1.8-.3h0m2.2-3.6h0m-3.8-4.1h0m4.2 89.4h0m2.1 0h0m-2.1-2.2h0m2.1 0h0m-2.1-2.3h0m2.1 0h0m-2.1-2.3h0m2.1 0h0m-2.1-2.2h0m2.1 0h0m-2.1-2.2h0m2.1 0h0m-2.1-2.3h0m2.1 0h0m-2.1-5.8h0m2.1 0h0m-2.2-61.8h0m2.2-.8h0m2.2 81.9h0m2.1 0h0m-2.1-2.2h0m2.1 0h0m-2.1-2.3h0m2.1 0h0m-2.1-2.3h0m2.1 0h0m-2.1-2.2h0m2.1 0h0m-2.1-2.2h0m2.1 0h0m-2.1-2.3h0m2.1 0h0m1.2-2.7h0m-3.3-3.1h0m2.1 0h0m-2-62.2h0m1.8-.2h0m-.5-3.2h0m-1.6-4.5h0m2.3 0h0m2 89.4h0m2.1 0h0m-2.1-2.2h0m2.1 0h0m-2.1-2.3h0m2.1 0h0m-2.1-6.7h0m2.1 0h0m-2.1-2.3h0m2.1 0h0m.6-2.7h0m-2.7-3.1h0m2.1 0h0m-1.9-62.5h0m2.2-.2h0m-.7-3.1h0m-2-4.3h0m4.6 89.4h0m2.1 0h0m-2.1-2.2h0m2.1 0h0m-2.1-2.3h0m2.1 0h0m-2.1-2.3h0m2.1 0h0m-2.1-2.2h0m2.1 0h0m-2.1-2.2h0m2.1 0h0m-2.1-2.3h0m2.1 0h0m-1.6-2.7h0m-.5-3.1h0m2.1 0h0m-2-62.4h0m1.1-3.9h0m-1.1-3.8h0m4.3 89.4h0m2.1 0h0m-2.1-2.2h0m2.1 0h0m-2.1-2.3h0m2.1 0h0m-2.1-2.3h0m2.1 0h0m-2.1-2.2h0m2.1 0h0m-2.1-2.2h0m2.1 0h0m-2.1-2.3h0m2.1 0h0m-2.1-5.8h0m2.1 0h0m-1.9-62.3h0m2-.4h0m2-3h0m-4.3-4.4h0m4.3 89.4h0m2.1 0h0m-2.1-2.2h0m2.1 0h0m-2.1-2.3h0m2.1 0h0m-2.1-6.7h0m2.1 0h0m-2.1-2.3h0m2.1 0h0m-2.1-5.8h0m2.1 0h0m-1.9-62.4h0m2.2-.5h0m-1.5-3.4h0m-.9-3.8h0m4 89.4h0m2.1 0h0m-2.1-2.2h0m2.1 0h0m-2.1-2.3h0m2.1 0h0m-2.1-2.3h0m2.1 0h0m-2.1-2.2h0m2.1 0h0m-2.1-2.2h0m2.1 0h0m-2.1-2.3h0m2.1 0h0m1.4-2.7h0m-3.5-3.1h0m2.1 0h0m-1.9-62.4h0m3.4-4h0m-3.8-3.7h0m2.3 0h0m2.2 89.4h0m2.1 0h0m-2.1-2.2h0m2.1 0h0m-2.1-2.3h0m2.1 0h0m-2.1-2.3h0m2.1 0h0m-2.1-2.2h0m2.1 0h0m-2.1-2.2h0m2.1 0h0m-2.1-2.3h0m2.1 0h0m-.3-2.7h0m-1.8-3.1h0m2.1 0h0m-1.9-61.7h0m1.9-1.2h0m.4-2.5h0m-2.4-4.7h0m4.1 89.4h0m2.1 0h0m-2.1-2.2h0m2.1 0h0m-2.1-2.3h0m2.1 0h0m-2.1-2.3h0m2.1 0h0m-2.1-2.2h0m2.1 0h0m-2.1-2.2h0m2.1 0h0m-2.1-2.3h0m2.1 0h0m1.1-2.7h0m-3.2-3.1h0m2.1 0h0m-2.2-61.7h0m2.6-4h0m-2.5-4.4h0m4.5 89.4h0m2.1 0h0m-2.1-2.2h0m2.1 0h0m-2.1-2.3h0m2.1 0h0m-2.1-2.3h0m2.1 0h0m-2.1-2.2h0m2.1 0h0m-2.1-2.2h0m2.1 0h0m-2.1-2.3h0m2.1 0h0m-2.1-5.8h0m2.1 0h0m-2.1-62.3h0m2.4-.2h0m1.2-3.8h0m-3.8-3.8h0m4.3 89.4h0m2.1 0h0m-2.1-2.2h0m2.1 0h0m-2.1-2.3h0m2.1 0h0m-2.1-2.3h0m2.1 0h0m-2.1-6.7h0m2.1 0h0m-1.2-2.7h0m-.9-3.1h0m2.1 0h0m-2.2-61.4h0m.1-8.7h0m4.4 89.4h0m2.2 0h0m-2.2-2.2h0m2.2 0h0m-2.2-2.3h0m2.2 0h0m-2.2-2.3h0m2.2 0h0m-2.2-2.2h0m2.2 0h0m-2.2-2.2h0m2.2 0h0m-2.2-2.3h0m2.2 0h0m-.3-2.7h0m-1.9-3.1h0m2.2 0h0m-2.3-62.2h0m2.2-.3h0m.7-3.5h0m-2.9-4.1h0m4.4 89.4h0m2.1 0h0m-2.1-2.2h0m2.1 0h0m-2.1-2.3h0m2.1 0h0m-2.1-6.7h0m2.1 0h0m-2.1-2.3h0m2.1 0h0m-2.1-5.8h0m2.1 0h0m-2-62.2h0m1.9 .3h0m-2.1-8.2h0m4.3 89.4h0m2.2 0h0m-2.2-2.2h0m2.2 0h0m-2.2-2.3h0m2.2 0h0m-2.2-2.3h0m2.2 0h0m-2.2-2.2h0m2.2 0h0m-2.2-2.2h0m2.2 0h0m-2.2-2.3h0m2.2 0h0m-.5-2.7h0m-1.7-3.1h0m2.2 0h0m-2.2-62.1h0m2-.8h0m-1.4-2.5h0m1.6-4.7h0m1.6 89.4h0m2.2 0h0m-2.2-2.2h0m2.2 0h0m-2.2-2.3h0m2.2 0h0m-2.2-2.3h0m2.2 0h0m-2.2-2.2h0m2.2 0h0m-2.2-2.2h0m2.2 0h0m-2.2-2.3h0m2.2 0h0m-1.1-2.7h0m-1.1-3.1h0m2.2 0h0m-2.2-62.2h0m2.2 .1h0m-2.3-8h0m4.8 89.4h0m2.1 0h0m-2.1-2.2h0m2.1 0h0m-2.1-2.3h0m2.1 0h0m-2.1-2.3h0m2.1 0h0m-2.1-2.2h0m2.1 0h0m-2.1-2.2h0m2.1 0h0m-2.1-2.3h0m2.1 0h0m1.5-2.7h0m-3.6-3.1h0m2.1 0h0m-1.9-62.4h0m2 .1h0m-1.3-3.7h0m-1.2-4.1h0m4.2 89.4h0m2.1 0h0m-2.1-2.2h0m2.1 0h0m-2.1-2.3h0m2.1 0h0m-2.1-2.3h0m2.1 0h0m-2.1-2.2h0m2.1 0h0m.7-7.2h0m-2.8-3.1h0m2.1 0h0m-2-61.9h0m2-.4h0m-2.4-7.8h0m4.9 89.4h0m2.1 0h0m-2.1-2.2h0m2.1 0h0m-2.1-2.3h0m2.1 0h0m-2.1-2.3h0m2.1 0h0m-2.1-2.2h0m2.1 0h0m-2.1-2.2h0m2.1 0h0m-2.1-2.3h0m2.1 0h0m-2.1-5.8h0m2.1 0h0m-2.2-61.6h0m2.3-.6h0m.9-3.3h0m-3.4-4.6h0m4.4 89.4h0m2.1 0h0m-2.1-2.2h0m2.1 0h0m-2.1-2.3h0m2.1 0h0m-2.1-2.3h0m2.1 0h0m-2.1-2.2h0m2.1 0h0m-2.1-2.2h0m2.1 0h0m-2.1-2.3h0m2.1 0h0m.9-2.7h0m-3-3.1h0m2.1 0h0m-2-62.2h0m1.8-.7h0m2-3.3h0m-3.6-3.9h0m4.1 89.4h0m2.1 0h0m-2.1-2.2h0m2.1 0h0m-2.1-2.3h0m2.1 0h0m-2.1-2.3h0m2.1 0h0m-2.1-2.2h0m2.1 0h0m-2.1-2.2h0m2.1 0h0m-2.1-2.3h0m2.1 0h0m1.2-2.7h0m-3.3-3.1h0m2.1 0h0m-2.2-61.5h0m2.2-.6h0m-1.1-3.4h0m3.3 84.8h0m2.1 0h0m-2.1-2.2h0m2.1 0h0m-2.1-2.3h0m2.1 0h0m-2.1-2.3h0m2.1 0h0m-2.1-2.2h0m2.1 0h0m-2.1-2.2h0m2.1 0h0m-2.1-2.3h0m2.1 0h0m-2-2.7h0m-.1-3.1h0m2.1 0h0m.2-66.4h0m-2.3-3.7h0m4.2 89.4h0m2.2 0h0m-2.2-2.2h0m2.2 0h0m-2.2-2.3h0m2.2 0h0m-2.2-2.3h0m2.2 0h0m-2.2-2.2h0m2.2 0h0m-2.2-2.2h0m2.2 0h0m-2.2-2.3h0m2.2 0h0m-.5-2.7h0m-1.7-3.1h0m2.2 0h0m-2.3-61.9h0m2.3-.9h0m1.4-2.9h0m-3.4-4.4h0m3.9 89.4h0m2.1 0h0m-2.1-2.2h0m2.1 0h0m-2.1-2.3h0m2.1 0h0m-2.1-6.7h0m2.1 0h0m-2.1-2.3h0m2.1 0h0m-2.1-5.8h0m2.1 0h0m-1.9-61.7h0m-.1-4.5h0m0-3.9h0m3.9 89.4h0m2.1 0h0m-2.1-2.2h0m2.1 0h0m-2.1-2.3h0m2.1 0h0m-2.1-2.3h0m2.1 0h0m-2.1-2.2h0m2.1 0h0m-2.1-2.2h0m2.1 0h0m-2.1-2.3h0m2.1 0h0m-.7-2.7h0m-1.4-3.1h0m2.1 0h0m-2.4-62.2h0m4.4-4h0m-4-3.9h0m4.3 89.4h0m2.1 0h0m-2.1-2.2h0m2.1 0h0m-2.1-2.3h0m2.1 0h0m-2.1-2.3h0m2.1 0h0m-2.1-2.2h0m2.1 0h0m-2.1-2.2h0m2.1 0h0m-2.1-2.3h0m2.1 0h0m-.6-2.7h0m-1.5-3.1h0m2.1 0h0m-2-61.7h0m3.8-3.9h0m-3.9-4.5h0m2.1 0h0m2.3 89.4h0m2.1 0h0m-2.1-2.2h0m2.1 0h0m-2.1-2.3h0m2.1 0h0m-2.1-2.3h0m2.1 0h0m-2.1-2.2h0m2.1 0h0m-2.1-2.2h0m2.1 0h0m-2.1-2.3h0m2.1 0h0m0-2.7h0m-2.1-3.1h0m2.1 0h0m-2.1-62.3h0m3.1-3.4h0m-3.4-4.4h0m4.5 89.4h0m2.1 0h0m-2.1-2.2h0m2.1 0h0m-2.1-2.3h0m2.1 0h0m-2.1-2.3h0m2.1 0h0m-2.1-2.2h0m2.1 0h0m-2.1-2.2h0m2.1 0h0m-2.1-2.3h0m2.1 0h0m-.5-2.7h0m-1.6-3.1h0m2.1 0h0m-1.8-61.9h0m2-.6h0m-.7-3.3h0m-1.6-4.3h0m4.3 89.4h0m2.1 0h0m-2.1-2.2h0m2.1 0h0m-2.1-2.3h0m2.1 0h0m-2.1-2.3h0m2.1 0h0m-2.1-2.2h0m2.1 0h0m-2.1-2.2h0m2.1 0h0m-2.1-2.3h0m2.1 0h0m.6-2.7h0m-2.7-3.1h0m2.1 0h0m-2-62.3h0m2-7.8h0m1.9 89.4h0m2.1 0h0m-2.1-2.2h0m2.1 0h0m-2.1-2.3h0m2.1 0h0m-2.1-2.3h0m2.1 0h0m-2.1-2.2h0m2.1 0h0m-2.1-2.2h0m2.1 0h0m-2.1-2.3h0m2.1 0h0m-2.1-5.8h0m2.1 0h0m-2.2-62.2h0m3.9-3.9h0m-3.8-4h0m4.3 89.4h0m2.2 0h0m-2.2-2.2h0m2.2 0h0m-2.2-2.3h0m2.2 0h0m-2.2-2.3h0m2.2 0h0m-2.2-6.7h0m2.2 0h0m-2.2-5.8h0m2.2 0h0m-2.2-61.4h0m2.2-1.4h0m-.5-3.3h0m.5-4h0m2 89.4h0m2.1 0h0m-2.1-2.2h0m2.1 0h0m-2.1-2.3h0m2.1 0h0m-2.1-2.3h0m2.1 0h0m-2.1-2.2h0m2.1 0h0m.3-7.2h0m-2.4-3.1h0m2.1 0h0m-2.1-61.4h0m2.1-.6h0m-1-4.4h0m-1.3-3.7h0m4.5 89.4h0m2.1 0h0m-2.1-2.2h0m2.1 0h0m-2.1-2.3h0m2.1 0h0m-2.1-2.3h0m2.1 0h0m-2.1-2.2h0m2.1 0h0m-2.1-2.2h0m2.1 0h0m-2.1-2.3h0m2.1 0h0m-1.6-2.7h0m-.5-3.1h0m2.1 0h0m-2-61.8h0m2.1-1h0m-2-2.7h0m-.3-4.6h0m2.2 0h0m2.2 89.4h0m2.1 0h0m-2.1-2.2h0m2.1 0h0m-2.1-2.3h0m2.1 0h0m-2.1-2.3h0m2.1 0h0m-2.1-2.2h0m2.1 0h0m-2.1-2.2h0m2.1 0h0m-2.1-2.3h0m2.1 0h0m-2.1-5.8h0m2.1 0h0m0-62.6h0m.6-3.8h0m-2.8-3.7h0m4.3 89.4h0m2.1 0h0m-2.1-2.2h0m2.1 0h0m-2.1-2.3h0m2.1 0h0m-2.1-2.3h0m2.1 0h0m-2.1-2.2h0m2.1 0h0m-2.1-2.2h0m2.1 0h0m-2.1-2.3h0m2.1 0h0m-.1-2.7h0m-2-3.1h0m2.1 0h0m-2.1-61.6h0m2.1-1h0m-.9-3.4h0m-1-4.1h0m4.2 89.4h0m2.1 0h0m-2.1-2.2h0m2.1 0h0m-2.1-2.3h0m2.1 0h0m-2.1-2.3h0m2.1 0h0m-2.1-2.2h0m2.1 0h0m-2.1-2.2h0m2.1 0h0m-2.1-2.3h0m2.1 0h0m.1-2.7h0m-2.2-3.1h0m2.1 0h0m-.1-63h0m.2-3h0m-.1-4.1h0m2.1 89.4h0m2.2 0h0m-2.2-2.2h0m2.2 0h0m-2.2-2.3h0m2.2 0h0m-2.2-2.3h0m2.2 0h0m-2.2-2.2h0m2.2 0h0m-2.2-2.2h0m2.2 0h0m-2.2-2.3h0m2.2 0h0m-2.2-5.8h0m2.2 0h0m-2.4-61.5h0m2.2-.9h0m-1.8-7.7h0m2 0h0m2.1 89.4h0m2.2 0h0m-2.2-2.2h0m2.2 0h0m-2.2-2.3h0m2.2 0h0m-2.2-2.3h0m2.2 0h0m-2.2-2.2h0m2.2 0h0m-2.2-2.2h0m2.2 0h0m-2.2-2.3h0m2.2 0h0m1.3-2.7h0m-3.5-3.1h0m2.2 0h0m-2.4-62.2h0m2.2-.9h0m2.4 82.4h0m2.1 0h0m-2.1-2.2h0m2.1 0h0m-2.1-2.3h0m2.1 0h0m-2.1-2.3h0m2.1 0h0m-2.1-2.2h0m2.1 0h0m-2.1-2.2h0m2.1 0h0m-2.1-2.3h0m2.1 0h0m-1.2-2.7h0m-.9-3.1h0m2.1 0h0m-2-61.6h0m1.6-4.2h0m-1.5-4.3h0m1.9 0h0m2 89.4h0m2.1 0h0m-2.1-2.2h0m2.1 0h0m-2.1-2.3h0m2.1 0h0m-2.1-2.3h0m2.1 0h0m-2.1-2.2h0m2.1 0h0m-2.1-2.2h0m2.1 0h0m-2.1-2.3h0m2.1 0h0m-2.1-5.8h0m2.1 0h0m-2-62h0m3.2-4.2h0m-3.4-3.9h0m4.5 89.4h0m2.1 0h0m-2.1-2.2h0m2.1 0h0m-2.1-2.3h0m2.1 0h0m-2.1-2.3h0m2.1 0h0m-2.1-2.2h0m2.1 0h0m-2.1-2.2h0m2.1 0h0m-2.1-2.3h0m2.1 0h0m1-2.7h0m-3.1-3.1h0m2.1 0h0m-2.3-62h0m2.4-.4h0m1.6-3.9h0m-3.7-3.8h0m2 0h0m2.2 89.4h0m2.1 0h0m-2.1-2.2h0m2.1 0h0m-2.1-2.3h0m2.1 0h0m-2.1-2.3h0m2.1 0h0m-2.1-2.2h0m2.1 0h0m-2.1-2.2h0m2.1 0h0m-2.1-2.3h0m2.1 0h0m1.3-2.7h0m-3.4-3.1h0m2.1 0h0m-2.1-61.4h0m2.2-1.6h0m-2.2-7.1h0m4.1 89.4h0m2.1 0h0m-2.1-2.2h0m2.1 0h0m-2.1-2.3h0m2.1 0h0m-2.1-2.3h0m2.1 0h0m-2.1-2.2h0m2.1 0h0m-2.1-2.2h0m2.1 0h0m-2.1-2.3h0m2.1 0h0m-1-2.7h0m-1.1-3.1h0m2.1 0h0m-2.1-61.8h0m.1-4.1h0m.2-4.2h0m3.8 89.4h0m2.2 0h0m-2.2-2.2h0m2.2 0h0m-2.2-2.3h0m2.2 0h0m-2.2-2.3h0m2.2 0h0m-2.2-6.7h0m2.2 0h0m-.2-2.7h0m-2-3.1h0m2.2 0h0m-2.1-62.3h0m1-3.2h0m-1.2-4.6h0m4.2 89.4h0m2.2 0h0m-2.2-2.2h0m2.2 0h0m-2.2-2.3h0m2.2 0h0m-2.2-2.3h0m2.2 0h0m-2.2-2.2h0m2.2 0h0m-2.2-2.2h0m2.2 0h0m-2.2-2.3h0m2.2 0h0m-2.2-5.8h0m2.2 0h0m-1.9-61.4h0m2.1-1h0m-2.4-7.7h0m2.2 0h0m2.2 89.4h0m2.1 0h0m-2.1-2.2h0m2.1 0h0m-2.1-2.3h0m2.1 0h0m-2.1-2.3h0m2.1 0h0m-2.1-2.2h0m2.1 0h0m-2.1-2.2h0m2.1 0h0m-2.1-2.3h0m2.1 0h0m-2.1-5.8h0m2.1 0h0m-2.1-62h0m3.2-3.5h0m-3.1-4.6h0m4.1 89.4h0m2.1 0h0m-2.1-2.2h0m2.1 0h0m-2.1-2.3h0m2.1 0h0m-2.1-2.3h0m2.1 0h0m-2.1-2.2h0m2.1 0h0m-2.1-2.2h0m2.1 0h0m-2.1-2.3h0m2.1 0h0m-1.7-2.7h0m-.4-3.1h0m2.1 0h0m-2.3-61.7h0m2.6-.8h0m-2.4-3.8h0m-.1-3.8h0m2.2 0h0m2.3 89.4h0m2.2 0h0m-2.2-2.2h0m2.2 0h0m-2.2-2.3h0m2.2 0h0m-2.2-2.3h0m2.2 0h0m-2.2-2.2h0m2.2 0h0m-2.2-2.2h0m2.2 0h0m-2.2-2.3h0m2.2 0h0m-2.2-5.8h0m2.2 0h0m-.9-65.9h0m-1.3-4.2h0m4.1 89.4h0m2.2 0h0m-2.2-2.2h0m2.2 0h0m-2.2-2.3h0m2.2 0h0m-2.2-2.3h0m2.2 0h0m-2.2-2.2h0m2.2 0h0m-2.2-2.2h0m2.2 0h0m-2.2-2.3h0m2.2 0h0m-2.2-5.8h0m2.2 0h0m0-62.2h0m-2.1-7.9h0m4.5 89.4h0m2.1 0h0m-2.1-2.2h0m2.1 0h0m-2.1-2.3h0m2.1 0h0m-2.1-2.3h0m2.1 0h0m-2.1-2.2h0m2.1 0h0m-2.1-2.2h0m2.1 0h0m-2.1-2.3h0m2.1 0h0m-.2-2.7h0m-1.9-3.1h0m2.1 0h0m-2.1-61.6h0m2.1-4.2h0m-2.3-4.3h0m2.3 0h0m1.9 89.4h0m2.1 0h0m-2.1-2.2h0m2.1 0h0m-2.1-2.3h0m2.1 0h0m-2.1-2.3h0m2.1 0h0m-2.1-2.2h0m2.1 0h0m-2.1-2.2h0m2.1 0h0m-2.1-2.3h0m2.1 0h0m1.9-2.7h0m-4-3.1h0m2.1 0h0m-2-62.4h0m2.3-.6h0m.3-2.6h0m-2.7-4.5h0m4.1 89.4h0m2.2 0h0m-2.2-2.2h0m2.2 0h0m-2.2-2.3h0m2.2 0h0m-2.2-2.3h0m2.2 0h0m-2.2-2.2h0m2.2 0h0m-2.2-2.2h0m2.2 0h0m-2.2-2.3h0m2.2 0h0m-2.2-5.8h0m2.2 0h0m-2-61.9h0m.6-3.7h0m-.6-4.5h0m4.4 89.4h0m2.1 0h0m-2.1-2.2h0m2.1 0h0m-2.1-2.3h0m2.1 0h0m-2.1-2.3h0m2.1 0h0m-2.1-2.2h0m2.1 0h0m-2.1-2.2h0m2.1 0h0m-2.1-2.3h0m2.1 0h0m-2.1-5.8h0m2.1 0h0m-1.9-62.1h0m2-.7h0m.7-3.5h0m-2.8-3.8h0m2 0h0m1.9 89.4h0m2.1 0h0m-2.1-2.2h0m2.1 0h0m-2.1-2.3h0m2.1 0h0m-2.1-2.3h0m2.1 0h0m-2.1-2.2h0m2.1 0h0m-2.1-2.2h0m2.1 0h0m-2.1-2.3h0m2.1 0h0m.4-2.7h0m-2.5-3.1h0m2.1 0h0m-2.1-61.5h0m2.3-.5h0m-2.3-3.8h0m.2-4.3h0m1.9 0h0m2.4 89.4h0m2.1 0h0m-2.1-2.2h0m2.1 0h0m-2.1-2.3h0m2.1 0h0m-2.1-2.3h0m2.1 0h0m-2.1-2.2h0m2.1 0h0m-2.1-2.2h0m2.1 0h0m-2.1-2.3h0m2.1 0h0m-2.1-5.8h0m2.1 0h0m-1.8-61.9h0m1.6-.5h0m-.7-3.2h0m-1.2-4.5h0m4 89.4h0m2.2 0h0m-2.2-2.2h0m2.2 0h0m-2.2-2.3h0m2.2 0h0m-2.2-2.3h0m2.2 0h0m-2.2-2.2h0m2.2 0h0m-2.2-2.2h0m2.2 0h0m-2.2-2.3h0m2.2 0h0m-2.2-5.8h0m2.2 0h0m-2.2-62.5h0m2.1-.2h0m-1.7-2.7h0m-.2-4.7h0m4.1 89.4h0m2.1 0h0m-2.1-2.2h0m2.1 0h0m-2.1-2.3h0m2.1 0h0m-2.1-2.3h0m2.1 0h0m-2.1-2.2h0m2.1 0h0m-2.1-2.2h0m2.1 0h0m-2.1-2.3h0m2.1 0h0m1.5-2.7h0m-3.6-3.1h0m2.1 0h0m0-62.1h0m-1.3-3.7h0m-1-4.3h0m4.5 89.4h0m2.1 0h0m-2.1-2.2h0m2.1 0h0m-2.1-2.3h0m2.1 0h0m-2.1-2.3h0m2.1 0h0m-2.1-2.2h0m2.1 0h0m-2.1-2.2h0m2.1 0h0m-2.1-2.3h0m2.1 0h0m-1.9-2.7h0m-.2-3.1h0m2.1 0h0m-1.9-61.5h0m1.7-.5h0m-1.4-4h0m3.8 85.3h0m2.2 0h0m-2.2-2.2h0m2.2 0h0m-2.2-2.3h0m2.2 0h0m-2.2-2.3h0m2.2 0h0m-2.2-2.2h0m2.2 0h0m-2.2-2.2h0m2.2 0h0m-2.2-2.3h0m2.2 0h0m-.9-2.7h0m-1.3-3.1h0m2.2 0h0m-2.1-61.8h0m2.2-.6h0m-.8-3.3h0m-1.2-4.4h0m1.9 0h0m2.2 89.4h0m2.1 0h0m-2.1-2.2h0m2.1 0h0m-2.1-2.3h0m2.1 0h0m-2.1-2.3h0m2.1 0h0m-2.1-2.2h0m2.1 0h0m-2.1-2.2h0m2.1 0h0m-2.1-2.3h0m2.1 0h0m.2-2.7h0m-2.3-3.1h0m2.1 0h0m-2.1-61.5h0m3.8-4.1h0m-3.7-4.5h0m2 0h0m2.1 89.4h0m2.1 0h0m-2.1-2.2h0m2.1 0h0m-2.1-2.3h0m2.1 0h0m-2.1-2.3h0m2.1 0h0m-2.1-2.2h0m2.1 0h0m-2.1-2.2h0m2.1 0h0m-2.1-2.3h0m2.1 0h0m1.1-2.7h0m-3.2-3.1h0m2.1 0h0m-1.9-61.9h0m2.2-3.5h0m1.9 84.7h0m2.1 0h0m-2.1-2.2h0m2.1 0h0m-2.1-2.3h0m2.1 0h0m-2.1-2.3h0m2.1 0h0m-2.1-2.2h0m2.1 0h0m-2.1-2.2h0m2.1 0h0m-2.1-2.3h0m2.1 0h0m-2.1-5.8h0m2.1 0h0m-2.2-61.8h0m2.2-.7h0m-1.3-3.6h0m-.9-4h0m4.3 89.4h0m2.1 0h0m-2.1-2.2h0m2.1 0h0m-2.1-2.3h0m2.1 0h0m-2.1-2.3h0m2.1 0h0m-2.1-2.2h0m2.1 0h0m-2.1-2.2h0m2.1 0h0m-2.1-2.3h0m2.1 0h0m.1-2.7h0m-2.2-3.1h0m2.1 0h0m-2-61.3h0m1.8-.6h0m-2.2-8.2h0m2.4 0h0m2.2 89.4h0m2.1 0h0m-2.1-2.2h0m2.1 0h0m-2.1-2.3h0m2.1 0h0m-2.1-2.3h0m2.1 0h0m-2.1-2.2h0m2.1 0h0m-2.1-2.2h0m2.1 0h0m-2.1-2.3h0m2.1 0h0m-1.2-2.7h0m-.9-3.1h0m2.1 0h0m-2-62h0m2.2-.8h0m-1.1-3.1h0m-1.4-4.2h0m4 89.4h0m2.1 0h0m-2.1-2.2h0m2.1 0h0m-2.1-2.3h0m2.1 0h0m-2.1-2.3h0m2.1 0h0m-2.1-2.2h0m2.1 0h0m-2.1-2.2h0m2.1 0h0m-2.1-2.3h0m2.1 0h0m.9-2.7h0m-3-3.1h0m2.1 0h0m-2.2-61.8h0m2.2-8.3h0m2.5 89.4h0m2.2 0h0m-2.2-2.2h0m2.2 0h0m-2.2-2.3h0m2.2 0h0m-2.2-2.3h0m2.2 0h0m-2.2-2.2h0m2.2 0h0m-2.2-2.2h0m2.2 0h0m-2.2-2.3h0m2.2 0h0m-2.2-5.8h0m2.2 0h0m-2-61.8h0m2.1-.5h0m-2.2-3.2h0m.2-4.6h0m4 89.4h0m2.1 0h0m-2.1-2.2h0m2.1 0h0m-2.1-2.3h0m2.1 0h0m-2.1-2.3h0m2.1 0h0m-2.1-2.2h0m2.1 0h0m-2.1-2.2h0m2.1 0h0m-2.1-2.3h0m2.1 0h0m-1.9-2.7h0m-.2-3.1h0m2.1 0h0m-1.9-70.1h0m3.9 89.4h0m2.2 0h0m-2.2-2.2h0m2.2 0h0m-2.2-2.3h0m2.2 0h0m-2.2-2.3h0m2.2 0h0m-2.2-2.2h0m2.2 0h0m-2.2-2.2h0m2.2 0h0m-2.2-2.3h0m2.2 0h0m-1.9-2.7h0m-.3-3.1h0m2.2 0h0m-2.4-62.3h0m2.2-.6h0m-.3-3h0m-1.7-4.2h0m4.3 89.4h0m2.1 0h0m-2.1-2.2h0m2.1 0h0m-2.1-2.3h0m2.1 0h0m-2.1-2.3h0m2.1 0h0m-2.1-2.2h0m2.1 0h0m-2.1-2.2h0m2.1 0h0m-2.1-2.3h0m2.1 0h0m-.1-2.7h0m-2-3.1h0m2.1 0h0m-2.2-62.4h0m2.1 .5h0m-.6-3.6h0m-1.4-4.6h0m4 89.4h0m2.1 0h0m-2.1-2.2h0m2.1 0h0m-2.1-2.3h0m2.1 0h0m-2.1-2.3h0m2.1 0h0m-2.1-2.2h0m2.1 0h0m-2.1-2.2h0m2.1 0h0m-2.1-2.3h0m2.1 0h0m-2.1-2.7h0m0-3.1h0m2.1 0h0m-2-61.5h0m1.9-1.1h0m2.1-2.9h0m-4.3-4.6h0m4.5 89.4h0m2.2 0h0m-2.2-2.2h0m2.2 0h0m-2.2-2.3h0m2.2 0h0m-2.2-2.3h0m2.2 0h0m-2.2-2.2h0m2.2 0h0m-2.2-2.2h0m2.2 0h0m-2.2-2.3h0m2.2 0h0m.3-2.7h0m-2.5-3.1h0m2.2 0h0m-.2-62.7h0m.3-3.1h0m-.1-4.3h0m2 89.4h0m2.1 0h0m-2.1-2.2h0m2.1 0h0m-2.1-2.3h0m2.1 0h0m-2.1-2.3h0m2.1 0h0m-2.1-2.2h0m2.1 0h0m-2.1-2.2h0m2.1 0h0m-2.1-2.3h0m2.1 0h0m1.7-2.7h0m-3.8-3.1h0m2.1 0h0m-2.2-62h0m2.2-4.2h0m-2-3.9h0m2 0h0m2.4 89.4h0m2.1 0h0m-2.1-2.2h0m2.1 0h0m-2.1-2.3h0m2.1 0h0m-2.1-2.3h0m2.1 0h0m-2.1-2.2h0m2.1 0h0m-2.1-2.2h0m2.1 0h0m-2.1-2.3h0m2.1 0h0m1.8-2.7h0m-3.9-3.1h0m2.1 0h0m-2-62h0m2.1-.8h0m-.4-3.4h0m-1.7-3.9h0m3.9 89.4h0m2.1 0h0m-2.1-2.2h0m2.1 0h0m-2.1-2.3h0m2.1 0h0m-2.1-6.7h0m2.1 0h0m-2.1-2.3h0m2.1 0h0m-1.6-2.7h0m-.5-3.1h0m2.1 0h0m-2.1-62h0m3.8-4h0m-3.6-4.1h0m4.3 89.4h0m2.2 0h0m-2.2-2.2h0m2.2 0h0m-2.2-2.3h0m2.2 0h0m-2.2-2.3h0m2.2 0h0m-2.2-2.2h0m2.2 0h0m-2.2-2.2h0m2.2 0h0m-2.2-2.3h0m2.2 0h0m1.1-2.7h0m-3.3-3.1h0m2.2 0h0m-2.1-61.4h0m1.8-1.3h0m-.9-3.1h0m-1.2-4.3h0m4.6 89.4h0m2.1 0h0m-2.1-2.2h0m2.1 0h0m-2.1-2.3h0m2.1 0h0m-2.1-2.3h0m2.1 0h0m-2.1-2.2h0m2.1 0h0m-2.1-2.2h0m2.1 0h0m-2.1-2.3h0m2.1 0h0m.6-2.7h0m-2.7-3.1h0m2.1 0h0m-2.2-62.3h0m1-3.8h0m-.7-4h0m4 89.4h0m2.1 0h0m-2.1-2.2h0m2.1 0h0m-2.1-2.3h0m2.1 0h0m-2.1-2.3h0m2.1 0h0m-2.1-2.2h0m2.1 0h0m-2.1-2.2h0m2.1 0h0m-2.1-2.3h0m2.1 0h0m1.1-2.7h0m-3.2-3.1h0m2.1 0h0m-2.1-62.2h0m-.1-7.9h0m4.4 89.4h0m2.1 0h0m-2.1-2.2h0m2.1 0h0m-2.1-2.3h0m2.1 0h0m-2.1-2.3h0m2.1 0h0m-2.1-2.2h0m2.1 0h0m-2.1-2.2h0m2.1 0h0m-2.1-2.3h0m2.1 0h0m.5-2.7h0m-2.6-3.1h0m2.1 0h0m-2-61.8h0m2.2-.6h0m-2.6-7.7h0m4.1 89.4h0m.3 0h0m-.3-2.2h0m.3 0h0m-.3-2.3h0m.3 0h0m-.3-2.3h0m.3 0h0m-.3-2.2h0m.3 0h0m-.3-2.2h0m.3 0h0m-.3-2.3h0m.3 0h0m0-2.7h0m-.3-3.1h0m.3 0h0m-.5-61.4h0m.5-5.1h0m-.4-3.6h0m.4 0h0"/>
<path class="d" style="stroke-width:3.9" d="M1202.7 798h0m.1 3h0m-.4 2.7h0m.4 2.6h0m-.2 11.3h0m-.1 2.8h0m.2 2.8h0m-.1 9.1h0m-.2 5.7h0m.1 2.9h0m-.2 2.7h0m0 2.7h0m-.1 2.7h0m3.8 4.2h0m.9-55.2h0m0 2.6h0m-.2 2.7h0m-.1 2.7h0m.2 2.8h0m2.2-10.8h0m.1 2.4h0m-.2 2.6h0m-2.1 14h0m-.2 2.4h0m.5 2.6h0m.1 2.5h0m1.7-7.7h0m-.3 2.7h0m0 3h0m-1 6.4h0m-.6 10.7h0m.1 2.7h0m-.5 2.7h0m.1 2.9h0m1.2 5.3h0m2.9-55.2h0m-.2 2.6h0m.5 2.8h0m.1 2.9h0m0 2.9h0m2.8 3.6h0m-3.4 4.1h0m-.3 2.5h0m.6 2.7h0m-.1 17.9h0m.2 2.9h0m-.2 2.9h0m.1 2.4h0m2.4-3.2h0m-.1 2.6h0m-.4 2.6h0m2.7-52.2h0m-.1 2.7h0m-.2 2.6h0m-.2 2.9h0m.5 2.9h0m2.9 3.6h0m-3 4.5h0m.3 2.8h0m0 2.9h0m0 2.4h0m1.9-8.5h0m.2 3h0m-2.7 19.9h0m.2 2.5h0m.1 2.4h0m-.5 2.8h0m4.5-49.4h0m.2 2.9h0m-.3 2.8h0m0 2.9h0m.6 11.2h0m-.3 3h0m.7 2.7h0m.1 2.4h0m1.3-8.2h0m-.4 2.5h0m-1.3 20.3h0m-.2 2.7h0m0 2.7h0m0 2.6h0m2-3.6h0m-.2 2.7h0m.2 2.6h0m1.6-52.2h0m.5 3h0m0 2.5h0m-.4 2.6h0m.5 2.5h0m2.4 4.3h0m-2.3 3h0m-.4 2.7h0m-.4 2.9h0m.1 2.9h0m.9 14.3h0m-.5 2.5h0m.1 2.6h0m.5 3h0m-.6 2.5h0m.7 3.9h0m3.5-55.2h0m.2 2.5h0m-.2 2.9h0m.4 2.6h0m1.6-8h0m-.2 2.7h0m.8 12h0m-2.4 4.4h0m-.3 3h0m-.3 2.6h0m2.5-4.4h0m-.1 2.6h0m-1.8 19.3h0m-.3 2.4h0m-.1 2.8h0m.1 2.5h0m.3 2.7h0m-.1 2.6h0m4.7-55.2h0m.1 2.7h0m-.7 2.9h0m.1 3h0m0 2.8h0m.1 6.9h0m-.1 2.9h0m-.1 2.7h0m-.5 2.9h0m3.3-7.3h0m-.2 3h0m-2 17.9h0m0 2.9h0m-.5 2.7h0m.5 2.4h0m2.5 6.8h0m1.4-55.2h0m-.3 3h0m.4 2.5h0m-.1 2.5h0m2.4-8h0m-.2 2.9h0m.2 2.7h0m-2.7 14.1h0m.1 2.9h0m.5 2.4h0m1.8-5.6h0m-2.1 21.5h0m0 2.8h0m0 2.9h0m-.1 2.4h0m0 2.6h0m3 3.6h0m1.5-55.2h0m-.6 2.6h0m.4 3h0m-.4 2.9h0m2.8-8.5h0m-.3 2.5h0m-2.1 12.3h0m.7 4.1h0m-.5 2.5h0m.3 2.6h0m.4 2.9h0m-.9 15.7h0m-.2 2.8h0m.3 2.7h0m-.7 2.6h0m2.9-6.1h0m-.5 2.6h0m.1 2.8h0m0 2.7h0m2-52.7h0m.2 2.4h0m-.2 2.8h0m0 2.9h0m.3 2.8h0m2.4-10.9h0m-.5 2.7h0m0 2.7h0m-1.1 9.7h0m-.9 3.9h0m.7 2.8h0m-.2 2.6h0m-.1 2.5h0m1.8-8.1h0m-.3 2.7h0m-1.7 18.7h0m-.1 3h0m-.2 2.8h0m.1 2.7h0m4.3-48.7h0m0 2.4h0m.3 2.8h0m-.4 2.6h0m2.2-7.8h0m.4 2.9h0m-.8 11.9h0m-1.4 3.1h0m0 2.5h0m-.3 2.5h0m-.2 2.8h0m2.3-6.4h0m.2 2.9h0m-2.2 17.7h0m.5 2.5h0m-.4 2.9h0m.2 3h0m-.2 2.7h0m2-6.8h0m.2 2.6h0m-.2 2.4h0m.2 2.8h0m1.7 3.2h0m.4-55.2h0m.1 2.9h0m-.1 2.4h0m-.3 2.7h0m.5 2.5h0m1.5-10.5h0m0 2.7h0m-1.7 12.1h0m.2 3.4h0m.1 2.5h0m-.3 2.8h0m1.8 7.2h0m-1.9 10.5h0m-.1 2.7h0m-.3 2.9h0m.4 2.6h0m0 2.7h0m4.4-52.1h0m-.3 2.5h0m-.2 2.5h0m.4 2.9h0m2.3-7.9h0m-.3 2.7h0m-.1 2.8h0m-1.8 12.6h0m-.5 2.6h0m-.1 2.7h0m.1 2.7h0m2.3-8.5h0m0 3h0m.3 2.4h0m-2 8h0m0 2.5h0m-.4 3h0m-.2 5.9h0m0 2.8h0m.1 2.7h0m.1 2.4h0m2.4-5.6h0m.2 2.7h0m-.3 2.9h0m-.2 4.9h0m2.1-55.2h0m.1 2.5h0m.2 2.7h0m-.5 2.8h0m.5 2.8h0m2.1-10.8h0m-.3 2.6h0m-1.5 16.9h0m-.4 3h0m-.3 2.4h0m.4 2.6h0m-.2 15.2h0m.1 2.8h0m-.2 2.8h0m-.2 2.6h0m2.1-5.3h0m.3 2.8h0m-.3 2.5h0m-.8 4.3h0m3.4-55.2h0m-.3 2.5h0m.7 3h0m-.6 2.4h0m.3 2.6h0m2-10.5h0m.3 2.8h0m-2.4 15.4h0m.7 2.5h0m.2 2.7h0m.3 2.4h0m.3 3h0m.5-8.3h0m-1.7 21.7h0m0 2.7h0m-.3 2.5h0m-.2 2.7h0m3.7 5.1h0m.5-55.2h0m-.2 3h0m.4 2.6h0m3.2 8.3h0m-3.4 3.4h0m.3 2.6h0m-.6 2.7h0m.5 2.8h0m-.7 2.4h0m0 13.8h0m.5 3h0m-.6 2.5h0m.6 2.5h0m-.4 2.8h0m2.3 2.8h0m2.8-55.2h0m-.1 2.8h0m.1 2.6h0m-.3 2.8h0m0 2.7h0m2.6-10.9h0m-.7 2.7h0m-.4 12.4h0m-1 2.5h0m.1 2.4h0m-.2 2.4h0m-.2 2.9h0m0 5.7h0m-.3 2.7h0m.1 2.6h0m-.1 6.2h0m-.3 2.6h0m.6 2.8h0m-.6 2.9h0m2.8-4.7h0m-.1 2.5h0m.2 2.5h0m-1.9 4.1h0m4.1-55.2h0m-.4 2.5h0m.2 2.5h0m-.1 2.8h0m.2 2.6h0m2-10.4h0m.2 2.9h0m1.8 11.7h0m-4.1 2.9h0m.1 2.4h0m.8 3h0m0 2.8h0m1.5-6.1h0m-2.5 11.4h0m-.2 2.7h0m.5 2.5h0m-.6 6.3h0m-.2 2.9h0m.1 2.5h0m-.1 2.7h0m4.2 4.6h0m.3-55.2h0m.2 2.7h0m-.1 2.6h0m-.3 2.7h0m2.2-8h0m-.2 2.9h0m-2 16.5h0m-.5 2.7h0m.1 2.7h0m-.5 2.5h0m3-7.4h0m.4 2.6h0m.6 9.7h0m-2.8 8.1h0m-.3 2.7h0m.3 2.7h0m.3 2.5h0m-.6 2.8h0m3.8 4.2h0m.4-55.2h0m-.2 2.5h0m.3 2.7h0m.1 3h0m2.3-8.2h0m-.2 2.7h0m-.1 2.9h0m.1 2.6h0m-.3 12.2h0m-.8 12.4h0m-.9 9.3h0m.2 2.7h0m0 2.9h0m-.1 2.6h0m2.2-3.5h0m-.3 2.5h0m-.1 2.7h0m2.1 3.2h0m-.2-55.2h0m.3 2.6h0m.2 2.9h0m-.2 2.4h0m-.2 3h0m2-10.9h0m.3 2.7h0m1.5 11.2h0m-4.2 4.6h0m-.2 2.8h0m-.3 2.5h0m-.4 2.5h0m1.7 4.7h0m-.2 2.7h0m0 2.5h0m0 4.9h0m-.1 2.6h0m0 2.6h0m.2 2.8h0m3.8 6.1h0m.6-55.2h0m.1 2.9h0m-.4 2.6h0m.4 2.7h0m1.7-8.2h0m.4 2.7h0m-2.6 15.7h0m0 2.5h0m.3 2.8h0m1.5 10.2h0m-1.3 7.9h0m-.3 2.9h0m.1 2.4h0m-.2 2.9h0m.6 2.5h0m3.8-52.5h0m.2 2.9h0m-.3 2.7h0m.4 2.9h0m2-8.5h0m-.3 2.6h0m.3 2.7h0m-2 12.2h0m-.2 3h0m-.5 2.4h0m-.6 2.6h0m0 3h0m1.4 2.5h0m.2 2.8h0m-.6 2.5h0m.4 4.8h0m-.3 2.5h0m.3 2.5h0m-.4 2.6h0m.3 2.9h0m2.3-5.6h0m-.4 2.8h0m.4 2.6h0m-1.9 3.8h0m3.7-55.2h0m.1 2.9h0m.2 2.7h0m-.2 2.7h0m1.8-8.3h0m.5 2.6h0m-.5 2.4h0m2.3 10h0m-4.1 2.9h0m.1 2.4h0m-.3 2.9h0m0 2.8h0m.3 2.9h0m2.3-8.6h0m-.1 2.7h0m-.4 2.8h0m1.5 8.8h0m-3.2 7.4h0m-.3 2.8h0m0 2.4h0m.2 2.8h0m.3 2.4h0m2-6h0m-.5 2.6h0m.2 2.7h0m-1.6 3.5h0m3.2-55.2h0m.5 2.8h0m-.4 2.9h0m.1 2.5h0m4 6.5h0m-3.9 4.1h0m-.4 2.8h0m.3 2.7h0m.1 2.5h0m-.3 4.2h0m.3 2.9h0m-.1 2.4h0m.1 4.4h0m-.2 2.7h0m.3 2.6h0m-.3 2.9h0m.1 2.7h0m4.5-51.6h0m-.5 2.9h0m.3 3h0m-.2 2.9h0m2.4-8.8h0m.2 2.6h0m-.3 2.8h0m2 9.6h0m-3.4 4.2h0m-.5 2.9h0m0 3h0m0 5.6h0m-.2 10.5h0m-.3 2.7h0m.3 3h0m-.3 2.8h0m0 2.4h0m2.7-5.9h0m-.3 2.9h0m.2 2.7h0m2.1-51.8h0m-.5 2.9h0m.1 3h0m.5 2.7h0m1.6-8.6h0m.5 2.7h0m-.6 17.1h0m.6 2.9h0m-2.5 19.2h0m-.1 2.8h0m-.1 2.9h0m-.2 2.9h0m5.1-50.5h0m.1 2.6h0m-.7 2.7h0m.1 2.9h0m.4 2.4h0m1.9-10.6h0m-.2 2.6h0m.1 2.6h0m1.5 10h0m-3.3 2.1h0m-.3 2.7h0m.3 2.4h0m-.2 2.6h0m.4 2.7h0m-.2 14.9h0m-.5 2.6h0m.3 2.6h0m-.1 2.4h0m4.7-50.2h0m-.1 2.9h0m-.2 2.5h0m.4 2.6h0m2.2-8h0m-.5 2.6h0m-2 15h0m.6 2.5h0m.3 2.9h0m-.1 2.5h0m.4 2.5h0m1.3-8.3h0m-.2 2.5h0m-2.2 19.9h0m.2 2.4h0m-.1 2.6h0m.4 2.8h0m3.8 5.3h0m0-55.2h0m-.4 2.5h0m-.2 2.8h0m.4 2.7h0m.1 2.7h0m2.1-10.7h0m-.4 2.8h0m.2 2.8h0m-1.2 8.4h0m-.7 4.1h0m-.2 2.4h0m-.1 2.7h0m0 2.7h0m.5 14.9h0m-.2 2.9h0m-.2 2.7h0m.5 2.8h0m3.7-49.2h0m0 2.5h0m.3 3h0m-.4 2.8h0m2.6-8.3h0m0 2.9h0m-.4 2.6h0m-2 14.2h0m-.2 2.5h0m.3 2.9h0m.2 2.5h0m.1 12.3h0m0 2.6h0m0 3h0m0 2.7h0m-.4 3h0m4.1-51.2h0m.1 2.6h0m-.1 2.5h0m.4 2.8h0m.1 6.5h0m-.4 4.5h0m.2 2.6h0m-.2 2.5h0m-.5 2.9h0m3.4 9.6h0m-2.8 5.5h0m0 2.9h0m.3 2.6h0m-.3 2.6h0m4.1 5.1h0m.3-55.2h0m-.4 2.8h0m-.1 2.6h0m.3 2.9h0m-.1 2.7h0m2-11h0m0 2.7h0m.2 11.3h0m-2.4 3.7h0m.5 2.7h0m-.2 2.8h0m.6 2.4h0m-.3 2.9h0m1.6-9.1h0m.4 2.7h0m-.3 2.9h0m-2.3 17h0m.3 2.9h0m-.5 2.7h0m.2 2.8h0m4.7-50.4h0m-.2 2.5h0m.1 2.8h0m.4 2.8h0m0 2.9h0m1.7-11h0m.2 2.7h0m-.2 2.6h0m1.9 9.7h0m-3.4 3.8h0m.5 2.7h0m.1 2.9h0m-.8 16.5h0m-.2 2.8h0m-.2 2.7h0m.4 2.4h0m-.3 2.7h0m4-51.5h0m.2 3h0m-.3 2.8h0m.4 2.7h0m3.4 5.5h0m-3.5 3.5h0m.2 2.5h0m-.3 2.8h0m.6 2.7h0m-1.3 16.8h0m.5 2.6h0m-.3 2.8h0m.2 2.5h0m2.5-5.7h0m0 2.5h0m-.5 2.6h0m.1 2.4h0m2.3-52h0m.3 3h0m-.4 2.9h0m.3 2.5h0m1.4 5.9h0m-1.6 3.6h0m-.1 2.7h0m.4 2.4h0m.1 2.8h0m-.6 15.5h0m.1 2.5h0m.2 2.9h0m-.5 2.4h0m5.3-49.1h0m-.2 2.8h0m.1 2.8h0m.1 11.9h0m-.1 2.6h0m-.2 2.7h0m-.1 2.9h0m.2 2.7h0m.2 12.5h0m-.4 2.9h0m.5 2.7h0m-.2 2.5h0m.2 3h0m1.4-5.7h0m.5 2.8h0m-.2 2.8h0m-.6 3.3h0m2.3-55.2h0m.1 2.8h0m0 2.9h0m-.2 3h0m2.6-8.7h0m-.5 2.7h0m0 3h0m-1.8 11.9h0m.1 2.9h0m.1 2.9h0m-.1 2.9h0m-.5 2.6h0m.1 13.9h0m-.4 2.4h0m.1 2.5h0m.1 3h0m3.2 4.5h0m1.7-55.2h0m.1 2.9h0m-.3 2.7h0m-.2 2.5h0m.2 2.6h0m2.4-10.7h0m-.6 2.6h0m.6 2.5h0m-1.6 9.7h0m1.1 5.5h0m.5 2.9h0m-2 17.5h0m-.2 2.5h0m-.3 2.6h0m.3 2.6h0m1.8-1h0m-.1 2.6h0m-.1 2.9h0m1.9 2.3h0m.8-55.2h0m.1 2.9h0m-.6 2.7h0m0 2.8h0m2.3-8.4h0m.3 2.7h0m-.2 2.7h0m-2.4 12.1h0m.3 3h0m.3 2.8h0m-.3 2.6h0m2.4-5.8h0m0 2.8h0m-2.5 8.1h0m.3 2.9h0m.1 2.5h0m-.4 4.5h0m.2 2.7h0m-.2 2.8h0m0 2.9h0m4.7-49.3h0m0 3h0m0 3h0m.1 2.8h0m-.4 2.4h0m2.5-11.2h0m-.4 2.7h0m0 2.9h0m-.8 8.7h0m-.7 3.4h0m-.7 2.7h0m.6 3h0m-.4 2.5h0m.1 2.6h0m.3 2.5h0m0 2.9h0m0 2.5h0m-.4 4.1h0m-.2 2.5h0m.2 2.6h0m0 2.8h0m-.1 2.6h0m2.5-5.2h0m-.1 2.4h0m-.1 2.9h0m2-51.1h0m.3 2.5h0m0 3h0m-.1 2.7h0m2.4-8.2h0m-.3 2.6h0m-1.8 12.2h0m-.7 2.7h0m-.1 2.9h0m.2 2.5h0m0 2.7h0m.7 11.2h0m0 4.6h0m-.2 2.9h0m-.2 2.9h0m.5 2.6h0m1.9-4.4h0m-.4 3h0m.3 2.4h0m-1.8 4.4h0m3.6-55.2h0m-.4 2.7h0m-.1 2.6h0m.2 2.7h0m0 2.7h0m.3 6.8h0m-.4 3h0m0 2.6h0m.2 2.9h0m2.1-7.3h0m.2 2.7h0m-2.2 9.6h0m-.5 2.9h0m.4 2.7h0m.4 6.2h0m-.3 2.8h0m.2 3h0m0 2.7h0m4.6-51.3h0m-.4 2.7h0m.4 2.9h0m-.3 2.7h0m.3 2.7h0m2.1-11h0m-.3 2.6h0m-1 12.4h0m-.7 3.1h0m-.5 2.5h0m0 2.8h0m-.3 2.9h0m2.9-7.1h0m-.5 2.6h0m-.1 14.3h0m-2.3 5.4h0m.5 2.9h0m-.6 2.6h0m.4 2.8h0m4.3-49.8h0m-.1 2.8h0m-.1 2.7h0m2.4-5.5h0m0 2.7h0m-.3 2.8h0m-1.1 13.4h0m-.3 2.7h0m-.6 2.6h0m.1 2.9h0m-.3 2.6h0m2.7-10.8h0m-.1 2.6h0m-.3 2.9h0m-2 18.2h0m.1 2.7h0m0 2.8h0m0 2.8h0m3.9 4.3h0m.6-55.2h0m-.4 3h0m.1 2.9h0m0 2.8h0m1.8-8.7h0m.6 2.6h0m-2.7 14.7h0m.5 2.8h0m.4 2.4h0m-.1 2.9h0m1.2-7.7h0m.2 2.6h0m.5 2.8h0m-2.4 18.8h0m.3 2.8h0m-.3 2.4h0m0 2.6h0m.2 2.5h0m4.2-52.2h0m-.4 2.5h0m-.1 2.9h0m.6 2.7h0m-.5 2.7h0m2-10.8h0m.3 2.9h0m-.1 2.5h0m.1 2.9h0m-1.5 6.8h0m-.4 4.2h0m.4 2.5h0m.1 2.9h0m.4 2.9h0m-1.3 13.2h0m.1 2.9h0m0 3h0m-.3 2.8h0m.2 2.5h0m2 3.2h0m2.3-55.2h0m-.5 2.4h0m.4 2.5h0m.1 2.8h0m2.2-7.7h0m1.8 14.1h0m-4.5 4.1h0m.3 2.8h0m-.1 2.5h0m-.5 2.7h0m2.2 9.8h0m-1.5 5.5h0m.3 2.6h0m-.2 2.5h0m.1 2.8h0m4-49.4h0m.4 2.5h0m-.3 2.9h0m.2 2.7h0m.1 2.6h0m2.1 8.2h0m0 2.5h0m-1.8 9.6h0m-.7 2.7h0m.2 3h0m-.2 4.7h0m.2 2.4h0m.2 2.8h0m-.4 2.5h0m.6 2.4h0m2.5 3.7h0m1.4-55.2h0m-.1 2.6h0m.1 2.6h0m-.2 2.5h0m.4 2.4h0m2.1-10.1h0m-.5 2.9h0m-1.9 16.6h0m.2 2.9h0m-.2 2.9h0m0 14.6h0m-.6 2.6h0m.1 2.9h0m.5 2.5h0m0 2.4h0m4.4-50.3h0m-.4 2.7h0m.4 2.5h0m-.3 2.6h0m2.7-7.8h0m-.3 2.6h0m.2 2.8h0m-2.3 12.1h0m0 2.8h0m-.5 2.7h0m.6 2.6h0m.2 16.4h0m-.4 3h0m-.1 2.5h0m.3 2.6h0m-.1 5.1h0m3.8-55.2h0m.5 2.7h0m-.2 2.4h0m-.3 3h0m.1 2.6h0m.8 3.1h0m-1 3.9h0m.3 2.8h0m.5 2.6h0m.5 2.8h0m-.1 2.8h0m-.4 12.5h0m0 2.9h0m.1 2.6h0m-.6 2.9h0m1.9 5.6h0m2.2-55.2h0m.3 2.5h0m-.2 3h0m-.3 2.5h0m.5 2.5h0m1.9-10.5h0m-2.6 19.4h0m.5 2.6h0m.2 2.6h0m-.1 2.4h0m-.4 4h0m0 3h0m-.1 2.6h0m0 5.5h0m.1 3h0m.1 2.7h0m.3 2.5h0m0 4.9h0m4.1-55.2h0m.3 2.9h0m0 2.6h0m-.2 12.5h0m.3 2.4h0m-.1 2.5h0m.3 2.5h0m1.3-5h0m.2 2.8h0m-1.7 7.8h0m-.6 2.8h0m.2 2.4h0m.6 6.4h0m-.4 2.7h0m.2 2.6h0m-.1 2.6h0m4.5-50.5h0m-.1 2.9h0m-.3 2.4h0m.5 2.7h0m0 2.5h0m2.3-10.5h0m-.2 2.6h0m0 2.8h0m.8 8.6h0m-3.1 4.2h0m-.2 2.8h0m-.2 2.6h0m.2 2.8h0m0 4.6h0m.5 3h0m-.5 2.4h0m.5 5.9h0m.1 2.8h0m-.1 2.9h0m-.3 2.7h0m2.4-5.4h0m-.1 2.7h0m.2 2.7h0m1.6-50.7h0m.2 2.7h0m.2 2.7h0m-.2 2.5h0m1.8-7.9h0m.2 2.9h0m-.1 2.8h0m-.6 8.3h0m-1.7 5.1h0m0 2.6h0m.1 2.8h0m0 2.7h0m3.1 7.7h0m-3.1 5.3h0m.5 2.8h0m-.5 2.5h0m0 2.8h0m.6 2.8h0m1.2 4.1h0m2.7-55.2h0m.2 2.5h0m0 2.6h0m0 2.4h0m0 2.6h0m2.1-10.1h0m-.5 2.6h0m-2.1 16.2h0m-.4 2.9h0m-.3 2.6h0m.2 2.5h0m2.7 6.5h0m-2.1 9.5h0m.1 2.5h0m.2 2.6h0m-.1 2.6h0m-.2 2.5h0m3.3 2.2h0m1.2-55.2h0m-.2 2.9h0m.3 2.4h0m-.4 2.7h0m.2 2.5h0m2-10.5h0m0 2.9h0m.4 2.9h0m-2.1 12.3h0m-.3 2.5h0m.1 2.4h0m.3 2.6h0m1.7-5.8h0m0 2.7h0m-2.3 8.5h0m-.2 2.9h0m.2 2.9h0m.3 3.9h0m-.4 2.9h0m.3 2.4h0m0 2.9h0m2.2-.9h0m.2 2.6h0m-.6 4.6h0m2.3-55.2h0m-.4 2.8h0m.3 2.5h0m.2 2.6h0m.9 6.9h0m-.5 3.9h0m.3 2.8h0m.3 2.6h0m.2 2.9h0m.8-6.6h0m.2 2.8h0m1.1 11.1h0m-3.8 7.3h0m.5 2.8h0m-.3 2.7h0m.4 2.7h0m.1 5.4h0m3.9-55.2h0m.3 2.6h0m-.1 2.5h0m0 2.8h0m0 2.7h0m1.9-10.6h0m.3 2.8h0m.2 2.7h0m0 2.7h0m-2 10.9h0m.2 2.4h0m-.1 2.5h0m.6 2.4h0m-.8 4.6h0m-.5 2.6h0m-.1 2.6h0m.6 6h0m-.1 2.5h0m-.1 2.4h0m-.1 3h0m2.3-4.3h0m-.4 2.7h0m0 2.7h0m1.8 4h0m.2-55.2h0m.5 2.8h0m0 2.7h0m-.4 2.5h0m-.2 3h0m2.6-11h0m-.4 2.9h0m-.5 11.7h0m-1.5 3.5h0m-.5 2.6h0m.3 2.6h0m-.6 2.4h0m2 9.3h0m-.9 5.5h0m-.4 2.6h0m.6 2.6h0m-.7 2.9h0m.7 2.8h0m3.8-51.4h0m-.2 2.6h0m.2 2.8h0m-.2 2.5h0m.8 6.7h0m1.5 4.8h0m.2 2.6h0m-1.2 12.1h0m-.9 5.8h0m-.5 2.6h0m-.2 3h0m.5 2.8h0m-.4 2.9h0m4.4-51.2h0m.3 2.5h0m-.3 2.8h0m.1 2.8h0m.1 2.4h0m-.2 7.7h0m.3 2.5h0m-.3 2.5h0m.6 2.9h0m-.3 15.4h0m-.3 2.8h0m.4 2.5h0m-.1 2.9h0m1.6-3.3h0m.1 2.6h0m.4 2.8h0m.4 3.4h0m1.7-55.2h0m-.3 2.7h0m.4 2.9h0m0 2.6h0m2.1 6h0m-1.9 5.1h0m-.6 2.4h0m.2 2.5h0m-.4 2.4h0m.8 15h0m-.5 2.6h0m.1 2.5h0m.5 2.6h0m1.9-3.8h0m-.5 2.6h0m.4 2.9h0m-.6 4.2h0m3.1-55.2h0m0 2.7h0m-.4 2.6h0m.2 2.5h0m.6 11.1h0m-.6 2.5h0m.1 2.4h0m-.2 2.6h0m-.7 2.5h0m3.1-9.6h0m-.3 2.6h0m-2.4 19.5h0m.2 3h0m.2 2.5h0m.1 2.6h0m1.9-2h0m.3 2.7h0m-.5 5h0m2.2-55.2h0m.1 2.5h0m.1 2.7h0m-.1 2.7h0m0 2.5h0m2-10.4h0m0 3h0m.4 2.6h0m.1 2.8h0m1.9 5.7h0m-4.3 5.7h0m.2 2.9h0m.5 2.7h0m0 2.6h0m1.5-9.3h0m-2.1 21.5h0m.1 2.7h0m-.2 2.4h0m0 2.5h0m.2 2.6h0m1.9-6.2h0m0 2.7h0m.3 3h0m0 2.9h0m1.8-52.8h0m.1 2.8h0m.1 2.4h0m-.2 2.6h0m-.1 10.7h0m-.3 2.4h0m.3 2.6h0m.1 7.5h0m-.3 2.8h0m.2 2.9h0m.2 3.6h0m-.2 2.8h0m.2 2.7h0m.3 2.6h0m-.5 3h0m2.2-4.9h0m.3 2.5h0m-.3 3h0m1.9-52h0m0 2.6h0m-.1 2.9h0m.2 3h0m-.1 2.7h0m.4 7.8h0m.2 2.7h0m0 2.9h0m1 7.8h0m-1.7 8.9h0m.4 2.5h0m-.4 2.9h0m.3 2.6h0m4.5-49.3h0m-.6 2.9h0m.5 2.7h0m.1 2.4h0m-.1 2.7h0m2.2-10.7h0m-.3 2.8h0m-.6 11.4h0m-1.4 4.5h0m-.5 3h0m-.2 2.7h0m0 2.8h0m0 2.4h0m2.6-9.5h0m-.2 2.4h0m-1.4 11.5h0m-.5 6.8h0m.5 3h0m0 2.4h0m-.4 2.5h0m2.3 6.5h0m1.5-55.2h0m0 2.5h0m0 2.8h0m0 2.7h0m2.3-8h0m-1.6 19.8h0m-.5 2.6h0m.8 2.5h0m.2 2.9h0m.7 4.5h0m-1.6 10.4h0m0 2.8h0m.3 2.9h0m-.1 2.5h0m2-3.4h0m-.2 2.6h0m0 2.5h0m1.8-52.6h0m.3 2.8h0m-.1 2.6h0m.2 2.7h0m1.9-8.1h0m-.1 2.6h0m0 2.5h0m.3 9.2h0m-2.2 4.4h0m-.1 2.6h0m.1 2.9h0m-.3 2.5h0m2.8-7.9h0m-.5 2.7h0m-2 9.5h0m-.1 2.9h0m0 2.8h0m.2 5.7h0m-.2 2.5h0m.1 2.8h0m.3 2.6h0m4-50.3h0m.3 2.8h0m.1 2.8h0m.1 2.5h0m1.5-8.1h0m.5 2.6h0m.8 11.9h0m-3.2 4.5h0m0 2.8h0m.4 2.6h0m-.1 2.7h0m-.4 3.9h0m.4 2.6h0m0 2.7h0m0 5.8h0m.1 2.9h0m-.4 2.6h0m.2 2.9h0m1.8-5.3h0m.1 2.7h0m0 2.9h0m2.7-50.8h0m-.3 3h0m.1 3h0m-.1 2.4h0m.2 2.5h0m-.7 7.4h0m.5 2.5h0m.7 2.4h0m.1 2.9h0m3.3 10.1h0m-4.6 3.8h0m.4 2.5h0m-.2 2.6h0m.3 2.6h0m0 2.8h0m4.5-50.5h0m-.4 2.7h0m-.1 2.7h0m0 2.9h0m2.5-8.3h0m.1 2.9h0m.1 2.8h0m.7 8.7h0m-3 4.4h0m-.5 2.4h0m.3 2.7h0m-.2 2.9h0m.7 4.3h0m-.7 9h0m.4 2.7h0m.1 2.9h0m-.3 2.9h0m.3 2.7h0m3.7 3.9h0m.1-55.2h0m.4 2.7h0m-.5 2.8h0m.1 2.6h0m2.1-8.1h0m.3 2.5h0m-.2 2.7h0m-.3 2.8h0m-1.8 9.5h0m-.3 2.8h0m-.1 2.9h0m0 2.7h0m-.5 2.7h0m2.1 4.3h0m-1.3 9.8h0m-.1 2.6h0m0 2.9h0m.1 2.8h0m4.3-51h0m-.2 2.6h0m0 2.4h0m.4 2.8h0m1.4 6.6h0m-.9 5.1h0m-.3 2.9h0m-.4 2.5h0m-.1 3h0m3 4.4h0m-2.4 8.3h0m-.2 2.6h0m-.3 2.4h0m0 2.8h0m.1 2.8h0m1.3 4h0m3-55.2h0m0 2.6h0m-.3 2.9h0m.3 2.5h0m.6 6.8h0m-.8 4.2h0m.2 2.9h0m.5 2.5h0m.7 2.5h0m-1.6 4.1h0m.3 2.6h0m-.3 2.9h0m.2 6h0m0 2.9h0m.2 2.6h0m0 2.5h0m3.8 4.7h0m.5-55.2h0m-.4 2.6h0m.4 2.7h0m.1 2.6h0m0 9.8h0m.1 2.7h0m-.2 2.7h0m-.3 2.8h0m4 7.5h0m-3.6 8.4h0m.3 2.5h0m-.3 3h0m.3 2.8h0m3.5-50.1h0m.2 2.8h0m.2 2.9h0m-.4 3h0m.3 2.9h0m3.2 3.7h0m-3.2 4.5h0m0 2.9h0m.7 2.9h0m1.6-7.4h0m-.2 2.7h0m-.3 3h0m-1.7 7.1h0m-.5 2.9h0m.5 2.7h0m-.1 4.3h0m-.1 2.7h0m0 2.8h0m-.3 2.5h0m.4 2.9h0m1.3 3.4h0m3.2-55.2h0m-.4 3h0m.3 2.4h0m-.2 2.7h0m0 2.6h0m2.6 3.2h0m-2.6 5.7h0m0 3h0m.8 2.6h0m.1 2.9h0m1.6-9.3h0m-.5 2.9h0m-.7 13.3h0m-.8 5.5h0m-.5 2.5h0m.5 2.5h0m-.3 2.7h0m.3 2.8h0m1.7-5.2h0m.2 2.8h0m-.5 2.7h0m.6 3.9h0m1.5-55.2h0m0 2.8h0m-.1 2.5h0m.4 2.5h0m3.8 7.3h0m-3.9 2.6h0m.6 2.7h0m0 2.4h0m-.1 2.8h0m-.1 2.8h0m-.5 2.6h0m-.2 2.5h0m.1 3h0m.2 6.3h0m.1 2.5h0m0 2.4h0m-.1 2.9h0m2.3-6.2h0m-.4 2.7h0m.1 2.6h0m0 2.6h0m2.2-52.3h0m-.4 2.9h0m0 2.7h0m2.4-5.6h0m-1.1 14.9h0m-.7 4h0m-.2 2.7h0m.5 2.8h0m.1 10.9h0m-.7 5h0m-.2 2.6h0m.1 2.7h0m-.4 2.7h0m.4 2.7h0m2-3.5h0m.1 2.8h0m-.1 2.5h0m2.8-52.8h0m0 2.7h0m-.1 2.6h0m.1 2.7h0m-.4 2.6h0m1.3 4.4h0m-1.1 3.6h0m-.4 2.5h0m.3 2.7h0m.3 2.5h0m-.1 4.7h0m-.4 2.5h0m.4 2.7h0m0 6h0m-.2 2.6h0m.2 2.6h0m0 2.9h0m3.9-50.3h0m.3 2.6h0m-.2 2.6h0m.2 2.6h0m-.2 2.6h0m2.5-10.4h0m-.5 3h0m0 2.5h0m.3 2.5h0m-1.4 6.3h0m-.5 4.1h0m.5 2.6h0m-.2 2.5h0m.1 2.9h0m2.3 8.4h0m-3.2 6.4h0m.5 2.6h0m-.3 2.6h0m-.3 2.8h0m.3 2.9h0m2.2-6.8h0m.1 2.6h0m0 2.9h0m1.7-50.8h0m-.2 2.5h0m.3 2.7h0m.2 2.6h0m-.4 10.7h0m.2 2.7h0m.2 2.6h0m.1 2.5h0m1.7-7.5h0m0 2.5h0m-.1 2.5h0m-2 10h0m-.1 6.6h0m-.3 2.6h0m.3 2.7h0m.2 2.9h0m3.5 6.6h0m.7-55.2h0m.3 2.5h0m-.5 2.6h0m.4 2.6h0m-.1 11.9h0m0 3h0m.6 2.5h0m-.2 2.5h0m-.6 3.4h0m.1 2.4h0m.1 2.8h0m.2 5.1h0m.1 2.9h0m.2 2.6h0m-.1 3h0m.1 2.6h0m3.3-52.4h0m.3 2.6h0m.1 2.6h0m.1 2.7h0m.1 3h0m1.5-10.9h0m.4 2.7h0m.1 2.7h0m-2.1 14.3h0m-.2 2.7h0m.4 3h0m.1 2.8h0m-.7 12.4h0m-.1 2.5h0m.3 3h0m-.2 2.6h0m.2 2.4h0m2.3-3.6h0m-.2 2.9h0m-.2 2.6h0m-1.8 2.2h0m4.4-55.2h0m-.4 2.7h0m-.1 2.7h0m.5 2.8h0m-.1 10.7h0m-.1 2.8h0m.2 2.6h0m-.2 15.8h0m-.5 2.5h0m.4 2.9h0m.1 2.7h0m.1 2.8h0m-.5 2.5h0m4.9-53.5h0m-.2 2.8h0m.3 2.7h0m-.3 2.4h0m.1 2.5h0m.8 4.5h0m-1.3 3.8h0m0 2.6h0m0 2.7h0m-.7 2.5h0m4.5 5.8h0m-2.9 7.6h0m.1 2.5h0m-.3 2.6h0m-.3 2.7h0m.1 2.8h0m2.3-2.9h0m.3 2.6h0m-.3 2.8h0m1.5-53h0m.5 2.7h0m0 3h0m-.2 2.5h0m2-8.2h0m0 2.5h0m.2 2.7h0m-1.7 8.8h0m1.8 4.4h0m-.2 2.8h0m.3 12.2h0m-2.8 7.3h0m.1 2.8h0m.1 2.6h0m-.1 2.8h0m.1 2.8h0m2.4-4h0m-.4 2.5h0m1 5h0m1.3-55.2h0m.2 2.8h0m.3 2.7h0m-.6 2.9h0m.1 2.8h0m2.3 3.1h0m-2.2 4.8h0m.1 2.9h0m.1 3h0m.1 6h0m-.6 2.7h0m0 2.4h0m.6 4.1h0m-.2 2.8h0m-.2 2.6h0m.2 3h0m.2 2.9h0m4.4-51.5h0m-.1 2.9h0m.3 2.7h0m-.5 2.6h0m.4 10.9h0m0 2.9h0m0 2.8h0m.1 2.7h0m-.2 3.5h0m.2 2.5h0m-.3 2.7h0m-.1 3.8h0m.3 2.9h0m-.4 2.7h0m.6 2.4h0m-.2 2.9h0m2-4.6h0m-.2 2.8h0m-.2 3h0m2.2-52.1h0m.5 2.9h0m-.5 2.8h0m-.2 2.8h0m1.8 5.8h0m-1.8 5.5h0m.3 2.5h0m.2 2.5h0m0 2.5h0m.1 3.7h0m0 2.9h0m-.5 2.7h0m-.1 4h0m.3 2.5h0m-.3 3h0m.6 2.6h0m-.2 2.6h0m3.9-51.3h0m0 2.9h0m.1 2.8h0m.2 2.8h0m.1 2.7h0m1.7-11.2h0m.1 2.7h0m.8 12.6h0m-3 2.4h0m.3 2.4h0m.1 2.9h0m.1 2.9h0m0 16.3h0m-.2 2.6h0m-.1 2.5h0m.4 2.7h0m4.2-50h0m-.3 2.8h0m.4 2.9h0m-.2 2.5h0m-.2 2.9h0m0 7.6h0m.1 2.6h0m0 2.4h0m.3 2.7h0m-.6 15.5h0m.6 2.9h0m-.2 2.8h0m-.3 2.8h0m3.4 4.8h0m.9-55.2h0m-.2 2.9h0m-.1 2.5h0m.4-5.4h0m0 2.5h0m0 2.9h0m0 9.8h0m-.5 4.4h0m0 3h0m-.3 2.9h0m.6 15.1h0m.2 2.8h0m-.2 2.9h0m0 2.4h0m.2 6.5h0m-408.1 235.2h0m.3-2.9h0m0-2.7h0m-.3-2.5h0m.2-2.7h0m2.1 10.8h0m.1-2.5h0m-1.9-28.5h0m-.4-2.8h0m.4-2.4h0m.3-5.4h0m-.2-2.7h0m.1-2.6h0m-.4-2.9h0m0-2.9h0m2.3 6.4h0m.1-2.7h0m-.1-2.5h0m1.8 51.5h0m-.3-2.7h0m.2-2.5h0m.2-2.4h0m-.5-2.8h0m2.2 10.4h0m.4-2.9h0m0-11.1h0m-2.1-4h0m-.3-2.8h0m0-2.7h0m-.5-2.7h0m-.1-2.5h0m3.2-7h0m-2.7-6.5h0m0-2.6h0m-.3-2.5h0m.1-3h0m2.5-4.9h0m1.8 55.2h0m-.1-2.5h0m.5-3h0m0-2.6h0m2.2 8.1h0m-.1-2.6h0m-1.7-11.6h0m-1-3.1h0m.7-2.5h0m.4-2.6h0m-.4-2.6h0m.6-2.5h0m-1.2-3.5h0m.2-2.5h0m.2-2.8h0m-.2-4.7h0m-.4-2.8h0m-.1-2.7h0m.2-2.4h0m.1-2.9h0m2.1 6.5h0m.2-2.6h0m.2-2.5h0m-.2-2.4h0m2.3 52.8h0m0-2.5h0m0-2.9h0m.4-2.9h0m2 8.3h0m-.1-2.8h0m0-12.3h0m-1.4-4.1h0m-.3-2.7h0m.4-2.7h0m0-2.9h0m-.8-13.1h0m-.1-2.8h0m.3-3h0m.1-2.7h0m-.6-2.9h0m2.8 4.8h0m-.4-2.8h0m0-2.9h0m2.2 52.9h0m.2-2.6h0m0-2.8h0m.1-2.8h0m-.3-2.9h0m2 11.1h0m-.2-2.6h0m1-11.3h0m-3-5.5h0m.2-2.8h0m.3-2.4h0m-.1-2.4h0m1.8 6.6h0m.4-2.9h0m-2.4-18.4h0m.5-2.5h0m-.5-2.5h0m.3-2.8h0m0-2.7h0m2.9-3h0m1.1 55.2h0m-.2-2.4h0m0-2.5h0m-.2-2.7h0m2.1 7.6h0m.2-2.7h0m-.4-2.5h0m.2-2.5h0m-2.2-11.1h0m-.1-2.6h0m-.1-2.9h0m2.4 6.2h0m.1-2.7h0m-1.7-20.1h0m0-2.9h0m0-2.8h0m-.5-2.9h0m.4-2.5h0m3.7 52h0m.4-2.8h0m-.6-2.7h0m.1-2.7h0m2.2 8.2h0m-.2-2.6h0m1.1-12.5h0m-2.7-3.9h0m.1-2.6h0m-.1-2.6h0m.3-2.7h0m.2-2.7h0m-.2-12.7h0m-.2-2.5h0m.1-2.7h0m-.3-2.5h0m1.1-5.2h0m3.7 55.2h0m-.3-2.7h0m.1-2.9h0m-.3-2.7h0m2.6 8.3h0m-.5-2.9h0m.8-11.3h0m-2.4-4.7h0m0-2.5h0m.1-2.4h0m0-2.5h0m-.1-4.7h0m-.3-2.5h0m.2-2.4h0m-.2-6.2h0m.3-2.8h0m-.3-2.9h0m-.1-2.7h0m3.7 50.5h0m0-3h0m.3-2.7h0m0-2.5h0m2 8.2h0m.2-2.7h0m.2-2.8h0m-2.8-12.9h0m.1-2.4h0m.1-2.8h0m.1-2.7h0m-.1-2.4h0m4.3-4.9h0m-3.8-8h0m.4-2.6h0m-.1-2.9h0m-.3-3h0m.2-2.8h0m2 5.2h0m-.3-2.6h0m0-2.6h0m.3-2.3h0m2.3 55.2h0m-.4-2.8h0m.2-2.8h0m.1-2.6h0m.2-2.9h0m2.1 11.1h0m0-2.7h0m0-2.8h0m0-2.5h0m-.8-6.4h0m-1.7-4.1h0m.5-2.5h0m-.2-2.6h0m-.4-2.4h0m-.3-2.8h0m.4-2.2h0m0-2.9h0m-.1-2.8h0m0-4.3h0m-.1-2.6h0m.3-3h0m.1-2.4h0m1.7 4.9h0m.1-2.6h0m.3-2.6h0m.1-3h0m2.3 52.3h0m-.7-2.6h0m.5-2.6h0m.1-2.7h0m1.6 7.9h0m0-2.9h0m.6-2.5h0m-.1-2.4h0m.4-7h0m-2.6-16.2h0m0-2.7h0m.2-2.4h0m-.2-5h0m.4-3h0m-.3-2.4h0m0-2.5h0m0-2.7h0m0-3.5h0m3.7 55.2h0m-.2-2.6h0m.4-2.9h0m-.2-2.4h0m-.3-2.7h0m4.4-4.3h0m-3.9-2.9h0m.4-2.6h0m.2-2.7h0m-.7-2.5h0m-.3-14.7h0m.1-3h0m.1-2.6h0m-.4-2.4h0m.4-2.6h0m2.5-4.3h0m1.5 55.2h0m-.1-2.8h0m.1-2.5h0m.4-2.9h0m2.1 8.2h0m-1.8-14.9h0m-.9-3.7h0m0-2.7h0m.4-2.9h0m.1-17.8h0m-.1-2.8h0m.4-2.5h0m-.5-2.7h0m4.2 50h0m0-2.9h0m0-2.4h0m.5-2.8h0m-.5-2.4h0m2.7-4.2h0m-2.5-4.6h0m.2-2.4h0m.2-2.9h0m0-17.5h0m-.6-2.8h0m0-2.9h0m.4-2.7h0m2 4.7h0m-.3-2.7h0m.3-2.9h0m.8-3.8h0m1.2 55.2h0m0-2.8h0m0-2.6h0m-.5-13.6h0m.1-2.8h0m-.1-2.5h0m-.1-2.5h0m4.7-7.9h0m-4.5-7.6h0m.1-2.8h0m-.1-2.7h0m-.1-2.9h0m.5-4.5h0m4.3 55.2h0m.4-2.9h0m0-2.6h0m-.4-3h0m2.5 8.5h0m1.3-15h0m-4.2-4.8h0m-.1-2.8h0m0-2.9h0m.4-2.6h0m2.2 9.2h0m.4-2.4h0m0-2.8h0m-1.1-12.6h0m-1.9-5.7h0m.4-3h0m-.2-2.9h0m-.2-2.8h0m2.7 5.7h0m-.3-2.7h0m.2-2.6h0m.7-4.5h0m1.9 55.2h0m0-2.7h0m-.4-2.5h0m-.1-2.6h0m.4-2.9h0m1.8 10.7h0m.2-2.7h0m0-3h0m1.6-8.6h0m-4-5.4h0m0-2.9h0m.1-2.6h0m2.2-10.1h0m-2.1-5.7h0m-.1-2.6h0m.2-2.9h0m-.2-2.7h0m-.2-3h0m.6-3h0m4.5 55.2h0m-.6-2.5h0m.6-2.7h0m-.4-2.8h0m1.9 8h0m.5-2.9h0m.1-2.7h0m1.6-8.3h0m-3.7-5.4h0m-.1-2.9h0m-.2-2.5h0m-.3-2.6h0m2.4 8.8h0m-.1-2.8h0m.3-2.5h0m-2-7.2h0m-.6-2.9h0m0-2.4h0m.5-5.1h0m0-2.7h0m-.2-2.7h0m.1-2.7h0m-.2-2.8h0m4.2 52.3h0m-.2-3h0m-.1-2.9h0m.4-2.9h0m.8-5.5h0m-1.5-5.1h0m-.1-2.8h0m-.1-3h0m-.3-2.9h0m1.2-2.9h0m-.1-2.7h0m-.1-2.5h0m0-4.3h0m-.5-2.5h0m.2-2.6h0m-.1-2.8h0m-.2-2.6h0m2.5 6.4h0m.2-2.9h0m.2-2.8h0m-.5-2.7h0m2.7 53h0m-.3-3h0m-.2-2.6h0m.4-9.8h0m-.2-3.9h0m.1-2.8h0m-.6-2.7h0m.3-2.9h0m2.8 9.8h0m0-2.6h0m-.7-2.9h0m-2-7.6h0m.1-2.7h0m.2-2.8h0m-.7-4.6h0m.7-2.8h0m-.4-2.4h0m.3-2.9h0m0-2.6h0m2.4 6.2h0m-.3-2.8h0m.4-3h0m-.7-3.8h0m2.5 55.2h0m0-2.4h0m-.1-2.9h0m.1-2.7h0m2 8h0m.4-2.5h0m.5-11.4h0m-2.6-4.4h0m.8-2.9h0m.1-2.9h0m.3-2.8h0m1 6.7h0m-2.2-10.8h0m-.5-2.7h0m.2-2.6h0m.3-4.4h0m0-2.9h0m-.5-2.7h0m.6-2.8h0m-.2-2.4h0m4-3.7h0m.2 55.2h0m-.3-2.5h0m.4-2.4h0m-.2-3h0m2.3 7.9h0m-.4-3h0m-.5-12.4h0m-1.6-2.3h0m.2-2.5h0m-.1-2.5h0m.3-2.6h0m1.5 7h0m0-2.6h0m-.8-12.8h0m-1.2-7.2h0m.1-2.9h0m.2-2.6h0m.1-2.9h0m-.3-3h0m2.4 5.7h0m-.5-2.6h0m0-2.6h0m-1.2-3.4h0m3.7 55.2h0m.3-2.5h0m-.5-2.6h0m0-3h0m2.3 8.1h0m.1-2.7h0m-.1-3h0m-1.8-13.2h0m-.2-3h0m0-2.8h0m.2-6.3h0m-.5-2.9h0m.1-3h0m-.2-4.8h0m.4-2.9h0m0-2.9h0m-.3-2.9h0m3.8-4.8h0m.6 55.2h0m0-2.9h0m.4-2.5h0m.1-2.5h0m-.2-2.6h0m1.8 10.5h0m.1-2.6h0m-.2-2.5h0m.6-2.8h0m-2.3-11.9h0m.1-2.7h0m.4-2.5h0m.5-2.9h0m-1-5.4h0m.2-7.1h0m-.1-2.7h0m0-2.4h0m-.6-2.6h0m.1-2.4h0m2.1 5.2h0m.1-2.4h0m.1-3h0m.4-4.5h0m1.9 55.2h0m-.1-2.6h0m-.1-2.5h0m-.2-2.8h0m.3-2.8h0m2 10.7h0m-.3-2.6h0m.5-2.9h0m-.1-2.8h0m.3-6.7h0m-2.5-3.4h0m-.3-2.5h0m-.4-2.9h0m0-2.4h0m-.4-2.7h0m3.1 9.3h0m0-2.8h0m1.8-11.8h0m-3.5-7.5h0m.1-2.5h0m.1-2.8h0m-.3-2.9h0m.6-5.3h0m3.6 55.2h0m-.3-2.9h0m.1-2.5h0m-.2-2.6h0m.1-2.8h0m-.1-8.9h0m.5-2.8h0m-.1-2.5h0m2.1 4.9h0m0-2.6h0m-2.7-8.3h0m.6-2.4h0m-.1-2.6h0m.4-4.2h0m-.6-2.4h0m0-2.8h0m.1-2.9h0m.1-2.7h0m1.9 6.6h0m.1-2.7h0m-.3-2.8h0m-.1-2.5h0m.2-2.8h0m2.6 55.2h0m-.2-2.7h0m-.2-2.5h0m.3-2.8h0m0-11.3h0m-.1-2.9h0m.3-3h0m3.3-8.7h0m-3.6-8.4h0m.3-2.7h0m-.2-2.5h0m.2-2.7h0m2.2-5h0m1.8 55.2h0m-.2-2.8h0m.1-2.7h0m-.3-2.9h0m2.7 8.4h0m-.1-2.9h0m0-2.4h0m-2.9-12.8h0m-.1-2.6h0m-.3-2.8h0m.1-2.4h0m1.1-5.1h0m-.6-2.4h0m.3-3h0m.3-5.6h0m-.2-2.9h0m.4-2.6h0m0-2.8h0m1.9 3.2h0m-.3-2.9h0m.2-2.7h0m.8-2.5h0m1.1 55.2h0m.4-2.8h0m-.3-2.7h0m.3-2.4h0m-.2-2.6h0m2 10.5h0m.5-2.8h0m0-2.9h0m-2.6-14h0m-.1-3h0m.7-2.6h0m-.4-15.5h0m-.3-2.5h0m.4-2.6h0m-.3-2.4h0m.2-2.7h0m2.1 4.8h0m-.1-2.4h0m0-2.6h0m1-4h0m1.2 55.2h0m.2-2.6h0m-.2-2.4h0m-.3-2.5h0m.4-3h0m1.9 10.5h0m0-3h0m-2-14.8h0m-.1-2.6h0m-.3-2.6h0m0-2.5h0m.3-15.5h0m-.4-2.7h0m.3-3h0m-.3-2.9h0m.5-2.4h0m4.1 52h0m.1-2.5h0m0-2.6h0m.4-2.4h0m-.6-2.8h0m3-4.3h0m-2.9-27.1h0m.3-2.5h0m-.3-3h0m.1-2.8h0m.1-2.7h0m2.2 8h0m-.3-2.9h0m0-2.5h0m.3-2.4h0m-.5-2.7h0m2.8 55.2h0m-.4-2.9h0m.1-2.8h0m.1-14h0m-.1-2.8h0m-.5-2.9h0m2.7 6.8h0m-.3-2.4h0m.3-2.8h0m-2.3-17.1h0m-.2-2.9h0m.4-2.7h0m-.2-2.9h0m1.9-5.8h0m2.5 55.2h0m-.1-2.8h0m.3-2.5h0m-.2-2.4h0m-.1-2.5h0m2.3 10.2h0m.2-2.5h0m1.2-11.9h0m-3.8-5.3h0m-.2-2.6h0m0-2.5h0m0-2.5h0m.6-3.7h0m-.5-2.7h0m.7-2.6h0m.2-4.8h0m-.2-2.7h0m-.5-2.7h0m.4-2.7h0m.3-2.5h0m1.7 6.5h0m-.4-2.8h0m.1-2.8h0m-.8-4.4h0m2.9 55.2h0m-.1-2.6h0m-.5-2.8h0m.1-3h0m2.6 8.4h0m-.4-2.9h0m.4-3h0m-2.2-11.6h0m-.4-2.9h0m.2-2.7h0m-.2-2.7h0m1.5-10.8h0m-1.2-3.3h0m-.1-2.8h0m-.1-2.6h0m.1-2.7h0m-.1-2.9h0m1.5-4.3h0m3.1 55.2h0m.5-2.6h0m-.2-2.9h0m0-2.6h0m1.8 8.1h0m-1.6-14.8h0m-.3-4.3h0m.2-2.4h0m-.4-2.9h0m.4-3h0m-.7-14.1h0m.4-2.7h0m0-2.5h0m-.1-2.7h0m1.8-5.8h0m2.1 55.2h0m.4-2.5h0m-.5-2.8h0m.3-2.9h0m2 8.2h0m.3-2.6h0m-.5-2.6h0m.2-2.6h0m-1.1-7.5h0m-1.4-2.8h0m-.1-3h0m.1-2.5h0m.1-2.6h0m.1-2.7h0m-.3-12.8h0m.6-2.5h0m-.2-2.7h0m-.4-2.7h0m.5-2.6h0m4.5 52.2h0m.3-2.6h0m.1-3h0m-.3-2.8h0m2.1 8.4h0m.3-2.9h0m0-2.8h0m-1.9-13.1h0m-.4-2.9h0m-.1-3h0m.3-2.9h0m1.7 8.4h0m.1-2.8h0m-1.6-11h0m0-8.8h0m0-2.6h0m-.2-2.8h0m.1-2.5h0m-.3-2.7h0m2.2 6.4h0m-.4-2.8h0m.4-2.8h0m-2-3.6h0m3.9 55.2h0m0-2.5h0m-.2-3h0m.3-2.7h0m-.2-2.7h0m4.2-3.7h0m-4.5-4.1h0m.1-2.9h0m-.3-2.8h0m2.8 5.5h0m0-2.9h0m.9-8.8h0m-3-10.5h0m.2-2.6h0m-.2-2.7h0m0-2.9h0m.2-2.9h0m4.1 52.2h0m.1-2.4h0m-.4-3h0m.6-2.5h0m1.7 7.9h0m.2-2.6h0m-2.2-17.1h0m.3-2.8h0m.3-2.9h0m-.3-2.9h0m1.7 10.4h0m0-2.6h0m-1.8-11.1h0m-.2-8.8h0m-.4-2.5h0m.5-3h0m-.5-2.8h0m-.2-2.4h0m4.9 51.1h0m-.1-2.8h0m.1-2.5h0m-.2-2.7h0m.4-11.4h0m.1-2.5h0m-.1-2.6h0m.4-2.6h0m1.4 9.3h0m.3-2.5h0m-.2-10.5h0m-1.7-9.1h0m-.1-2.9h0m.2-2.8h0m-.5-3h0m.3-2.4h0m3.8 51h0m-.2-2.8h0m.6-2.6h0m0-2.9h0m.4-6.8h0m-.7-4.2h0m.2-2.9h0m.4-2.4h0m1.2 5.4h0m.5-2.8h0m0-2.8h0m-1.3-10.5h0m-.7-6.7h0m0-2.5h0m0-3h0m-.6-2.6h0m4.7 50.1h0m-.4-3h0m-.1-2.8h0m.4-2.7h0m1.8 8.5h0m-.1-2.7h0m1.8-12.2h0m-3.7-4.5h0m-.3-2.7h0m-.5-2.5h0m.4-2.9h0m.2-3.5h0m.1-2.6h0m.2-2.7h0m-.7-5.7h0m.3-2.9h0m-.1-2.5h0m-.2-2.7h0m2.6 3.2h0m.2-2.5h0m0-2.6h0m-.2-3.2h0m2 55.2h0m.3-3h0m-.2-2.8h0m.2-2.6h0m-.1-9.9h0m.1-2.7h0m-.2-2.6h0m-.2-2.6h0m.2-4.8h0m-.3-2.9h0m.2-3h0m0-5.4h0m-.4-2.7h0m.4-2.9h0m-.1-2.8h0m2.1 2.9h0m.4-3h0m1.6-4.4h0m.4 55.2h0m.2-3h0m0-2.8h0m.1-2.9h0m.1-9.6h0m0-2.5h0m0-2.8h0m-.1-2.5h0m3.5-4.5h0m-4.2-11.2h0m.1-3h0m.3-2.8h0m-.2-2.6h0m4.9 50.2h0m0-2.6h0m0-2.9h0m-.1-2.8h0m1.9 8.3h0m0-2.9h0m.1-15.3h0m.2-2.5h0m-.1-2.5h0m-2.5-7.8h0m.2-2.7h0m0-2.9h0m-.3-4.1h0m.5-2.5h0m-.6-3h0m.4-2.6h0m.3-2.5h0m.5-3.9h0m3.6 55.2h0m-.5-2.6h0m.5-2.9h0m0-2.5h0m-.1-2.9h0m2 10.9h0m-.1-2.8h0m-.2-2.5h0m.4-2.6h0m-2.7-11.4h0m.1-2.9h0m-.7-2.5h0m3.1 6.7h0m.1-2.6h0m.3-2.5h0m-1.7-7h0m-.4-9.8h0m-.2-2.5h0m.1-2.5h0m-.5-2.6h0m.4-2.7h0m4.2 50.2h0m-.2-2.7h0m.4-2.5h0m.1-2.9h0m2.1 8.1h0m-.1-2.6h0m-2.2-28.4h0m-.3-2.4h0m0-2.6h0m.1-5.4h0m-.1-2.9h0m.3-2.5h0m-.4-2.6h0m.3-2.8h0m2 7.1h0m.3-2.7h0m-.5-2.6h0m2.2 50.4h0m-.1-2.5h0m-.1-3h0m-.1-2.4h0m.4-2.8h0m1.7 10.7h0m-1.3-14.6h0m-.7-3.8h0m-.2-2.5h0m-.1-2.7h0m0-2.5h0m2.8 7.3h0m-.3-2.5h0m.4-2.4h0m.5-11h0m-3.1-5.8h0m.2-2.7h0m0-2.9h0m.1-2.5h0m1.8 2.9h0m0-2.7h0m-.1-2.5h0m2.6 50.9h0m-.3-2.9h0m.2-2.8h0m.3-2.9h0m1.8 8.6h0m-.2-3h0m.3-3h0m-2.1-11.5h0m0-2.6h0m.2-2.8h0m.1-2.6h0m.2-10.1h0m-.8-5.9h0m.1-2.7h0m.1-2.7h0m.1-2.5h0m3.7 49.4h0m.1-2.4h0m0-2.7h0m0-2.7h0m2.5 7.8h0m0-2.8h0m-.5-11.8h0m-1.5-3.2h0m-.2-2.5h0m.6-3h0m.2-2.6h0m1 8h0m0-2.8h0m-1.9-20.1h0m-.2-2.6h0m.5-2.7h0m0-2.8h0m1.2-6.3h0m2.9 55.2h0m-.1-2.5h0m-.2-2.6h0m.6-2.8h0m-.7-9.5h0m.7-2.8h0m-.5-2.4h0m.4-2.6h0m.1-16.2h0m.3-3h0m-.5-2.8h0m.5-3h0m2.9-5h0m1 55.2h0m-.2-2.7h0m-.2-2.8h0m.2-2.6h0m1.8 8.1h0m.5-14.4h0m-2.2-5.3h0m.5-2.5h0m-.1-2.7h0m.7-3h0m-.9-13.4h0m0-2.6h0m0-2.5h0m-.2-2.8h0m.1-2.9h0m3.9 52.1h0m.2-2.8h0m-.2-2.9h0m2.1 5.7h0m-.2-2.8h0m.5-2.8h0m-2-9.8h0m-.3-3.3h0m.1-2.7h0m-.5-2.5h0m2.5 6.3h0m-.2-2.9h0m.1-2.8h0m-2-18.5h0m0-2.6h0m.1-2.4h0m-.4-2.4h0m-.1-2.5h0m2-3.5h0m2.8 55.2h0m-.2-2.8h0m.4-2.7h0m-.5-2.6h0m2.1 8.1h0m.3-2.7h0m-1.7-16.9h0m-.4-2.9h0m.8-2.8h0m-.3-2.6h0m-.6-12h0m.1-2.5h0m-.4-2.4h0m.2-2.6h0m.1-2.9h0m2.5 3.2h0m-.4-2.6h0m.1-2.5h0m2 52.2h0m0-2.9h0m.1-3h0m.2-2.6h0m2.4-5.7h0m-2.4-3.7h0m.2-2.8h0m-.2-2.4h0m-.1-2.6h0m.2-2.5h0m1.8 9.5h0m.1-2.7h0m-1.9-19.8h0m-.3-2.6h0m.6-3h0m-.7-2.7h0m2.1 4.7h0m.3-2.9h0m-.4-2.6h0m.4-2.7h0m1.4-2.2h0m.7 55.2h0m.1-2.8h0m-.5-2.8h0m.6-2.6h0m-.5-2.5h0m2.3 10.7h0m.2-2.4h0m-2.7-17.3h0m0-3h0m-.2-2.8h0m-.3-2.9h0m.8-11.6h0m0-2.5h0m.1-2.9h0m-.1-2.6h0m.4-2.6h0m1.8 5.3h0m.4-2.7h0m-.4-2.6h0m1.8-4.6h0m.3 55.2h0m.4-2.5h0m-.2-2.6h0m.1-2.7h0m2 7.8h0m0-2.8h0m-2.1-15.2h0m.5-2.9h0m-.6-2.5h0m.4-2.9h0m-.4-4.7h0m.4-2.8h0m-.6-2.8h0m.3-4.2h0m-.1-2.6h0m0-3h0m.4-2.4h0m-.3-3h0m4 51.8h0m.3-2.5h0m-.3-2.5h0m.2-2.7h0m2.3 7.7h0m-.6-3h0m1.7-10.8h0m-3-4h0m0-2.9h0m.4-2.6h0m.2-3h0m-1-4.7h0m.1-2.7h0m-.5-2.8h0m-.1-6.2h0m.1-2.8h0m.2-2.9h0m.3-2.8h0m1-4h0m3.5 55.2h0m-.1-3h0m-.5-2.7h0m.2-2.8h0m.5-2.6h0m2 11.1h0m-.1-2.7h0m.1-2.7h0m-.2-2.8h0m-2.6-10h0m.8-2.9h0m.2-2.5h0m-.3-2.5h0m.5-2.7h0m-.5-2.2h0m-.6-2.5h0m.6-2.8h0m-.7-6.2h0m.5-2.5h0m-.6-2.8h0m.2-2.7h0m2.4 4.4h0m-.1-2.7h0m.1-2.9h0m1.8 51.7h0m.5-2.7h0m.2-2.5h0m0-2.5h0m-.6-2.9h0m2.2 10.6h0m.2-2.5h0m-.1-2.4h0m0-9.8h0m-1.9-4h0m-.3-2.9h0m0-2.5h0m-.2-2.6h0m3-6.3h0m-2.7-8h0m.5-2.5h0m-.6-2.9h0m.6-2.8h0m-.2-2.5h0m2 5.2h0m-.4-3h0m.1-2.8h0m.9-2.9h0m1.1 55.2h0m.1-2.4h0m0-2.6h0m0-2.7h0m2 7.7h0m.4-2.9h0m.1-2.6h0m-2.2-12.2h0m-.7-2.8h0m.3-2.7h0m-.4-2.9h0m2.6 7.7h0m.5-2.9h0m-.2-2.4h0m-1.7-8.5h0m-.3-8h0m.3-2.4h0m-.3-2.6h0m-.2-2.5h0m0-2.7h0m.4-4.8h0m3.3 55.2h0m.3-2.7h0m-.1-2.5h0m.4-2.8h0m1.8 8h0m-1.1-14.8h0m-1.5-3.8h0m.2-2.9h0m.7-2.7h0m-.2-6.8h0m0-2.9h0m-.1-2.5h0m-.2-3.5h0m-.1-2.9h0m-.2-2.8h0m.3-2.6h0m0-2.4h0m2.4 6.4h0m0-2.5h0m.2-2.4h0m-.7-3h0m2.5 52.1h0m-.2-2.5h0m.2-2.7h0m.1-2.5h0m-.4-2.5h0m2 10.2h0m.3-2.8h0m1.1-12.1h0m-3-3.8h0m.1-3h0m.7-2.8h0m.1-2.8h0m-1.2-3.7h0m.3-2.7h0m-.5-2.5h0m.6-5.9h0m-.3-2.7h0m.2-2.4h0m-.3-3h0m1.9 5.1h0m.4-2.6h0m-.1-3h0m.3-4.5h0m2.2 55.2h0m0-2.6h0m-.5-2.5h0m.3-2.6h0m0-2.9h0m0-8.7h0m-.1-2.6h0m-.1-2.5h0m0-2.5h0m.2-4.1h0m-.2-2.8h0m.1-2.9h0m.4-3.9h0m-.3-2.9h0m-.1-2.4h0m0-2.6h0m-.1-2.8h0m4-3.9h0m.5 55.2h0m-.5-3h0m.4-2.5h0m-.4-2.7h0m.6-2.5h0m1.7-3.3h0m.5-21.5h0m-2.7-6.5h0m.2-2.5h0m-.4-2.9h0m.1-2.4h0m-.1-2.5h0m2.5 5.6h0m.1-2.7h0m-.3-2.6h0m2.2 52h0m.2-2.5h0m.1-2.7h0m.1-2.5h0m2 7.7h0m-1.3-14.2h0m-.9-5.1h0m-.3-2.9h0m-.5-2.8h0m1.1-6.1h0m-.1-9.2h0m-.3-3h0m.4-2.8h0m.2-2.7h0m-.4-2.8h0m3.9 51.6h0m0-2.6h0m.3-3h0m0-2.7h0m1.2-6h0m-1.6-4.9h0m-.2-2.5h0m.2-2.5h0m-.3-2.8h0m-.4-2.4h0m1.2-1.6h0m-.1-2.8h0m-.2-2.5h0m.7-3.8h0m-.3-2.6h0m.3-2.7h0m0-2.6h0m0-3h0m3.4-4.2h0m.8 55.2h0m-.4-2.7h0m-.2-2.6h0m.3-2.6h0m0-3h0m2.2 10.9h0m-.1-2.9h0m-1.4-12.2h0m1.2-5.3h0m.5-2.6h0m-2.1-8h0m-.1-2.8h0m-.3-2.8h0m-.1-5.1h0m-.2-2.4h0m0-3h0m.3-2.8h0m2.5 2.1h0m-.2-2.7h0m2.1 50.5h0m-.1-2.8h0m-.5-2.5h0m.4-2.9h0m1.8 8.2h0m.6-2.4h0m0-2.5h0m.2-9.7h0m-2.4-4.6h0m.1-2.4h0m-.7-2.7h0m2.7 4.1h0m-2-14h0m-.9-6h0m.4-2.8h0m-.3-2.7h0m.2-2.9h0m-.2-2.9h0m4.6 51.5h0m.2-2.8h0m-.3-2.9h0m.5-13.2h0m-.5-2.7h0m-.3-2.9h0m.1-2.9h0m3.1-8.9h0m-3-5.5h0m.5-2.9h0m-.1-2.9h0m0-2.4h0m2.3 3.8h0m-.4-2.8h0m-.2-2.7h0m1.3-3.5h0m1.6 55.2h0m-.2-2.6h0m-.1-2.6h0m-.2-2.6h0m1.9-6.4h0m-1.1-4.6h0m-.4-2.6h0m.3-2.7h0m1.7 4.9h0m.1-2.6h0m-2.2-19.6h0m.1-2.6h0m.2-2.9h0m.2-2.8h0m-.5-5.5h0m4 55.2h0m0-2.5h0m.1-2.9h0m-.4-2.9h0m2.3-6h0m-1.9-3.5h0m.1-2.8h0m.1-2.6h0m-.3-2.4h0m.6-16.2h0m0-2.7h0m-.5-3h0m0-2.7h0m1.5-5h0m2.9 55.2h0m-.3-2.8h0m.3-2.5h0m.3-2.6h0m1.7 7.9h0m-.1-2.7h0m2.1-11.4h0m-4.3-3.7h0m.1-2.8h0m.2-2.9h0m.3-2.5h0m1.7 6.9h0m.4-2.6h0m-2.5-18.3h0m.5-2.6h0m-.4-2.9h0m.5-2.5h0m0-2.5h0m0-4.7h0m3.7 55.2h0m-.4-2.4h0m.1-2.5h0m0-2.7h0m-.1-2.6h0m2.2 10.2h0m.3-2.7h0m-.2-11.7h0m-2-4.2h0m.2-2.7h0m-.1-2.6h0m-.1-2.5h0m.1-13.9h0m-.2-2.4h0m.2-3h0m-.6-2.4h0m.1-2.9h0m2.7 3.9h0m-.1-3h0m.1-2.8h0m1.6-2.3h0m.2 55.2h0m0-2.5h0m0-3h0m.3-2.8h0m-.5-2.6h0m2.5 10.9h0m-.2-2.6h0m-.1-2.4h0m.3-2.4h0m-2.4-11h0m-.1-2.6h0m.3-2.6h0m0-2.8h0m2.7-7.8h0m-2.6-7.6h0m.2-2.9h0m0-2.7h0m-.3-2.5h0m3-5.3h0m1.5 55.2h0m.1-2.6h0m-.2-2.7h0m0-2.6h0m2.3 7.9h0m0-2.5h0m-2.8-15.4h0m.4-2.9h0m.1-2.5h0m.3-2.8h0m.6-2.4h0m3.1-2.5h0m-4.5-9.4h0m.3-2.5h0m0-2.8h0m0-2.4h0m.1-2.9h0m2.1 6.8h0m-.3-2.5h0m.4-2.6h0m-.1-2.4h0m1.3-3.5h0m1.1 55.2h0m-.3-2.6h0m-.2-2.5h0m.1-2.5h0m.5-2.8h0m.1-7.9h0m0-2.6h0m.1-2.6h0m.8-2.7h0m.3-2.6h0m-1.9-2.2h0m.3-2.8h0m-.2-2.5h0m.1-5.9h0m.2-2.8h0m-.6-2.9h0m.2-2.7h0m2.3 6h0m.1-2.8h0m-.1-2.9h0m-1.7-4.9h0m4.2 55.2h0m0-2.6h0m-.3-2.7h0m.4-3h0m-.2-2.8h0m2 11.1h0m.3-2.5h0m.2-2.9h0m1-9.2h0m-3-4.5h0m-.3-2.5h0m-.2-2.9h0m.1-6.5h0m.2-2.9h0m0-2.6h0m-.3-3.6h0m-.4-2.4h0m.4-2.7h0m.1-2.6h0m-.6-2.7h0m4.4-4.7h0m0 55.2h0m0-3h0m.2-2.8h0m.2-3h0m0-2.4h0m1.2-3.2h0m1-5.5h0m-2.5-11.1h0m.5-2.6h0m-.2-2.8h0m.3-4.6h0m-.4-3h0m.4-2.4h0m0-3h0m0-2.5h0m3.7 51.9h0m0-2.4h0m.2-2.7h0m.1-2.7h0m-.1-2.6h0m-.2-8.7h0m-.2-2.8h0m.1-2.9h0m-.1-2.4h0m.6-3.8h0m-.1-2.6h0m-.4-2.5h0m-.2-3.9h0m.1-2.4h0m-.1-2.4h0m.6-2.8h0m-.3-2.7h0m4.2 50.3h0m.4-2.8h0m-.4-2.7h0m.5-3h0m-.5-2.9h0m2.1 11.4h0m-.1-2.8h0m0-2.7h0m-2.1-14h0m.1-2.7h0m-.1-2.6h0m.1-3h0m.5-3.2h0m-.6-2.8h0m.4-2.5h0m0-6.3h0m.3-2.9h0m.2-2.9h0m-.3-2.8h0m1.6 4.7h0m-.1-2.7h0m.1-2.7h0m2.4 51.9h0m-.1-2.9h0m0-2.6h0m1.5-8.4h0m-1.2-3.5h0m-.2-2.9h0m0-2.9h0m.1-2.6h0m-.3-2.6h0m2.6-7.9h0m-1.9-5.2h0m.1-2.5h0m0-2.6h0m-.3-2.9h0m.3-2.8h0m1.4 5.9h0m-.2-2.6h0m.2-2.6h0m-1.3-3.6h0m3 55.2h0m.2-2.8h0m.2-2.5h0m-.5-2.5h0m.5-2.6h0m-.5-7h0m.6-2.9h0m-.4-2.8h0m.4-2.6h0m-.2-4.6h0m.4-12.3h0m-.5-3h0m-.1-3h0m.3-2.8h0m2.1-3.8h0m2 55.2h0m0-2.6h0m.3-3h0m-.2-2.5h0m0-2.9h0m.1-8.6h0m.1-2.4h0m0-2.6h0m.2-2.9h0m-.4-13.1h0m.5-2.6h0m-.6-2.6h0m0-2.9h0m.3-2.8h0m2.1 6.2h0m-.2-2.9h0m0-2.7h0m2 50.9h0m.2-2.6h0m.1-2.6h0m-.4-2.7h0m1.3-7.4h0m-.9-2.9h0m.2-2.8h0m.6-2.8h0m1.1 3.5h0m-2.3-20.9h0m.4-2.6h0m.1-2.8h0m-.4-2.9h0m.4-2.7h0m4.2 52.2h0m0-2.5h0m-.1-2.4h0m0-2.5h0m-.3-2.5h0m2.4 9.9h0m.1-2.8h0m-2.4-15.6h0m.7-2.6h0m-.2-2.5h0m.8-3h0m.7 7.7h0m0-2.6h0m.3-2.5h0m-2-7.1h0m.2-2.7h0m-.6-2.6h0m0-5.8h0m0-3h0m.2-2.5h0m.1-2.7h0m4.1 50.3h0m.4-2.9h0m-.5-2.5h0m.5-2.8h0m-.3-2.4h0m2.4 10.6h0m-.2-2.9h0m-.2-2.8h0m-1.8-12.8h0m.4-2.6h0m.2-2.4h0m.1-2.9h0m-.4-8.2h0m-.4-6.6h0m-.1-2.6h0m.4-2.6h0m0-2.5h0m0-2.7h0m3.3 51.6h0m.1-2.7h0m0-2.6h0m.1-2.6h0m.3-2.7h0m0-9h0m0-2.6h0m.4-2.8h0m-.5-17.8h0m.3-2.9h0m.1-2.6h0m0-2.5h0m2 3.9h0m-.7-2.7h0m.2-2.7h0m-1.5-2.9h0m3.9 55.2h0m-.2-2.7h0m-.2-2.4h0m.4-2.8h0m.1-2.8h0m0-7.8h0m-.1-2.5h0m-.1-2.9h0m.1-16.2h0m-.2-2.9h0m.3-2.6h0m-.4-2.7h0m.4-2.6h0m1.7 5.5h0m.2-2.9h0m.3-2.6h0m-1.2-4.3h0m2.7 55.2h0m.4-2.6h0m.2-2.4h0m-.4-2.8h0m3.4-7.3h0m-3.7-4.6h0m.2-2.8h0m-.3-2.8h0m-.3-2.5h0m.6-12.6h0m.4-2.5h0m-.1-2.7h0m-.5-2.7h0m2.3 3.5h0m.1-2.9h0m-.2-2.4h0m.3-2.7h0m2.5 52.8h0m-.1-2.9h0m-.1-2.7h0m.1-2.6h0m-.1-2.4h0m.8-4.5h0m-.2-3.6h0m-.2-3h0m-.7-2.8h0m.2-18.1h0m.3-2.7h0m-.2-2.9h0m.3-2.5h0m-.1-2.5h0m1.8 5.8h0m.1-2.7h0m-.2-2.5h0m1.8-2.6h0m.2 55.2h0m.2-2.4h0m-.1-3h0m-.2-3h0m.4-2.6h0m1.7 11h0m.2-2.5h0m-1.4-15.4h0m-.2-3h0m-.5-2.5h0m-.5-2.7h0m.7-14.8h0m-.3-2.4h0m0-2.9h0m.4-2.6h0m-.2-2.6h0m4.4 51.4h0m-.2-2.7h0m.2-2.6h0m.4-2.7h0m-.1-2.6h0m1.7 10.6h0m.1-2.4h0m.4-2.7h0m-1.9-13.2h0m-.6-2.9h0m-.2-2.5h0m.3-2.8h0m.3-15.6h0m-.3-2.8h0m0-2.8h0m.3-2.4h0m-.3-2.8h0m4.7 52.9h0m-.6-2.6h0m.5-2.9h0m-.2-2.4h0m-.1-2.8h0m3.7-3.7h0m-3.8-5.1h0m.8-2.7h0m.4-2.6h0m.3-2.8h0m-.9-13.8h0m-.1-2.5h0m-.4-2.5h0m.4-3h0m-.3-2.5h0m4.1 51.9h0m.1-2.8h0m-.3-2.9h0m.5-11.8h0m-.3-2.6h0m.1-2.6h0m-.8-2.9h0m.2-2.5h0m2.9 8.5h0m-2-11.4h0m-.4-2.9h0m.1-2.5h0m-.1-4.1h0m-.2-2.6h0m.2-2.4h0m-.3-2.8h0m.2-2.9h0m2.5 4.5h0m.1-2.7h0m-.6-3h0m2.4 52.4h0m0-2.9h0m.4-2.7h0m-.2-2.5h0m-.4-2.6h0m2.6 10.7h0m-.2-2.8h0m.2-2.5h0m-.5-2.5h0m.9-6.4h0m-2.5-3.4h0m-.4-2.6h0m.4-2.9h0m-.1-2.7h0m-.1-5.2h0m0-2.9h0m.3-2.4h0m-.8-5h0m0-2.5h0m.5-2.8h0m-.3-2.9h0m-.3-2.4h0m4.6 51.9h0m-.5-2.4h0m.1-2.6h0m0-2.9h0m.5 7.9h0m0-2.8h0m0-2.5h0m0-13.7h0m-.1-3h0m.1-2.6h0m0 4.2h0m-.1-10.6h0m-.3-2.4h0m-.2-3h0m.6-6.2h0m-.2-2.7h0m.2-2.7h0m-.4-2.5h0m.4-4.7h0"/>
<rect class="ax" x="997.00" y="687.10" width="716.00" height="512.70"/>
<text class="t" text-anchor="middle" transform="translate(996.5 1236.1) rotate(0.03) scale(1 1.03)">0</text>
<text class="t" text-anchor="middle" transform="translate(1201.1 1236.1) rotate(0.03) scale(1 1.03)">4000</text>
<text class="t" text-anchor="middle" transform="translate(1405.6 1236.1) rotate(0.03) scale(1 1.03)">8000</text>
<text class="t" text-anchor="middle" transform="translate(1610.2 1236.1) rotate(0.03) scale(1 1.03)">12000</text>
<text class="t" text-anchor="end" transform="translate(986.2 697.0) rotate(0.03) scale(1 1.03)">0.8</text>
<text class="t" text-anchor="end" transform="translate(986.2 825.1) rotate(0.03) scale(1 1.03)">0.4</text>
<text class="t" text-anchor="end" transform="translate(986.2 953.1) rotate(0.03) scale(1 1.03)">0</text>
<text class="t" text-anchor="end" transform="translate(986.2 1081.2) rotate(0.03) scale(1 1.03)">-0.4</text>
<text class="t" text-anchor="end" transform="translate(986.2 1209.2) rotate(0.03) scale(1 1.03)">-0.8</text>
<text class="s" text-anchor="middle" x="1354.5" y="1272.2">n</text>
<text class="s" text-anchor="middle" transform="translate(926.6 943.8) rotate(-90)">x(n)</text>
<text class="c" text-anchor="middle" x="1307.7" y="1333.8">(d)</text>
</svg>
</body>
</html>
